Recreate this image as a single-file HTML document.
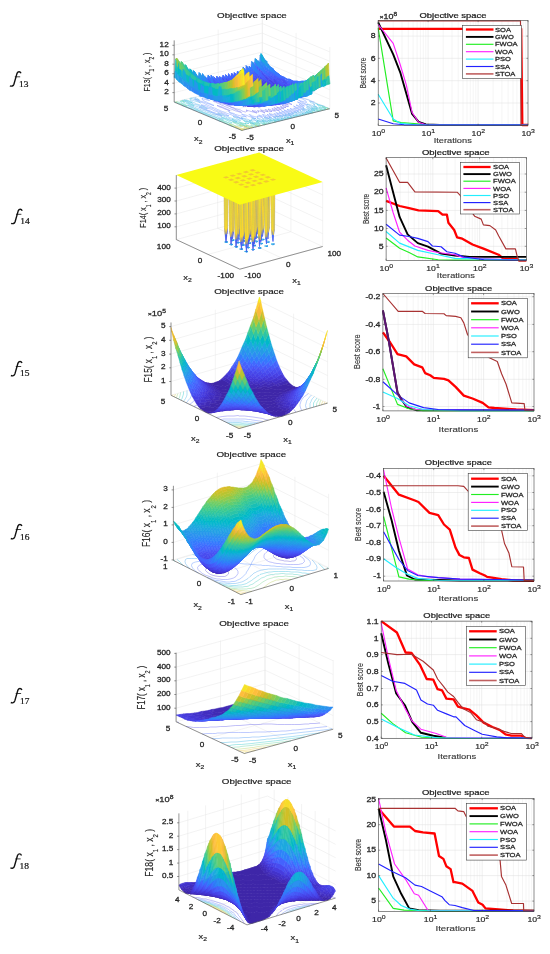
<!DOCTYPE html>
<html><head><meta charset="utf-8"><style>
html,body{margin:0;padding:0;background:#fff;width:550px;height:954px;overflow:hidden}
svg{display:block;filter:blur(0.3px)}
text{font-family:"Liberation Sans",sans-serif}
.serif{font-family:"Liberation Serif",serif}
.p0{fill:#3e26a8;stroke:#3e26a8}.p1{fill:#402ab4;stroke:#402ab4}.p2{fill:#422ec0;stroke:#422ec0}.p3{fill:#4332cb;stroke:#4332cb}.p4{fill:#4537d5;stroke:#4537d5}.p5{fill:#463cde;stroke:#463cde}.p6{fill:#4741e5;stroke:#4741e5}.p7{fill:#4747eb;stroke:#4747eb}.p8{fill:#484df0;stroke:#484df0}.p9{fill:#4852f4;stroke:#4852f4}.p10{fill:#4758f8;stroke:#4758f8}.p11{fill:#465efb;stroke:#465efb}.p12{fill:#4563fd;stroke:#4563fd}.p13{fill:#4269fe;stroke:#4269fe}.p14{fill:#3e70ff;stroke:#3e70ff}.p15{fill:#3876fe;stroke:#3876fe}.p16{fill:#327cfc;stroke:#327cfc}.p17{fill:#2f81fa;stroke:#2f81fa}.p18{fill:#2e87f8;stroke:#2e87f8}.p19{fill:#2d8cf3;stroke:#2d8cf3}.p20{fill:#2b91ef;stroke:#2b91ef}.p21{fill:#2797eb;stroke:#2797eb}.p22{fill:#259be7;stroke:#259be7}.p23{fill:#23a0e5;stroke:#23a0e5}.p24{fill:#20a5e3;stroke:#20a5e3}.p25{fill:#1ca9df;stroke:#1ca9df}.p26{fill:#18addb;stroke:#18addb}.p27{fill:#12b1d6;stroke:#12b1d6}.p28{fill:#08b5d0;stroke:#08b5d0}.p29{fill:#01b8ca;stroke:#01b8ca}.p30{fill:#02bac3;stroke:#02bac3}.p31{fill:#0bbdbd;stroke:#0bbdbd}.p32{fill:#19bfb6;stroke:#19bfb6}.p33{fill:#24c1ae;stroke:#24c1ae}.p34{fill:#2cc4a7;stroke:#2cc4a7}.p35{fill:#31c69f;stroke:#31c69f}.p36{fill:#37c897;stroke:#37c897}.p37{fill:#3fca8e;stroke:#3fca8e}.p38{fill:#4acb84;stroke:#4acb84}.p39{fill:#57cc7a;stroke:#57cc7a}.p40{fill:#64cd6f;stroke:#64cd6f}.p41{fill:#72cd64;stroke:#72cd64}.p42{fill:#81cc59;stroke:#81cc59}.p43{fill:#8fcb4e;stroke:#8fcb4e}.p44{fill:#9dc943;stroke:#9dc943}.p45{fill:#abc739;stroke:#abc739}.p46{fill:#b9c431;stroke:#b9c431}.p47{fill:#c5c22a;stroke:#c5c22a}.p48{fill:#d1bf27;stroke:#d1bf27}.p49{fill:#dcbd29;stroke:#dcbd29}.p50{fill:#e6bb2d;stroke:#e6bb2d}.p51{fill:#f0ba36;stroke:#f0ba36}.p52{fill:#f8ba3d;stroke:#f8ba3d}.p53{fill:#febe3c;stroke:#febe3c}.p54{fill:#fec338;stroke:#fec338}.p55{fill:#fec934;stroke:#fec934}.p56{fill:#fccf30;stroke:#fccf30}.p57{fill:#fad62d;stroke:#fad62d}.p58{fill:#f7dc2a;stroke:#f7dc2a}.p59{fill:#f5e327;stroke:#f5e327}.p60{fill:#f5e924;stroke:#f5e924}.p61{fill:#f6ef20;stroke:#f6ef20}.p62{fill:#f7f51b;stroke:#f7f51b}.p63{fill:#f9fb15;stroke:#f9fb15}
</style></head><body>
<svg width="550" height="954" viewBox="0 0 550 954">
<rect width="550" height="954" fill="#fff"/>
<g transform="translate(0 0)" fill="none" stroke="#111">
<path d="M21 73.3C20.2 71.3 18 71.1 17 73.4L13.9 84.2C13.3 86.1 11.6 86.6 9.9 85.8" stroke-width="1.4"/>
<path d="M14.8 76.8H20.2" stroke-width="0.8"/></g>
<text transform="translate(19 86.5) scale(1.1 1)" font-size="8.6" fill="#111" stroke="#111" stroke-width="0.2" class="serif" font-family="Liberation Serif">13</text>
<g transform="translate(1.2 137.5)" fill="none" stroke="#111">
<path d="M21 73.3C20.2 71.3 18 71.1 17 73.4L13.9 84.2C13.3 86.1 11.6 86.6 9.9 85.8" stroke-width="1.4"/>
<path d="M14.8 76.8H20.2" stroke-width="0.8"/></g>
<text transform="translate(20.2 224.3) scale(1.1 1)" font-size="8.6" fill="#111" stroke="#111" stroke-width="0.2" class="serif" font-family="Liberation Serif">14</text>
<g transform="translate(1 289.7)" fill="none" stroke="#111">
<path d="M21 73.3C20.2 71.3 18 71.1 17 73.4L13.9 84.2C13.3 86.1 11.6 86.6 9.9 85.8" stroke-width="1.4"/>
<path d="M14.8 76.8H20.2" stroke-width="0.8"/></g>
<text transform="translate(20 376) scale(1.1 1)" font-size="8.6" fill="#111" stroke="#111" stroke-width="0.2" class="serif" font-family="Liberation Serif">15</text>
<g transform="translate(0.9 452.7)" fill="none" stroke="#111">
<path d="M21 73.3C20.2 71.3 18 71.1 17 73.4L13.9 84.2C13.3 86.1 11.6 86.6 9.9 85.8" stroke-width="1.4"/>
<path d="M14.8 76.8H20.2" stroke-width="0.8"/></g>
<text transform="translate(19.9 539.5) scale(1.1 1)" font-size="8.6" fill="#111" stroke="#111" stroke-width="0.2" class="serif" font-family="Liberation Serif">16</text>
<g transform="translate(0.9 616.7)" fill="none" stroke="#111">
<path d="M21 73.3C20.2 71.3 18 71.1 17 73.4L13.9 84.2C13.3 86.1 11.6 86.6 9.9 85.8" stroke-width="1.4"/>
<path d="M14.8 76.8H20.2" stroke-width="0.8"/></g>
<text transform="translate(19.9 703.6) scale(1.1 1)" font-size="8.6" fill="#111" stroke="#111" stroke-width="0.2" class="serif" font-family="Liberation Serif">17</text>
<g transform="translate(0.5 782.1)" fill="none" stroke="#111">
<path d="M21 73.3C20.2 71.3 18 71.1 17 73.4L13.9 84.2C13.3 86.1 11.6 86.6 9.9 85.8" stroke-width="1.4"/>
<path d="M14.8 76.8H20.2" stroke-width="0.8"/></g>
<text transform="translate(19.5 869.3) scale(1.1 1)" font-size="8.6" fill="#111" stroke="#111" stroke-width="0.2" class="serif" font-family="Liberation Serif">18</text>
<g id="p13"><path d="M174.2 102.1L174.2 40.4" stroke="#e6e6e6" stroke-width="0.5" fill="none"/>
<path d="M218.2 91.3L218.2 29.6" stroke="#e6e6e6" stroke-width="0.5" fill="none"/>
<path d="M262.3 80.4L262.3 18.7" stroke="#e6e6e6" stroke-width="0.5" fill="none"/>
<path d="M174.2 92.6L262.3 71" stroke="#e6e6e6" stroke-width="0.5" fill="none"/>
<path d="M174.2 83.2L262.3 61.5" stroke="#e6e6e6" stroke-width="0.5" fill="none"/>
<path d="M174.2 73.7L262.3 52" stroke="#e6e6e6" stroke-width="0.5" fill="none"/>
<path d="M174.2 64.2L262.3 42.6" stroke="#e6e6e6" stroke-width="0.5" fill="none"/>
<path d="M174.2 54.8L262.3 33.1" stroke="#e6e6e6" stroke-width="0.5" fill="none"/>
<path d="M174.2 45.3L262.3 23.6" stroke="#e6e6e6" stroke-width="0.5" fill="none"/>
<path d="M329.8 108.7L329.8 47" stroke="#e6e6e6" stroke-width="0.5" fill="none"/>
<path d="M296.1 94.6L296.1 32.9" stroke="#e6e6e6" stroke-width="0.5" fill="none"/>
<path d="M262.3 80.4L262.3 18.7" stroke="#e6e6e6" stroke-width="0.5" fill="none"/>
<path d="M329.8 99.2L262.3 71" stroke="#e6e6e6" stroke-width="0.5" fill="none"/>
<path d="M329.8 89.8L262.3 61.5" stroke="#e6e6e6" stroke-width="0.5" fill="none"/>
<path d="M329.8 80.3L262.3 52" stroke="#e6e6e6" stroke-width="0.5" fill="none"/>
<path d="M329.8 70.8L262.3 42.6" stroke="#e6e6e6" stroke-width="0.5" fill="none"/>
<path d="M329.8 61.3L262.3 33.1" stroke="#e6e6e6" stroke-width="0.5" fill="none"/>
<path d="M329.8 51.9L262.3 23.6" stroke="#e6e6e6" stroke-width="0.5" fill="none"/>
<path d="M241.8 130.4L174.2 102.1" stroke="#e6e6e6" stroke-width="0.5" fill="none"/>
<path d="M285.8 119.5L218.2 91.3" stroke="#e6e6e6" stroke-width="0.5" fill="none"/>
<path d="M329.8 108.7L262.3 80.4" stroke="#e6e6e6" stroke-width="0.5" fill="none"/>
<path d="M241.8 130.4L329.8 108.7" stroke="#e6e6e6" stroke-width="0.5" fill="none"/>
<path d="M208 116.2L296.1 94.6" stroke="#e6e6e6" stroke-width="0.5" fill="none"/>
<path d="M174.2 102.1L262.3 80.4" stroke="#e6e6e6" stroke-width="0.5" fill="none"/>
<g transform="scale(.5)" fill="none" stroke-width="0.9" stroke-opacity="1.0"><path stroke="#7575f0" d="M559 222l-4-1-4-1-4-2-3-1 2 3 3 1 2 1-3 0-4-1-4-2-4-1 3 3 3 1 2 1-3 0-4-1-3-2-4-1 3 3 3 1-3 0-4-1-4-1-4-1 3 2 3 2 3 2-4-2-4-1-3-1-4-1 3 3-3 0-4-2-3 0-4-1 3 2 3 1 4 2-4-1-4-1-4-1-3-1-4-1-3-1 3 2-4 2-4-1-3-1-3-2-4-1-3-1-4-1-3-2-3 0-5-2 3 1 3 2 3 1 3 2 4 2 2 1 3 1 3 2-4-1-3-1-4-1-3-1-4-2-3-1-3-1-4-2-3-1-3-1-3-2-3-1-4-2-2-1-3-1-3-2-4-1 4 0 4 1 4 2 3 1 4 1 4 1 3 2 3 1 3 0-4-1-3-2-3-1-3-2-3-1-3-2-4-2 3-2 3 1 3 1-2-3-3-1-4-2-4-2 4 0 4 2 4 1 4 1-3-2-3-2-3-1 5 0 4 1-3-2-2-1-3-2 4 1 4 1 4 2-2-3-3-1-3-2 4 1 4 1 4 1-2-2-3-2-3-2 4 1 3 2 4 1 4 1-4-2-2-2-4-2 3 1 4 1 4 1 5 1-4-2-3-2-3-1 3 0 4 1 4 2 4 1-3-2-2-2-3-1-3-2 4 1 3 1 3 1 4 2-2-3-3-2 3 1 4 1 4 1 3 1-3-2-3-2 3 0 4 1 4 2 4 1-3-2-2-2-3-2 3 1 4 1 3 1 4 1-3-2 4 0 3 1 3 1 4 1-3-2-3-1-3-2 3 0 4 1 4 2 3 1 4 1 3 0-3-1 4-2 4 1 3 1 4 1 3 1 4 2 3 1 3 1 4 1 4 2-2-2-3-1-4-2-3-1-3-2-3-1-3-2-3-1 4 0 3 1 4 2 3 1 4 1 3 2 4 1 3 1 3 2 4 1 2 1 4 2 3 1 3 2 3 1 3 2 3 1-4-1-4-1-4-1-3-1-4-2-4-1-3-1-3-2-3 0 4 2 4 2 2 1 3 2 4 1 3 1 3 2-2 3-4-1-3-1 3 2 3 2 3 2 4 2-4-1-3-1-5-1-3-1 2 2 3 1 3 2-4-1-4-1 2 3 3 1 3 1-5 0-4-2-4-1 2 2 3 2 3 1-4 0-4-1-3-2 1 3 3 1 3 2-4-1-3-1-4-1-4-1 4 2 3 2 3 2-3-1-4-1-4-1-4-2 3 3 4 2 2 1 2 1M460 222l-3-1-4-2-3-1-3-1-3-2-4-1-3-1-3-2 3 0 3 2 4 1 3 1 3 2 3 1 3 1 4 2 0 1M584 192l-4-2-3 0-3-2-3-1-4-1-3-2-3-1-3-2 4 1 3 1 3 2 4 1 3 1 3 2 3 1 3 1 0 1"/><path stroke="#6e93ff" d="M629 204l-4-1-4-1-3-2-4-1-3-1-4-1-4-2-3-1-4-1-2-1-4-1 3 2 3 1 3 2 3 1 3 1 3 2 4 2 1 3-4-1-3-1-4-1-5-2 3 3 3 1 3 1 3 2 3 1 3 2-3 0-4-2-3-1-4-1-3-1-3-1 3 2 3 1 2 2 3 1 3 2-3-1-4-1-4-1 4 3 3 1 3 2-4-1-4-1-4-2-4-1 3 2 3 2 3 1 3 2 3 1 2 2-4-1-3-2-4-1-3-1-4-1-4-2 3 2 3 2 3 1 3 2 3 1-3 0-4-2-4-1-4-1 2 2 3 2 3 1 3 1-3 0-4-1-4-2-3-1-4-1 3 2 3 2 3 1 2 1 3 2-3-1-4-1-3-1-4-2-3-1-3 0 3 2 3 1 3 1 2 2 3 1-3 0-4-2-3-1-4-1-3-1-3-1 3 2 3 1 3 2 3 1 3 2 2 1-3-1-4-1-4-2-3-1-4-1-4-1 3 2 3 1 3 2 3 1 3 2 3 1-4-1-4-1-3-2-4-1-4-1-4-1 3 2 3 1 3 2 3 1 3 2-3-1-4-1-3-2-4-1-4-1-3-1 2 2 3 1 3 2 3 1 3 2-3-1-4-1-3-2-4-1-4-1 2 2 3 2 3 1 3 1-3 0-4-1-3-2-4-1-4-1-3-1 3 2 2 1 3 2 3 1 3 2-3-1-4-1-3-2-4-1-4-1 3 2 2 2 4 2-3-1-4-1-3-2-4-1-4-1 3 2 2 2 3 1 3 2 3 1-4-1-3-1-4-2-4-1-3-1-4-1 2 2 3 1 3 2-4-1-4-1-3-1 2 3-3-1-4-1-4-1-3-2-4-1 2 2 3 2 3 1 3 2 3 1-4 0-3-2-3-1-4-1-4-2-3-1-4-1-4-1 3 2 4 2 3 2-3-1-4 0-4-1-4-1-3-1-4-1-3-2-4-1-3-1-4-2 3 3 3 1 3 1 3 2 3 1 3 2 3 1 2 2 4 1 2 1-3-1-4-1-3-1-4-2-3-1-4-1-3-2-4-1-3-1-3-1-4-2-3-1-3-1-4-2-3-1-3-2-3-1-4-1-3-2-3-1-3-1-3-2-3-1-3-2-3-1-3-1-3-2-3-1-3-2-3-1 4 1 3 1 4 2 4 1 3 1 3 1 4 2 4 1 3 1 3 1 4 1-3-1-3-2-3-1-3-1-3-2-3-1-3-2-2-1-1-4 3 2 4 1 3 1 5 1-3-2-3-1-3-2-3-1-3-2-3-1-1-1M402 191l4 1 3 2 4 1 3 1 3 1-2-2-3-2-3-1-3-2-1 0M408 190l4 1 4 1-2-2-2-1M414 188l3 1 4 2 3 0-3-2-3-1-1-1M421 186l3 2 4 1-3-2-2-1M427 185l3 1-1-2M432 184l4 1-2-2M439 182l3 1-2-1M445 180l3 1-2-1M451 179l3 1-2-1M457 178l0-1M462 176l1 0M468 175l2-1M474 173l4 1-2-1M480 172l4 1-3-2M485 171l3 1 3 1-2-3-1 0M491 169l3 1 4 2 3 1-2-2-3-2-2-1M496 168l4 1 4 1-3-3-1 0M501 167l4 1 3 1 4 1 4 2 3 1-2-2-3-2-3-1-3-2-2-1M508 165l3 1 4 2 3 1 4 1 3 1 4 2 4 1-3-2-3-2-4-2 3 0 4 1 4 0 4 2 4 1 3 1 3 1 4 2 4 1 3 1-3-2-3-1-3-2-3-1-3-2-3-1-2-2-3-1-3-1-3-2-2 0M458 232l-4-1-4-1-3-1-3-2-4-1-3-1-3-2-4-1-3-1-3-2-3-1-4-1-3-2-3-1-3-1-3-2-3-1 3 0 4 1 4 1 3 2 3 1 4 1 3 1 3 2 3 1 4 2 3 1 3 1 3 2 3 1 3 1 3 2 3 1 1 1M444 232l-3-1-3-1-4-1-3-1-3-2-4-1-3-1-3-2-3-1-3-1-4-2-3-1-3-2-4-1 3 0 4 1 3 2 3 1 4 2 3 1 3 1 4 2 3 1 3 1 3 2 3 1 3 1 4 2"/><path stroke="#5cb4ed" d="M554 243l-4-1-3-1-4-1-4-2-3-1-4-1-4-1 4 2 2 1 3 2 3 1 3 1-3 0-4-1-4-2-3-1-4-1 3 2 2 2 3 1 3 1-4-1-3-1-4-1-4-2-3-1-4-1 3 2 3 2 3 1 3 2 3 1-4-1-4-1-3-1-4-1-3-2-4-1-4-1 3 2 3 1 2 2 3 1 3 2-3-1-4-2-4-1-4-1 2 2-4 0-3-2-4-1-3-1-4-1-4-1 4 2 2 1 3 1 3 2 3 1 3 2 3 1 3 2 3 1-4-1-3-2-3-1-4-1-4-1-3-2-4-1-3-1-3-2-4-1-4-1-4-1 3 1 2 2 3 1 3 2 4 2-4-1-3 0-3-1-3-1-3-1-3-1-4-1-3-2-4-1-3-1-3-2-4-1-3-1-3-1 2 2 4 1 2 1 4 2 3 1 2 2 3 1 4 1 3 2 3 1 3 2 3 1 3 1-4 0-3-1-4-2-3-1-3-1-4-2-3-1-4-1-3-2-4-1-3-1-3-2-4-1-3-1-3-2-3-1-4-1-3-2-3-1-3-1-4-2-3-1-3-2-3-1-3-1-3-2-3-1-3-1-3-2-3-1-3-2-4-1-3-1 0-1M559 242l-3-1-3-2-4-1-4-1-3-1-4-2 3 3 3 1 3 1 2 2 3 1 2 1M565 241l-3-2-4-1-3-1-4-1-4-2 3 3 3 1 2 1 3 2 2 1M571 239l-4-1-3-1-4-2-3-1-3-1-3 0 3 1 2 2 3 1 3 1 3 2 1 0M577 238l-4-1-3-2-4-1-3-1-4-2 2 3 3 1 3 2 3 1 2 1M583 236l-4-1-4-1-3-1-4-2-3-1 2 2 3 2 3 1 3 1 2 1M588 235l-3-1-4-2-3-1-4-1-4-1 3 2 3 1 3 2 3 1 2 1M594 233l-3-1-4-1-3-1-4-2-4-1 3 2 3 2 3 1 3 2 2 1M600 232l-3-1-4-2-3-1-3-1-4-1 3 2 3 2 3 1 3 2 1 0M606 231l-3-2-4-1-3-1-4-2-4-1 3 2 3 2 3 1 3 2 2 1M612 229l-3-1-4-1-4-2-3-1-4-1 3 2 3 1 3 2 3 1 2 1M618 228l-3-2-4-1-4-1-3-1-4-2 2 3 3 1 3 1 3 2 2 1M624 226l-3-1-4-1-4-2-3-1-4-1-3-1 2 2 3 1 3 2 3 1 3 1 2 1M651 214l-3-2-4-1-4-1-3-1-4-2-3-1-4-1-3-2-4-1 2 3 3 1 3 1 3 2-3 0 3 3 2 1 3 2-3-2-4-1-3-1-3-1-4-1-4-1 3 2 3 1 3 2 3 1 3 2 3 1 3 1-4 0-3-1-4-2-3-1-4-1-4-1 3 2 3 1 3 2 3 1 3 2 2 1-3-1-4-2-3-1-4-1-3-1 3 2 3 2 3 1 3 2-3 0-3-2-4-1-4-1-3-1-3-1 2 1 3 2 3 1 3 2 3 1 3 2 3 1M442 243l1 1M364 211l3 1 3 1 4 2 3 1 4 1 3 1 3 2 4 1 3 1 3 2 4 1 3 1 3 2 3 1 4 2 3 1 3 1 3 2 3 1 3 1 3 2 3 1 3 2 3 1M362 210l1 0M367 200l3 1 4 1 3 2 3 1 4 1 3 2 4 1 3 1 4 1 3 2 4 1 3 1 4 2 3 0-3-1-3-2-3-1-3-1-3-2-3-1-4-1-3-2-3-1-3-2-2-1-2-3 4 1 2 1 4 1 3 1 4 1 4 2-3-2-3-2-3-1-3-2-3-1-3-2-1 0M385 195l4 1 3 2 4 1 3 1-3-2-3-2-3-1-1-1M397 192l4 2-2-2M503 166l1 0M509 165l4 1-2-2M519 162l4 1 3 2 4 1 4 1-3-2-3-1-3-2-2-1M447 240l-4-2-4-1-3-1-4-1-3-2-3-1-4-1-3-2-3-1-3-1-4-2-3-1-3-2-3-1-4-1-3-2-3-1-3-1-3-2-3-1-3-2-3-1 4 0 3 2 4 1 3 1 4 2 3 1 3 1 4 2 3 1 3 1 3 2 4 1 3 1 3 2 3 1 3 1 4 2 3 1 3 2 3 1 3 1 3 3"/><path stroke="#40cad7" d="M518 252l-3-1-4-1-3-2-4-1-3-1-4-2-3-1-4-1-3-1 2 2 3 1 3 2 3 1-4 0-4-1 2 2-3-1-4-1-3-1-4-2-3-1-4-1-3-1-4-2 3 2 3 2 3 1 3 2 3 1 3 1 3 2 3 1 3 2 3 1-3 0-4-2-3-1-3-1-4-2-3-1-4-1-3-2-3-1-3-1-4-1-3-1-4-2-3-1-4-1 3 2 3 1 3 2 3 1 3 2 3 1 3 2-5 0-3-1-4-2-3-1-4-1-3-2-3-1-4-1-3-2-3-1-4-1-3-2-3-1-3-1-4-2-3-1-3-1-3-2-4-1-3-2-3-1-3-1-3-2-4-1-3-1-3-2-3-1-3-2-3-1-3-1-3-2-2-2 4 0 3 2 4 1 3 1 4 1 3 2 4 1 3 1-3-2-3-1-3-2-3-1-3-1-2-2-4-1-3-2M530 249l-4-1-3-1-4-1-4-2-3 0 3 1 3 2 2 1-3 0-4-2-3-1-4-1-3-2-5-1 4 2 2 2 3 1 3 2 3 1 3 2 3 1M535 248l-3-1-4-2-3-1-4-1-4-1-3-1 3 1 3 2 3 1 3 2 3 1 2 1M541 247l-3-2-4-1-3-1-4-2-3-1 2 2 4 2 3 1 3 2 2 0M547 245l-4-1-3-1-4-2 3 3 2 1 2 1M552 244l-3-2-4-1-3-1-3-1 3 2 2 1 3 2 2 1M558 242l-3-1-4-1-4-1 4 2 3 1 2 1M564 241l-3-1-3-1-4-1 4 2 3 1 1 1M570 239l-4-1-4-1 3 2 2 1M576 238l-4-1-3-2 2 3 2 1M581 237l-3-2-4-1 3 2 2 1M587 235l-3-1-4-1 3 2 2 1M593 234l-3-2-4-1 3 2 2 1M599 232l-4-1-4-1 3 1 3 2M605 231l-3-1-3-1 3 2 1 0M611 229l-3-1-4-1 3 2 2 1M617 228l-4-1-3-2 2 3 2 1M623 226l-4-1-3-1-4-1 3 2 3 1 2 1M629 225l-3-1-3-1-4-1-3-2 2 2 3 1 3 2 2 1M635 223l-4-1-3-1-3-1-3-1 3 2 3 1 3 2 1 0M641 222l-4-1-3-2-4-1-3-1-4-1 2 1 3 2 3 1 3 2 3 1M648 220l-4-1-3-1-3-1-3-1-4-2-4-1 3 2 3 2 3 1 3 2 3 1 1 0M659 218l-3-2-4-1-3-1-4-2-3-1-4-1-4-1-2-2 2 2 3 2 3 1 3 2 3 1 3 1 3 2-3-1-4-1-4-1-4-1 3 2 3 1 3 2 3 1M349 204l4 1 3 2 4 1 3 1 3 2 4 1 3 1 4 2 3 1 3 1 4 2 3 1 3 1 4 1 3 2 3 1 4 2 3 1 3 1 3 2 3 1 3 1 3 2 4 1 3 2 3 1 3 1 3 2 3 1 3 2 3 1 3 1 3 2 3 1 3 2 3 1 2 1M368 199l3 2 4 1 4 1 3 2 3 1-3-2-3-2-3-1-3-1-2-1M379 197l4 0-2-1"/><path stroke="#69d6b1" d="M500 257l-3-2-4-1-3-1-3-2-4-1-3-1-4-2-3-1-4-1-4-1 3 2 3 1 3 2 3 1 3 2 3 1-3-1-3 0-4 0-4-1-3-2-4-1-3-1-4-2-3-1-4-1-3-2-3-1-4-1 4 2 3 2 3 1 3 2 3 1 3 2 3 1 3 1 4 2 3 1 3 2 3 1 3 1 3 2 2 1M507 255l-3-1-4-2-3-1-4-1-3-2-4-1-4-1-3-1 3 2 3 1 3 2 3 1 3 1 3 2 3 1 2 1M512 254l-4-1-4-2-3-1 2 2 3 2 2 1M517 252l-3-1-4-1-3-1-4-2-3-1 2 2 3 2 3 1 3 1 2 1M524 251l-4-1-3-2-4-1-4-1 2 1 3 2 3 1 3 2M529 250l-4-2 2 2M534 248l-3-1-4-1 3 2 2 1M540 247l-3-2 1 2M546 245l-1 1M551 244l-3-1 3 1M622 227l-1 0M628 225l-4-1 3 1M640 222l-4-1-3-1 3 2 2 1M646 221l-3-2-4-1 3 2 2 1M652 219l-4-1 2 2M658 218l-3-2-4-1-3-1-4-1 3 2 3 1 3 2 2 1M350 204l4 1 3 1 4 2 3 1 3 1 3 1 4 1-3-1-3-2-3-1-3-1-3-2-3-1-2-1M361 201l4 1 4 2-4-2-2-1"/><path stroke="#b6d672" d="M494 258l-4-1-3-1 3 3-5-2-3-1-3-1-3-1-4-1-3-2-3-1-4-1-3-2 2 3 3 1 3 2 3 1 3 1 4 2 3 1 3 2 2 0M500 257l-4-2-3-1-3-1-3-1-4-1-4-1 4 2 3 1 2 2 3 1 3 1 1 1M506 255l-3-1-4-1-4-2-3-1 3 2 3 2 3 1 2 1M517 253l-4-2-3-1 2 2 2 1M522 251l-3-1 2 1M657 218l-3-1 2 1M351 204l3 0-1-1"/><path stroke="#f3cb68" d="M489 259l-4-1-3-1-4-1-3-2-5-1 3 2 3 1 3 2 3 1 3 1M499 257l-4-1-3-2-4-1 3 2 3 1 3 2M505 255l-3-1 2 2"/><path stroke="#f9e55f" d="M488 260l-3-2-4 0 4 2 1 0"/></g>
<g transform="scale(.5)" stroke-width="1.0"><path class="p4" d="M517 174l2-4-3-3-2 4zM514 171l2-4-4-2-1 4zM500 172l1-3-3-3-2 4zM511 169l1-4-3-3-1 5zM491 173l1-6-3-4-1 6z"/><path class="p5" d="M544 170l1-1-3-2-1 1zM528 170l1-1 2 0-4-4-1 1-2 1zM519 170l1-4-3-4-1 5zM509 171l1-4-3-2-2 4zM504 169l1 0 2-4-4-3-1 5-1 0zM495 169l1 1 2-4-3-4-2 5-1-2zM508 167l1-5-3-4-2 5zM482 170l1-6-3-4-1 7zM486 170l2-1 1-6-3-4-2 7-1 1zM477 169l2-2-4-2-1 2zM468 169l2-4-3-3-2 4z"/><path class="p6" d="M560 168l2-4-3-2-2 4zM545 169l2-5-3-3-2 6zM535 168l2-4-4-2-1 5zM541 168l1-1 2-6-4-2-1 7-1 1zM526 169l2 1-4-3-1 0zM531 169l1-2 1-5-3-2-1 4-2 1zM538 167l1-1 1-7-3-3-1 7-2 1zM523 167l1 0 2-1 1-1 2-1-4-3-1 1-1 0-2 2-1 0zM534 164l2-1-4-3-1 1zM513 169l1 2-3-2-1-3zM516 167l1-5-3-3-2 6zM501 169l1-2 2 2-3-2-2-3-1 2zM510 166l1 3-3-2-2-3zM512 165l2-6-4-3-1 6zM501 167l1 0 1-5-3-4-1 6-2-1zM493 167l2-5-4-4-1 6zM504 163l2-5-3-3-2 6zM473 168l1-6-3-4-1 7zM479 167l1-7-3-3-2 8zM483 167l1-1 2-7-4-3-1 8-1 1zM490 164l1-6-3-3-1 7zM474 167l1-2-3-4-1 3zM480 165l1-1 1-8-3-5-1 10-2 0zM459 168l2-6-3-5-2 7zM465 166l2-4-4-5-1 5z"/><path class="p7" d="M556 166l1 0 2-4-4-3-1 4-1 0zM520 166l2-1-4-4-1 1zM529 164l1-4-3-3-2 4zM536 163l1-7-3-3-2 7zM510 167l1-2 2 4-3-3-2-3-1 2zM520 164l1 0 2-2-4-2-1 2-1 0zM531 161l1-1 2-7-3-3-2 8-1 1zM507 165l1-2-3-4-2 3zM517 162l1 0 1-2-3-4-1 3-2 1zM528 159l1-1-3-2-1 1zM492 167l2-2 1 4-3-4-2-4-1 2zM498 166l1-2 2 3-4-4-1-3-1 2zM506 164l2 3-4-4-1-3zM509 162l1-6-3-5-1 7zM492 165l1 2-3-3-1-2zM497 163l2 1 1-6-3-4-1 7-2-1zM489 162l1 2-3-2-2-2zM496 161l1-7-3-3-2 8zM501 161l2-6-4-3-1 7zM470 165l1-7-3-4-1 8zM475 165l2-8-3-5-2 9zM487 162l1-7-3-4-2 7zM498 159l1-7-3-4-1 7zM471 164l1-3-3-4-1 3zM476 161l2 0 1-10-3-5-1 11-2 0zM451 165l1-8-2-2-2 9zM456 164l2-7-3-1-1 7zM462 162l1-5-2-1-1 5z"/><path class="p8" d="M547 164l1-6-3-2-1 5zM553 163l1 0 1-4-3-2-1 4-2 0zM537 164l1-2-3-2-2 2zM539 164l2 4-3-1-2-5zM549 161l2 0 1-4-3-1-2 3-1 0zM533 162l2-2-4-3-1 3zM536 162l2 5-4-3-1-5zM546 159l1 0 2-3-3-3-2 2-1 1zM522 165l1 2-3-3-2-3zM517 162l1-1-3-2-1 0zM523 162l1 0 1-1 2-4-3-2-2 4-1 0-2 1zM508 163l2 3-4-2-1-5zM519 160l2-1 1 0 2-4-4-3-1 5-1-1-2 0zM529 158l2-8-4-3-1 9zM503 162l2-3-3-4-2 3zM513 160l2-1 1-3-3-4-2 3-1 1zM525 157l1-1 1-9-3-5-1 10-2 1zM483 164l2 1 1 5-3-3-2-6-1-1zM489 163l1-2-3-4-1 2zM495 162l1-2-3-5-2 3zM503 160l1 3-3-2-1-5zM476 164l1 5-3-2-1-6zM494 160l2 1-4-2-1-2zM464 166l2-6-4-5-1 7zM467 164l1 5-3-3-1-7zM485 160l2 2-4-4-1-2zM492 159l2-8-4-4-1 9zM467 162l1-8-3-6-2 9zM472 161l2-9-4-5-1 10zM483 158l2-7-3-5-2 9zM495 155l1-7-3-4-2 8zM468 160l1-3-2-2-2 4z"/><path class="p9" d="M571 162l1 2-3 0-2-3zM562 164l1-7-3-2-1 7zM567 161l2 3-3-2-2-3zM554 163l2 3-3-3-2-3zM559 162l1-7-3-2-2 6zM555 159l2-6-4-2-1 6zM538 162l1 2-3-2-1-2zM544 161l1-5-3-2-2 5zM535 160l1 2-3-3-2-2zM540 159l2-5-3-3-2 5zM530 160l1-3-3-4-1 4zM533 159l1 5-3-3-1-5zM543 156l1-1 2-2-4-3-1 2-1 0zM518 161l2 3-3-2-2-3zM514 159l1 0 2 3-4-2-1-4-2 0zM505 159l1 5-3-4-1-5zM516 156l2 0 1 1 1-5-3-3-1 4-2-1-1 0zM490 161l2 4-3-3-2-5zM496 160l1 3-3-3-1-5zM500 158l2-3-4-4-1 3zM506 158l1-7-3-4-1 8zM510 156l1-1 2-3-3-4-2 4-1 2zM521 153l2-1 1-10-3-3-1 10-2 1zM474 162l2 2-3-3-2-3zM481 161l2 6-3-2-2-8zM491 158l2-3-4-3-1 3zM500 156l1 5-3-2-1-6zM473 161l1 6-3-3-2-8zM491 157l1 2-3-3-1-3zM458 162l1 6-3-4-1-6zM461 162l1-7-3-5-1 7zM482 156l1 2-3-3-1-3zM489 156l1-9-3-5-1 10zM469 157l1-10-2-2-1 10zM473 157l2 0 1-11-2-2-2 11-1 1zM480 155l2-9-3-2-1 9zM491 152l2-8-2-2-2 9z"/><path class="p10" d="M552 161l1-1-3-3-2 1zM564 159l2 3-4-3-1-3zM551 160l2 3-4-2-1-3zM561 156l1 3-3-1-1-4zM548 158l1 3-3-2-1-2zM552 157l1-6-3-2-1 7zM545 157l1 2-3-3-2-2zM549 156l1-7-3-2-1 6zM537 156l2-5-4-4-1 6zM541 154l2 2-3-4-2-1zM527 157l1-4-3-3-1 5zM530 156l1 5-3-2-2-6zM524 155l1-5-3-3-2 5zM510 156l2 0 1 4-3-4-1-4-2-1zM516 153l1-4-3-4-2 6zM480 160l1 1-3-4-1 0zM486 159l1-2 2 5-4-2-1-6-2 2zM493 155l1 5-3-3-2-5zM503 155l1-8-3-4-2 9zM507 154l1-2 2-4-4-4-1 6-1 2zM512 151l2-6-3-2-2 5zM518 150l2-1 1-10-3-4-2 12-1 1zM478 157l2 8-4-4-1-8zM488 155l1-3-3-5-1 4zM497 153l1 6-3-4-2-6zM499 152l2-9-3-4-2 9zM504 152l1-2-3-4-2 2zM515 148l1-1-3-3-1 1zM455 162l2-6-4-5-1 6zM464 159l1 7-3-4-2-7zM488 153l1 3-3-4-2-3zM449 161l2 4-3-1-1-5zM463 157l2-9-2-2-2 10zM479 152l1 3-2-2-1-2zM486 152l1-10-2-1-1 10z"/><path class="p11" d="M553 160l1 3-3-3-1-3zM548 158l2-1 1 3-3-2-2-3-1 1zM545 156l1-1 2 3-3-1-2-3-1 0zM558 154l1 4-3-2-2-4zM554 152l2 4-3-2-2-5zM531 157l2 2-3-3-2-3zM546 153l1-6-3-3-2 6zM534 153l1-6-3-3-1 6zM538 151l2 1 1 0 1-2-3-3-1 2-2 1-1 0zM526 153l2 6-3-2-2-7zM536 150l2-1 1-2-3-2-2 1-1 1zM520 152l2-5-3-4-2 6zM502 155l1 5-3-4-2-5zM509 152l1 4-3-2-2-5zM513 152l1 0 2 1-4-2-1-3-1 0zM497 154l1-3-3-4-1 4zM466 160l1 4-3-5-2-4zM471 158l2 3-4-5-1-2zM477 157l1 0-3-4-1-1zM482 156l2-2 1 6-3-4-1-7-2 2zM494 151l1-4-3-5-2 5zM505 150l1-6-3-5-1 7zM509 148l2-5-4-4-1 6zM516 147l2-12-4-4-1 13zM469 156l2 8-3-4-2-9zM493 149l2 6-4-3-1-7zM500 148l2-2-3-4-2 3zM512 145l1-1-3-4-2 1zM455 158l1 6-2-1-1-7zM458 157l1-7-2-3-2 9zM484 149l2 3-2-1-2-3z"/><path class="p12" d="M563 157l2-4-4-2-1 4zM560 155l1-4-3-3-1 5zM542 154l1 0 2 3-4-3-1-3-1 0zM540 151l1 3-3-3-1-3zM551 149l2 5-4-3-1-5zM528 153l2 3-4-3-1-3zM542 150l2-6-3-2-2 5zM525 150l1 3-3-3-1-3zM531 150l1-6-3-3-2 6zM535 150l1 0-3-3-1 0zM539 147l2-5-4-2-1 5zM523 150l2 7-4-4-1-8zM532 147l1 0 1-1 2-1-3-4-2 0-1 2-2 1zM507 151l2 1-4-3-1-2zM517 149l2-6-4-4-1 6zM498 151l2 5-3-3-2-6zM505 149l2 5-3-2-2-6zM510 148l1 0 1 3-3-3-1-3-2-1zM489 152l2 5-3-4-2-6zM457 156l1 6-3-4-2-7zM462 155l2 4-4-4-1-5zM468 154l1 2-3-5-1-3zM474 152l1 1 1 8-3-4-1-9-2-1zM479 151l2-2-4-5-1 2zM485 151l1-4-3-5-1 4zM496 148l2-9-4-6-1 11zM502 146l1-7-3-5-1 8zM506 145l1-6-3-4-1 6zM513 144l1-13-3-5-1 14zM452 157l1-6-2-2-1 6zM460 155l2 7-2-1-2-8zM497 145l2-3-3-2-1 3z"/><path class="p13" d="M569 156l2 6-4-1-1-6zM566 155l1 6-3-2-1-6zM563 153l1 6-3-3-1-6zM557 153l1-5-3-2-2 5zM553 151l2-5-3-2-2 5zM550 149l2-5-4-3-1 6zM539 151l1 0-3-3-2-1zM537 148l1 3-3-1-2-4zM548 146l1 5-3-2-1-5zM545 144l1 5-3-2-2-6zM522 147l1 3-3-5-1-2zM527 147l2-6-3-5-2 6zM536 145l1-5-3-3-1 4zM520 145l1 8-3-3-1-8zM528 144l2-1 1-2-3-4-1 2-2 2zM504 147l1 2-3-3-1-3zM514 145l1-6-3-4-1 8zM495 147l2 6-4-4-1-7zM502 146l2 6-4-4-1-7zM506 144l2 1 1 3-3-3-1-4-2-2zM481 149l1 7-3-4-2-8zM486 147l2 6-4-4-1-7zM490 147l2-5-3-5-2 5zM466 151l2 9-3-1-1-10zM490 145l1 7-2-1-1-8zM493 144l1-11-2-2-1 11zM503 141l1-6-2-1-1 6zM508 141l2-1 1-14-2-2-1 15-2 0z"/><path class="p14" d="M565 153l1 2-3-2-2-2zM561 151l2 2-3-3-2-2zM560 150l1 6-3-2-2-6zM556 148l2 6-4-2-1-7zM547 147l1-6-3-3-1 6zM535 147l2 1-4-2-1-2zM544 144l1-6-3-3-1 7zM533 146l2 4-3-3-2-4zM530 143l2 4-4-3-1-4zM541 141l2 6-3-4-2-6zM524 142l2-6-4-3-1 6zM531 141l2 0 1-4-3-3-2 4-1-1zM525 141l2-2-4-3-1 3zM511 143l1-8-3-5-2 9zM522 139l1-3-3-5-1 5zM505 141l1 4-3-4-2-5zM448 153l1 8-2-2-1-9zM453 151l2 7-2-2-2-7zM459 150l1 5-2-2-1-6zM465 148l1 3-2-2-1-3zM470 147l2 1 1 9-2-1-1-10-2-1zM476 146l1-2-2-2-1 2zM482 146l1-4-2-2-2 4zM499 142l1-8-2-2-2 8z"/><path class="p15" d="M558 148l2 2-4-2-1-2zM555 146l1 2-3-3-1-1zM553 145l1 7-3-3-1-7zM532 144l1 2-3-3-1-2zM541 142l1-7-3-3-2 8zM537 140l2-8-4-4-1 9zM519 143l1 2-3-3-2-3zM527 140l1 4-3-3-1-4zM538 137l2 6-4-2-1-7zM517 142l1 8-3-2-2-10zM527 139l1-2 1 1 2-4-3-2-2 3-1-1-2 2zM501 143l1 3-3-5-1-2zM492 142l1 7-3-4-1-8zM499 141l1 7-3-3-1-8zM503 139l2 2-4-5-1-2zM507 139l2-9-3-5-2 10zM519 136l1-5-3-4-2 5zM477 144l2 8-2-1-2-9zM483 142l1 7-2-1-1-8zM487 142l2-5-3-3-1 7z"/><path class="p16" d="M552 144l1 1-3-3-2-1zM548 141l2 1 1 7-3-3-1-8-2 0zM529 141l1 2-3-3-1-4zM534 137l1-9-3-3-1 9zM515 139l2 3-4-4-1-3zM521 139l1-6-3-4-1 6zM524 137l1 4-3-2-2-5zM535 134l1 7-3-2-1-8zM513 138l2 10-3-3-2-11zM523 136l2-2-4-5-1 2zM526 135l2-3-4-4-1 4zM498 139l1 2-3-4-2-4zM496 137l1 8-2-2-1-8zM501 136l2 5-2-1-2-6zM504 135l2-10-3-2-1 11z"/><path class="p17" d="M547 138l1 8-3-2-2-9zM526 136l1 4-3-3-2-4zM531 134l1-9-3-3-1 10zM512 135l1 3-3-4-1-4zM518 135l1-6-3-5-2 7zM520 134l2 5-3-3-2-5zM525 134l1 1-3-3-2-3zM528 132l1-10-3-4-2 10zM532 131l1 8-3-4-1-8zM510 134l2 11-4-4-1-12zM520 131l1-2-3-5-1 3zM523 132l1-4-3-3-1 2zM489 137l1 8-2-2-2-9zM500 134l1 2-2-2-1-2zM515 132l2-5-2-2-2 6z"/><path class="p18" d="M545 138l2 0-4-3-1 0zM542 135l1 0 2 9-4-3-1-9-1 0zM514 131l2-7-3-5-2 7zM517 131l2 5-4-4-1-5zM521 129l2 3-3-5-2-3zM524 128l2-10-4-5-1 12zM529 127l1 8-3-3-2-9zM494 133l2 4-2-2-2-4zM520 127l1-2-2-1-2 2z"/><path class="p19" d="M539 132l1 0 1 9-3-4-1-9-2 0zM522 133l2 4-4-3-1-5zM509 130l1 4-3-5-1-4zM507 129l1 12-2-2-1-12zM514 127l1 5-2-1-1-6zM517 127l1-3-2-3-1 4zM521 125l1-12-2-2-1 13z"/><path class="p20" d="M535 128l2 0 1 9-3-3-1-11-2 2zM519 129l1 5-3-3-1-7zM511 126l2-7-3-2-1 7zM518 124l2 3-3-1-1-5zM525 123l2 9-2-1-2-10z"/><path class="p21" d="M532 125l2-2-4-3-1 2zM516 124l1 7-3-4-1-8zM506 125l1 4-2-2-2-4z"/><path class="p22" d="M534 123l1 11-3-3-2-11zM529 122l1-2-3-5-1 3z"/><path class="p23" d="M530 120l2 11-3-4-2-12zM513 119l1 8-2-2-2-8z"/><path class="p24" d="M526 118l1-3-3-5-2 3z"/><path class="p25" d="M527 115l2 12-4-4-1-13zM522 113l2-3-2-3-2 4z"/><path class="p27" d="M524 110l1 13-2-2-1-14z"/><path class="p1" d="M519 186l2-1 1 0-3-3-2 0-1 1zM509 187l1-1 2-2-4-2-1 2-1 1zM500 187l1-1-3-2-1 1zM506 185l1-1-3-1-2 0zM491 187l1-1 2-2-3-4-2 3-1 1zM497 185l1-1-3-3-2 1z"/><path class="p2" d="M535 184l2 1 1-2-3-1-1 2-2-1zM527 186l1-2 1-2-3-2-1 2-2 2zM532 183l2 1 1-2-3-2-2 2-1-1zM518 186l1 0-3-3-2 0zM522 185l1-1 2-2-3-2-2 1-1 1zM529 181l1 1 2-2-3-3-2 2-1 0zM512 184l1-1-3-3-2 2zM514 183l2 0 1-1 2 0 1-1-3-2-2 0-1 1-1 1-2 0zM501 186l2-2 1 0 2 1-4-2-1-1-1 0-2 2zM507 184l1-2-3-2-1 3zM513 181l1-1-3-2-2 2zM494 184l1 0 2 1-4-3-1-1-1-1zM498 184l2-2-4-4-1 3zM502 183l2 0 1-3-3-3-2 3-1 0zM509 180l2-2-3-3-2 2zM482 186l2-2 1-2-3-4-2 3-1 2zM488 184l1-1 2-3-4-3-1 3-1 2zM493 182l2-1 1-3-3-3-1 3-2 2zM499 180l1 0 2-3-3-4-2 4-1 1zM479 183l1-2-3-2-1 2zM485 182l1-2-3-2-2 2zM476 181l1-2-3-3-2 3z"/><path class="p3" d="M553 183l2-4-4-2-1 4zM549 182l1-1 1-4-3-2-1 4-2 1zM538 183l2-3-4-1-1 3zM545 180l2-1-4-1-1 1zM529 182l2 0 1 1-3-2-1-1-2 0zM535 182l1-3-3-2-1 3zM542 179l1-1-3-2-1 1zM525 182l1-2 2 0 1 1-3-2-2-2-1 1-1 2zM532 180l1-3-3-3-1 3zM513 183l1 0-3-2-1-1zM520 181l2-1 1-2-3-3-2 3-1 1zM526 179l1 0 2-2-4-2-1 3-2-2zM508 182l2-2 1 1 2 0-4-1-1-1-1-1-2 2zM514 180l1-1 2 0 1-1 2-3-4-1-1 2-1 2-2-1-1 1zM524 178l1-3-3-2-1 3zM500 182l1 0 1 1-3-3-1-2-2 0zM505 180l2-2 1 1 1 1-3-3-1 0-2-2-1 2zM511 178l1-1 2 1 1-2 1-2-3-4-1 4-2 1-1-1-1 1zM521 176l1-3-3-3-2 4zM485 182l1 1 2 1-3-2-2-3-1-1zM491 180l1 1 1 1-3-2-1-3-2 0zM506 177l2-2-4-3-1 2zM478 182l1 1-3-2-2-2zM480 181l2-3-3-3-2 4zM486 180l1-3-3-3-1 4zM490 180l2-2 1-3-3-3-2 4-1 2zM496 178l1-1 2-4-4-3-1 5-1 1zM470 183l1-4-3-3-1 4zM481 180l2-2-4-3-1 3zM487 178l1-2-3-2-1 1zM493 176l1-1 1-5-3-3-1 6-2 0zM461 181l2-4-4-5-1 6zM467 180l1-4-3-4-1 5zM472 179l2-3-3-4-2 4zM478 178l1-3-3-4-1 3zM484 175l1-1-3-4-2 2z"/><path class="p4" d="M564 180l1-1-3-1-2 1zM560 179l2-1 1-4-3-2-2 4-1 1zM547 181l2 1-4-2-1-1zM557 177l1-1-3-2-1 1zM540 180l1-2-3-1-2 2zM544 179l1 1-3-1-1-1zM547 179l1-4-3-1-2 4zM536 179l2-2-3-2-2 2zM541 178l1 1-3-2-2-1zM543 178l2-4-3-2-2 4zM551 174l1-1-3-1-2 1zM533 177l2-2-4-3-1 2zM537 176l2 1 1-1 2-4-4-2-1 3-1 1-2 0zM523 178l1-1 2 2-4-3-1-1-1 0zM529 177l1-3-3-3-2 4zM536 174l1-1-3-3-2 1zM522 176l2 2-3-2-2-1zM525 175l2-4-4-2-1 4zM519 175l2 1-4-2-1-2zM522 173l1-4-3-3-1 4zM496 178l2 0 1 2-3-2-2-3-1 0zM502 177l1-2-3-4-1 2zM505 177l1 0-3-3-2 0zM508 175l1-1 1 1 2-1 1-4-3-3-1 4-2 1-1-2-2 2zM475 182l1-2-3-3-2 2zM483 179l2 3-4-2-1-3zM489 177l1 3-3-2-1-3zM501 174l2 0 1-2-3-3-1 3-2 0zM469 181l1 2-3-3-2-2zM471 179l2-2-3-4-2 3zM474 179l2 2-4-2-1-3zM477 179l2-4-4-3-1 4zM480 177l1 3-3-2-1-4zM483 178l1-4-3-3-2 4zM488 176l2-4-3-3-2 5zM460 180l1 1-3-3-1-2zM465 178l2 2-3-3-2-2zM479 175l2-4-3-5-2 5zM485 174l2-5-4-5-1 6zM489 173l2 0-3-4-2 1zM464 177l1-5-3-3-2 5zM469 176l2-4-4-3-1 4zM475 174l1-3-3-3-1 3z"/><path class="p5" d="M565 179l1-5-3 0-1 4zM555 179l1-4-3-2-2 4zM559 177l1 2-3-2-1-2zM544 180l2 0 1 1-3-2-1-1-2 0zM551 177l2-4-3-2-2 4zM558 176l2-4-3-2-2 4zM541 178l2 0 1 1-3-1-2-1-1 0zM554 175l1-1 2-4-4-1-1 4-1 1zM538 177l1 0 2 1-4-2-1-1-1 0zM545 174l1-4-3-1-1 3zM552 173l1-4-3-2-1 5zM535 175l1 0 1 1-3-2-1-2-2 0zM547 173l2-1 1-5-3-3-2 5-1 1zM530 174l1-2-3-2-1 1zM533 172l1 2 2 0-4-3-1 1-1-1zM537 173l1-3-3-2-1 2zM520 175l1 0 1 1-3-1-1-2-2 1zM531 172l1-1 2-1 1-2-3-1-1 2-2 0-1 1zM516 174l2-1 1 2-3-3-1-3-2 1zM503 175l2 2-4-3-1-3zM516 172l1 2-3-3-1-2zM476 180l2 2-4-3-1-2zM482 178l1 1-3-2-1-2zM487 177l2 0-3-2-2-1zM493 175l1 0 2 3-3-2-2-4-1 0zM499 173l1-2-3-2-2 1zM504 172l2-2-4-3-1 2zM507 172l2-1-4-2-1 0zM466 180l1-2 2 3-4-3-1-3-1 2zM473 177l1 2-3-3-1-3zM479 175l1 2-3-3-2-2zM484 174l2 1 1 3-3-3-2-3-1-1zM491 172l2 4-4-3-1-4zM498 172l2 0-4-2-1-1zM468 176l2-3-4-4-1 3zM471 176l1 3-3-3-1-3zM474 176l1-4-3-5-1 5zM477 174l1 4-3-4-2-4zM451 178l1 0 2-6-4-4-1 7-1 0zM457 176l1 2 1-6-3-3-1 6-2-2zM462 175l2 2-4-3-1-2zM476 171l2-5-4-4-1 6zM480 172l2-2-3-3-2 2zM455 175l1-6-3-3-2 7zM460 174l2-5-4-3-1 6zM466 173l1-4-3-3-1 5zM472 171l1-3-3-3-2 4zM457 172l1-6-3-4-1 7zM463 171l1-5-3-4-2 6z"/><path class="p6" d="M580 177l1-5-3-2-1 5zM577 175l1-5-3-1-2 5zM562 177l2 3-4-1-1-2zM572 174l1 0 2-5-3 0-2 5-1-1zM569 173l1 1 2-5-4-2-1 5-2-1zM556 175l1 2-3-2-2-2zM565 171l2 1 1-5-3-2-1 5-2-1zM548 175l2-4-4-1-1 4zM552 173l2 2-3-1-2-2zM564 170l1-5-3-1-2 4zM549 172l2 2-4-1-1-3zM542 172l1-3-3-3-2 4zM546 170l1 3-3-3-1-3zM531 172l2 0-3-1-2-1zM538 170l2-4-3-2-2 4zM527 171l1-1 2 1 1 1-3-2-2-1-1-1-2 1zM523 169l2-1-3-3-2 1zM513 170l2-1 1 3-3-3-2-4-1 2zM500 171l1 3-3-2-1-3zM506 170l1 2-3-3-2-2zM490 172l1 0-3-3-1 0zM495 170l2-1 1 3-3-3-1-4-2 2zM457 177l1-1-3-5-1 1zM463 177l1-2 1 3-3-3-1-5-2 2zM470 173l1 3-3-3-2-4zM475 172l2 2-4-4-1-3zM481 171l1 1 2 3-4-3-1-4-1-2zM488 169l1 4-3-3-1-5zM465 172l1-3-3-4-1 4zM468 173l1 3-3-3-1-4zM471 172l1-5-3-4-2 6zM473 170l2 4-3-3-2-4zM442 176l1-2-3-3-1 3zM448 175l1 0 1-7-3-3-1 8-2 0zM453 173l2 2-4-2-1-2zM459 172l1 2-3-2-1-3zM444 173l2 0 1-8-3-4-1 8-2 1zM451 173l2-7-3-5-2 8zM454 169l1-7-3-5-1 8z"/><path class="p7" d="M578 176l2 1-3-2-2 0zM575 175l2 0-4-1-1 0zM566 174l2-5-4-1-1 6zM556 175l1 0 2 2-3-2-2-2-1 0zM563 174l1-6-3-2-1 6zM553 173l1 0 2 2-4-2-1-3-1 1zM560 172l1-6-3-2-1 6zM550 171l1-1-3-1-2 1zM557 170l1-6-3-1-2 6zM562 169l2 1-4-2-1 0zM546 170l2-1 1 3-3-2-2-3-1 2zM553 169l2-6-3-2-2 6zM559 168l1 0-3-2-1 0zM543 169l1-2-3-3-1 2zM550 167l2-6-4-3-1 6zM543 167l1 3-3-2-2-4zM525 168l1 1-3-2-1-2zM458 176l2 4-3-4-2-5zM487 169l1 0-3-4-2-1zM459 172l2-2-3-4-2 3zM479 168l1 4-3-3-1-5zM443 174l2-7-3-3-2 7zM465 169l1 4-3-2-2-5zM467 169l2-6-3-3-2 6zM439 174l1-3-3-3-1 2zM450 171l1 2-3-4-1-2zM456 169l1 3-3-3-2-4zM441 170l2-1 1-8-3-5-2 10-1 0zM448 169l2-8-4-5-1 10z"/><path class="p8" d="M575 169l1-7-3 0-1 7zM567 169l2 4-4-2-1-4zM572 169l1-7-3-2-2 7zM568 167l2-7-4-2-1 7zM551 170l1 3-3-1-1-3zM544 167l2 3-3-3-2-3zM540 166l1-2-3-2-1 2zM449 173l2 5-3-3-2-6zM454 172l1-1 2 5-4-3-1-6-2 1zM461 170l1 5-3-3-1-6zM466 169l2 4-3-4-2-4zM472 167l1 3-3-3-1-4zM478 166l1 2-3-4-2-2zM456 169l2-3-4-3-1 3zM462 169l1-4-3-4-2 5zM470 167l2 4-4-2-1-5zM433 173l2-2-4-4-1 3zM440 171l2-7-4-5-1 9zM458 166l2-5-3-5-2 6zM461 166l2 5-4-3-1-6zM424 173l2-7-4-4-1 7zM436 170l1-2-3-5-2 3zM447 167l1 2-3-3-1-3zM452 165l2 4-3-4-2-4zM445 166l1-10-2-2-1 10z"/><path class="p9" d="M581 172l2-7-4-2-1 7zM587 169l1 3-3-2-1-3zM574 171l1 4-3-1-1-4zM578 170l1-7-3-1-1 7zM584 167l1 3-3-1-2-2zM568 169l1-2-3 0-2 1zM571 170l1 4-3-1-2-4zM580 167l2 2-3-1-2-2zM564 168l2-1-3-2-2 1zM577 166l2 2-4-2-1-2zM561 166l2-1-4-2-1 1zM564 167l1 4-3-2-1-4zM574 164l1 2-3-2-1-2zM561 165l1 4-3-1-1-4zM565 165l1-7-3-1-1 7zM558 164l1 4-3-2-2-3zM541 164l2 3-4-3-1-2zM448 171l1 2-3-4-1-2zM441 171l1 5-3-2-2-7zM450 168l2-1-3-3-2 1zM458 166l1 6-3-3-2-6zM463 165l2 4-4-3-1-5zM469 163l1 4-3-3-1-4zM435 171l1-6-3-5-2 7zM453 166l1-3-3-5-1 3zM430 170l1-3-3-4-1 3zM437 168l1-9-3-5-1 9zM421 169l1-7-2-2-1 8zM432 166l2-3-2-1-2 3zM438 166l1 0 2-10-2-3-2 11-1 0zM444 163l1 3-2-2-2-2z"/><path class="p10" d="M590 170l2 3-4-1-1-3zM571 170l1-2 2 3-3-1-2-3-1 2zM569 167l2 3-4-1-1-2zM566 167l1 2-3-2-1-2zM563 165l1 2-3-2-2-2zM558 164l1-1 2 2-3-1-2-2-1 1zM555 163l1-1 2 2-4-1-1-3-1 1zM439 169l2 2-4-4-1-2zM445 167l1 2 2 6-4-2-1-8-1-1zM452 167l1 6-3-2-1-7zM437 167l2 7-3-4-2-7zM447 165l2-1-4-5-1 2zM431 167l2-7-4-5-1 8zM427 166l1-3-2-1-2 3zM434 163l1-9-2-2-1 10z"/><path class="p11" d="M432 167l1 6-3-3-2-8zM442 164l1 1 1 8-3-3-1-9-2-2zM449 164l1 7-3-4-2-8zM454 163l2 6-4-4-1-7zM460 161l1 5-3-4-1-6zM426 166l1-8-3-5-2 9zM450 161l1-3-3-5-2 3zM428 163l1-8-2-2-1 9z"/><path class="p12" d="M583 165l1-4-3-2-2 4zM579 163l2-4-3-1-2 4zM576 162l2-4-4 0-1 4zM579 161l1 6-3-1-1-6zM573 162l1-4-3-2-1 4zM576 160l1 6-3-2-1-6zM570 160l1-4-3-2-2 4zM573 158l1 6-3-2-2-6zM566 158l2-4-3-1-2 4zM436 165l1 2-3-4-1-3zM423 166l1 7-3-4-1-7zM434 163l2 7-4-4-1-8zM440 161l1 9-3-4-1-10zM444 161l1-2 2 8-3-4-2-9-1 2zM451 158l1 7-3-4-1-8zM415 165l2-9-2-2-2 10z"/><path class="p13" d="M589 164l1 6-3-1-2-6zM585 163l2 6-3-2-2-5zM582 162l2 5-4 0-1-6zM574 158l2 2-3-2-2-2zM430 163l2 4-4-5-1-4zM428 162l2 8-3-4-2-8zM433 160l1 3-3-5-2-3zM438 159l2 2-3-5-2-2zM420 162l1 7-2-1-2-8zM422 162l2-9-2-3-2 10zM446 156l2-3-2-3-2 4z"/><path class="p14" d="M587 162l2 2-4-1-1-2zM584 161l1 2-3-1-1-3zM581 159l1 3-3-1-1-3zM578 158l1 3-3-1-2-2zM571 156l2 2-4-2-1-2zM568 154l1 2-3-1-1-2zM414 162l1 3-2-1-1-3zM431 158l1 8-2-1-1-9zM437 156l1 10-2-2-2-10zM441 156l1-2 2 9-3-1-1-10-1 1z"/><path class="p15" d="M427 158l1 4-3-4-1-5zM425 158l2 8-3-1-1-9zM429 155l2 3-2-2-2-3zM435 154l2 2-3-2-1-2z"/><path class="p16" d="M421 157l2 9-3-4-2-10zM417 156l1-4-2-2-1 4z"/><path class="p17" d="M424 153l1 5-2-2-1-6z"/><path class="p18" d="M418 152l2 10-3-2-1-10z"/><path class="p0" d="M526 195l2-1 1-1-3-2-1 1-2 1zM518 195l1-1 1 0 2 0 1-1 2-1-4-2-1 1-1 1-2 0-1 0-2 1zM509 195l1-1 2 0 1 0 1-1-3-1-1 1-2 0-1 0-2 1zM500 195l1 0 2 0 1-1 1 0 2-1 1 0 2 0-4-2-1 0-1 0-2 1-1 1-2 0-1 0-1 1zM510 193l1-1 1-1-3-2-1 1-2 1zM515 191l2-1 1-1-3-2-2 2-1 0zM492 194l2 0 1 0 2 0 1-1 1 0 2 0 1-1-3-3-1 1-2 0-1 0-2 1-1 1-1 0-2-1zM502 192l2-1-4-3-1 1zM506 191l2-1-3-3-2 1z"/><path class="p1" d="M535 193l2 0 1 0 2-2-4 0-1 1-2 0-1 0zM529 193l2-1 1 0 1 0 2 0 1-1 2-2-4-2-1 2-1 1-2 0-1 0-2 0-1 1zM543 188l2-1-3-2-2 1zM525 192l1-1 1-1 2 0 1 0 2 0 1-1-3-2-2 1-1 0-1 0-2 0-1 1-2 1zM514 193l2-1 1 0 2 0 1-1 1-1 2-1-3-1-2 1-1 1-2 1-1 0-2 0-1 1zM527 188l1 0 2-1-3-1-2 1-1 0zM512 191l2 0 1 0-3-2-1 0-2 0zM518 189l2-1 1-1-3-1-2 0-1 1zM522 187l2 0 1 0 2-1-4-2-1 1-1 0-2 1zM504 191l1 0 1 0-3-3-1 0-2 0zM508 190l1-1 2 0 1 0 1 0 2-2 1-1-3-3-1 1-2 2-1 1-2-1-1 0-1 1zM483 192l2 1 1 0 2-1 1-1 2 1 1 0 1-1-3-2-1 1-2-1-1 0-2 1-1 1-1 0-2-1zM493 191l2-1 1 0 2 0 1-1 1-1 2 0 1 0-3-1-1-1-2 0-1 1-2 1-1 0-2-1-1 2zM503 188l2-1 1-1-3-2-2 2-1 1zM477 192l2-1-3-2-2 2zM482 191l1 0 1-1-3-2-1 2-2-1zM487 189l2 1 1-1 1-2-3-2-1 2-2 2-1-1zM494 188l2-1 1-1-3-2-2 2-1 1zM474 191l2-2-4-3-1 2zM478 189l2 1 1-2-3-3-1 2-2-1zM485 189l2-2-3-3-2 2z"/><path class="p2" d="M553 192l1-2-3-2-1 2zM548 190l2 0 1-2-3-1-1 2-2 0zM540 191l1-2 1-1-3-1-1 2-2 2zM545 189l2 0 1-2 1-2-3-1-1 3-2 1-1 0zM538 189l1-2-3-2-2 2zM541 187l1 1 1 0-3-2-1 0-2-1zM545 187l1-3-3-2-1 3zM533 189l1-2 2-2-3-2-2 2-1 2zM539 186l1 0 2-1 1-3-3-2-2 3-1 2-2-1zM523 189l1-1 2 0 1 0-3-1-2 0-1 0-1 1zM530 187l1-2-3-1-1 2zM521 187l1 0-3-1-1 0zM516 186l2 0-4-3-1 0zM506 186l1 0 2 1-3-2-2-1-1 0zM475 191l1 1 1 0-3-1-1-1-2-1zM479 191l1-1 2 1-4-2-1-1-1 1zM484 190l2-1 1 0-3-1-1-1-2 1zM491 187l2 1 1 0-3-1-1-1-2-1zM497 186l2 0 1 1-3-2-2-1-1 0zM467 192l2 0 1-3-3-3-2 3-1 0zM473 190l1 1-3-3-2-1zM476 189l1-1 1 1-3-3-1-1-2 1zM481 188l2-1 1 1 1 1-3-3-1-1-2-2-1 2zM487 187l1-2 2 1 1 1-3-3-2-1-1-1-1 2zM464 189l1 0 2-3-4-4-1 4-1 0zM469 187l2 1 1-2-3-4-1 3-2-1zM475 186l2 1 1-2-3-3-2 2-1-1zM481 185l1 1-3-3-1-1zM473 184l2-2-4-3-1 4z"/><path class="p3" d="M554 190l2-3-3-2-2 3zM562 187l1-1-3-2-2 2zM544 190l2-1 1 0 1 1-3-1-1-1-2 0-1 1zM551 188l2-3-4 0-1 2zM558 186l2-2-4-1-1 2zM542 188l2 0 1 1-3-1-1-1-2 0zM555 185l1-2 2-3-3-1-2 4-1 1zM539 187l2 0-4-2-1 0zM546 184l2-2-4-2-1 2zM550 183l2 1 1-1-3-2-1 1-2-1zM536 185l1 0 2 1-4-2-1-1-1 0zM531 185l2-2 1 0 1 1-3-1-1-1-2 0-1 2zM466 190l1 2-3-3-2-3zM470 189l1 0 2 1-4-3-1-2-1 1zM458 189l2-1-4-3-1 1zM472 186l2-1 1 1-3-3-2-2-1 1zM478 185l1-2 2 2-3-3-2-2-1 2zM461 186l1 0 1-4-3-2-1 4-2 0zM466 184l2 1 1-3-3-2-2 3-1-1zM472 183l1 1-3-1-1-2zM457 184l2 0 1-4-3-3-1 5-2 0zM464 183l2-3-3-3-2 4z"/><path class="p4" d="M563 187l2 1 1-2 2-3-4-1-1 4-1 1-2-1zM556 187l1-2-3-2-1 2zM560 186l2 1-4-1-1-1zM563 186l1-4-3-2-1 4zM570 182l1 0-3-2-1 1zM553 185l1-2-3-1-2 3zM557 185l1 1-3-1-1-1zM560 184l1-4-3 0-2 3zM549 185l2-3-3 0-2 2zM554 184l1 1-3-1-2-1zM548 182l1-1 1 2-3-2-1-1-2 0zM543 182l1-2-3-2-1 2zM457 188l1 1-3-3-1-2zM460 188l1-3-3-3-2 3zM462 186l2 3-3-3-2-3zM467 186l1-1 1 2-3-3-1-2-2 0zM455 186l1-1 2-3-3-3-2 4-1 1zM469 182l1-1-3-3-1 2zM440 186l2-3-3-3-2 4zM452 184l1-1-3-3-2 2zM463 182l1 1-3-2-1-1zM454 182l2 0 1-5-3-5-2 6-1 0z"/><path class="p5" d="M576 184l2-1-3 0-2 0zM562 186l1 1-3-1-1-1zM573 183l2 0 1-6-3 0-2 5-1 0zM557 185l2 0 1 1-3-1-2-2-1 0zM564 182l2-3-3-2-2 3zM571 182l2-5-3-2-2 5zM554 183l1 0 2 2-3-1-2-2-1 0zM567 181l1-1 2-5-4-1-1 5-1 1zM551 182l1 0 2 2-4-1-1-2-1 1zM558 180l1-4-3-1-1 4zM461 185l1 1-3-3-1-1zM449 186l2-1 1-2-3-2-1 2-2 1zM454 184l1 2-3-2-2-2zM459 183l2 3-4-2-1-4zM463 182l2 0 1 2-3-2-1-3-2 1zM470 181l2 2-3-2-2-3zM446 184l2-1 1-2-3-4-2 4-1 1zM453 183l2-4-4-3-1 4zM460 180l2-1-4-3-1 1zM437 184l2-4-4-4-1 5zM448 182l2-2 1-4-3-5-1 6-2 2z"/><path class="p6" d="M580 184l1 0 2-6-4-1-1 6-2 1zM571 183l1-3-3-1-1 4zM578 183l1-6-3 0-1 6zM568 183l1-4-3 0-2 3zM572 181l1 2-3-1-1-2zM569 180l1 2-3-1-2-3zM561 180l2-3-4-1-1 4zM565 178l2 3-3-1-2-3zM452 183l2 1-4-2-1-1zM458 182l1 1-3-3-1-1zM439 183l1 3-3-2-1-4zM442 183l1-4-3-4-1 5zM449 181l1 1 2 2-4-2-1-3-1-2zM455 179l1 1 1 4-3-2-1-5-2-1zM462 179l1 3-3-2-2-4zM443 182l1-1 2-4-4-4-1 4-1 1zM434 181l1-5-3-3-1 5zM445 179l2-2-4-3-1 2z"/><path class="p7" d="M575 180l1 4-3-1-1-2zM569 179l1-1-3-1-1 2zM576 177l1-5-3-1-1 6zM582 177l1 0 2-4-4-1-1 5-2-1zM566 179l1-2 2 3-4-2-1-2-1 1zM573 177l1-6-3-1-1 5zM563 177l1-1-3-1-2 1zM570 175l1-5-3-1-2 5zM559 176l2-1 1 2-3 0-2-2-1 0zM448 182l1 4-3-2-1-4zM445 180l1 4-3-2-2-5zM436 180l1 4-3-3-1-5zM439 180l1-5-3-4-2 5zM446 177l1 2 1 3-3-3-1-5-2-1zM451 176l2 1 1 5-3-4-2-5-1-2zM440 178l1-1 1-4-3-4-1 5-2 1zM447 177l1-6-3-4-2 7zM431 178l1-5-3-3-2 6zM436 175l2-1-3-3-2 2zM427 176l2-6-3-4-2 7z"/><path class="p8" d="M591 178l2 0 1-3-3-1-1 3-2 0zM588 177l2 0 1-3-3-1-2 4-1 0zM572 180l2-2-4 0-1 1zM579 177l2-5-4 0-1 5zM585 177l1 0 2-4-3 0-2 4-1 0zM570 178l2 3-3-1-2-3zM564 176l1 2-3-1-1-2zM443 179l2 1-4-3-1-2zM430 180l2 0 1-4-3-5-2 6-1-1zM441 177l2 5-3-4-2-5zM435 176l2-5-3-5-2 7zM444 174l1 5-3-3-1-5zM438 174l1-5-3-4-1 6z"/><path class="p9" d="M583 178l1-6-3 0-2 5zM574 178l1 2-3 1-2-3zM588 173l1-7-3 0-1 7zM580 174l2 3-4-1-1-3zM585 173l1-7-3-1-2 7zM577 173l1 3-3-1-1-4zM440 175l1 2-3-4-1-2zM427 176l1 1 2-6-3-3-2 6-1-1zM433 176l1 5-3-3-2-5zM438 173l2 5-4-3-1-6zM442 173l2 1-3-3-2-2zM432 173l2-7-4-3-1 7z"/><path class="p10" d="M590 176l1 2-3-1-1-2zM594 175l2-7-4-1-1 7zM587 175l1 2-3 0-1-3zM591 174l1-7-3-1-1 7zM584 174l1 3-3 0-2-3zM593 170l2 3-3 0-2-3zM577 172l2-1-3-1-2 1zM574 171l2-1 1 3-3-2-2-3-1 2zM433 176l1-2 2 6-3-4-2-6-1 1zM423 176l1-2-3-3-2 3zM412 176l2 0 1-9-3-4-1 11-2 0zM419 174l2-3-3-3-2 3zM424 173l1 1 2-6-4-3-1 7-2-2zM429 173l2 5-4-2-1-6zM411 174l1-11-3-4-2 11zM422 172l1-7-3-4-1 7zM426 170l1 6-3-3-1-7zM429 170l1-7-3-5-1 8z"/><path class="p11" d="M597 174l2-6-3 0-2 7zM600 171l1 4-3-1-1-4zM584 172l1 0 2 3-3-1-2-3-1 1zM597 170l1 4-3-1-2-3zM581 172l1-1 2 3-4 0-1-3-2 1zM579 171l1 3-3-1-1-3zM424 174l2-1 1 3-3-3-2-4-1 2zM430 171l1-1-3-4-1 2zM437 171l1 2-3-4-1-3zM435 169l1 6-3-2-1-6zM409 174l2 0-4-4-1 0zM416 171l2-3-4-5-1 5zM420 170l2 2-3-4-2-1zM407 170l2-11-3-5-2 12zM419 168l1-7-3-5-2 9z"/><path class="p12" d="M603 171l2 4-4 0-1-4zM589 173l1 3-3-1-2-3zM586 166l1-4-3-1-1 4zM421 172l2 4-4-2-1-5zM431 170l2 6-4-3-1-7zM421 171l1-2 2 4-4-3-1-4-1 2zM427 168l1-2-3-4-2 3zM434 166l1 3-3-2-2-4zM406 170l1 0-3-4-1 0zM413 168l1-5-3-5-1 6zM417 167l2 1-4-3-1-3z"/><path class="p13" d="M606 171l2 4-3 0-2-4zM596 168l1-5-3-1-2 5zM592 167l2-5-3 0-2 4zM589 166l2-4-4 0-1 4zM418 169l1 5-3-3-1-4zM428 166l1 7-3-3-1-8zM418 168l1-2 1 4-3-3-1-6-2 2zM423 165l2-3-4-5-1 4zM403 166l1 0 2-12-3-2-1 13-1 0zM410 164l1-6-2-2-1 7z"/><path class="p14" d="M599 168l1-5-3 0-1 5zM595 164l2 6-4 0-1-7zM592 163l1 7-3 0-1-6zM404 168l1-5-3-4-2 6zM415 167l1 4-3-3-1-5zM414 163l2-2-3-5-2 2z"/><path class="p15" d="M598 164l2 7-3-1-2-6zM594 162l1 2-3-1-1-1zM591 162l1 1-3 1-2-2zM415 167l2-4-4-4-1 4zM425 162l1 8-3-4-2-9zM400 165l2-6-4-4-1 6zM412 163l1 5-3-4-2-5zM416 161l1 6-3-5-1-6zM420 161l1-4-3-5-1 4z"/><path class="p16" d="M600 163l2 1 1 7-3 0-2-7-1-1zM597 163l1 1-3 0-1-2zM417 163l1 6-3-2-2-8zM412 163l1-4-3-4-1 4zM408 159l2 5-2-1-2-5zM411 158l2-2-3-3-1 3z"/><path class="p17" d="M605 163l1 8-3 0-1-7zM405 163l1-6-3-5-1 7zM408 162l1 12-3-4-1-12zM413 159l2 8-3-4-2-8zM396 163l1-4-3-5-1 4zM399 161l1 4-3-4-1-5zM409 159l1-4-3-5-1 4zM397 161l1-6-2-1-1 6zM413 156l1 6-2-1-2-8z"/><path class="p18" d="M397 159l2 2-3-5-2-2zM402 159l1-7-3-5-2 8zM405 158l1 12-3-4-2-13zM393 158l1-4-2-2-1 5z"/><path class="p19" d="M410 155l2 8-4-4-1-9zM391 157l2 1-2-1-2-2zM396 156l1 5-2-1-2-6zM398 155l2-8-2-2-2 9zM406 154l1-4-2-3-2 5z"/><path class="p20" d="M406 157l2 5-3-4-2-6zM387 157l2-14-3-2-1 14zM394 154l2 2-3-2-1-2zM401 153l2 13-2-1-2-14z"/><path class="p21" d="M403 152l2 6-4-5-1-6zM407 150l1 9-2-1-1-11z"/><path class="p23" d="M400 147l1 6-2-2-1-6z"/><path class="p25" d="M390 145l1 12-2-2-1-11z"/><path class="p27" d="M389 143l1 2-2-1-2-3z"/><path class="p0" d="M531 200l1-1-3-1-2 0zM535 199l1 0 2-2-4-1-1 1-1 0zM522 200l1 0 1-1 2 0 1-1-3-1-1 1-2 1-1 0-2 1zM513 201l1 0 2-1 1 0 1 0 2-1 1 0 2-1-4-1-1 1-1 1-2 0-1 0-2 1-1 0-1 0zM523 198l1-1 1 0 2 0 1-1 2 0 1-1-3-1-2 1-1 1-1 0-2 0-1 1-2 0zM504 202l1-1 2 0 1 0 2-1 1 0 1 0 2-1-3-2-2 1-1 0-2 0-1 1-2 0-1 0-1 1zM514 199l1 0 2 0 1-1 1-1 2 0 1-1 2 0-4-2-1 0-1 1-2 0-1 1-2 0-1 1-1 0zM524 196l1 0 1-1-3-2-1 1-2 0zM496 201l2-1 1 0 2 0 1-1 1 0 2 0 1-1-3-1-1 0-2 0-1 0-2 1-1 0-1 0-2 1zM506 198l2 0 1 0 2-1 1 0 1-1 2 0 1-1-3-1-1 0-2 0-1 1-2 0-1 1-2 0-1 1zM516 195l2 0-4-2-1 1zM490 199l2 0 1 0 2-1 1 0 1 0 2-1 1 0-3-1-1 0-2 1-1 0-2 0-1 0-1 1-2 0zM500 197l2 0 1 0 1-1 2 0 1-1 2 0-4-1-1 0-1 1-2 0-1 0-2 1-1 0zM480 199l1 0 2-1-3-2-2 2-1 0zM486 198l1 0 2 0 1-1 1 0 2 0 1 0 2-1-4-2-1 1-1 1-2 0-1-1-2 1-1 0-2 0zM496 196l1 0 1 0 2-1-3-1-2 0-1 0-2 0zM484 196l1 0-3-3-1 1zM488 196l2 0 1-1 1-1-3-3-1 1-2 1-1 0z"/><path class="p1" d="M539 200l2-2 1-1-3-1-1 1-2 2zM545 197l1-1 2 0-3-1-2 0-1 0zM532 199l1 0 2 0-3-2-2 0-1 1zM538 197l1-1 1-1-3-1-1 0-2 2zM542 195l1 0 2 0 1-1-3-2-2 1-1 1-1 0zM527 198l2 0 1-1 2 0 1 0 1-1 2-2-3 0-2 1-1 1-2 0-1 1-2 0-1 0zM540 194l1-1 2-1-3-1-2 2-1 0zM531 195l2-1 1-1 1 0-3-1-1 0-2 1-1 1zM488 199l1 0 1 0-3-1-1 0-2 0zM479 199l1 0-3-1-2-1zM483 198l1 0 2 0-4-2-1 0-1 0zM470 198l1-1 2 0-4-3-1 1-1 0zM475 197l2 1 1 0 2-2 1 0 1 0 2 0-3-2-2 0-1-1-2 0-1 2-1 0-2-1zM485 196l2-1 1 1-3-3-2-1-1 1zM474 195l1 0 1-2-3-2-1 2-2 0zM479 194l2 0 1-1 1-1-3-2-1 1-2 1-1 0zM472 193l1-2-3-2-1 3z"/><path class="p2" d="M548 197l2-1 1-1 2 0-4 0-1 1-2 0-1 1zM542 197l2-1 1 1-3-2-2 0-1 1zM548 196l1-1 2-2-4-1-1 2-1 1zM555 192l1 1 2-2-4-1-1 2-1-1zM540 195l2 0-3-1-2 0zM546 194l1-2 2-2-3-1-2 1-1 2zM552 191l1 1-3-2-2 0zM536 194l1 0 2 0 1 0-3-1-2 0-1 0-1 1zM543 192l1-2-3-1-1 2zM473 197l1-1 1 1-3-3-1-1-2 1zM465 195l2 0 1 0 1-1 2-1-3-2-2 1-1 1-2 0-1 0zM472 194l2 1-4-2-1-1zM476 193l2 0 1 1-3-2-1-1-2 0zM465 193l1-1-3-1-2 1zM470 193l2 0-3-1-2 0zM473 191l2 0-4-2-1 0zM461 192l2-1-3-3-2 1z"/><path class="p3" d="M566 195l1-3-3-1-1 3zM557 194l2-2-4-1-1 2zM563 194l1-3-3 0-1 2zM553 195l1-2 1-2-3 0-1 2-2 2zM558 192l2 1 1-2-3 0-2 2-1-1zM551 193l1-2 2 0 1 1-3-1-2-1-1 0-2 2zM558 191l1-4-3 0-2 3zM549 190l1 0 2 1-4-1-1-1-1 0zM462 194l2 1 1 0-3-2-2 0-1-1zM471 193l1 1-3-2-1-1zM453 195l2-2-3-2-2 3zM459 192l1 1 2 0 1 0 2 0-4-1-1-1-1-1-2 1-1 0zM466 192l2-1 1 1 1 1-3-1-1-2-2-1-1 2zM450 194l2-3-4-3-1 3zM456 191l1 0 2-1 1 1 1 1-3-3-1-1-2-1-1 2-1-1zM463 191l1-2 2 1-4-4-1-1-1 3z"/><path class="p4" d="M567 192l2-4-3-1-2 4zM561 193l2 1-3-1-2-1zM564 191l2-4-4 0-1 4zM555 191l2 0 1 1-3 0-1-1-2 0zM561 191l1-4-3 0-1 4zM568 187l1-1-3 0-1 2zM559 187l2-1-4-1-1 2zM461 193l1 1-3-2-1-1zM452 193l1 2-3-1-1-3zM455 193l1-2-3-3-1 3zM449 191l1 3-3-3-1-3zM452 191l1-3-3-3-2 3zM447 191l1-3-3-3-1 3zM453 188l1 1 1-2 2 1-3-4-2-1-1 2-2 1zM444 188l1-3-3-2-2 3z"/><path class="p5" d="M573 189l2-1 1 0-3-1-2 1-1 0zM559 192l1-1 1 2-3-1-1-1-2 0zM570 188l1 0 2-1 1-3-3-1-2 3-1 1-1 0zM562 187l2-2-3 1-2 1zM565 186l2 1 1 0-3 1-2-1-1-1zM569 186l2-3-3 0-2 3zM561 186l1 0-3-1-2 0zM456 191l2 0 1 1-3-1-2-2-1-1zM443 191l2-2-4-2-1 1zM453 188l1 1 2 2-3-3-2-2-1-1zM446 188l1 3-3-3-2-3zM448 188l2-3-3-4-2 4z"/><path class="p6" d="M575 188l1 1 2-1 1-1 2-1-4-1-1 3-1 0-2 1-1-1zM586 186l2-1-4 0-1 1zM569 188l1-1-3-1-1 1zM572 188l1 1-3-1-2-1zM576 188l1-3 2-4-3-1-2 4-1 3zM583 186l1-1 2-7-3 0-2 6-1 0zM566 187l1-1 1 1 2 1-3-1-2-1-1-1-2 2zM574 184l2-4-4 0-1 3zM564 185l1 1-3 0-1 0zM445 189l1-2-3-3-2 3zM447 188l2 3-3-3-2-4zM437 188l1 0 2 0 1-1 2-3-4-3-1 3-1 1-2-1-1 0zM450 185l1 1 2 2-4-2-1-4-1-1zM442 185l2 3-4-2-1-3zM445 185l2-4-4-2-1 4z"/><path class="p7" d="M593 186l1-1-3 0-2 0zM589 185l2 0 1-8-3 1-1 7-2 1zM581 186l1-5-3 0-2 4zM588 185l1-7-3 0-2 7zM570 187l2 1-4-1-1-1zM446 187l1 1-3-4-1 0zM436 187l1 1-3-4-2 0zM444 184l2 4-4-3-1-4zM425 187l2 0 1-6-3-3-1 7-2 0zM437 185l1-1 1-3-3-3-1 4-2 1zM447 181l1 1-3-2-2-1zM424 185l1-7-3-3-2 7zM433 183l2-1 1-4-3-2-1 4-2 0z"/><path class="p8" d="M594 185l2-8-4 0-1 8zM584 185l1-4-3 0-1 5zM579 181l1-2-3-1-1 2zM582 181l1 5-3-2-2-3zM576 180l1-2-3 0-2 2zM578 181l2 3-4 0-1-4zM443 184l1 0-3-3-2 0zM432 184l2 0 1 0 2 1-4-2-1-2-1 1-2 0zM441 181l1 4-3-2-1-5zM422 185l2 0-4-3-1 0zM429 182l2 0 1-1 1 2-3-3-1-2-2 1-1 1zM419 182l1 0 2-7-4-5-1 9-1 0z"/><path class="p9" d="M582 181l1-3-3 1-1 2zM585 181l1 5-3 0-1-5zM595 178l1-1 1-3-3 1-1 3-2 0zM580 179l2 2-4 0-1-3zM586 178l1-5-3-1-1 6zM577 178l1 3-3-1-1-2zM434 183l2 4-4-3-1-4zM439 181l2 0-3-3-2 0zM436 178l2 0 1 5-3-3-2-6-1 2zM426 180l1-1 2-1 1 2-3-4-1-3-2 1-1 2zM416 179l1 0 1-9-3-3-1 9-2 0z"/><path class="p10" d="M585 181l2-4-4 1-1 3zM588 180l1 5-3 1-1-5zM589 178l1-6-3 1-1 5zM593 176l2 2-4 0-1-2zM428 181l2-4-4-2-1 3zM431 180l1 4-3-2-1-4zM428 178l1 4-3-2-1-4z"/><path class="p11" d="M601 177l2-1 1-1-3-1-2 2-1 1zM592 177l2-6-4 1-1 6zM597 176l1 1 1-1 2-2-4 0-1 3-1 1-2-2zM583 178l2 3-3 0-2-2zM425 178l1-3-3-4-1 4zM425 176l1 4-3-4-2-4z"/><path class="p12" d="M603 177l1 0 2-1 1-1-3 0-1 1-2 1-1 0zM596 177l1-6-3 0-2 6zM600 177l1 0-3 0-1-1zM604 175l1-6-3-1-1 6zM587 177l1 3-3 1-2-3zM601 174l1-6-3 0-2 6zM592 173l1 3-3 0-1-3zM587 173l2 0-4-1-1 0zM430 177l1 3-3-2-2-3zM417 179l1-5-3-2-2 4zM421 177l1 8-3-3-2-8zM426 175l2 3-3-2-2-5zM410 176l2 1 1-1 2-4-4-4-1 5-1 0-2-1zM422 175l1-4-3-4-2 3z"/><path class="p13" d="M607 175l2-5-4-1-1 6zM610 171l1 5-3-1-2-4zM595 172l2 4-4 0-1-3zM590 172l2 1-3 0-2 0zM409 176l1 0-3-4-1 0zM417 174l2 8-3-3-2-10zM423 171l2 5-4-4-1-5zM409 173l1 0 1-5-3-3-1 5-2-1zM418 170l2-3-3-4-2 4zM396 175l1-7-3-3-2 8zM392 173l2-8-4-4-1 9z"/><path class="p14" d="M609 174l1 0 2-5-3 1-2 5-1 1zM602 173l1 4-3 0-2-4zM613 171l1 6-3-1-1-5zM598 173l2 4-3-1-2-4zM594 171l1 1-3 1-2-1zM602 168l2-6-4 1-1 5zM418 174l1-2-3-3-1 3zM415 172l1-3-3-5-2 4zM406 172l1 0 2 1-4-4-1-1-1 1zM414 169l2 10-4-3-1-10zM407 170l1-5-3-2-1 5zM389 170l1-9-3-4-1 9z"/><path class="p15" d="M616 170l2 6-4 1-1-6zM609 170l1-8-3 0-2 7zM597 171l1 2-3-1-1-1zM605 169l2-7-3 0-2 6zM419 172l2 5-4-3-1-5zM408 172l1 4-3-4-2-4zM400 171l2-10-4-4-1 11zM411 168l2-4-3-4-2 5zM420 167l1 5-3-3-1-6zM403 169l1-1 1 1 2 1-3-2-2-2-1-2-2 2zM386 166l1-9-2-2-1 10z"/><path class="p16" d="M619 169l2 7-3 0-2-6zM612 169l1-8-3 1-1 8zM416 169l1 5-3-5-1-5zM404 168l2 4-3-3-2-3zM397 168l1-11-3-4-1 12zM408 165l2-5-4-3-1 6zM411 166l1 10-3-2-1-12zM399 166l2-2-4-5-1 4zM402 166l2 2-4-3-1-4z"/><path class="p17" d="M413 164l1 5-3-3-1-6zM394 167l2 8-4-2-1-9zM401 166l2 3-4-3-1-2zM394 165l1-12-3-5-2 13zM398 164l1 2-3-3-1-3zM401 164l1 2-3-5-2-2z"/><path class="p18" d="M607 162l1 1 2 8-4 0-1-8-1-1zM604 162l1 1-3 1-2-1zM391 164l1 9-3-3-1-10zM390 161l2-13-3-5-2 14zM395 160l1 3-3-5-2-1z"/><path class="p19" d="M610 162l1 0 2 9-3 0-2-8-1-1zM410 160l1 6-3-4-2-5zM388 160l1 10-3-4-2-10z"/><path class="p20" d="M613 161l2-1 1 10-3 1-2-9-1 0zM402 161l1 0 1 7-3-2-1-9-2 0zM384 161l1 1 2-4-4-4-1 4-1-2z"/><path class="p21" d="M400 157l1 9-3-2-2-10zM382 161l2 0-3-5-2 1zM382 158l1-4-3-3-1 3zM367 159l2 0 1-18-2-2-1 19-2-1zM384 156l2 10-2-1-2-11z"/><path class="p22" d="M618 159l1 10-3 1-1-10zM398 157l2 0-4-3-1-1zM387 158l1-9-3-4-2 9zM396 154l2 10-3-4-2-10zM379 157l2-1 1 2-3-4-2-3-1 1z"/><path class="p23" d="M395 153l1 1-3-4-1-2zM378 155l1 2-3-5-2-1zM383 154l2-9-3-5-2 11zM379 154l1-3-2-2-1 3z"/><path class="p24" d="M393 154l1 13-3-3-2-14zM393 150l2 10-4-3-1-12zM376 152l1-1 2 3-2-2-2-3-1 1zM380 151l2-11-3-2-1 11z"/><path class="p25" d="M391 152l2 2-4-4-1-1zM389 150l2 14-3-4-2-14zM392 148l1 2-3-5-1-2zM374 151l2 1-2-2-2 0z"/><path class="p26" d="M388 149l1 1-3-4-1-1z"/><path class="p27" d="M385 145l1 1 2 14-4-4-1-16-1 0z"/><path class="p28" d="M374 146l1-10-3-5-2 10z"/><path class="p29" d="M376 144l2 11-4-4-1-11zM382 140l1 0 1 16-2-2-1-16-2 0z"/><path class="p30" d="M370 141l2-10-2-2-2 10zM373 140l1 11-2-1-1-11z"/><path class="p32" d="M366 139l1 20-2-2-1-21z"/><path class="p33" d="M375 136l1 8-3-4-1-9z"/><path class="p35" d="M372 131l1 9-2-1-1-10z"/><path class="p0" d="M520 205l1 0 2-1 1 0 1 0 2 0 1-1 2-1-4-1-1 1-2 1-1 0-1 0-2 1-1 0-2 0zM532 202l2-1-3-1-2 1zM511 206l1-1 2 0 1-1 1 0 2 0 1 0 2-1-4-2-1 1-1 0-2 1-1 0-2 0-1 1-1 0zM521 203l1 0 1 0 2-1 1-1 2 0 1 0 2-1-4-2-1 1-2 0-1 1-1 0-2 1-1 0-2 0zM503 205l2-1 1 0 2 0 1 0 1-1 2 0 1 0-3-1-1 0-2 0-1 1-2 0-1 0-1 1-2 0zM513 203l2-1 1 0 1-1 2 0 1 0 2-1-4 0-1 0-1 0-2 1-1 0-2 1-1 0zM494 205l2-1 1 0 2 0 1 0 2 0 1-1 1 0-3-1-1 1-2 0-1 0-2 0-1 0-1 1-2 0zM504 203l2 0 1-1 2 0 1 0 1 0 2-1-3-1-2 1-1 0-2 0-1 1-2 0-1 0zM488 204l2 0 1 0 2 0 1-1 1 0 2 0 1 0-3-2-1 0-2 0-1 0-2 1-1 0-1 0-2 0zM498 203l2 0 1-1 1 0 2 0-3-2-2 0-1 0-2 1-1 0zM487 202l1 0 1 0 2-1 1 0 2 0 1 0 1 0-3-2-1 0-2 0-1 0-1 0-2 1-1 0-2 0z"/><path class="p1" d="M539 203l1-1-3-1-1 1zM545 201l1-1-3 0-2 0zM529 203l1 1 1-1 2-1 1 0 2 0 1-1 1-1-3 0-1 1-2 1-1 0-1 0-2 1-1 1-2 0zM541 200l2 0 1-2-3 0-2 2-1 0zM530 202l1 0 1 0-3-1-1 0-2 0zM534 201l1-1 2 0 1 0 1 0-3-1-1 0-2 0-1 0-1 1zM502 205l1 0-3-1-1 0zM486 203l1 0 1 1-3-2-1-1-2 0zM478 203l2 0 1-1 1-1 2 0 1 1 2 0-4-2-1 0-1-1-2 0-1 1-2 1-1 0zM475 201l1 0 2-1-4-1-1 1-1 0zM482 200l1 0 2 0 1 0 2-1-4-1-1 0-2 1-1 0-1 0zM472 200l1 0 1-1 2-1-3-1-2 0-1 1-2 0zM477 198l2 1-4-2-1-1z"/><path class="p2" d="M548 202l1 0 2-3-4-1-1 2-1 1zM555 199l1-2-3-1-1 2zM537 202l2 1-3-1-2 0zM540 202l2-2 1 0 2 1-4-1-1-1-2 1-1 1zM546 200l1-2-3 0-1 2zM552 198l1-2-3 0-2 1zM538 200l2-1 1 1-3 0-1 0-2 0zM544 198l1-2-3 1-1 1zM547 196l1 1-3 0-1-1zM477 203l1 0-3-2-2 0zM468 201l1-2-3-1-1 2zM473 201l2 0-3-1-2 0zM478 200l1-1 2 0 1 1-3-1-2-1-1 0-2 1zM463 201l2-1 1-2-3-2-2 2-1 1zM469 198l1 2 2 0-4-2-1 0-1-1zM476 198l1 0-3-2-1 1zM460 199l1-1 2-2-3-3-2 2-1 2zM467 198l1 0 2 0-3-3-2 0-1 0z"/><path class="p3" d="M558 199l1-2-3 0-1 2zM546 201l2 1-3-1-2-1zM551 199l1-2 1 1 2 1-3-1-2-1-1 0-2 1zM556 197l2-1 1 1 1-2 2-2-3-1-2 2-1 1-2 1-1 0zM547 198l2-1 1 0 2 1-4-1-1-1-2 0-1 2zM553 196l1 0 2-1 1-1-3-1-1 2-2 0-1 1zM545 196l2 0-3 0-2 1zM469 199l2 0 1 0 1 2-3-1-1-2-2 0-1 0zM462 200l1 1-3-2-1-1zM466 198l1 0 2 0-3-1-2-1-1 0zM459 198l1 1-3-2-2-2zM463 196l1 0 2 1 1 1-3-3-2-1-1-1-1 0zM457 197l1-2 2-2-4-2-1 2-2 2z"/><path class="p4" d="M576 196l1-4-3 0-1 3zM573 195l1-3-3 0-2 3zM557 198l1 1-3 0-2-1zM559 197l2-1 1 0 2 0 1-4-3 1-2 2-1 2-1-1-2 1zM569 195l2-3-4 0-1 3zM565 194l1 1-3-1-2-1zM460 197l2 3-3-2-2-3zM450 198l1 0 2-1 1-2-3-2-1 1-2 1-1 0zM457 195l2 3-4-3-1-3zM448 195l2-1-4-2-1 1zM455 195l2 2-4-2-1-2zM460 193l1 0-3-2-2 0z"/><path class="p5" d="M566 196l1-1 1-3-3 0-1 4-2 0zM555 197l2 1-4 0-1-1zM568 193l1 2-3 0-1-1zM571 192l1-5-3 1-2 4zM562 193l1-2 2 3-4-1-1-2-1 1zM459 196l1 1-3-2-1-1zM454 195l2-1 1 1-3-3-2-1-1 2zM447 195l1 0-3-2-1 0zM450 194l1-1 1-2-3-2-1 2-2 1zM454 192l1 3-3-2-1-3zM444 193l1 0 1-1 2-1-3-2-2 2-1 0-2 0zM442 191l1 0-3-3-2 0z"/><path class="p6" d="M574 193l2 3-3-1-2-2zM577 192l2-6-4 0-1 6zM564 195l2 1-4 0-1 0zM571 193l2 2-4 0-1-2zM574 192l1-6-3 1-1 5zM565 192l1-1 2 2-3 1-2-3-1 2zM445 193l2 2-3-2-2-2zM452 191l2 1-3-2-2-1zM435 194l2 0 1-5-3-2-2 5-1 0zM442 191l2 2-4-2-1-2zM448 191l1-2 2 1 1 3-3-2-2-3-1-1-1 2zM432 192l1 0 2-5-4-3-1 6-1-1zM439 189l1 2 2 0-4-3-1 0-1-1zM430 190l1-6-3-3-1 6z"/><path class="p7" d="M581 189l2 0 1-2-3 0-1 1-2 0zM568 192l2-2 1 3-3 0-2-2-1 1zM578 188l2 0 1-1-3 1-2 1-1-1zM572 187l2-1-4 1-1 1zM441 192l2-3-4-3-1 3zM429 189l1 1-3-3-2 0z"/><path class="p8" d="M585 190l1-1 1-3-3 1-1 2-2 0zM596 187l1-1 2-9-3 0-2 8-1 1zM573 190l1 3-3 0-1-3zM584 187l2 0 1-1 1-4-3-1-1 4-2 1-1 1zM575 186l2 0-3 0-2 1zM581 187l1-1 2-1-3 1-2 1-1 1zM574 186l1 2-3 0-2-1zM444 190l1 3-3-2-1-3zM438 189l1-3-3-2-1 3zM441 188l1 3-3-2-1-3zM423 189l2 0 1-3-3-3-1 3-2 0zM435 187l1-3-3-3-2 3zM438 186l1 3-3-2-2-4z"/><path class="p9" d="M599 186l2-1 1-10-3 2-2 9-1 1zM587 186l2 0 1 1 2-5-4 0-1 4-1 1-2 0zM579 186l1 0 1 3-3-1-1-2-2 0zM577 186l1 2-3 0-1-2zM443 189l1 1-3-2-2-2zM434 188l1 6-3-2-2-6zM439 186l2 2-3-2-2-2zM430 186l2 6-3-3-2-6zM436 184l2 2-4-3-1-2zM420 186l2 0 1-3-3-2-2 1-1 0zM431 184l2-3-3-4-2 4z"/><path class="p10" d="M602 186l2-1 1-11-3 1-1 10-2 1zM594 186l1-5-3 1-2 5zM582 186l1 0 2 4-4-1-1-3-1 0zM588 182l2-5-3 0-2 4zM426 186l2-4-4-3-1 4zM423 183l1-4-3-3-1 5zM427 183l2 6-4-2-1-7zM408 185l2-5-3-2-2 6zM405 184l2-6-4-3-1 6z"/><path class="p11" d="M607 185l1-12-3 1-1 11zM591 184l1 1 2 1-4 1-1-1-2 0zM592 182l1-5-3 0-2 5zM591 180l2 6-4-1-1-5zM432 184l2 4-4-2-1-4zM419 184l1 2-3-4-1-1zM433 181l1 2-3-3-1-3zM417 182l1 0 2-1 1-5-3-2-1 5-2 1-1 0zM424 180l1 7-3-2-1-8zM414 180l1 0 2-1-4-3-1 1-2-1zM402 181l1-6-3-4-1 7z"/><path class="p12" d="M595 181l1-6-3 2-1 5zM595 180l1 7-3-1-2-6zM590 177l1 3-3 0-1-3zM428 182l1 0 1 4-3-3-1-5-2 1zM424 179l2-1-3-3-2 1zM416 181l1 1-3-2-2-1zM412 179l2 1-4-4-1 0zM399 178l1-7-3-3-1 7z"/><path class="p13" d="M598 181l2-7-4 1-1 6zM598 178l1 8-3 1-1-7zM606 176l2-1 1-1-3 2-2 1-1 0zM593 177l2 3-4 0-1-3zM599 177l1-6-3 0-1 6zM426 178l1 5-3-3-1-5zM407 179l1 6-3-1-1-7zM410 180l1-8-3-3-1 9zM421 176l2-1-4-3-1 2zM407 178l1-9-3-4-2 10z"/><path class="p14" d="M613 177l1-3-3 0-2 2zM609 176l2-2-3 1-2 1zM602 175l1-6-3 2-1 6zM417 179l2 5-3-3-2-5zM414 176l2 5-4-2-1-5zM423 175l1 5-3-3-2-5zM404 177l1 7-3-3-1-7zM403 175l2-10-3-4-2 10z"/><path class="p15" d="M616 176l1-4-3 2-1 3zM601 177l1 9-3 0-1-8zM611 174l1-2 2 1 1-4-3 0-2 5-1 0-1 1zM596 175l2 3-3 2-2-3zM605 172l1 4-3 1-1-4zM397 176l1-2-3-3-1 2zM411 174l1 5-3-3-1-4zM401 174l1 7-3-3-2-7z"/><path class="p16" d="M614 174l2-2-4 0-1 2zM617 173l1-3-3-1-1 4zM600 174l1 3-3 1-2-3zM605 174l2-6-4 1-1 6zM608 172l1 4-3 0-1-4zM600 171l2 2-4 0-1-2zM415 175l1-1 1 5-3-3-1-6-2 2zM398 174l2-6-4-2-1 5zM394 173l1-2-3-3-2 0zM397 171l2 7-3-3-2-8z"/><path class="p17" d="M617 172l2-2-3 2-2 2zM620 172l2-3-4 1-1 3zM608 173l2-6-3 1-2 6zM611 172l2 5-4-1-1-4zM616 172l1 1-3 0-2-1zM618 170l2-10-3 0-2 9zM623 169l1 8-3-1-2-7zM615 169l2-9-4 1-1 8zM603 169l2 3-3 1-2-2zM411 172l2-2-4-2-1 1zM392 172l2 1-4-5-1 0zM395 171l1-5-3-4-1 6zM382 172l1-14-3-4-1 15z"/><path class="p18" d="M619 170l1 2-3 1-1-1zM622 169l1-11-3 2-2 10zM626 168l1 8-3 1-1-8zM413 170l1 6-3-2-2-6zM408 169l1-1 2 6-3-2-2-7-1 0zM380 171l2 1-3-3-2-1zM389 168l1 0 2 0 1-6-3-2-2 4-1 0-1 0zM379 169l1-15-3-4-2 16z"/><path class="p19" d="M625 168l1-12-3 2-1 11zM607 168l1 4-3 0-2-3zM406 169l1 10-3-2-2-11zM400 168l1-5-3-3-2 6zM405 165l1 0 2 7-4-4-1-7-1 0zM377 168l2 1-4-3-1 0zM387 164l1 0 2-4-3-2-2 4-1-1zM374 166l1 0 2-16-3-4-2 17-1 0z"/><path class="p20" d="M629 166l1 9-3 1-1-8zM610 167l1 5-3 0-1-4zM402 166l2 11-3-3-2-11zM391 166l1 6-3-4-2-5zM396 166l2-6-3-4-2 6zM386 164l1 0-3-3-2 0zM371 163l1 0 2-17-4-5-1 18-2 0z"/><path class="p21" d="M617 160l1-1-3 1-2 1zM399 163l2 11-4-3-1-13zM387 163l2 5-3-4-2-4zM393 162l2-6-4-4-1 8zM390 160l1-8-3-3-1 9z"/><path class="p22" d="M620 160l1-2-3 1-1 1zM401 163l1 3-3-3-1-3zM384 160l2 4-4-3-1-3zM381 158l1 3-3-4-1-2z"/><path class="p23" d="M621 158l2 11-4 0-1-10zM398 160l1 3-3-5-1-2zM396 158l1 13-3-4-1-13z"/><path class="p24" d="M623 158l1-2-3 2-1 2zM383 158l2-10-4-4-1 10zM395 156l1 2-3-4-2-2zM354 160l1-13-3-5-1 14z"/><path class="p25" d="M626 156l2-3-4 3-1 2zM624 156l2 12-3 1-2-11zM389 157l2 9-4-3-1-10zM351 156l1-14-2-1-2 14z"/><path class="p26" d="M386 153l1 10-3-3-1-10zM380 154l1-10-3-3-1 9zM365 155l2 0 1-5-3-3-1 4-2 0z"/><path class="p27" d="M628 153l1 13-3 2-2-12zM372 153l1-11-3-2-2 10zM383 150l1 10-3-2-1-10zM377 150l1-9-3-5-1 10zM362 151l2 0 1-4-3-4-2 3-1-1z"/><path class="p28" d="M376 151l1 17-3-2-1-18zM364 152l1 3-3-4-1-3zM368 150l2-10-4-4-1 11zM380 148l1 10-3-3-2-11z"/><path class="p29" d="M385 148l1 5-3-3-2-6zM373 148l1 18-3-3-2-19zM361 148l1 3-3-6-1-1zM365 147l1-11-3-4-1 11zM359 145l1 1 2-3-2-1-2 2-1-1z"/><path class="p30" d="M355 147l2-21-4-6-1 22zM369 144l2 19-4-4-1-20zM358 144l1 1-2-2-2-1zM362 143l1-11-2-1-1 11z"/><path class="p31" d="M381 144l2 6-3-2-2-7z"/><path class="p32" d="M378 141l2 7-4-4-1-8zM352 142l1-22-2-2-1 23z"/><path class="p33" d="M373 142l1-3-3-4-1 5zM370 140l1-5-3-4-2 5z"/><path class="p34" d="M374 139l2 12-3-3-2-13zM363 140l1 12-3-4-2-11zM366 136l2-5-3-6-2 7z"/><path class="p35" d="M371 135l2 13-4-4-1-13zM359 137l2 11-3-4-2-11z"/><path class="p36" d="M356 133l2 11-3-2-1-10zM363 132l2-7-3-2-1 8z"/><path class="p37" d="M368 131l1 13-3-5-1-14z"/><path class="p39" d="M365 125l1 14-2-3-2-13z"/><path class="p41" d="M357 126l1-3-3-5-2 2z"/><path class="p42" d="M358 123l1 14-3-4-1-15z"/><path class="p43" d="M353 120l2-2-2-2-2 2z"/><path class="p44" d="M355 118l1 15-2-1-1-16z"/><path class="p0" d="M510 207l1 0-3-1-1 0zM514 206l1 0 2 0 1-1 2 0-4-1-1 0-1 1-2 0-1 1zM500 208l1-1 1 0-3-2-1 1-2 0zM505 206l2 0 1 0 1 0 2 0-3-2-2 0-1 0-2 1-1 0zM493 205l1 0-3-1-1 0z"/><path class="p1" d="M531 208l1-2-3-1-1 1zM536 206l2-1 1-2-3-1-1 2-2 1zM542 204l2-1-4-1-1 1zM521 207l1 0 1-1-3 0-1 1-2-1zM526 206l2 0 1-1 1-1-3-1-1 1-2 1-1 0zM533 205l2-1 1-2-3 0-2 1-1 1zM512 207l1 0 1-1 2 0 1 0 2 1 1-1 2-1-4 0-1 1-2 0-1 0-1 0-2 1-1 0-2 0zM522 205l1 0 1 0 2-1 1-1 2 0-4 1-1 0-1 0-2 1-1 0-2 0zM501 208l2 1 1-1 2-1 1 0 1 0 2 0-3-1-2 0-1 0-2 1-1 0-1 1-2-1zM511 207l2-1 1 0-3 0-2 0-1 0zM492 208l2-1 1 0-3-2-1 0-2 1zM497 206l1 1 2 1-4-2-1-1-2 0zM502 207l2-1 1 0-3-1-1 0-2 0zM488 207l1-1 2-1-4 0-1 1-1 0zM495 205l1 1 2 0 1-1 2 0 1 0-3-1-2 0-1 0-2 1-1 0-1 0zM485 206l1 0 1-1 2-1 1 0 2 1 1 0-3-1-2 0-1-1-1 0-2 1-1 1-2 0zM473 206l1-1-3-2-1 1zM480 204l1 1 2 0 1-1 2-1-4-2-1 1-1 1-2 0-1 0z"/><path class="p2" d="M535 206l2-2-3 0-2 2zM540 206l1-1 2-3-4 1-1 2-2 1zM545 204l2-1 1-3-3 1-1 2-2 1zM551 202l1 0 2-4-3 1-2 3-1 0zM527 207l1-1 1 1 2 1-3-2-2 0-1-1-2 1zM532 206l2-2 1 1 1 1-3-1-1-1-2 0-1 1zM539 203l2 0 1 1-3-1-2-1-1 0zM544 203l1-2-3-1-2 2zM518 207l1-1 2 1-4-1-1 0-2 0zM523 206l2-1 1 1-3-1-1 0-2 1zM530 204l2 0 1 1-3-1-1-1-2 0zM536 202l1 0-3 0-1 0zM509 207l1-1 2 1-4 0-1 0-1 0zM495 207l2-1-4-1-1 0zM486 206l2 1-3-1-2-1zM491 205l1 0 1 0 2 0-3 0-2-1-1 0-2 1zM475 206l1 0 2 0 1-2-3-1-2 2-1 1-2-1zM482 204l1 1 2 1-4-1-1-1-1-1zM471 205l2 1-3-2-2-1zM474 205l2-2 1 0-3-2-2 0-1 2zM479 203l1 1-3-1-2-2zM468 203l2 1 1-1 1-2-3-2-1 2-2 1-1-1zM475 201l2 2-4-2-1-2zM466 202l2-1-3-1-2 1z"/><path class="p3" d="M557 203l2-1 1-4-3-1-1 4-2 1zM544 204l2-3-3 1-2 3zM549 204l1-1 1-4-3 1-1 3-2 1zM554 202l2-1 1-4-3 1-2 4-1 0zM537 204l1 1 2 1-4 0-1-1-1-1zM543 202l1 0 1 2-3 0-1-1-2 0zM545 201l1 0-3-1-1 0zM484 204l1 1 1 1-3-1-1-1-2-1zM479 204l1-1 2 1-3-1-2 0-1 0zM466 204l1-2-3-2-1 2zM470 203l1 2-3-2-1-2zM477 203l2 0-4-2-1 0zM460 203l1 1 2-2-4-2-1 2-1-1zM472 201l2 0 1 0-3-2-1 0-2 0zM458 202l1-2-3-1-1 1zM465 201l1 1-3-1-1-1zM455 200l1-1-3-2-2 1z"/><path class="p4" d="M562 203l2-6-4 1-1 4zM553 203l2-4-4 0-1 4zM565 200l1-4-3 0-2 3zM547 202l2 2-4 0-1-2zM560 198l1 1 2-3-4 1-1 2-1-1zM548 200l2 0 1 2-3 0-2-1-1 0zM554 198l1-1-3 0-1 2zM467 202l2-1 1 2-3-2-2-2-1 1zM463 202l1-2-3-2-2 2zM467 201l1 2-3-2-1-2zM457 201l1 1-3-2-2 0zM459 200l2-2-3-1-2 2zM464 199l1 2-3-1-2-3zM446 200l2-3-4-2-1 3zM453 200l2 0-4-2-1 0zM456 199l2-2-4-2-1 2z"/><path class="p5" d="M566 199l2 1 1-4-3 0-1 4-2-1zM579 197l1-5-3 0-1 4zM556 199l1 4-3-1-1-3zM563 199l2 1-4-1-1-1zM569 197l1-1 2-4-4 0-1 3-1 1zM546 201l1 1-3 0-1 0zM551 199l2 0 1 3-3 0-1-2-2 0zM557 197l1-1-3 1-1 1zM563 196l1-1-3 1-2 1zM458 200l2 3-3-2-2-3zM464 200l1-1 2 2-3-2-2-2-1 1zM448 201l2 0 1-3-3-1-2 3-1 0zM461 198l1-1 2 2-4-2-1-1-1 1zM445 200l1 0-3-2-1 0zM452 197l1 3-3-2-1-3zM458 197l1-1-3-2-2 1zM442 198l1 0 1-3-3-3-1 4-2 0zM440 196l1-4-3-3-1 5z"/><path class="p6" d="M571 199l1-5-3 2-1 4zM582 196l2-5-4 1-1 5zM572 197l1 0 2-5-3 0-2 4-1 1zM555 199l1 0-3 0-2 0zM560 198l2-2 1 3-3-1-2-2-1 1zM566 196l1-1 2 2-3-1-2-1-1 1zM558 196l2 2-3 0-2-1zM451 198l1-3-3-1-1 3zM455 198l2 3-4-1-1-3zM448 197l1-3-3-2-2 3zM444 195l2-3-3-3-2 3zM449 195l1 3-3-3-2-2zM438 196l2 0-3-2-2 0z"/><path class="p7" d="M589 197l1-7-3 0-1 6zM580 196l1-7-3 1-1 6zM586 196l1-6-3 1-2 5zM575 196l2 0 1-6-3 2-2 5-1 0zM564 197l1-2 1 4-3 0-1-3-2 2zM569 196l2-2 1 3-3 0-2-2-1 1zM578 193l1 4-3-1-2-3zM580 192l2-6-3 0-2 6zM572 192l1-2-3 0-2 2zM457 197l1 3-3-2-1-3zM454 195l1 3-3-1-2-3zM443 196l2 4-3-2-2-4zM449 194l1 0 2 3-3-2-2-3-1 0zM433 197l2-1 1-4-3-3-2 4-1 1zM440 194l2 4-4-2-1-5zM447 192l2 3-4-2-1-3z"/><path class="p8" d="M572 194l2-2-3 2-2 2zM581 192l1 4-3 1-1-4zM575 192l1-3-3 1-1 2zM452 195l2 0-4-1-1 0zM446 192l1 0-3-2-1-1zM430 194l1-1 2-4-4-2-1 4-1 0zM437 191l1 5-3-2-1-6zM427 191l1 0 1-4-3-1-1 3-2 0z"/><path class="p9" d="M584 192l2 4-4 0-1-4zM574 192l1 4-3 1-1-3zM578 190l1-3-3 2-1 3zM584 191l1-7-3 2-2 6zM588 189l1-1 2-4-4 2-1 3-1 1zM576 189l2 4-4 0-1-3zM439 194l2-4-4-2-1 4zM432 193l1 4-3-3-2-4zM436 192l1-4-3-2-1 3zM421 194l2-4-3-2-2 4zM428 190l2 4-3-3-2-3zM418 192l2-4-4-2-1 5zM415 191l1-5-3-3-1 5zM412 188l1-5-3-3-2 5z"/><path class="p10" d="M590 190l2-9-4 1-1 8zM594 190l2-2-3 0-2 1zM606 186l1-1-3 0-2 1zM587 190l1-8-3 2-1 7zM591 189l2-1 1-5-3 1-2 4-1 1zM597 186l1-5-3 0-1 5zM441 190l1 1 1 5-3-2-1-5-2-1zM439 189l1 5-3-3-1-5zM423 190l1-7-3-2-1 7zM433 189l1-3-3-2-2 3zM425 188l2 3-4-2-1-2zM429 187l2-3-3-2-2 4zM422 187l1 2-3-3-1-2z"/><path class="p11" d="M598 189l1-2-3 1-2 2zM609 185l1-1-3 1-1 1zM596 188l1-6-3 1-1 5zM600 186l1-5-3 0-1 5zM581 189l2-3-4 1-1 3zM579 187l2 5-3 1-2-4zM587 185l1 4-3 1-2-4zM437 188l2 1-3-3-2 0zM434 186l2 0 1 5-3-3-2-4-1 0zM417 187l1 5-3-1-1-5zM420 188l1-7-3-2-2 7zM431 184l1 0-3-2-1 0zM416 186l2-7-3-4-2 8z"/><path class="p12" d="M599 187l1-7-3 2-1 6zM603 186l2-6-4 1-1 5zM610 184l2-13-4 2-1 12zM583 186l1 6-3 0-2-5zM590 184l1 5-3 0-1-4zM594 183l1 1 2 2-3 0-2-1-1-1zM585 184l2 1-4 1-1 0zM430 187l2 6-4-3-1-6zM407 186l1-4-3-3-2 4zM414 186l1 5-3-3-2-5zM410 183l2 5-4-3-1-6zM413 183l2-8-4-3-1 8z"/><path class="p13" d="M607 185l1-6-3 1-2 6zM612 184l2-1 1-14-3 2-2 13-1 1zM593 184l1 6-3-1-1-5zM597 182l2 1 1 3-3 0-2-2-1-1zM588 182l2 2-3 1-2-1zM427 184l1 6-3-2-1-5zM424 183l1 5-3-1-1-6zM405 184l2 2-4-3-1-2zM421 181l1 6-3-3-2-5zM403 183l2-4-4-3-1 3z"/><path class="p14" d="M615 184l2-1 1-15-3 1-1 14-2 1zM602 182l1 4-3 0-1-3zM601 181l2-8-3 1-2 7zM424 183l2-2-4-3-1 3zM421 181l1-3-3-1-1 2zM408 182l1-7-3-2-1 6zM402 181l1 2-3-4-1-1z"/><path class="p15" d="M600 180l2 2-3 1-2-1zM605 180l1-9-3 2-2 8zM592 181l1 3-3 0-2-2zM426 181l1 3-3-1-2-5zM422 178l2 5-3-2-2-4zM418 179l1-2-3-3-1 1zM405 179l1-6-3-3-2 6zM392 179l1-11-3-3-2 13zM400 179l1-3-3-2-1 2z"/><path class="p16" d="M605 180l2 5-4 1-1-4zM608 179l1-10-3 2-1 9zM604 176l2 10-4 0-1-9zM415 178l2 9-3-1-2-10zM419 177l2 4-4-2-1-5zM390 179l2 0-4-1-1-1zM399 178l1 1-3-3-2-1zM401 176l2-6-3-2-2 6zM387 177l1 1 2-13-4-3-1 13-1 0zM395 175l2 1-3-3-2-1zM385 175l1-13-3-4-1 14z"/><path class="p17" d="M622 175l2-6-3 1-2 5zM619 175l2-5-4 2-1 4zM608 174l1 11-3 1-2-10zM603 173l1 3-3 1-1-3zM412 176l2 10-4-3-1-10zM384 175l1 0-3-3-2-1z"/><path class="p18" d="M626 175l1-8-3 2-2 6zM623 171l2-3-3 1-2 3zM612 171l1-6-3 2-2 6zM615 171l1 5-3 1-2-5zM413 177l1-4-3-2-2 4zM409 175l2-4-4-3-1 5zM406 173l1-5-3-3-1 5zM409 173l1 10-3-4-1-10z"/><path class="p19" d="M627 170l1-2-3 0-2 3zM611 172l1 12-3 1-1-11zM618 170l1 5-3 1-1-5zM621 170l1-3-3 3-2 2zM606 171l2 3-4 2-1-3zM414 173l1 5-3-2-1-5zM411 171l1 5-3-3-2-5zM400 173l2 8-3-3-2-7zM397 171l2 7-4-3-1-6zM403 170l1-5-3-2-1 5z"/><path class="p20" d="M630 169l1-1-3 0-1 2zM621 170l1 5-3 0-1-5zM624 169l1-4-3 2-1 3zM628 168l2-13-4 1-1 12zM615 169l1-6-3 2-1 6zM622 167l1 4-3 1-1-2zM396 171l2-9-4-3-1 9zM407 168l2 5-3-4-2-4zM378 171l2-2-3-3-2 1zM394 169l1 6-3-3-1-6z"/><path class="p21" d="M624 169l2 6-4 0-1-5zM631 168l2-14-3 1-2 13zM614 171l1 13-3 0-1-12zM632 165l2 10-4 0-1-9zM609 169l2 3-3 2-2-3zM613 165l2 6-4 1-1-5zM393 168l1-9-3-3-1 9zM404 165l2 4-4-3-1-3zM380 169l1-8-3-2-1 7zM375 167l2-1-4-4-1 1z"/><path class="p22" d="M633 167l2 0 1-15-3 2-2 14-1 1zM627 167l2-4-4 2-1 4zM636 164l1 11-3 0-2-10zM618 168l2-7-4 2-1 6zM625 165l2 5-4 1-1-4zM390 165l1-9-3-3-2 9zM377 166l1-7-3-4-2 7zM364 168l1-11-3-3-2 11zM360 165l2-11-4-3-1 12z"/><path class="p23" d="M616 163l2 7-3 1-2-6zM399 164l1 9-3-2-1-10zM389 165l1 14-3-2-1-14zM386 162l2-9-3-5-2 10zM372 163l1-1 2-7-3-2-2 5-1 1zM357 163l1-12-3-4-1 13z"/><path class="p24" d="M639 162l1 12-3 1-1-11zM629 163l1 6-3 1-2-5zM396 161l1 10-3-2-1-10zM386 163l1 14-3-2-2-15z"/><path class="p25" d="M620 161l1 9-3 0-2-7zM398 162l1 2-3-3-2-2zM381 161l2-10-4-2-1 10zM393 159l1 10-3-3-2-9zM374 161l1 6-3-4-1-5zM382 160l2 15-4-4-1-16zM369 159l1-1 2-5-4-3-1 5-2 0z"/><path class="p26" d="M642 160l1 13-3 1-1-12zM632 160l1 7-3 2-1-6zM394 159l2 2-3-2-2-3zM378 159l1-10-3-4-1 10zM371 158l1 5-3-4-2-5zM379 155l1 16-3-3-1-17z"/><path class="p27" d="M623 159l1 10-3 1-1-9zM630 155l1-4-3 2-2 3zM391 156l2 3-4-2-1-4zM365 157l1-19-3-4-1 20zM375 155l1-10-3-3-1 11zM367 154l2 5-4-4-1-3z"/><path class="p28" d="M633 154l1-5-3 2-1 4zM631 151l1 14-3 1-1-13zM388 153l1 4-3-4-1-5zM362 154l1-20-3-4-2 21z"/><path class="p29" d="M358 151l2-21-3-4-2 21z"/><path class="p30" d="M636 152l1-6-3 3-1 5zM634 149l2 15-4 1-1-14zM387 153l2 12-3-2-2-13zM383 151l1-1 2 13-4-3-1-13-2 2z"/><path class="p31" d="M379 149l2-2 1 13-3-5-1-12-2 2z"/><path class="p32" d="M372 148l2 13-3-3-2-13zM376 145l2-2-4-4-1 3z"/><path class="p33" d="M637 146l2 16-3 2-2-15zM369 145l2 13-4-4-1-12zM378 143l1 12-3-4-2-12z"/><path class="p34" d="M366 142l1 12-3-2-1-12z"/><path class="p35" d="M641 143l1 17-3 2-2-16zM370 143l1-5-3-4-2 4z"/><path class="p37" d="M366 138l2-4-3-4-2 4z"/><path class="p38" d="M371 138l1 10-3-3-1-11zM363 134l2-4-4-3-1 3z"/><path class="p39" d="M368 134l1 11-3-3-1-12zM360 130l1-3-3-4-1 3z"/><path class="p40" d="M365 130l1 12-3-2-2-13z"/><path class="p41" d="M361 127l2 13-4-3-1-14z"/><path class="p1" d="M520 210l1-2-3-1-2 1zM524 208l1 1 2-2-4-1-1 1-1 0zM511 209l1-2-3 0-2 1zM516 208l2-1-4-1-1 1zM506 209l1-1 2-1-3 0-2 1-1 1zM496 209l1-1 2 0-4-1-1 0-2 1zM491 208l1 0-3-2-1 1z"/><path class="p2" d="M541 209l1-3-3-1-2 3zM532 209l1-3-3 1-2 2zM537 208l2-3-4 1-1 2zM543 206l1-2-3 1-1 1zM517 210l2-2-4 0-1 3zM521 209l2 1 1-3-3 1-1 2-2-1zM527 208l1 1 2-2-3 0-2 2-1-1zM533 206l1 2 1-2-3 0-1 2-2-1zM513 211l1 0 1-3-3-1-1 2-2 0zM518 209l2 1-4-2-1 0zM521 208l1-1 2 1-3-1-2-1-1 1zM504 209l1-1-3 0-2 0zM509 209l2 0-4-1-1 1zM512 207l2 0 1 1 1 0-3-1-1 0-2-1-1 1zM498 208l1 0 1 0 2 0 1-1-3 0-1 1-2 0-1 1-2 0zM505 207l1 2-3 0-2-1zM486 210l1-1 2-2-4-1-1 2-1 1zM493 209l1 0 2 0-4-1-1 0-1 0zM499 208l1-1 1 1-3-1-1-1-2 1zM483 209l1-1 1-2-3-1-1 1-2 1zM488 207l2 1 1 0-3-1-2-1-1-1zM479 207l2-1 1-1-3-1-1 2-2 0z"/><path class="p3" d="M544 209l1-3-3 0-1 3zM549 207l2-2-3 0-2 2zM555 205l1-2-3 0-1 2zM535 210l1-4-3 0-1 3zM546 207l2-2-4-1-1 2zM552 205l1-2-3 0-1 1zM525 209l1 1 1-3-3 0-1 3-2-1zM530 208l2 1-4 0-1-1zM536 206l1 2-3 0-1-2zM539 205l1-2-3 1-2 2zM524 207l2-1 1 2-3 0-2-1-1 1zM530 207l1-2 2 1-4 1-1-1-1 1zM508 210l2-2 1 1 2 2-4-2-1-1-2-1-1 1zM515 208l2 0 1 1-3-1-1-1-2 0zM499 209l2 0 1 0 2 0-4-1-1 0-1 0-2 1zM505 208l1-1 2 1 1 1-3 0-1-2-2 0-1 1zM491 209l1-2-3 0-2 2zM495 208l1 1 2-1-4 1-1 0-1-1zM503 207l2 0-4 1-1-1zM484 209l2 1-3-1-2-1zM489 207l1 0 2 1 1 1-3-1-2-1-1-1-2 0zM474 209l2-2-4-2-1 2zM481 208l2 1-4-2-1-1zM485 206l2 0 1 1-3-2-1-1-2 1zM471 207l1-2-3 0-1 1zM478 206l1 1-3-1-1 0zM482 205l2-1-4-1-1 1zM466 206l2 0 1-1-3-1-2 2-1-1zM463 205l1 1 2-2-3-2-2 2-1-1z"/><path class="p4" d="M553 207l1-3-3 1-2 2zM551 205l1-5-3 1-1 4zM556 203l2-5-3 1-2 4zM561 203l1 0-3-1-2 1zM534 208l1 2-3-1-2-1zM536 206l2-2-3 0-2 2zM539 206l2 3-4-1-1-2zM542 206l1-4-3 1-1 2zM545 204l1 3-3-1-1-2zM548 205l1-4-3 0-2 3zM527 207l2-2-3 1-2 1zM533 206l2-2-4 1-1 2zM542 204l1 2-3 0-2-1zM519 208l1-1 1 2-3 0-1-1-2 0zM492 207l1-1 2 2-3 0-2-1-1 0zM483 206l1 3-3-1-1-3zM473 208l1 1-3-2-1-1zM476 207l1-2-3-2-2 2zM480 205l1 3-3-2-1-2zM470 206l1 1-3-1-2 0zM472 205l2-2-3-1-2 3zM477 204l1 2-3 0-2-3zM459 206l2-4-4 0-1 3zM469 205l2-3-4 0-1 2zM473 203l2 3-4-1-1-2zM455 205l1 0 1-3-3-2-1 3-2 0zM453 203l1-3-3-2-1 3z"/><path class="p5" d="M562 204l1-2-3 1-2 2zM554 204l2-5-4 1-1 5zM558 205l2-2 1-6-3 1-2 5-1 2zM564 202l1 0 2-7-3 2-2 6-1 0zM542 206l2 3-3 0-2-3zM545 206l2-4-4 0-1 4zM548 204l1 3-3 0-1-3zM538 204l1 2-3 0-1-2zM543 202l2 2-3 0-2-1zM549 201l1 1 2 3-3-1-2-2-1-1zM529 205l1 3-3 0-1-2zM535 204l1 2-3 0-2-1zM540 203l2 1-4 1-1-1zM482 205l1 1-3-1-2-1zM477 205l1-1 2 1-3-1-2-2-1 1zM474 203l1-1 2 2-4-1-1-1-1 0zM458 205l1 1-3-1-1 0zM465 202l1 4-3-1-1-3zM471 202l1 0 1 1-3 0-1-2-2 1zM457 202l2-3-3-2-2 3zM462 202l1 3-3-2-2-3zM451 203l2 0-3-2-2 0z"/><path class="p6" d="M570 203l2-1 1-8-3 0-1 8-2 0zM563 202l1-7-3 2-1 6zM567 202l2 0 1-8-3 1-2 7-1 0zM574 199l2-6-4 1-1 5zM551 203l2 4-4 0-1-3zM547 202l1 2-3 0-2-2zM552 200l2 2 1 3-3 0-2-3-1-1zM559 199l2 4-4 0-1-4zM464 203l1-3-3 0-1 2zM468 203l2 3-4 0-1-4zM461 202l1-2-3-1-2 3zM446 204l2-1 1-5-3-2-2 5-1 1zM443 202l1-1 2-5-4-2-1 5-1 1zM454 200l2-3-4-2-1 3zM440 200l1-1-3-1-2 1zM436 199l2-1-3-2-2 1z"/><path class="p7" d="M577 200l2-7-3 0-2 6zM573 198l1 1-3 0-1-1zM557 200l1 5-3 0-1-3zM570 198l1 1-3 1-2-1zM558 198l1 1-3 0-1 0zM467 200l1 3-3-1-2-2zM456 202l2 3-3 0-2-4zM462 200l1 0 2 2-3 0-2-3-1 0zM453 201l2 4-4-2-1-4zM459 199l1 0 2 3-4-2-1-3-1 0zM450 199l1 4-3-2-1-4zM456 197l1 0-3-2-2 0zM441 199l1-5-3 0-1 4zM447 197l1 4-3-1-2-4zM438 198l1-4-3-2-1 4z"/><path class="p8" d="M581 199l1-8-3 2-2 7zM592 196l1-7-3 1-1 7zM576 198l1 2-3-1-1-1zM583 197l2-8-4 0-1 7zM560 199l2 5-4 1-1-5zM578 195l2 1-3 0-2 0zM556 199l1 1-3 2-2-2zM561 197l2 0 1 5-3 1-2-4-1-1zM567 195l1-1-3 1-1 2zM465 200l2 0-4 0-1 0zM449 198l1-3-3-2-1 3zM441 198l2 4-3-2-2-4zM431 199l2-3-4-1-1 3zM428 198l1-3-3-2-1 4zM425 197l1-4-3-3-2 4z"/><path class="p9" d="M595 195l2-8-4 2-1 7zM579 197l2 2-4 1-1-2zM586 196l2-8-3 1-2 8zM582 195l1 2-3-1-2-1zM566 196l1 6-3 0-1-5zM576 193l1-2-3 1-2 2zM568 194l2 4-4 1-1-4zM455 197l1 5-3-1-1-5zM452 196l1 5-3-2-1-5zM446 196l1-3-3-2-2 3zM449 194l1 5-3-2-2-5zM433 196l1-7-3-1-2 7zM438 196l2 4-4-1-1-4zM442 194l2-3-3-1-2 4zM429 195l2-7-3-2-2 7zM435 195l1 4-3-2-1-4z"/><path class="p10" d="M599 195l1-9-3 1-2 8zM590 195l1-9-3 2-2 8zM585 194l1 2-3 1-1-2zM569 195l1 8-3-1-1-6zM579 193l1-3-3 1-1 2zM587 191l2 6-3-1-2-4zM564 195l2 1-3 1-2 0zM570 194l1-2 2 6-3 0-2-4-1 1zM577 191l1 4-3 1-1-4zM450 195l2 1-3-2-2-1zM447 193l2 1-4-2-1-1zM430 195l1 4-3-1-1-4zM444 191l1 1 2 5-4-1-1-5-1-1zM419 196l2-6-3-1-2 5zM427 194l1 4-3-1-2-5zM416 194l2-5-4-3-1 5zM423 192l2 5-4-3-1-5zM426 193l2-7-4-3-1 7z"/><path class="p11" d="M588 193l2 2-4 1-1-2zM591 190l1 6-3 1-2-6zM573 194l2-2 1 6-3 0-2-6-1 2zM585 189l1-4-3 1-2 3zM413 191l1-5-3-2-1 4zM420 189l1 5-3-2-1-5z"/><path class="p12" d="M601 188l1-3-3 2-1 2zM582 191l2-3-4 2-1 3zM593 189l2-10-3 2-2 9zM580 190l2 5-4 0-1-4zM437 192l2-4-4-2-1 3zM440 191l1 7-3-2-1-6zM437 190l1 6-3-1-1-6zM434 189l1 6-3-2-2-6zM415 191l1 3-3-3-1-3zM410 188l1-4-3-2-1 4z"/><path class="p13" d="M604 188l2-4-4 1-1 3zM594 188l1 7-3 1-1-6zM597 187l1-10-3 2-2 10zM578 190l1 7-3 1-1-6zM584 188l1 6-3 1-2-5zM588 188l1-5-3 2-1 4zM586 185l1 6-3 1-1-6zM434 189l1-3-3-1-1 3zM421 190l1-7-3-2-1 8zM431 188l1-3-3-2-1 3zM418 189l1-8-3-3-2 8zM428 186l1-3-3-2-2 2zM412 188l1 3-3-3-2-2zM408 186l2 2-3-2-2-2z"/><path class="p14" d="M607 188l2-4-3 0-2 4zM619 184l1-1-3 0-2 1zM597 188l2 7-4 0-1-7zM600 186l1-11-3 2-1 10zM610 185l1-7-3 1-1 6zM602 185l2-8-4 3-1 7zM439 188l1 3-3-1-2-4zM435 186l2 4-3-1-2-4zM432 185l2 4-4-2-1-4zM429 183l1 4-3-3-1-3zM403 188l2 0 1-9-3-3-2 11-1-1zM414 186l2-8-3-1-2 7zM400 186l1 1 2-11-4-2-1 11-1 0zM411 184l2-7-4-2-1 7zM397 185l1 0 1-11-3-3-1 11-2 0z"/><path class="p15" d="M613 184l1-6-3 0-1 7zM620 183l1-17-3 2-1 15zM606 184l1-8-3 1-2 8zM587 185l1 8-3 1-1-6zM591 186l1-6-3 3-1 5zM589 183l2 7-4 1-1-6zM596 182l2 7-4 1-1-6zM428 187l2 8-3-1-2-8zM425 186l2 8-4-2-1-9zM422 183l1 9-3-3-1-9zM393 182l2 0 1-11-3-3-1 11-2 0z"/><path class="p16" d="M616 183l2-7-4 2-1 6zM622 182l1-1 2-18-4 3-1 17-1 1zM609 184l1-10-3 2-1 8zM599 180l2 8-3 1-2-7zM595 179l1 3-3 2-1-3zM419 180l1 9-3-2-2-9z"/><path class="p17" d="M625 181l2-1-4 1-1 1zM608 178l2 7-3 0-2-5zM611 178l2-11-4 2-1 10zM592 180l2 8-3 2-2-7zM604 177l1 3-3 2-2-2zM422 183l2-3-4-2-1 3zM413 182l2 9-3-3-2-9zM419 181l1-3-3-3-1 3zM416 178l1-3-3-2-1 4zM388 181l2-3-4-3-1 2z"/><path class="p18" d="M627 180l1-20-3 3-2 18zM614 178l2-13-3 2-2 11zM603 179l1 9-3 0-2-8zM598 177l1 3-3 2-1-3zM424 180l1 6-3-3-2-5zM420 178l2 5-3-3-2-5zM406 179l1-9-3-2-1 8zM410 179l2 9-4-2-1-8zM407 178l1 8-3-2-1-8zM390 178l1-10-3-2-2 9zM404 176l1 8-3-3-2-8zM385 177l1-2-3-3-1 2z"/><path class="p19" d="M630 179l1-21-3 2-1 20zM606 178l1 10-3 0-1-9zM612 177l1 7-3 1-2-7zM596 178l1 10-3 0-2-8zM607 176l1 2-3 2-1-3zM417 175l2 5-4-2-1-5zM403 176l1-8-3-3-2 9zM399 174l2-9-3-3-2 9zM376 178l2-9-3-3-2 9zM386 175l2-9-3-3-2 9z"/><path class="p20" d="M618 176l1-14-3 3-2 13zM629 173l1-8-3 2-1 8zM601 175l2 4-4 1-1-3zM373 175l2-9-4-2-1 9zM382 174l1-2 2-9-4-2-1 8-2 2zM370 173l1-9-3-3-1 10z"/><path class="p21" d="M621 175l1-16-3 3-1 14zM632 172l2-10-4 3-1 8zM615 174l1 9-3 1-1-7zM610 174l2 3-4 1-1-2zM398 174l2 12-3-1-2-13zM395 172l2 13-4-3-1-13zM367 171l1-10-3-4-1 11z"/><path class="p22" d="M635 172l2-12-3 2-2 10zM605 173l1 5-3 1-2-4zM617 169l2 15-4 0-1-13zM412 173l1 9-3-3-1-8zM409 171l1 8-3-1-1-9zM387 172l1 9-3-4-1-8zM392 169l1 13-3-3-1-14z"/><path class="p23" d="M639 171l1-13-3 2-2 12zM613 171l2 3-3 3-2-3zM628 167l1 6-3 2-2-6zM621 166l2-7-3 2-2 7zM613 167l1 4-3 1-2-3zM407 170l2 1-3-2-2-1zM394 170l2-9-4-2-1 9zM404 168l2 1 1 9-3-2-2-9-1-2zM391 168l1-9-3-3-1 10zM402 167l2 9-4-3-1-9zM384 169l1 8-3-3-2-8z"/><path class="p24" d="M641 165l1-17-3 1-1 17zM631 166l1 6-3 1-1-6zM636 166l2 0 1-17-3 3-1 15-2 0zM620 166l2 16-3 2-2-15zM630 165l2-5-3 3-2 4zM616 165l1 4-3 2-1-4zM401 165l1 2-3-3-1-2zM378 169l1-16-3-4-1 17zM388 166l1-10-3-3-1 10zM380 166l2 8-4-3-1-7zM377 164l1 7-3-4-1-6z"/><path class="p25" d="M634 165l1 7-3 0-1-6zM640 165l1 0-3 1-2 0zM625 163l1-7-3 3-2 7zM375 166l1-17-3-3-2 18zM385 163l1-10-3-2-2 10zM371 164l2-18-3-3-2 18z"/><path class="p26" d="M644 164l2-19-4 3-1 17zM634 162l1-5-3 3-2 5zM368 161l2-18-4-5-1 19z"/><path class="p27" d="M648 163l1-21-3 3-2 19zM643 163l1 1-3 1-1 0zM645 159l2 14-4 0-1-13zM624 163l1 18-3 1-2-16zM619 162l1 4-3 3-1-4zM397 162l1 12-3-2-1-12zM394 160l1 12-3-3-1-12z"/><path class="p28" d="M637 160l1-5-3 2-1 5zM628 160l1-7-3 3-1 7zM635 157l1 9-3 1-1-7zM396 161l1 1-3-2-2-1zM392 159l2 1-3-3-2-1zM391 157l1 12-3-4-2-12z"/><path class="p29" d="M649 157l1 15-3 1-2-14zM631 158l2-7-4 2-1 7zM622 159l2 4-4 3-1-4zM626 156l2 11-4 2-1-10zM389 156l2 1-4-4-1 0z"/><path class="p30" d="M640 158l1-7-3 4-1 5zM638 155l2 10-4 1-1-9zM385 158l2 14-3-3-2-14zM382 155l2 14-4-3-1-14zM386 153l1 0-3-3-1 1z"/><path class="p31" d="M652 154l1 16-3 2-1-15zM629 153l2 13-3 1-2-11zM379 152l1 14-3-2-1-14zM376 150l1 14-3-3-2-13z"/><path class="p32" d="M639 149l2-6-4 3-1 6zM379 153l2-7-4-3-1 6z"/><path class="p33" d="M641 151l2 12-3 2-2-10zM633 151l1 14-3 1-2-13zM642 148l2-7-3 2-2 6zM376 149l1-6-3-3-1 6z"/><path class="p34" d="M373 146l1-6-3-2-1 5z"/><path class="p35" d="M646 145l1-8-3 4-2 7zM381 146l1 9-3-3-2-9z"/><path class="p36" d="M377 143l2 9-3-2-2-10z"/><path class="p37" d="M644 141l1 18-3 1-1-17zM374 140l2 10-4-2-1-10z"/><path class="p38" d="M649 142l1-9-3 4-1 8z"/><path class="p39" d="M647 137l2 20-4 2-1-18z"/><path class="p42" d="M650 133l2 21-3 3-2-20z"/><path class="p2" d="M516 211l1-1-3 1-1 0zM507 211l1-1-3-2-1 1z"/><path class="p3" d="M533 211l1-5-3 1-2 3zM538 210l2-4-4 0-1 4zM522 211l2 0 1-4-3 0-2 3-1 0zM529 210l2-3-4 0-1 3zM519 210l1 0 2-3-3 1-2 2-1 1zM510 211l2-2-4 1-1 1zM496 213l1-3-3-1-2 2zM501 210l2 0 1-1 1 1 2 1-3-2-2 0-1 0-2 0-1 0zM492 211l2-2-3 0-2 1zM498 209l1 0-3 0-1-1zM489 210l2-1-4 0-1 1z"/><path class="p4" d="M541 210l2-5-3 1-2 4zM547 208l1-4-3 2-1 3zM525 212l2-1 1-5-3 1-1 4-2 0zM531 210l2 1-4-1-1-1zM537 208l1 2-3 0-1-2zM517 211l1-1-3-1-2 1zM528 209l1 1-3 0-1-1zM513 210l2-1 1-3-3 1-1 2-2 2zM499 213l1-3-3 0-1 3zM504 210l2 0 1-1 2 0 1 2-3 0-2-1-1-1-1 1-2 0zM512 209l1-2-3 1-2 2zM514 208l2 3-3 0-2-2zM494 210l2 3-4-2-1-2zM497 210l1-3-3 0-1 2zM491 209l1 2-3-1-1-1zM494 209l1-2-3 0-1 2zM481 209l1-1-3 0-2 1zM488 209l1 1-3 0-2-1zM476 209l1 0 2-1 1-2-3-1-1 2-2 2-1-1zM466 208l1-3-3-2-2 3z"/><path class="p5" d="M554 209l1-5-3 0-2 4zM559 207l2-4-4 0-1 4zM545 210l1-6-3 1-2 5zM550 208l2-4-4 0-1 4zM556 207l1-4-3 1-1 3zM534 209l2 1 1-5-3 1-1 5-2-1zM540 207l1 3-3 0-1-2zM540 206l1-3-3 1-2 2zM518 210l1-4-3 0-1 3zM525 207l1-1-3 0-1 1zM531 207l1-2 2 3-4 0-1-3-2 2zM508 210l1 0 2-2-4 1-1 1-2 0zM512 209l1 1-3 1-1-2zM518 207l1 3-3 1-2-3zM522 207l1-1 2 3-4 0-1-2-1 1zM497 210l2 3-3 0-2-3zM500 210l2-3-4 0-1 3zM513 207l1 1-3 1-1-1zM489 210l1-2-3-1-2 2zM498 207l2 1 1 2-3-1-1-2-2 0zM482 209l2 0 1 0 2-2-4-1-1 2-1 1-2-1zM495 207l2 0 1 2-3-1-2-2-1 1zM472 209l2-4-4 0-1 4zM479 208l2 1-4 0-1 0zM482 208l1-2 2-1-3 0-2 1-1 2zM486 206l2 3-4 0-1-3zM468 209l1 0 1-4-3 0-1 3-2 0zM480 206l2-1-4-1-1 1zM464 208l2 0-4-2-1 0zM471 205l2 3-3-2-2-3zM461 206l1 0 2-3-3-1-2 4-1-1z"/><path class="p6" d="M562 207l2-5-3 1-2 4zM565 205l1-3-3 0-1 2zM543 207l2 3-4 0-1-3zM557 203l2-6-3 2-2 5zM543 205l1-4-3 2-1 3zM546 205l1 3-3 1-2-3zM548 204l2-4-3 2-2 4zM528 206l2-1-4 1-1 1zM534 206l1-1 2 3-3 0-2-3-1 2zM541 203l1 3-3 0-1-2zM514 208l1 1 2 2-4-1-1-1-1-1zM519 206l2 1 1 4-3-1-1-3-2-1zM526 206l2 3-3 0-2-3zM511 208l1 1-3 0-2 0zM516 206l2 1-4 1-1-1zM502 207l1 0 1 3-3 0-1-2-2-1zM490 208l1-2-3-1-1 2zM493 207l1 3-3-1-1-3zM481 207l1 2-3-1-1-2zM487 207l1-2 2 1 1 3-3 0-2-3-1-1-2 1zM471 209l1 0-3 0-1 0zM478 206l1 2-3 1-1-3zM485 205l1 1-3 0-1-1zM470 205l2-3-3 0-2 3zM475 206l1 3-3-1-2-3zM456 207l1-1-3-2-1 2zM467 205l2-3-4-2-1 3zM453 206l1-2-3 0-2 1zM449 205l2-1 1-5-3-1-1 5-2 1z"/><path class="p7" d="M568 204l1-2-3 0-1 3zM574 202l1-1 2-9-4 2-1 8-2 1zM561 203l1-7-3 1-2 6zM566 202l2-7-4 0-1 7zM549 204l1 4-3 0-1-3zM552 204l1-5-3 1-2 4zM537 205l2-2-4 2-1 1zM523 206l1 1 1 5-3-1-1-4-2-1zM530 205l1 5-3-1-2-3zM505 206l1 1 2 3-4 0-1-3-1 0zM491 206l2 1-3-1-2-1zM474 205l1-3-3 0-2 3zM466 205l2 4-4-1-1-4zM473 203l2 3-4-1-1-3zM457 206l2-4-4-2-1 4zM463 204l1 4-3-2-1-4zM469 202l1 0 1 3-3-2-1-3-2 0zM454 204l1-4-3-1-1 5zM460 202l1 4-3-1-2-3zM438 203l1-3-3-2-2 3z"/><path class="p8" d="M571 203l2-3-4 2-1 2zM564 202l1-8-3 2-1 7zM569 202l2-9-3 2-2 7zM549 204l2-5-4 1-1 4zM552 204l2 5-4-1-1-4zM555 204l1-6-3 1-1 5zM558 202l1 5-3 0-1-5zM540 204l2-3-3 2-2 2zM546 204l1-4-3 1-1 4zM555 202l1 5-3 0-2-4zM532 205l1-1 1 5-3 1-1-5-2 1zM539 203l1 4-3 1-2-3zM544 201l2 4-4 1-1-3zM550 200l1 3-3 1-1-2zM480 204l1 3-3-1-2-3zM476 203l2 3-3 0-2-3zM472 202l1 1-3-1-1 0zM444 205l2-4-4 0-1 3zM441 204l1-3-3-1-1 3zM448 201l1 4-3-1-1-4zM445 200l1 4-3-2-2-4zM434 201l2-3-3-2-2 3z"/><path class="p9" d="M580 200l2 0-4 0-1 1zM573 200l1-10-3 3-2 9zM577 201l1-1 2-10-3 2-2 9-1 1zM584 198l1-9-3 2-1 8zM558 202l2-6-4 2-1 6zM563 199l2 6-3-1-2-5zM542 201l1 6-3 0-1-4zM547 200l2 4-3 1-2-4zM553 199l2 3-4 1-1-3zM559 197l1 2-3 1-1-1zM475 202l1 1-3 0-1-1zM462 203l1-4-3-1-1 4zM454 203l2 4-3-1-2-5zM459 202l1-4-3-1-2 3zM446 201l1-6-3-1-2 7zM451 201l2 5-4-1-1-4zM455 200l2-3-3-1-2 3zM442 201l2-7-4 0-1 6zM452 199l2-3-4-1-1 3zM439 200l1-6-3-2-1 6zM436 198l1-6-3-3-1 7z"/><path class="p10" d="M585 200l1-14-3 2-1 12zM576 200l1-11-3 1-1 10zM582 200l1-12-3 2-2 10zM587 198l2-10-4 1-1 9zM567 201l1-9-3 2-1 8zM583 196l1 2-3 1-2-2zM561 200l1 7-3 0-1-5zM465 200l1 5-3-1-2-5zM460 198l1 1 2 5-3-2-2-4-1-1zM457 197l1 1 2 4-4 0-1-5-1-1zM440 200l1 4-3-1-2-4zM454 196l1 1-3-1-2-1zM429 201l2-6-4-2-1 6zM436 199l2 4-4-2-1-4zM426 199l1-6-3-2-1 6zM433 197l1 4-3-2-1-4zM423 197l1-6-3-1-2 6z"/><path class="p11" d="M590 198l2-12-3 2-2 10zM596 195l2-11-4 1-1 10zM602 195l1-10-3 1-1 9zM586 195l1 3-3 0-1-2zM593 195l1-10-3 1-1 9zM567 197l1 7-3 1-2-6zM551 199l1 5-3 0-2-4zM556 198l2 4-3 0-2-3zM562 196l1 3-3 0-1-2zM568 195l1 0-3 1-2-1zM463 199l2 1-4-1-1-1zM428 198l1 3-3-2-1-3zM425 196l1 3-3-2-2-3z"/><path class="p12" d="M594 196l1-12-3 2-2 12zM605 194l1-11-3 2-1 10zM589 195l1 3-3 0-1-3zM591 192l2 3-3 0-2-2zM560 196l1 4-3 2-2-4zM565 194l2 3-4 2-1-3zM571 193l1 1 2 8-4 1-1-8-1 0zM577 192l1-2-3 2-2 2zM453 197l1 6-3-2-1-6zM450 195l1 6-3 0-1-7zM444 194l1-3-3-1-2 4zM447 194l1 7-3-1-2-7zM431 195l1-8-3-2-2 8zM440 194l2-4-3-2-2 4zM443 193l2 7-4-2-1-7zM421 194l2 3-4-1-1-3zM418 193l1 3-3-2-1-3z"/><path class="p13" d="M608 193l2-12-4 2-1 11zM599 194l2-13-3 3-2 11zM570 195l1 8-3 1-1-7zM447 195l1-3-3-1-1 3zM442 190l1 3-3-2-1-3zM418 196l1-9-3-2-2 9zM427 193l2-8-3-1-2 7zM413 193l1 1 2-9-4-1-1 9-1-1zM424 191l2-7-4-1-1 7zM410 192l1 1 1-9-3-2-1 9-2 0zM406 191l2 0 1-9-3-3-1 9-2 0z"/><path class="p14" d="M611 193l2-13-3 1-2 12zM603 193l1-14-3 2-2 13zM595 191l1 4-3 0-2-3zM568 192l2 3-3 2-2-3zM574 190l2 1 1 10-3 1-2-8-1-1zM580 190l1-3-3 3-1 2zM585 189l2-4-3 3-2 3zM448 192l2 3-3-1-2-3zM438 191l2 9-4-1-1-8zM445 191l2 3-4-1-1-3zM435 191l1 8-3-2-1-8zM432 189l1 8-3-2-2-8z"/><path class="p15" d="M598 189l1 5-3 1-1-4zM611 187l1-5-3 2-2 4zM600 187l2 8-3 0-2-7zM579 190l1 10-3 1-1-10zM589 188l1-4-3 1-2 4zM581 187l2 9-4 1-1-7zM401 190l2-3-4-1-1 2z"/><path class="p16" d="M614 186l1-6-3 2-1 5zM592 186l1-4-3 2-1 4zM603 185l2-12-4 2-1 11zM577 189l2 1-3 1-2-1zM583 188l1-2-3 1-1 3zM594 185l2-7-4 2-1 6zM435 188l2-2-4-1-1 2zM426 188l2 10-3-2-2-10zM432 187l1-2-3-2-1 2zM429 185l1-2-3-2-1 3zM398 188l1-2-3-3-1 2z"/><path class="p17" d="M617 185l2-6-4 1-1 6zM620 182l1-7-3 1-2 7zM604 184l1 10-3 1-2-8zM606 183l2-13-3 3-2 12zM612 182l1-11-3 3-1 10zM586 186l2-2-4 2-1 2zM598 184l1-8-3 2-2 7zM584 186l2 9-3 1-2-9zM590 184l1 8-3 1-1-8zM437 186l1 5-3 0-2-6zM433 185l2 6-3-2-2-6zM419 187l1-9-3-2-1 9zM423 186l2 10-4-2-1-9zM430 183l2 6-4-2-1-6zM416 185l1-9-3-1-2 9zM420 185l1 9-3-1-1-9zM426 184l1-3-3-1-2 3zM403 187l1-11-3-2-2 12zM412 184l2-9-3-2-2 9zM417 184l1 9-3-2-2-9zM399 186l2-12-4-2-1 11zM395 185l1-2-3-3-2 3zM391 183l2-3-3-2-2 3z"/><path class="p18" d="M620 184l2-7-3 2-2 6zM623 182l1-8-3 1-1 7zM628 180l2-1-3 1-2 1zM588 184l1 11-3 0-2-9zM427 181l1 6-3-1-1-6zM409 182l2-9-4-3-1 9zM386 184l2-8-4-2-1 8zM396 183l1-11-3-2-1 10zM393 180l1-10-3-2-1 10z"/><path class="p19" d="M607 182l1 11-3 1-1-10zM610 181l1-14-3 3-2 13zM615 180l2-12-4 3-1 11zM595 184l2-6-4 4-1 4zM601 181l1-8-3 3-1 8zM593 182l2 9-4 1-1-8zM411 183l2 10-3-1-2-11zM408 181l2 11-4-1-1-12zM405 179l1 12-3-3-1-12zM383 182l1-8-3-2-1 9zM380 181l1-9-3-3-2 9z"/><path class="p20" d="M626 180l1-8-3 2-1 8zM632 179l1-1 1-23-3 3-1 21-2 1zM610 181l1 12-3 0-1-11zM619 179l1-14-3 3-2 12zM402 176l1 12-3-2-2-12z"/><path class="p21" d="M629 178l2-8-4 2-1 8zM613 180l1-16-3 3-1 14zM604 179l1-9-3 3-1 8zM597 178l1 11-3 2-2-9zM609 175l2 12-4 1-1-10zM599 176l1 11-3 1-1-10zM420 178l2 0 1 8-3-1-1-9-2 0zM415 175l2 9-4-2-1-9zM397 178l1 10-3-3-2-9z"/><path class="p22" d="M635 177l1-1 2-24-4 3-1 23-1 1zM622 177l1-15-3 3-1 14zM624 174l2-17-4 2-1 16zM417 176l2 0 1 9-3-1-2-9-1 0zM404 176l1-9-3-2-1 9zM414 175l1 0-3-2-1 0zM411 173l1 0-3-2-2-1zM388 176l1-16-3-2-2 16zM393 176l2 9-4-2-1-9zM390 174l1 9-3-2-1-9z"/><path class="p23" d="M638 175l2 0 1-26-3 3-2 24-1 1zM612 173l2 13-3 1-2-12zM618 172l2 10-4 1-1-9zM602 173l2 11-4 3-1-11zM401 174l1-9-3-2-2 9zM397 172l2-9-3-2-2 9zM384 174l2-16-3-2-2 16zM381 172l2-16-4-3-1 16z"/><path class="p24" d="M627 172l2-18-3 3-2 17zM616 172l1 13-3 1-2-13zM608 170l1 5-3 3-1-5z"/><path class="p25" d="M642 169l1-15-3 4-1 13zM621 170l2 12-3 0-2-10zM605 170l2 12-3 2-2-11zM617 168l1 4-3 2-2-3zM410 171l1 12-3-2-1-12zM407 169l1 12-3-2-1-12z"/><path class="p26" d="M645 168l2-17-4 3-1 15zM631 170l1-20-3 4-2 18zM619 169l1 15-3 1-1-13zM611 167l1 6-3 2-1-5zM404 167l1 12-3-3-2-12z"/><path class="p27" d="M648 167l2-18-3 2-2 17zM625 167l1 13-3 2-2-12zM637 164l2 7-4 1-1-7zM620 165l1 5-3 2-1-4zM409 168l1 3-3-2-2-2zM405 167l2 2-3-2-2-2zM402 165l2 2-4-3-1-1zM400 164l2 12-4-2-1-12z"/><path class="p28" d="M651 162l1-22-3 2-1 21zM614 164l2 8-4 1-1-6zM627 161l1 19-3 1-1-18zM399 163l1 1-3-2-1-1z"/><path class="p29" d="M628 164l1 14-3 2-1-13zM641 161l1 8-3 2-2-7zM646 160l2 3-4 1-1-1zM392 164l2-8-4-3-1 7zM395 163l2 15-4-2-1-15zM392 161l1 15-3-2-1-15z"/><path class="p30" d="M654 161l1-24-3 3-1 22zM644 160l1 8-3 1-1-8zM649 158l2 4-3 1-2-3zM623 162l2 5-4 3-1-5zM389 160l1-7-3-2-1 7zM389 159l1 15-3-2-2-14z"/><path class="p31" d="M630 158l2 21-4 1-1-19zM626 157l1 4-3 2-2-4zM386 158l1-7-3-2-1 7zM383 156l1-7-3-3-2 7z"/><path class="p32" d="M647 158l1 9-3 1-1-8zM653 157l1 4-3 1-2-4zM643 154l2-7-4 4-1 7zM634 155l2-7-3 3-2 7z"/><path class="p33" d="M655 152l1 17-3 1-1-16zM633 155l2 22-3 2-2-21zM629 154l1 4-3 3-1-4zM394 156l1 7-3-2-2-8z"/><path class="p34" d="M647 151l1-7-3 3-2 7zM638 152l1-8-3 4-2 7zM390 153l2 8-3-2-2-8zM387 151l2 8-4-1-1-9zM384 149l1 9-3-3-1-9z"/><path class="p35" d="M658 150l2 18-4 1-1-17zM637 152l1 23-3 2-2-22zM636 148l1 16-3 1-1-14z"/><path class="p36" d="M650 149l1-8-3 3-1 7zM641 149l1-8-3 3-1 8zM632 150l1 5-3 3-1-4zM645 147l1 13-3 3-2-12z"/><path class="p38" d="M648 144l1 14-3 2-1-13zM639 144l2 17-4 3-1-16z"/><path class="p40" d="M651 141l2 16-4 1-1-14zM642 141l2 19-3 1-2-17zM652 140l2-10-4 3-1 9z"/><path class="p42" d="M655 137l2-11-3 4-2 10z"/><path class="p43" d="M646 137l1 21-3 2-2-19z"/><path class="p45" d="M654 130l1 22-3 2-2-21z"/><path class="p47" d="M657 126l1 24-3 2-1-22z"/><path class="p4" d="M505 213l2-3-3 0-2 3zM502 213l2-3-4 0-1 3z"/><path class="p5" d="M548 210l1-6-3 0-1 6zM539 210l1-6-3 1-1 5zM529 211l1 0 2-6-4 1-1 5-2 1zM509 214l1-4-3 0-2 3zM520 212l1-2 2-4-4 0-1 4-1 1zM511 211l1-1 2-2-3 0-2 2-1 0zM487 210l2 0-4-1-1 0z"/><path class="p6" d="M551 210l2-8-4 2-1 6zM557 209l1-7-3 2-1 5zM535 211l2 0 1-8-3 1-2 6-1 1zM542 211l2-7-4 0-1 6zM526 211l2-2-3 0-2 2zM532 211l1-1 2-6-3 1-2 6-1 0zM538 208l1 2-3 0-2-1zM512 213l1-4-3 1-1 4zM523 211l2-2-4 1-1 2zM514 211l2-1 1-3-3 1-2 2-1 1zM504 210l1 3-3 0-1-3zM507 210l1-4-3 0-1 4zM501 210l1 3-3 0-2-3zM504 210l1-4-3 1-2 3zM482 211l1-5-3 0-1 5zM489 209l1 0 2 1 1-2 2-2-4 0-1 2-1 2-2 0-1 0zM477 211l2 0 1-5-3 0-2 4-1 0zM484 208l2 2 1 0-3-1-2 0-1-2zM474 210l1 0 2-4-3-1-2 4-1 0z"/><path class="p7" d="M554 209l2-9-3 2-2 8zM560 208l1-7-3 1-1 7zM566 206l1-5-3 1-2 5zM538 210l2 0 1-9-3 2-1 8-2 0zM546 210l1-8-3 2-2 7zM530 212l1-3-3 0-2 2zM541 209l1 2-3-1-1-2zM546 207l2 3-3 0-2-3zM521 211l1-2-3 0-2 2zM528 209l1-6-3 1-1 5zM517 211l2-2 1-4-3 2-1 3-2 1zM525 209l1-5-3 2-2 4zM507 210l2 4-4-1-1-3zM510 210l1-5-3 1-1 4zM517 207l1 1 2 4-3-1-2-2-1-1zM498 210l2-1 1-3-3-1-2 3-1 1zM510 207l1 4-3-1-2-3zM484 211l1 0 2-6-4 1-1 5-1 0zM495 209l1-1 2-3-3 1-2 2-1 2zM481 211l1 0-3 0-2 0zM488 208l1 1-3 1-2-2zM496 206l1 4-3 0-1-3zM459 208l2-1 1-4-3-1-2 4-1 1z"/><path class="p8" d="M558 209l1-10-3 1-2 9zM563 208l2-8-4 1-1 7zM569 206l1-6-3 1-1 5zM549 209l1-9-3 2-1 8zM544 208l2 2-4 1-1-2zM550 206l1 4-3 0-2-3zM531 209l1-7-3 1-1 6zM522 209l2-5-4 1-1 4zM513 209l2-6-4 2-1 5zM522 207l1 4-3 1-2-4zM527 205l2 6-4 1-1-5zM502 210l1 0 1-5-3 1-1 3-2 1zM513 207l1 4-3 0-1-4zM494 209l1 0 2-1 1 2-3-1-1-1-2 1-1-1zM508 206l2 1-4 0-1-1zM491 208l1 1 2-1 1 1-3 1-2-1-1 0-1-1zM499 205l2 5-4 0-1-4zM495 206l1 0-3 1-2-1zM469 208l1 0 2-3-4-1-1 3-1 1zM480 206l2-3-4 0-1 3zM483 205l1 3-3-1-1-3zM466 208l1-1 1-3-3-1-1 4-2 0zM477 206l1-3-3-1-1 3zM462 207l2 0 1-4-3 0-1 4-2 1zM469 204l2 5-3 0-2-4zM451 207l1-3-3-1-2 3zM447 206l2-3-3-2-2 4z"/><path class="p9" d="M567 208l1-9-3 1-2 8zM572 206l2-7-4 1-1 6zM575 203l1-3-3 0-2 3zM547 207l2 2-3 1-2-2zM555 203l2 6-3 0-2-5zM544 204l1-3-3 0-2 3zM525 206l1 5-3 0-1-4zM535 204l1-2-3 2-1 1zM510 209l2 4-3 1-2-4zM516 206l1 5-3 0-1-4zM520 205l2 2-4 1-1-1zM526 204l1 1-3 2-1-1zM511 205l2 2-3 0-2-1zM501 206l2-1 1 5-3 0-2-5-1 0zM498 205l1 0-3 1-1 0zM483 206l2-3-3 0-2 3zM486 205l2 3-4 0-1-3zM476 205l1 6-3-1-1-5zM482 203l1 2-3-1-2-1zM457 209l2-5-4 0-1 4zM473 205l1 5-3-1-2-5zM478 203l2 1-4-1-1-1zM454 208l1-4-3 0-1 3zM461 204l1 3-3 1-1-4zM458 204l1 4-3-1-2-4zM449 203l1-7-3-1-1 6z"/><path class="p10" d="M575 204l2-7-3 2-2 7zM578 203l1-4-3 1-1 3zM583 200l2 0-3 0-2 0zM553 204l1 5-3 1-1-4zM553 202l1-5-3 2-2 5zM528 205l2 7-4-1-1-5zM538 203l1-1-3 0-1 2zM524 204l1 2-3 1-2-2zM529 203l2 1 1 7-3 0-2-6-1-1zM536 202l2 6-4 1-1-5zM504 205l2-1 1 6-3 0-1-5-2 1zM493 205l1 4-3-1-2-3zM487 205l1-3-3 1-2 3zM489 205l2 3-3 0-2-3zM475 205l1-4-3 0-1 4zM479 205l2 6-4 0-1-6zM467 206l2 2-3 0-2-3zM472 205l1-4-3-1-2 4zM464 205l2 3-4-1-1-3zM468 204l2-4-3-1-2 4zM455 204l2-7-4 0-1 7zM465 203l2-4-4 0-1 4zM442 205l2-6-4-1-1 6zM449 203l2 4-4-1-1-4zM452 204l1-7-3-1-1 7zM439 204l1-6-3-1-1 5zM446 202l1 4-3-1-1-4zM436 202l1-5-3-1-2 6zM443 201l1 4-3-1-1-4zM432 202l2-6-3-1-2 6z"/><path class="p11" d="M581 202l1-4-3 1-1 4zM579 199l2-12-4 2-1 11zM556 204l2 5-4 0-1-5zM570 200l2-10-4 2-1 9zM559 201l1 7-3 1-2-6zM561 201l2-8-3 3-2 6zM547 202l1-3-3 2-1 3zM532 202l2 1 1 8-3 0-1-7-2-1zM539 202l2 7-3-1-2-6zM545 201l1 6-3 0-1-6zM519 205l2 6-4 0-1-5zM515 203l1 3-3 1-2-2zM485 203l1 2-3 0-1-2zM459 204l1-7-3 0-2 7zM470 200l1 0 2 5-4-1-1-4-1-1zM452 203l2 5-3-1-2-4zM467 199l1 1 1 4-3 1-1-5-2-1zM431 199l1 3-3-1-1-3z"/><path class="p12" d="M584 201l2-5-4 2-1 4zM587 198l1 0 1-15-3 3-1 14-2 0zM574 199l1-11-3 2-2 10zM562 201l1 7-3 0-1-7zM565 200l1-9-3 2-2 8zM556 200l1-6-3 3-1 5zM564 198l2 8-4 1-1-7zM537 202l1 8-3 1-1-8zM541 201l2-1 1 8-3 1-2-7-1 1zM548 199l2 7-4 1-1-6zM554 197l1 6-3 1-1-5zM527 203l1 2-3 1-1-2zM518 202l1 3-3 1-1-3zM488 202l1 3-3 0-1-2zM476 201l2-1-4 1-1 0zM473 201l1 0 2 4-3 0-2-5-1 0zM441 202l1 3-3-1-1-3zM456 198l2 6-4-1-1-6zM438 201l1 3-3-2-2-2zM434 200l2 2-4 0-1-3zM421 198l1-9-3-2-1 9z"/><path class="p13" d="M590 197l1 0 2-16-4 2-1 15-1 0zM597 195l1-14-3 3-1 12zM582 198l2-14-3 3-2 12zM565 200l2 8-4 0-1-7zM568 199l1-10-3 2-1 9zM559 199l1-6-3 1-1 6zM568 197l1 9-3 0-2-8zM550 200l2-4-4 3-1 3zM536 200l1 2-3 1-2-1zM478 200l1 5-3 0-2-4zM466 200l1 6-3-1-1-6zM463 199l1 6-3-1-1-6zM460 198l1 6-3 0-2-6zM444 199l1-7-3-1-2 7zM453 197l2-3-3-1-2 3zM430 201l2-9-3-2-2 9zM440 198l2-7-3-2-2 8zM450 196l2-3-4-1-1 3zM426 199l1 0 2-9-4 0-1 8-1 0zM437 197l2-8-4-1-1 8zM423 198l1 0 1-8-3-1-1 9-2-1zM434 196l1-8-3-1-1 8zM419 197l2 1-3-2-2-1zM416 195l2 1-4-2-1-1z"/><path class="p14" d="M593 197l2-1 1-17-3 2-2 16-1 0zM600 195l2-16-4 2-1 14zM586 196l1-15-3 3-2 14zM577 197l1-12-3 3-1 11zM592 193l2 3-4 2-1-3zM562 198l2-7-4 2-1 6zM571 196l1 10-3 0-1-9zM553 199l2-5-3 2-2 4zM573 194l2 9-4 0-1-8zM545 199l1-2 1 10-3 1-1-8-2 1zM552 196l1 8-3 2-2-7zM557 194l2 7-4 2-1-6zM563 193l1 5-3 2-1-4zM460 197l1-2-3-1-1 3zM457 197l1-3-3 0-2 3zM455 194l1 4-3-1-1-4zM452 193l1 4-3-2-2-3z"/><path class="p15" d="M615 192l1-14-3 2-2 13zM589 195l1-16-3 2-1 15zM606 193l1-16-3 2-1 14zM580 196l1-14-3 3-1 12zM596 192l1 3-3 1-2-3zM571 197l2-11-4 3-1 10zM576 192l2 11-3 0-2-9zM461 195l2 4-3-1-2-4zM458 194l2 4-4 0-1-4zM448 194l1 9-3-1-1-8zM445 194l1 8-3-1-2-9zM441 192l2 9-3-1-2-9zM414 196l2-3-4 0-1 2zM411 195l1-2-3-2-1 2zM408 193l1-2-3-2-2 2zM404 191l2-2-3-2-2 3z"/><path class="p16" d="M598 195l1-19-3 3-1 17zM603 194l2-17-3 2-2 16zM609 191l1-16-3 2-1 16zM574 193l1 11-3 2-1-10zM555 194l1 10-3 0-1-8zM560 193l2 8-3 0-2-7zM566 191l2 6-4 1-1-5zM572 190l1 4-3 1-2-3zM451 194l1 9-3 0-1-9zM416 193l1-12-3 0-2 12zM412 193l2-12-4-2-1 12zM409 191l1-12-3-2-1 12z"/><path class="p17" d="M607 192l1-19-3 4-2 17zM618 190l1-15-3 3-1 14zM599 191l1 4-3 0-1-3zM601 188l2 5-4 1-1-5zM582 188l1 12-3 0-1-10zM448 192l2-3-4 0-1 3zM439 193l2 9-3-1-2-9zM445 192l1-3-3-1-1 3zM432 192l1-9-3-2-1 9zM436 192l2 9-4-1-1-10zM442 191l1-3-3-1-1 2zM429 190l1-9-3 0-2 9zM433 190l1 10-3-1-1-10zM439 189l1-2-3-1-2 2zM425 190l2-9-3-1-2 9zM430 189l1 10-3-1-2-10zM422 189l2-9-4-2-1 9zM406 189l1-12-3-1-1 11z"/><path class="p18" d="M621 189l2-16-4 2-1 15zM612 190l2-18-4 3-1 16zM602 189l1 5-3 1-1-4zM604 187l2 6-3 0-2-5zM580 189l1 13-3 1-2-11zM564 191l1 9-3 1-2-8zM569 189l2 7-3 1-2-6zM575 188l1 4-3 2-1-4zM581 187l1 1-3 2-2-1zM446 189l2 5-3 0-2-6zM443 188l2 6-4-2-1-5zM440 187l1 5-3-1-1-5zM418 187l1 10-3-2-1-10zM399 191l2-7-4-2-1 7zM396 189l1-7-3-1-1 7zM393 188l1-7-3-2-2 7zM389 186l2-7-3-3-2 8z"/><path class="p19" d="M624 188l2-17-3 2-2 16zM616 189l1-20-3 3-2 18zM585 185l2 13-4 2-1-12zM589 183l2-2-3 3-2 2zM450 189l1 5-3 0-2-5zM424 188l2 11-3-1-2-11zM421 187l2 11-4-1-1-10zM415 185l1 10-3-2-2-10z"/><path class="p20" d="M624 182l1-7-3 2-2 7zM608 185l1 6-3 2-2-6zM583 187l1 14-3 1-1-13zM598 181l2-6-3 3-2 6zM573 186l1 7-3 3-2-7zM578 185l2 4-4 3-1-4zM584 184l1 1-3 3-1-1zM409 185l2 10-3-2-2-10z"/><path class="p21" d="M627 182l1-9-3 2-1 7zM589 183l1 14-3 1-2-13zM593 181l1-3-3 3-2 2zM591 181l1 12-3 2-1-11zM435 183l1 9-3-2-2-9zM427 181l1 0 2 8-4-1-1-8-1 0zM424 180l1 0 1 8-3-2-1-8-2 0zM401 184l1-15-3-2-2 15zM406 183l2 10-4-2-1-10zM397 182l2-15-3-1-2 15zM403 181l1 10-3-1-1-10zM394 181l2-15-4-2-1 15zM400 180l1 10-3-2-1-10zM391 179l1-15-3-4-1 16z"/><path class="p22" d="M630 181l1-10-3 2-1 9zM611 182l1 8-3 1-1-6zM613 179l2 13-4 1-1-12zM616 178l2-17-4 3-1 16zM602 179l1-6-3 2-2 6zM607 177l2-9-4 2-1 9zM581 182l2 5-3 2-2-4zM587 181l2 2-4 2-1-1zM433 183l2 0-4-2-1 0zM430 181l1 0 2 9-3-1-2-8-1 0zM417 181l1-8-3-1-1 9zM414 181l1-9-3-2-2 9zM410 179l2-9-3-2-2 9z"/><path class="p23" d="M614 180l2 9-4 1-1-8zM632 177l2-8-3 1-2 8zM592 181l1 16-3 0-1-14zM596 179l1-3-3 2-1 3zM594 178l2 14-4 1-1-12zM600 175l1 13-3 1-1-11zM407 177l2-9-4-1-1 9z"/><path class="p24" d="M636 177l1-10-3 2-2 8zM641 174l2 0 1-28-3 3-1 26-2 0zM617 176l1 14-3 2-2-13zM625 175l1-17-3 4-1 15zM605 177l1-7-3 3-1 6zM610 175l2-11-3 4-2 9zM590 179l2 2-3 2-2-2z"/><path class="p25" d="M619 175l2-18-3 4-2 17zM599 176l2-4-4 4-1 3zM597 176l2 15-3 1-2-14zM603 173l1 14-3 1-1-13zM423 176l1 12-3-1-1-12zM420 175l1 12-3 0-1-12zM417 175l1 12-3-2-2-12zM413 173l2 12-4-2-1-12z"/><path class="p26" d="M620 174l1 15-3 1-1-14zM623 173l1-20-3 4-2 18zM628 173l2-19-4 4-1 17zM415 172l2 3-4-2-1-3z"/><path class="p27" d="M631 171l2-20-3 3-2 19zM634 169l1-22-3 3-1 20zM608 173l2-7-4 4-1 7zM614 172l1-12-3 4-2 11zM601 172l1 17-3 2-2-15zM609 168l1 13-3 1-2-12zM422 173l1 3-3-1-2-2zM418 173l2 2-3 0-2-3zM412 170l1 3-3-2-1-3z"/><path class="p28" d="M623 172l1 16-3 1-1-15zM626 171l1-21-3 3-1 20zM637 167l2-23-4 3-1 22zM606 170l2 15-4 2-1-14zM405 171l2-8-4-2-1 8zM408 170l1 15-3-2-1-15z"/><path class="p29" d="M617 169l1-12-3 3-1 12zM622 166l2 16-4 2-1-15zM402 169l1-8-3-2-1 8zM405 168l1 15-3-2-1-15zM399 167l1-8-3-1-1 8zM402 166l1 15-3-1-2-15zM396 166l1-8-3-2-2 8zM398 165l2 15-3-2-2-15z"/><path class="p30" d="M612 164l1 15-3 2-1-13z"/><path class="p31" d="M625 164l2 18-3 0-2-16zM631 161l1 16-3 1-1-14zM610 166l1 16-3 3-2-15zM618 161l1 8-3 3-2-8z"/><path class="p32" d="M626 158l2 6-3 3-2-5zM407 163l1 7-3-2-2-7zM403 161l2 7-3-2-2-7z"/><path class="p33" d="M629 161l1 20-3 1-2-18zM634 158l2 19-4 0-1-16zM615 160l2 16-4 3-1-15zM400 159l2 7-4-1-1-7zM397 158l1 7-3-2-1-7z"/><path class="p34" d="M621 157l1 9-3 3-1-8z"/><path class="p35" d="M618 157l2 17-3 2-2-16zM630 154l1 7-3 3-2-6z"/><path class="p36" d="M624 153l1 11-3 2-1-9z"/><path class="p37" d="M633 151l1 7-3 3-1-7z"/><path class="p38" d="M640 149l1 25-3 1-1-23zM635 147l2 5-4 3-1-5z"/><path class="p39" d="M627 150l2 11-4 3-1-11zM644 146l2-9-4 4-1 8z"/><path class="p41" d="M639 144l1 5-3 3-2-5z"/><path class="p7" d="M518 214l2-6-4 0-1 5zM515 213l1-5-3 1-1 4zM488 212l2-7-3 0-2 6z"/><path class="p8" d="M522 213l1-6-3 1-2 6zM533 211l1-3-3 1-1 3zM524 211l1-2-3 0-1 2zM490 212l2 0 1-7-3 0-2 7-1 0zM487 212l1 0-3-1-1 0z"/><path class="p9" d="M561 208l1-10-3 1-1 10zM546 209l2-11-3 1-2 10zM552 209l1-10-3 1-1 9zM525 212l1-7-3 2-1 6zM536 210l1-3-3 1-1 3zM542 209l1 0 2-10-4 2-1 9-2 0zM527 211l2-3-4 1-1 2zM534 208l2-8-4 2-1 7zM525 209l2-6-3 1-2 5zM516 208l2-6-3 1-2 6zM494 211l1 0 1-8-3 2-1 7-2 0zM505 209l1 0 2-5-4 1-1 5-1 0zM497 210l2-2 1 0 2 2-4 0-1-2-2 1-1 0zM464 210l1-5-3 0-2 5zM472 208l1-1 2-2-3 0-2 3-1 0zM460 210l2-5-3-1-2 5z"/><path class="p10" d="M564 207l2-12-4 3-1 10zM570 206l1-9-3 2-1 9zM548 209l2-1 1-12-3 2-2 11-1 0zM555 209l2-12-4 2-1 10zM528 213l1-9-3 1-1 7zM539 210l2-3-4 0-1 3zM545 209l1 0-3 0-1 0zM551 206l1 3-3 0-2-2zM530 210l2-4-3 2-2 3zM537 207l2-9-3 2-2 8zM529 208l1-7-3 2-2 6zM501 212l2-11-3 1-2 9zM513 210l1-7-3 0-2 6zM517 208l1 6-3-1-1-5zM520 208l1-7-3 1-2 6zM497 211l1 0 2-9-4 1-1 8-1 0zM504 209l1-3-3 1-1 2zM508 208l1 1 2-6-3 1-2 5-1 0zM514 208l1 5-3 0-2-4zM501 209l1-2-3 1-2 2zM470 211l2-6-4 0-1 5zM467 210l1-5-3 0-1 5z"/><path class="p11" d="M573 205l1-10-3 2-1 9zM558 207l2-13-3 3-2 12zM537 210l1-5-3 1-1 4zM543 210l1-4-3 1-2 3zM554 206l1 3-3 0-1-3zM534 210l1-4-3 0-2 4zM541 207l1-11-3 2-2 9zM532 206l1-7-3 2-1 7zM516 209l1-7-3 1-1 7zM523 207l1-8-3 2-1 7zM507 209l1-4-3 1-1 3zM511 208l2 2-4-1-1-1zM523 204l1 7-3 0-2-6zM502 207l1-1 2 3-3 1-2-2-1 0zM508 204l1-2-3 2-2 1zM496 206l1 4-3-1-1-4zM479 207l1 0 1-1-3-1-1 2-2 0zM490 205l1-3-3 0-1 3zM475 207l2 0 1-2 2-4-4 0-1 4-2 2-1 1zM482 204l2 7-3 0-2-6zM471 206l1 2-3 0-2-2zM462 205l1-7-3-1-1 7zM456 204l1 5-3-1-2-5zM445 204l2-5-3 0-2 6z"/><path class="p12" d="M571 206l1-14-3 1-2 13zM576 205l2-12-4 2-1 10zM582 203l1-8-3 1-1 7zM562 206l1-14-3 2-2 13zM567 206l2-13-3 2-2 12zM579 203l1-7-3 1-2 7zM546 208l1-4-3 2-1 4zM551 207l2 0 1-14-3 3-1 12-2 1zM544 206l1-12-3 2-1 11zM559 203l2 5-3 1-2-5zM535 206l1-9-3 2-1 7zM519 208l2-8-4 2-1 7zM510 209l2-5-4 1-1 4zM515 207l1 2-3 1-2-2zM520 207l2 6-4 1-1-6zM531 204l2 7-3 1-2-7zM505 206l2-2 1 4-3 1-2-3-1 1zM511 203l1-2-3 1-1 2zM499 205l2 4-4 1-1-4zM509 202l1 7-3 1-1-6zM482 206l1 1 2-1 1-4-3 0-2 4-1 1-1 0zM493 205l1-4-3 1-1 3zM477 206l2 1-4 0-1-2zM481 206l2-4-3-1-2 4zM486 204l1 8-3-1-2-7zM491 202l2 3-4 0-1-3zM474 205l1 2-3 1-1-2zM462 204l2 6-4 0-1-5zM465 205l1-8-3 1-1 7zM452 205l1-4-3-1-1 5zM459 205l1 5-3-1-1-5zM449 205l1-5-3-1-2 5z"/><path class="p13" d="M579 204l2-13-3 2-2 12zM565 206l1-16-3 2-1 14zM588 200l1-5-3 1-2 5zM555 206l1 0 2-16-4 3-1 14-2 0zM557 204l1 3-3 2-1-3zM523 205l2 7-3 1-2-6zM526 205l2-9-4 3-1 8zM526 203l1 8-3 0-1-7zM530 201l1 3-3 1-1-2zM508 205l2-1 1 4-3 0-1-4-2 2zM514 203l1-3-3 1-1 2zM521 201l2 3-4 1-1-3zM502 204l2 5-3 0-2-4zM512 201l2 7-4 1-1-7zM486 205l2 1 1-5-3 1-1 4-2 1zM496 203l2-4-4 2-1 4zM480 206l2 0-3 1-2-1zM489 204l1 8-3 0-1-8zM494 201l2 5-3-1-2-3zM472 205l1-9-3 0-2 9zM465 204l2 6-3 0-2-6zM468 205l2-9-4 1-1 8zM480 201l1-2-3 1-2 1zM455 204l2-3-4 0-1 4zM451 203l1 2-3 0-2-3zM447 202l2 3-4-1-1-2zM444 202l1 2-3 1-1-3zM432 201l2 1 1-9-3-1-2 9-1-1zM429 200l1 1-3-2-1 0z"/><path class="p14" d="M574 205l1-16-3 3-1 14zM585 202l2-9-4 2-1 8zM591 199l1-5-3 1-1 5zM560 202l2 4-4 1-1-3zM547 204l2-13-4 3-1 12zM563 201l1 6-3 1-2-5zM538 205l2-10-4 2-1 9zM529 204l2-10-3 2-2 9zM535 202l1 8-3 1-2-7zM540 199l2 10-4 1-1-8zM512 204l1-2-3 2-2 1zM506 205l1 4-3 0-2-5zM484 205l1-1 1 1-3 2-1-1-2 0zM492 202l2 9-4 1-1-8zM475 205l1-10-3 1-1 9zM486 202l1-3-3 0-1 3zM469 204l1 7-3-1-2-6zM483 202l1-3-3 0-1 2zM473 200l1 5-3 1-2-6zM481 199l1 5-3 1-1-5zM454 203l1 1-3 1-1-2zM469 200l2 6-4 0-1-6zM442 204l1 0 2-11-3 0-2 10-1-1zM453 201l2-7-4-1-1 7zM439 202l1 1 2-10-4-1-1 10-1 0zM450 200l1-7-3-1-1 7zM436 202l1 0 1-10-3 1-1 9-2-1zM447 199l1-7-3 0-1 7z"/><path class="p15" d="M583 202l1-14-3 3-2 13zM588 200l2-10-3 3-2 9zM564 202l1 4-3 0-2-4zM566 199l1 7-3 1-1-6zM568 197l2 9-3 2-2-8zM557 197l1-5-3 2-2 5zM538 200l1 10-3 0-1-8zM548 198l1-2-3 1-1 2zM529 201l1 9-3 1-1-8zM533 199l2 3-4 2-1-3zM539 198l1 1-3 3-1-2zM513 202l2 5-4 1-1-4zM517 202l2-4-4 2-1 3zM524 199l2 4-3 1-2-3zM515 200l2 8-3 0-2-7zM500 202l1-4-3 1-2 4zM489 201l2-4-4 2-1 3zM498 199l1 6-3 1-2-5zM479 202l1 4-3 0-1-5zM476 201l1 5-3-1-1-5zM484 199l2 5-4 0-1-5zM458 204l2-3-3 0-2 3zM457 201l1-7-3 0-2 7zM463 198l2-2-4-1-1 2zM421 198l1-2-3-2-2 3zM417 197l2-3-3-1-2 3z"/><path class="p16" d="M592 199l1-10-3 1-2 10zM594 197l1-6-3 3-1 5zM596 195l2 0-3 1-2 1zM569 198l2 8-4 0-1-7zM583 195l2-15-4 2-1 14zM566 195l1-8-3 4-2 7zM541 199l2 11-4 0-1-10zM532 200l2 10-4 0-1-9zM544 198l1 11-3 0-2-10zM549 196l2 10-4 1-1-10zM521 200l1-4-3 2-2 4zM519 198l1 9-3 1-2-8zM503 201l1-4-3 1-1 4zM493 201l1-5-3 1-2 4zM495 201l2 10-3 0-2-9zM501 198l1 6-3 1-1-6zM487 199l2 5-3 0-2-5zM457 202l1 2-3 0-1-1zM460 201l1-7-3 0-1 7zM466 197l2-2 1 5-3 0-1-4-2 2zM465 196l1 4-3-1-2-4zM454 194l2 10-4-1-1-9zM424 199l1-3-3 0-1 2z"/><path class="p17" d="M597 196l2-6-4 1-1 6zM600 193l1 0-3 2-2 0zM592 194l2-18-4 3-1 16zM572 195l1 10-3 1-2-9zM574 195l2-12-3 3-2 11zM536 199l1 11-3 0-2-10zM547 196l1 13-3 0-1-11zM551 196l1-2-3 2-1 2zM536 197l2 3-3 2-2-3zM542 196l2 2-4 1-1-1zM528 196l1 5-3 2-2-4zM504 197l2 8-4-1-1-6zM491 197l1 5-3 2-2-5zM470 196l1-1-3 0-2 2zM458 195l1 10-3-1-2-10zM430 199l2-2-3-1-2 3zM427 199l2-3-4 0-1 3zM425 196l2-11-4-1-1 12zM422 196l1-12-3-2-1 12zM419 194l1-12-3-1-1 12zM402 193l2-7-3-2-2 7z"/><path class="p18" d="M601 193l1-21-3 4-1 19zM572 196l2 9-3 1-2-8zM587 193l1-17-3 4-2 15zM575 194l1 11-3 0-1-10zM578 193l1-13-3 3-2 12zM569 193l1-9-3 3-1 8zM577 191l2 12-4 1-1-11zM560 194l1-5-3 3-1 5zM545 194l2 2-3 2-2-2zM552 194l2 12-3 0-2-10zM558 192l1 11-3 1-1-10zM522 196l1 9-3 2-1-9zM473 196l1-1 2 6-3-1-2-5-1 1zM471 195l2 5-4 0-1-5zM458 194l1-4-3 0-1 4zM461 194l1 10-3 1-1-10zM449 195l2 8-4-1-1-8zM455 194l1-4-3 0-2 3zM432 197l1-11-3-1-1 11zM446 194l1 8-3 0-1-9zM451 193l2-3-3-1-2 3zM429 196l1-11-3 0-2 11zM438 192l2-9-3 1-2 9zM443 193l1 9-3 0-2-9zM415 197l2-7-3-1-2 7zM435 193l2-9-4-1-1 9zM412 196l2-7-4-2-1 7zM409 194l1-7-3-1-1 7zM406 193l1-7-3 0-2 7z"/><path class="p19" d="M600 195l2-6-3 1-2 6zM603 192l1 0 2-23-4 3-1 21-1 0zM610 191l1-20-3 2-1 19zM595 191l2-19-3 4-2 18zM544 196l2 12-3 2-2-11zM550 193l1 14-3 2-1-13zM554 193l2-2-4 3-1 2zM540 195l1 4-3 1-2-3zM531 194l1 6-3 1-1-5zM494 196l1 5-3 1-1-5zM476 195l2 0 1 7-3-1-2-6-1 1zM461 194l2-5-4 1-1 4zM464 193l1 11-3 0-1-10zM452 195l2 8-3 0-2-8zM445 193l1-9-3 0-1 9zM456 190l2 5-4-1-1-4zM442 193l1-9-3-1-2 9zM453 190l1 4-3 0-1-5zM431 190l1 11-3-1-1-10zM428 190l1 10-3-1-2-11z"/><path class="p20" d="M606 191l2-1 1-24-3 3-2 23-1 0zM613 190l2-22-4 3-1 20zM619 188l1-21-3 2-1 20zM599 190l1-22-3 4-2 19zM590 190l1-18-3 4-1 17zM605 187l2 5-4 2-1-5zM578 192l1 12-3 1-1-11zM581 191l1-14-3 3-1 13zM572 192l1-10-3 2-1 9zM580 190l2 13-3 0-2-12zM563 192l2-6-4 3-1 5zM556 191l1 13-3 2-2-12zM561 189l2 12-4 2-1-11zM567 187l1 10-3 3-1-9zM467 193l2 11-4 0-1-11zM448 193l2-9-4 0-1 9zM459 190l2 4-3 1-2-5zM434 190l2 12-4-1-1-11z"/><path class="p21" d="M609 185l1 6-3 1-2-5zM575 189l2-11-4 4-1 10zM584 187l1 15-3 1-2-13zM566 190l2-6-3 2-2 6zM586 185l2 15-4 1-1-14zM553 191l2 15-4 1-1-14zM558 190l1-2-3 3-2 2zM549 191l1 2-3 3-2-2zM463 189l1 4-3 1-2-4zM441 191l1 13-3-2-2-12zM437 190l2 12-3 0-2-12zM417 190l1-16-3 0-1 15zM422 189l2 10-3-1-2-10zM414 189l1-15-3-2-2 15zM419 188l2 10-4-1-1-10zM410 187l2-15-3 0-2 14zM416 187l1 10-3-1-1-10zM407 186l2-14-4-1-1 15zM413 186l1 10-3-1-2-10zM404 186l1-15-3-2-1 15z"/><path class="p22" d="M602 189l1-24-3 3-1 22zM593 189l1-20-3 3-1 18zM581 189l2 13-4 2-1-12zM584 188l2-15-4 4-1 14zM559 188l1 14-3 2-1-13zM565 186l1 13-3 2-2-12zM466 190l1 3-3 0-1-4zM426 189l1 10-3 0-2-10zM441 184l2 9-4 0-1-9zM437 184l1 0 1 9-3-1-1-9-2 0zM423 184l2-9-3-2-2 9z"/><path class="p23" d="M612 184l1 6-3 1-1-6zM589 182l2 17-3 1-2-15zM570 184l2 11-4 2-1-10zM576 183l1 8-3 2-1-7zM451 186l1 9-3 0-1-9zM448 186l1 9-3-1-2-9zM433 186l2-9-4-1-1 9zM443 184l1 1 2 9-3-1-2-9-1-1zM430 185l1-9-3 0-1 9zM440 183l1 1-3 0-1 0zM427 185l1-9-3-1-2 9zM420 182l2-9-4 0-1 8z"/><path class="p24" d="M587 184l1 16-3 2-1-15zM562 186l2 16-4 0-1-14zM568 184l1 14-3 1-1-13zM573 182l2 12-3 1-2-11zM579 180l1 10-3 1-1-8zM585 180l1 5-3 2-2-5zM446 184l2 2-4-1-1-1z"/><path class="p25" d="M617 179l2 9-3 1-2-9zM595 178l1 17-3 2-1-16zM450 184l1 2-3 0-2-2zM426 178l2 12-4-2-1-12z"/><path class="p26" d="M590 182l2 17-4 1-1-16zM593 179l1 18-3 2-2-17zM594 176l1 2-3 3-2-2zM430 178l1 12-3 0-2-12z"/><path class="p27" d="M571 180l1 16-3 2-1-14zM577 178l1 14-3 2-2-12zM582 177l2 10-4 3-1-10zM588 176l1 6-3 3-1-5zM439 179l2 12-4-1-1-12zM436 178l1 12-3 0-1-12zM433 178l1 12-3 0-1-12zM428 176l2 2-4 0-1-3zM425 175l1 3-3-2-1-3z"/><path class="p28" d="M596 176l1 20-3 1-1-18zM598 174l2 19-4 2-1-17zM602 172l2-4-3 4-2 4zM435 177l1 1-3 0-2-2zM431 176l2 2-3 0-2-2z"/><path class="p29" d="M611 171l2-9-3 4-2 7zM597 172l1 2-3 4-1-2zM424 174l2 15-4 0-1-15zM418 174l2-7-4-1-1 8zM421 174l1 15-3-1-1-15zM415 174l1-8-3-1-1 7zM418 173l1 15-3-1-1-16zM412 172l1-7-3-1-1 8zM415 171l1 16-3-1-2-15zM409 172l1-8-3-1-2 8zM411 171l2 15-4-1-1-15z"/><path class="p30" d="M599 174l1 21-3 1-1-20zM601 171l2 21-3 1-2-19zM606 169l1-4-3 3-2 4zM580 174l1 15-3 3-1-14zM586 173l1 11-3 3-2-10zM591 172l2 7-4 3-1-6zM604 168l1 19-3 2-1-17z"/><path class="p31" d="M615 168l1-9-3 3-2 9zM620 167l2-14-4 4-1 12zM600 168l1 3-3 3-1-2z"/><path class="p32" d="M605 168l1 23-3 1-2-21zM589 169l1 13-3 2-1-11zM594 169l2 7-3 3-2-7zM607 165l2 20-4 2-1-19zM410 164l1 7-3-1-1-7z"/><path class="p33" d="M609 166l1-4-3 3-1 4zM613 162l1 18-3 2-1-16zM420 167l1 7-3-1-2-7zM416 166l2 7-3-2-2-6zM413 165l2 6-4 0-1-7z"/><path class="p34" d="M598 165l1 9-3 2-2-7zM603 165l2 3-4 3-1-3zM423 167l1 7-3 0-1-7z"/><path class="p35" d="M610 162l2 22-3 1-2-20zM616 159l1 20-3 1-1-18z"/><path class="p38" d="M622 153l1 19-3 2-2-17z"/><path class="p11" d="M531 212l2-9-4 1-1 9zM505 211l1-12-3 2-2 11zM500 211l1 1-3-1-1 0zM473 211l2-6-3 0-2 6z"/><path class="p12" d="M535 211l1-10-3 2-2 9zM503 211l2 0-4 1-1-1zM477 211l1-7-3 1-2 6z"/><path class="p13" d="M538 210l1-11-3 2-1 10zM549 207l1-4-3 1-1 4zM540 208l2-5-4 2-1 5zM522 208l2-9-3 1-2 8zM506 210l2 0 1-13-3 2-1 12-2 0zM514 208l1-6-3 2-2 5zM483 211l1-8-3 0-1 8zM480 211l1-8-3 1-1 7z"/><path class="p14" d="M568 205l2-18-4 3-1 16zM541 210l1-12-3 1-1 11zM552 207l2-5-4 1-1 4zM558 205l1 0 2-17-3 2-2 16-1 0zM543 207l2-6-3 2-2 5zM514 209l2-15-3 2-2 14zM526 208l1-11-3 2-2 9zM510 209l1 1 2-14-4 1-1 13-2 0zM517 208l1-8-3 2-1 6zM527 204l1 9-3-1-2-7zM518 206l1 2-3 1-1-2zM486 211l2-9-4 1-1 8zM494 206l2-5-3 0-2 4zM491 205l2-4-4 0-1 5z"/><path class="p15" d="M577 203l2-17-4 3-1 16zM544 209l2-13-4 2-1 12zM547 207l1-7-3 1-2 6zM550 203l2-15-3 3-2 13zM529 207l1-12-3 2-1 11zM542 203l1-11-3 3-2 10zM513 209l1 0-3 1-1-1zM520 207l1-8-3 1-1 8zM533 203l1-11-3 2-2 10zM521 205l1 3-3 0-1-2zM490 210l1-10-3 2-2 9zM498 205l1-5-3 1-2 5zM509 204l1 5-3 0-1-4zM487 204l1-1 2 1 1 1-3 1-2-1-1-1-1 1zM478 204l1-11-3 2-1 10zM472 204l1 7-3 0-1-7zM462 203l1-2-3 0-2 3zM450 204l1-12-3 1-1 11zM445 204l2 0 1-11-3 0-2 11-1 0z"/><path class="p16" d="M580 202l2-18-3 2-2 17zM586 201l1-15-3 2-1 14zM571 203l2-19-3 3-2 18zM550 206l1-7-3 1-1 7zM556 206l1-6-3 2-2 5zM561 204l2 0 1-19-3 3-2 17-1 0zM532 206l2-13-4 2-1 12zM516 207l2 1 1-17-3 3-2 15-1 0zM523 206l2-10-4 3-1 8zM524 205l2 3-4 0-1-3zM530 203l1 9-3 1-1-9zM493 210l1-11-3 1-1 10zM512 202l2 6-4 1-1-5zM515 202l1-3-3 3-1 2zM490 204l2-2-4 1-1 1zM493 204l1 2-3-1-1-1zM481 203l2-11-4 1-1 11zM475 203l2 8-4 0-1-7zM482 201l2 4-4 1-1-4zM456 205l2-13-3 0-2 13zM465 203l1-2-3 0-1 2zM452 204l1 1 2-13-4 0-1 12-1-1zM460 202l2 1-4 1-1-2zM463 201l1-6-3-1-1 7zM449 203l1 1-3 0-2 0z"/><path class="p17" d="M589 201l2-17-4 2-1 15zM575 202l1-21-3 3-2 19zM548 207l1-14-3 3-2 13zM559 204l1-6-3 2-1 6zM566 202l1-21-3 4-1 19zM567 200l1 5-3 1-1-4zM535 206l2-15-3 2-2 13zM554 202l1-16-3 2-2 15zM521 206l1-18-3 3-1 17zM527 205l1-11-3 2-2 10zM545 201l1-12-3 3-1 11zM527 202l2 5-3 1-2-3zM533 201l2 10-4 1-1-9zM536 201l1-12-3 3-1 11zM504 204l1-6-3 1-1 5zM515 202l2 6-3 0-2-6zM518 200l2-3-4 2-1 3zM501 204l1-5-3 1-1 5zM516 199l2 7-3 1-2-5zM493 203l2-3-3 2-2 2zM496 202l2 3-4 1-1-2zM506 199l1-4-3 2-1 4zM484 203l2-12-3 1-2 11zM489 202l1 2-3 0-2-3zM492 202l1 2-3 0-2-1zM496 201l1-6-3 1-1 5zM499 200l1 11-3 0-2-10zM478 202l2 9-3 0-2-8zM485 201l2 3-3 1-2-4zM460 204l1-14-3 2-2 13zM455 204l1 1-3 0-1-1zM463 202l2 1-3 0-2-1zM466 201l2-5-4-1-1 6zM434 200l1-3-3 0-2 2z"/><path class="p18" d="M584 201l1-20-3 3-2 18zM595 199l1-12-3 2-1 10zM553 204l2-8-4 3-1 7zM564 202l2 0-3 2-2 0zM539 204l1-15-3 2-2 15zM557 200l1-17-3 3-1 16zM530 205l1-13-3 2-1 11zM548 200l1-14-3 3-1 12zM519 206l2 0-3 2-2-1zM507 204l2-6-4 0-1 6zM519 201l1 6-3 1-2-6zM524 199l1-5-3 2-1 4zM497 202l1-5-3 3-2 3zM488 202l1-13-3 2-2 12zM492 201l1 2-3 1-1-2zM495 200l1 2-3 2-1-2zM499 200l1-7-3 2-1 6zM502 199l1 12-3 0-1-11zM482 202l1 9-3 0-2-9zM463 204l1-15-3 1-1 14zM458 204l2 0-4 1-1-1zM467 200l1 1 2-1 1-5-3 1-2 5-1 2-2-1zM437 199l1-2-3 0-1 3zM435 197l1-10-3-1-1 11zM419 197l1-7-3 0-2 7z"/><path class="p19" d="M578 201l1-23-3 3-1 21zM556 203l2-9-3 2-2 8zM562 203l1-6-3 1-1 6zM568 201l1-1 1-22-3 3-1 21-2 0zM570 198l1 5-3 2-1-5zM531 201l1 5-3 1-2-5zM536 199l2 11-3 1-2-10zM539 199l2-13-4 3-1 12zM539 196l1 12-3 2-1-11zM521 199l2-4-3 2-2 3zM527 197l1-5-3 2-1 5zM500 201l1-5-3 1-1 5zM520 197l1 8-3 1-2-7zM495 200l2 2-4 1-1-2zM499 200l2 4-3 1-2-3zM502 199l2-9-4 3-1 7zM509 197l2-4-4 2-1 4zM485 201l1 10-3 0-1-9zM507 195l2 9-3 1-2-8zM466 204l2-16-4 1-1 15zM462 204l1 0-3 0-2 0zM471 200l2 0 1-5-3 0-1 5-2 1zM464 195l2-5-3-1-2 5zM456 195l1 7-3 1-2-8zM428 200l2-9-3 0-2 9zM438 197l2-10-4 0-1 10zM425 200l2-9-4-1-1 8zM422 198l1-8-3 0-1 7z"/><path class="p20" d="M565 202l2-7-4 2-1 6zM571 199l1 0 2-24-4 3-1 22-1 1zM573 196l2 6-4 1-1-5zM560 198l2-19-4 4-1 17zM576 194l1 9-3 2-2-9zM551 199l2-16-4 3-1 14zM534 200l1 6-3 0-1-5zM542 198l2-14-3 2-2 13zM548 194l1 13-3 1-2-12zM511 203l1-7-3 2-2 6zM522 200l1 6-3 1-1-6zM503 201l2-7-4 2-1 5zM498 200l2 1-3 1-2-2zM503 199l1 5-3 0-2-4zM505 198l2-9-3 1-2 9zM525 194l2 10-4 1-1-9zM491 200l1-14-3 3-1 13zM498 197l1 3-3 2-1-2zM505 196l1 14-3 1-1-12zM475 199l1 1 1-5-3 0-1 5-2 0zM497 195l2 5-4 1-1-5zM470 199l1 1-3 1-1-1zM479 193l2 0 1 8-3 1-1-7-2 0zM462 196l1 6-3 0-1-6zM468 196l1-6-3 0-2 5zM435 201l1-10-3-1-1 10zM443 198l2-2-3 0-2 2zM459 196l1 6-3 0-1-7zM432 200l1-10-3 1-2 9zM440 198l2-2 1-9-3 0-2 10-1 2z"/><path class="p21" d="M563 197l2-21-3 3-2 19zM540 198l1 12-3 0-2-11zM525 198l2 7-4 1-1-6zM542 194l1 13-3 1-1-12zM525 196l1-4-3 3-2 4zM530 195l2-7-4 4-1 5zM543 192l1 4-3 3-1-4zM502 200l1 1-3 0-2-1zM509 198l1-11-3 2-2 9zM523 195l1 10-3 0-1-8zM534 192l2 7-4 1-1-6zM494 199l2-14-4 1-1 14zM513 196l1-5-3 2-2 4zM488 199l2 11-4 1-1-10zM511 193l1 9-3 2-2-9zM479 199l2-4-4 0-1 5zM500 193l2 6-3 1-2-5zM473 199l2 0-4 1-1-1zM474 195l2-8-4 1-1 7zM484 193l1 8-3 0-1-8zM465 196l2 4-4 2-1-6zM471 195l1-7-3 2-1 6zM447 197l1-1-3 0-2 2zM471 192l1 12-3 0-2-11zM445 196l1-8-3-1-1 9zM451 192l2-9-3 1-2 9z"/><path class="p22" d="M577 195l1 6-3 1-2-6zM579 192l1 10-3 1-1-9zM555 196l1-17-3 4-2 16zM537 198l2 6-4 2-1-6zM543 196l1 13-3 1-1-12zM546 196l1-16-3 4-2 14zM528 198l2 7-3 0-2-7zM545 193l2 14-4 0-1-13zM551 192l1 15-3 0-1-13zM506 197l1 7-3 0-1-5zM516 194l1-4-3 1-1 5zM528 192l2 11-3 1-2-10zM501 196l2 3-4 1-1-3zM508 195l2 14-4 1-1-14zM476 197l2 0 1 2-3 1-1-1-2 0zM472 196l1 3-3 0-1-3zM477 195l2-8-3 0-2 8zM487 192l2 10-4-1-1-8zM469 196l1 3-3 1-2-4zM483 192l1 1-3 0-2 0zM448 196l1-7-3-1-1 8zM455 192l1-9-3 0-2 9zM444 191l1 13-3 0-1-13zM432 191l2 9-4-1-1-9zM429 190l1 9-3 0-1-10zM420 190l1-16-3 0-1 16z"/><path class="p23" d="M567 195l1-23-3 4-2 21zM582 190l2 11-4 1-1-10zM596 187l2-22-4 4-1 20zM558 194l1-19-3 4-1 17zM570 187l1-7-3 4-2 6zM557 189l1 16-3 1-2-15zM561 188l1-2-3 2-1 2zM528 194l1-5-3 3-1 4zM534 193l1-8-3 3-2 7zM546 189l2 5-4 2-1-4zM552 188l1 3-3 2-1-2zM512 196l1-12-3 3-1 11zM526 192l1 10-3 3-1-10zM537 189l2 7-3 3-2-7zM512 193l1 16-3 0-2-14zM514 191l1 11-3 0-1-9zM504 190l1 6-3 3-2-6zM475 195l1 2-3 2-1-3zM481 195l1-9-3 1-2 8zM486 191l1 1-3 1-1-1zM450 196l1-1 2-7-4 1-1 7-1 1zM474 191l1 12-3 1-1-12zM458 192l1-10-3 1-1 9zM469 190l2 2-4 1-1-3zM447 190l2 13-4 1-1-13zM435 191l2 8-3 1-2-9zM427 191l1-16-3-1-2 16zM436 187l2-9-3-1-2 9zM423 190l2-16-4 0-1 16z"/><path class="p24" d="M585 187l1 14-3 1-2-13zM587 186l2-17-3 4-2 15zM549 193l1-17-3 4-1 16zM579 186l1-12-3 4-2 11zM548 190l2 16-3 1-2-14zM554 189l2 17-4 1-1-15zM537 191l1-8-3 2-1 8zM519 191l1-5-3 4-1 4zM532 188l1 13-3 2-2-11zM505 194l1 3-3 2-2-3zM517 190l2 11-4 1-1-11zM484 194l1-10-3 2-1 9zM491 191l1 10-3 1-2-10zM477 189l1 13-3 1-1-12zM461 190l2-9-4 1-1 10zM472 188l2 3-3 1-2-2zM442 191l1 7-3 0-1-8zM450 190l2 14-3-1-2-13zM439 190l1 8-3 1-2-8zM454 186l2 9-4 0-1-9zM430 191l1-17-3 1-1 16zM440 187l1-9-3 0-2 9z"/><path class="p25" d="M588 185l1 16-3 0-1-14zM591 184l1-18-3 3-2 17zM546 193l2 14-4 2-1-13zM560 186l1 18-3 1-1-16zM564 185l1-3-3 4-1 2zM531 192l2-5-4 2-1 5zM549 186l2 6-3 2-2-5zM555 186l2 3-4 2-1-3zM529 189l2 12-4 1-1-10zM541 186l1 8-3 2-2-7zM515 190l1 17-3 2-1-16zM507 189l1 6-3 1-1-6zM494 189l1 11-3 1-1-10zM489 189l2 2-4 1-1-1zM480 188l2 14-4 0-1-13zM476 187l1 2-3 2-2-3zM445 191l2 6-4 1-1-7zM454 189l1 15-3 0-2-14zM461 187l1 9-3 0-2-10zM436 191l2-18-4 0-1 17zM446 188l2-10-4 0-1 9zM457 186l2 10-3-1-2-9zM433 190l1-17-3 1-1 17zM443 187l1-9-3 0-1 9z"/><path class="p26" d="M582 184l1-13-3 3-1 12zM573 184l1-8-3 4-1 7zM540 189l1-9-3 3-1 8zM565 182l2 18-3 2-2-16zM535 185l1 14-3 2-1-13zM479 187l1 1-3 1-1-2zM464 189l2-10-3 2-2 9zM457 188l1 16-3 0-1-15zM464 186l1 10-3 0-1-9zM449 189l2-10-3-1-2 10zM453 183l1 3-3 0-1-2z"/><path class="p27" d="M552 187l1 17-3 2-2-16zM557 186l2 18-3 2-2-17zM558 183l2 3-3 3-2-3zM533 187l1 13-3 1-2-12zM544 184l1 9-3 1-1-8zM522 188l2-4-4 2-1 5zM520 186l2 14-3 1-2-11zM510 187l2 6-4 2-1-6zM497 188l1 12-3 0-1-11zM492 186l2 3-3 2-2-2zM482 186l2 0 1 15-3 1-2-14-1-1zM468 188l1-9-3 0-2 10zM467 185l2 11-4 0-1-10zM453 188l1-10-3 1-2 10zM456 183l1 3-3 0-1-3z"/><path class="p28" d="M585 181l1-14-3 4-1 13zM593 179l2 20-3 0-2-17zM576 181l2-8-4 3-1 8zM563 182l1 20-3 2-1-18zM567 181l2-3-4 4-1 3zM553 183l1 6-3 3-2-6zM538 183l2 15-4 1-1-14zM496 185l1 3-3 1-2-3zM470 186l2 10-3 0-2-11zM460 187l2 17-4 0-1-16zM459 182l2 5-4-1-1-3zM442 178l2 13-3 0-2-12zM438 178l1 1-3-1-1-1z"/><path class="p29" d="M555 185l1 18-3 1-1-17zM561 183l1 20-3 1-2-18zM569 178l1 20-3 2-2-18zM524 184l1 14-3 2-2-14zM513 184l2 6-3 3-2-6zM485 184l2 0 1 15-3 2-1-15-2 0zM463 181l1 5-3 1-2-5zM441 178l1 0-3 1-1-1z"/><path class="p30" d="M579 178l2-8-3 3-2 8zM566 179l2 22-4 1-1-20zM570 178l2-3-3 3-2 3zM562 179l1 3-3 4-2-3zM574 176l2 18-4 2-1-16zM547 180l1 10-3 3-1-9zM448 178l1-1 1 13-3 0-1-13-2 1zM444 178l2-1 1 13-3 1-2-13-1 0zM434 177l1 14-3 0-1-14zM431 177l1 14-3-1-1-15zM428 175l1 15-3-1-2-15zM421 174l2-7-3 0-2 7z"/><path class="p31" d="M564 180l1 22-3 1-1-20zM572 175l1 21-3 2-1-20zM556 179l1 7-3 3-1-6zM541 180l2 16-3 2-2-15zM466 179l1 6-3 1-1-5zM451 179l1-2 2 12-4 1-1-13-1 1zM441 178l1 13-3-1-2-13zM437 177l2 13-4 1-1-14zM428 175l1-7-3-1-1 7zM425 174l1-7-3 0-2 7z"/><path class="p32" d="M574 175l1-3-3 3-2 3zM565 176l1 3-3 3-1-3zM578 173l1 19-3 2-2-18zM583 171l2 16-4 2-1-15zM469 179l1 7-3-1-1-6zM454 178l1-3-3 2-1 2zM444 178l1 13-3 0-1-13zM431 174l2-6-4 0-1 7z"/><path class="p33" d="M569 176l2 23-3 2-2-22zM559 175l2 8-4 3-1-7zM550 176l2 11-4 3-1-10zM455 175l2 13-3 1-2-12zM434 173l2-6-3 1-2 6z"/><path class="p34" d="M575 172l2 23-4 1-1-21zM581 170l1 20-3 2-1-19zM459 174l1 13-3 1-2-13zM438 173l1-5-3-1-2 6zM429 168l2 9-3-2-2-8zM426 167l2 8-4-1-1-7z"/><path class="p35" d="M568 172l1 4-3 3-1-3zM586 167l2 18-3 2-2-16zM592 166l1 13-3 3-1-13zM441 173l1-6-3 1-1 5zM433 168l1 9-3 0-2-9z"/><path class="p36" d="M436 167l1 10-3 0-1-9z"/><path class="p37" d="M439 168l2 10-4-1-1-10z"/><path class="p38" d="M442 167l2 11-3 0-2-10z"/><path class="p17" d="M496 210l1-12-3 1-1 11z"/><path class="p18" d="M551 206l1-15-3 2-1 14zM524 206l2-20-4 2-1 18zM499 208l2-12-4 2-1 12z"/><path class="p19" d="M554 206l1-17-3 2-1 15zM523 206l1 0-3 0-2 0zM503 207l1-13-3 2-2 12zM465 204l1 0-3 0-1 0z"/><path class="p20" d="M560 203l1-10-3 1-2 9zM542 203l1-18-3 4-1 15zM526 204l1 0 2-21-3 3-2 20-1 0zM533 203l1-14-3 3-1 13zM506 207l1-14-3 1-1 13zM468 203l1 1 2-17-3 1-2 16-1 0z"/><path class="p21" d="M545 202l2-19-4 2-1 18zM536 201l2-15-4 3-1 14zM509 206l1-15-3 2-1 14zM514 201l1-7-3 2-1 7zM471 202l2 0 1-18-3 3-2 17-1-1zM438 201l2-10-4 0-1 10z"/><path class="p22" d="M548 201l2-20-3 2-2 19zM529 202l2 0 1-22-3 3-2 21-1 0zM517 201l1-7-3 0-1 7zM505 199l1 0 2-8-3 3-2 7-1-1zM497 198l2-15-3 2-2 14zM474 202l2 0 1-19-3 1-1 18-2 0zM491 199l2 11-3 0-2-11zM445 200l1-11-3 1-2 10zM441 200l2-10-3 1-2 10z"/><path class="p23" d="M532 201l2 0 1-24-3 3-1 22-2 0zM539 200l2-17-3 3-2 15zM512 204l2-16-4 3-1 15zM520 200l2-8-4 2-1 7zM478 201l1 1 2-21-4 2-1 19-2 0zM495 198l1 12-3 0-2-11zM483 197l1-3-3 1-2 4zM448 201l1-12-3 0-1 11z"/><path class="p24" d="M536 200l1 0 1-26-3 3-1 24-2 0zM543 199l1-19-3 3-2 17zM516 204l1-18-3 2-2 16zM540 195l2 8-3 1-2-6zM532 196l1 7-3 2-2-7zM511 197l2-1-3 1-2 1zM508 198l2-1 1-9-3 3-2 8-1 0zM515 194l2-13-4 3-1 12zM482 200l2-22-3 3-2 21zM501 196l1-17-3 4-2 15zM509 194l2 9-4 1-1-7zM486 197l1-3-3 0-1 3zM480 195l1-1 2 3-4 2-1-2-2 0zM451 200l2-12-4 1-1 12z"/><path class="p25" d="M519 203l1-19-3 2-1 18zM561 193l1-21-3 3-1 19zM524 198l1-8-3 2-2 8zM513 196l1-11-3 3-1 9zM518 194l2-15-3 2-2 13zM481 200l1 0-3 2-1-1zM498 195l1 13-3 2-1-12zM489 196l1-2 2-13-3 2-2 11-1 3zM482 194l1 0 1-1-3 1-1 1-2-1zM487 194l2-11-4 1-1 10zM454 200l2-14-3 2-2 12zM478 194l2 1-4 2-1-2zM453 194l1 0 2-6-3 0-2 7-1 1z"/><path class="p26" d="M527 197l1-9-3 2-1 8zM544 194l1 8-3 1-2-8zM549 191l2 15-3 1-2-14zM552 191l2-18-4 3-1 17zM535 194l1 7-3 2-1-7zM515 196l1-2-3 2-2 1zM484 199l2 0 1-24-3 3-2 22-1 0zM504 194l1-18-3 3-1 17zM512 192l2 9-3 2-2-9zM492 194l2-1-4 1-1 2zM508 191l1 3-3 3-1-3zM461 199l1-15-3 1-1 15zM485 194l1-2-3 2-1 0zM458 200l1-15-3 1-2 14zM484 193l2 4-3 0-2-3zM456 193l2 0 1-5-3 0-2 6-1 0zM448 190l2 6-3 1-2-6zM440 191l1-18-3 0-2 18z"/><path class="p27" d="M530 196l1-9-3 1-1 9zM547 192l1 9-3 1-1-8zM538 192l1 8-3 1-1-7zM518 194l1-3-3 3-1 2zM516 194l1-12-3 3-1 11zM522 192l1-16-3 3-2 15zM534 189l2-6-3 4-2 5zM487 198l2 1 1-26-3 2-1 24-2 0zM507 193l2-19-4 2-1 18zM501 193l2 14-4 1-1-13zM494 193l1-14-3 2-2 13zM486 192l2-1-4 2-1 1zM460 191l1 1 1-4-3 0-1 5-2 0zM452 190l1 4-3 2-2-6zM456 188l1-11-3 1-1 10zM443 190l1-19-3 2-1 18z"/><path class="p28" d="M541 191l2 8-4 1-1-8zM553 189l1 17-3 0-2-15zM555 189l2-20-3 4-2 18zM521 194l2-4-4 1-1 3zM491 197l1 0 2-27-4 3-1 26-2-1zM504 192l2 15-3 0-2-14zM516 190l1 11-3 0-2-9zM526 186l1-5-3 3-2 4zM496 192l1 0 1-15-3 2-1 14-2 1zM511 188l1 4-3 2-1-3zM518 187l1 19-3 1-1-17zM464 198l1-16-3 2-1 15zM488 193l1-3-3 2-1 2zM488 191l1 5-3 1-2-4zM500 187l2 13-4 0-1-12zM471 187l1-10-3 2-1 9zM455 190l1 3-3 1-1-4zM459 188l2-10-4-1-1 11zM446 189l1-20-3 2-1 19z"/><path class="p29" d="M519 191l2-13-4 4-1 12zM525 190l1-18-3 4-1 16zM538 186l1-7-3 4-2 6zM543 185l2-10-4 5-1 9zM510 191l2-21-3 4-2 19zM499 191l1 0 2-16-4 2-1 15-1 0zM521 185l2 21-4 0-1-19zM467 197l2-17-4 2-1 16zM491 192l2-5-4 3-1 3zM489 190l2-3-3 4-2 1zM463 189l1 0 2-2-4 1-1 4-1-1zM458 189l2 2-4 2-1-3zM462 188l2-11-3 1-2 10zM474 185l1 10-3 1-2-10zM449 189l2-21-4 1-1 20zM463 186l2 18-3 0-2-17z"/><path class="p30" d="M524 193l2-5-3 2-2 4zM523 190l1-16-3 4-2 13zM528 188l2-20-4 4-1 18zM494 195l1 0 2-28-3 3-2 27-1 0zM503 190l2-17-3 2-2 16zM508 190l1 16-3 1-2-15zM519 187l1 13-3 1-1-11zM536 183l1 15-3 2-1-13zM471 197l1-18-3 1-2 17zM495 191l1-6-3 2-2 5zM514 185l2 5-4 2-1-4zM491 187l1 7-3 2-1-5zM504 184l1 15-3 1-2-13zM499 183l1 4-3 1-1-3zM467 188l2-1-3 0-2 2zM489 183l1-1-3 2-2 0zM461 187l2 2-3 2-2-2zM466 187l1-12-3 2-2 11zM474 184l1-10-3 3-1 10zM477 183l1 11-3 1-1-10zM453 188l1-22-3 2-2 21zM467 184l1 19-3 1-2-18z"/><path class="p31" d="M558 182l2 21-4 0-1-18zM499 194l1-30-3 3-2 28zM541 183l1-7-3 3-1 7zM547 183l1-11-3 3-2 10zM514 188l1-22-3 4-2 21zM474 196l1-20-3 3-1 18zM498 190l1-7-3 2-1 6zM502 189l1 1-3 1-1 0zM529 183l1-5-3 3-1 5zM527 181l1 17-3 0-1-14zM493 187l1-3-3 3-2 3zM517 181l1 6-3 3-2-6zM465 187l1 0 1 1-3 1-1 0-2-2zM469 187l1-12-3 0-1 12zM480 183l2 11-4 0-1-11zM490 182l1 17-3 0-1-15z"/><path class="p32" d="M502 193l1-32-3 3-1 30zM526 188l1-17-3 3-1 16zM531 187l2-22-3 3-2 20zM497 193l2 1-4 1-1 0zM507 188l1-18-3 3-2 17zM511 187l1 17-3 2-1-16zM522 184l2 14-4 2-1-13zM539 179l1 16-3 3-1-15zM525 182l1 22-3 2-2-21zM494 184l2 8-4 2-1-7zM507 182l1 16-3 1-1-15zM471 187l1-1 2-12-4 1-1 12-2 1zM483 182l2 12-3 0-2-11zM492 181l1-1 2 18-4 1-1-17-1 1zM477 183l2-10-4 1-1 10zM456 186l1-22-3 2-1 22zM470 182l1 20-3 1-1-19z"/><path class="p33" d="M500 192l2 1-3 1-2-1zM544 180l2-7-4 3-1 7zM550 181l1-13-3 4-1 11zM510 187l1-20-3 3-1 18zM517 186l1-23-3 3-1 22zM477 194l1-21-3 3-1 20zM501 188l1-9-3 4-1 7zM505 187l2 1-4 2-1-1zM532 180l1-6-3 4-1 5zM517 182l2 5-3 3-2-5zM530 178l2 18-4 2-1-17zM496 185l1-3-3 2-1 3zM510 180l1 17-3 1-1-16zM520 179l1 6-3 2-1-6zM475 185l2-12-3 1-2 12zM502 179l2 5-4 3-1-4zM468 186l1-1 2 2-4 1-1-1-1 0zM481 181l1-10-3 2-2 10zM459 185l1-23-3 2-1 22zM472 177l2 8-4 1-1-7zM461 178l1-5-3 1-2 3zM457 177l2-3-4 1-1 3zM447 177l1 13-3 1-1-13z"/><path class="p34" d="M513 187l2-22-4 2-1 20zM480 193l2-22-4 2-1 21zM504 187l2-11-4 3-1 9zM514 185l2 19-4 0-1-17zM525 181l2 16-3 1-2-14zM528 179l1 23-3 2-1-22zM545 175l1 18-3 3-2-16zM497 182l2 9-3 1-2-8zM479 184l1-13-3 2-2 12zM471 184l2-2-4 3-1 1zM474 184l1 1-3 1-1 1zM487 181l1 12-3 1-2-12zM495 179l1-2-3 3-1 1zM462 184l2-24-4 2-1 23zM473 181l1 21-3 0-1-20zM464 177l1-6-3 2-1 5zM453 178l2 12-3 0-2-13zM450 177l2 13-4 0-1-13z"/><path class="p35" d="M484 193l1-24-3 2-2 22zM507 186l2-12-3 2-2 11zM520 184l2-25-4 4-1 23zM562 172l2 8-3 3-2-8zM508 185l2 2-3 1-2-1zM535 177l2-6-4 3-1 6zM542 176l2 18-4 1-1-16zM554 173l1 12-3 2-2-11zM499 183l2-4-4 3-1 3zM513 178l2 18-4 1-1-17zM523 176l2 6-4 3-1-6zM482 184l1-13-3 0-1 13zM490 179l1 13-3 1-1-12zM505 176l2 6-3 2-2-5zM473 182l1 2-3 3-2-2zM496 177l2 18-3 3-2-18zM476 179l2 22-4 1-1-21zM475 174l2 9-3 2-2-8zM457 177l1 12-3 1-2-12zM462 173l1 13-3 1-1-13z"/><path class="p36" d="M512 183l1 4-3 0-2-2zM517 183l2 20-3 1-2-19zM529 179l1 17-3 1-2-16zM531 176l1 25-3 1-1-23zM548 172l1 19-3 2-1-18zM521 178l1 6-3 3-2-5zM533 174l2 20-3 2-2-18zM493 179l2 12-4 1-1-13zM474 182l2-3-3 3-2 2zM477 181l2 3-4 1-1-1zM498 177l2-3-4 3-1 2zM465 182l2-25-3 3-2 24zM484 178l1-10-3 3-1 10zM460 176l1 11-3 2-1-12zM467 175l1-6-3 2-1 6z"/><path class="p37" d="M546 173l1 19-3 2-2-18zM502 179l2-4-3 4-2 4zM485 182l1-13-3 2-1 13zM501 179l1 10-3 2-2-9zM478 181l1-4-3 2-2 3zM480 180l2 4-3 0-2-3zM502 175l1-4-3 3-2 3zM509 174l1 6-3 2-2-6zM476 179l1 2-3 3-1-2zM500 174l1 19-3 2-2-18zM480 176l1 24-3 1-2-22zM463 176l2 11-4 0-1-11zM470 175l2-8-4 2-1 6zM479 173l1 10-3 0-2-9zM465 171l2 13-4 2-1-13zM444 171l2-5-4 1-1 6z"/><path class="p38" d="M538 174l2-6-3 3-2 6zM557 169l1 13-3 3-1-12zM524 174l1 7-3 3-1-6zM537 171l1 21-3 2-2-20zM488 180l2-13-4 2-1 13zM517 175l1 19-3 2-2-18zM526 172l2 7-3 3-2-6zM496 177l2 13-3 1-2-12zM469 180l1-26-3 3-2 25zM487 175l1-10-3 3-1 10zM466 176l2 10-3 1-2-11zM474 174l1-9-3 2-2 8zM447 169l2-4-3 1-2 5z"/><path class="p39" d="M534 173l2 27-4 1-1-25zM551 168l2 21-4 2-1-19zM506 176l1-5-3 4-2 4zM504 175l1 12-3 2-1-10zM481 179l1-6-3 4-1 4zM505 173l1-5-3 3-1 4zM512 170l1 8-3 2-1-6zM472 179l1-28-3 3-1 26zM479 177l1 3-3 1-1-2zM490 173l2-10-4 2-1 10zM503 171l1 21-3 1-1-19zM483 173l1 26-3 1-1-24zM470 175l1 9-3 2-2-10zM477 173l1-11-3 3-1 9zM482 171l1 11-3 1-1-10zM468 169l2 13-3 2-2-13zM451 168l1-3-3 0-2 4zM446 166l1 11-3 1-2-11z"/><path class="p40" d="M527 171l2 8-4 2-1-7zM492 179l1-14-3 2-2 13zM520 172l1 22-3 0-1-19zM530 168l1 8-3 3-2-7zM500 175l1 13-3 2-2-13zM484 177l1 5-3 2-2-4zM473 174l1 8-3 2-1-9zM449 165l1 12-3 0-1-11z"/><path class="p41" d="M495 178l1-14-3 1-1 14zM509 174l1-6-3 3-1 5zM540 168l1 23-3 1-1-21zM503 173l1 14-3 1-1-13zM484 177l2-8-4 4-1 6zM508 170l1-7-3 5-1 5zM475 176l2-28-4 3-1 28zM476 174l2 7-4 1-1-8zM486 171l1 27-3 1-1-26zM480 171l1-12-3 3-1 11zM485 168l2 13-4 1-1-11zM472 167l1 14-3 1-2-13zM454 166l1-2-3 1-1 3zM452 165l1 13-3-1-1-12z"/><path class="p42" d="M523 170l1 23-3 1-1-22zM487 175l2-9-3 3-2 8zM507 171l1 14-3 2-1-12zM487 173l1 7-3 2-1-5zM515 166l2 9-4 3-1-8zM479 173l2 6-3 2-2-7zM482 173l2 4-4 3-1-3zM494 170l1-11-3 4-2 10zM506 168l2 22-4 2-1-21zM483 171l2-14-4 2-1 12zM475 165l1 14-3 2-1-14zM455 164l2 13-4 1-1-13z"/><path class="p43" d="M506 172l1 14-3 1-1-14zM533 165l1 8-3 3-1-8zM511 167l2-7-4 3-1 7zM478 173l2-30-3 5-2 28zM486 169l2-15-3 3-2 14zM489 168l2 29-4 1-1-27zM488 165l2 14-3 2-2-13zM457 164l2-2-4 2-1 2z"/><path class="p44" d="M491 173l1-11-3 4-2 9zM510 168l2 15-4 2-1-14zM490 171l2 8-4 1-1-7zM483 171l1 6-3 2-2-6zM497 167l1-12-3 4-1 11zM509 163l2 24-3 3-2-22zM459 162l1 14-3 1-2-13z"/><path class="p45" d="M515 165l1-8-3 3-2 7zM482 171l1-31-3 3-2 30zM486 170l1 5-3 2-1-6zM518 163l2 9-3 3-2-9zM486 169l1 4-3 4-2-4zM490 167l1-17-3 4-2 15zM492 163l1 16-3 0-2-14zM478 162l2 14-4 3-1-14zM460 162l2-1 1 15-3 0-1-14-2 2z"/><path class="p46" d="M489 169l2 4-4 2-1-5zM493 168l2 10-3 1-2-8zM493 164l1 31-3 2-2-29z"/><path class="p47" d="M485 169l1-32-3 3-1 31zM522 159l1 11-3 2-2-9zM489 166l1 5-3 2-1-4zM493 165l1-18-3 3-1 17zM500 164l1-12-3 3-1 12zM513 160l1 25-3 2-2-24zM495 159l1 18-3 2-1-16zM481 159l2 14-3 3-2-14zM464 160l1-1 1 17-3 0-1-15-2 1z"/><path class="p48" d="M496 164l2-20-4 3-1 18zM496 161l1 32-3 2-1-31z"/><path class="p49" d="M492 162l1 6-3 3-1-5zM503 161l2-12-4 3-1 12zM516 157l1 26-3 2-1-25zM485 157l1 14-3 2-2-14zM467 157l1 0 2 18-4 1-1-17-1 1z"/><path class="p50" d="M498 155l2 20-4 2-1-18z"/><path class="p51" d="M499 158l1 34-3 1-1-32zM488 154l1 14-3 3-1-14zM470 154l2 1 1 19-3 1-2-18-1 0z"/><path class="p52" d="M501 152l2 21-3 2-2-20zM475 153l1 21-3 0-1-19z"/><path class="p53" d="M473 151l2 2-3 2-2-1z"/><path class="p54" d="M491 150l2 14-4 4-1-14zM478 151l1 22-3 1-1-21z"/><path class="p55" d="M505 149l1 23-3 1-2-21z"/><path class="p56" d="M494 147l2 14-3 3-2-14zM481 147l2 24-4 2-1-22zM477 148l1 3-3 2-2-2z"/><path class="p58" d="M498 144l1 14-3 3-2-14zM485 145l1 25-3 1-2-24z"/><path class="p59" d="M480 143l1 4-3 4-1-3z"/><path class="p60" d="M488 143l1 26-3 1-1-25z"/><path class="p61" d="M483 140l2 5-4 2-1-4z"/><path class="p63" d="M486 137l2 6-3 2-2-5z"/></g>
<path d="M241.8 130.4L329.8 108.7" stroke="#4d4d4d" stroke-width="0.6" fill="none"/>
<path d="M241.8 130.4L174.2 102.1" stroke="#4d4d4d" stroke-width="0.6" fill="none"/>
<path d="M174.2 102.1L174.2 40.4" stroke="#4d4d4d" stroke-width="0.6" fill="none"/>
<text transform="translate(246.6 139.5) scale(1.3 1)" font-size="6.3" text-anchor="start" fill="#262626" stroke="#262626" stroke-width="0.25">-5</text>
<text transform="translate(236 139.3) scale(1.3 1)" font-size="6.3" text-anchor="end" fill="#262626" stroke="#262626" stroke-width="0.25">-5</text>
<text transform="translate(290.6 128.6) scale(1.3 1)" font-size="6.3" text-anchor="start" fill="#262626" stroke="#262626" stroke-width="0.25">0</text>
<text transform="translate(202.2 125.1) scale(1.3 1)" font-size="6.3" text-anchor="end" fill="#262626" stroke="#262626" stroke-width="0.25">0</text>
<text transform="translate(334.6 117.8) scale(1.3 1)" font-size="6.3" text-anchor="start" fill="#262626" stroke="#262626" stroke-width="0.25">5</text>
<text transform="translate(168.4 111) scale(1.3 1)" font-size="6.3" text-anchor="end" fill="#262626" stroke="#262626" stroke-width="0.25">5</text>
<text transform="translate(168.7 94) scale(1.3 1)" font-size="6.3" text-anchor="end" fill="#262626" stroke="#262626" stroke-width="0.25">2</text>
<path d="M174.2 92.6L172.4 92.6" stroke="#4d4d4d" stroke-width="0.6" fill="none"/>
<text transform="translate(168.7 84.6) scale(1.3 1)" font-size="6.3" text-anchor="end" fill="#262626" stroke="#262626" stroke-width="0.25">4</text>
<path d="M174.2 83.2L172.4 83.2" stroke="#4d4d4d" stroke-width="0.6" fill="none"/>
<text transform="translate(168.7 75.1) scale(1.3 1)" font-size="6.3" text-anchor="end" fill="#262626" stroke="#262626" stroke-width="0.25">6</text>
<path d="M174.2 73.7L172.4 73.7" stroke="#4d4d4d" stroke-width="0.6" fill="none"/>
<text transform="translate(168.7 65.6) scale(1.3 1)" font-size="6.3" text-anchor="end" fill="#262626" stroke="#262626" stroke-width="0.25">8</text>
<path d="M174.2 64.2L172.4 64.2" stroke="#4d4d4d" stroke-width="0.6" fill="none"/>
<text transform="translate(168.7 56.2) scale(1.3 1)" font-size="6.3" text-anchor="end" fill="#262626" stroke="#262626" stroke-width="0.25">10</text>
<path d="M174.2 54.8L172.4 54.8" stroke="#4d4d4d" stroke-width="0.6" fill="none"/>
<text transform="translate(168.7 46.7) scale(1.3 1)" font-size="6.3" text-anchor="end" fill="#262626" stroke="#262626" stroke-width="0.25">12</text>
<path d="M174.2 45.3L172.4 45.3" stroke="#4d4d4d" stroke-width="0.6" fill="none"/>
<text transform="translate(285.9 142.6) scale(1.3 1)" font-size="7.2" text-anchor="start" fill="#262626" stroke="#262626" stroke-width="0.18">x<tspan font-size="5.2" dy="2.4">1</tspan></text>
<text transform="translate(194 141.2) scale(1.3 1)" font-size="7.2" text-anchor="start" fill="#262626" stroke="#262626" stroke-width="0.18">x<tspan font-size="5.2" dy="2.4">2</tspan></text>
<text transform="translate(251.9 17.5) scale(1.29 1)" font-size="7.6" text-anchor="middle" fill="#1a1a1a" stroke="#1a1a1a" stroke-width="0.18">Objective space</text>
<text transform="translate(149.8 72) rotate(-90) scale(1 1.3)" font-size="7" text-anchor="middle" fill="#262626" stroke="#262626" stroke-width="0.12">F13( x<tspan font-size="4.9" dy="3.5">1</tspan><tspan dy="-3.5"> , x</tspan><tspan font-size="4.9" dy="3.5">2</tspan><tspan dy="-3.5"> )</tspan></text></g>
<g><path d="M393.2 20.5V125.3M402 20.5V125.3M408.3 20.5V125.3M413.1 20.5V125.3M417.1 20.5V125.3M420.4 20.5V125.3M423.3 20.5V125.3M425.8 20.5V125.3M443.2 20.5V125.3M452 20.5V125.3M458.2 20.5V125.3M463 20.5V125.3M467 20.5V125.3M470.3 20.5V125.3M473.2 20.5V125.3M475.8 20.5V125.3M493.1 20.5V125.3M501.9 20.5V125.3M508.1 20.5V125.3M513 20.5V125.3M516.9 20.5V125.3M520.3 20.5V125.3M523.2 20.5V125.3M525.7 20.5V125.3" stroke="#ebebeb" stroke-width="0.5" fill="none"/>
<path d="M428.1 20.5V125.3M478.1 20.5V125.3M378.2 103H528M378.2 80.7H528M378.2 58.3H528M378.2 36.1H528" stroke="#dedede" stroke-width="0.5" fill="none"/>
<g fill="none" stroke-linejoin="round" stroke-linecap="butt">
<path d="M378.2 28.8 521.2 28.8 522.3 125 528 125" stroke="#ff0000" stroke-width="2.3"/>
<path d="M378.2 22.3 393.2 54.3 400.5 73.2 406.3 93.5 412.1 113.9 418.6 121.9 425.9 124.4 440 125 528 125" stroke="#000000" stroke-width="1.9"/>
<path d="M378.2 28.1 393.2 120.9 401.2 122.6 417.2 123.8 425.9 124.8 528 125" stroke="#22ee22" stroke-width="1.15"/>
<path d="M378.2 24.5 393.2 43.4 399.7 63 406.3 84.8 412.1 112.5 418.6 122.3 426 124.8 528 125" stroke="#ff22ff" stroke-width="1.15"/>
<path d="M378.2 94.3 393.2 119 400.5 123.4 418 125 528 125" stroke="#22eeff" stroke-width="1.15"/>
<path d="M378.2 119 393.2 123.8 404.1 124.8 528 125" stroke="#2222ff" stroke-width="1.15"/>
<path d="M378.2 20.9 520.5 20.9 521 125.3 528 125.3" stroke="#a83232" stroke-width="1.15"/>
</g>
<rect x="378.2" y="20.5" width="149.8" height="104.8" fill="none" stroke="#404040" stroke-width="0.6"/>
<path d="M378.2 125.3V123.7M378.2 20.5V22.1M428.1 125.3V123.7M428.1 20.5V22.1M478.1 125.3V123.7M478.1 20.5V22.1M528 125.3V123.7M528 20.5V22.1M378.2 103H379.8M528 103H526.4M378.2 80.7H379.8M528 80.7H526.4M378.2 58.3H379.8M528 58.3H526.4M378.2 36.1H379.8M528 36.1H526.4" stroke="#404040" stroke-width="0.5" fill="none"/>
<text transform="translate(375.7 105.2) scale(1.28 1)" font-size="6.8" text-anchor="end" fill="#262626" stroke="#262626" stroke-width="0.25">2</text>
<text transform="translate(375.7 82.9) scale(1.28 1)" font-size="6.8" text-anchor="end" fill="#262626" stroke="#262626" stroke-width="0.25">4</text>
<text transform="translate(375.7 60.5) scale(1.28 1)" font-size="6.8" text-anchor="end" fill="#262626" stroke="#262626" stroke-width="0.25">6</text>
<text transform="translate(375.7 38.3) scale(1.28 1)" font-size="6.8" text-anchor="end" fill="#262626" stroke="#262626" stroke-width="0.25">8</text>
<text transform="translate(378.4 136.2) scale(1.28 1)" font-size="6.8" text-anchor="middle" fill="#262626" stroke="#262626" stroke-width="0.15">10<tspan font-size="5.4" dy="-3">0</tspan></text>
<text transform="translate(428.3 136.2) scale(1.28 1)" font-size="6.8" text-anchor="middle" fill="#262626" stroke="#262626" stroke-width="0.15">10<tspan font-size="5.4" dy="-3">1</tspan></text>
<text transform="translate(478.3 136.2) scale(1.28 1)" font-size="6.8" text-anchor="middle" fill="#262626" stroke="#262626" stroke-width="0.15">10<tspan font-size="5.4" dy="-3">2</tspan></text>
<text transform="translate(528.2 136.2) scale(1.28 1)" font-size="6.8" text-anchor="middle" fill="#262626" stroke="#262626" stroke-width="0.15">10<tspan font-size="5.4" dy="-3">3</tspan></text>
<text transform="translate(452.7 143.3) scale(1.429 1)" font-size="6.5" text-anchor="middle" fill="#383838" stroke="#383838" stroke-width="0.12">Iterations</text>
<text transform="translate(365.8 73) rotate(-90) scale(1 1.3)" font-size="6.5" text-anchor="middle" fill="#383838" stroke="#383838" stroke-width="0.12">Best score</text>
<text transform="translate(453 18.2) scale(1.431 1)" font-size="6.6" text-anchor="middle" fill="#1a1a1a" stroke="#1a1a1a" stroke-width="0.2">Objective space</text>
<text transform="translate(379.5 18.5) scale(1.28 1)" font-size="7.0" text-anchor="start" fill="#262626" stroke="#262626" stroke-width="0.25"><tspan font-size="5.5">&#215;</tspan>10<tspan font-size="5.2" dy="-3">8</tspan></text>
<rect x="462.6" y="25.5" width="59" height="52.8" fill="#fff" stroke="#404040" stroke-width="0.6"/>
<path d="M465.9 29.5H493.5" stroke="#ff0000" stroke-width="2.3"/>
<text transform="translate(495 31.6) scale(1.28 1)" font-size="5.9" text-anchor="start" fill="#262626" stroke="#262626" stroke-width="0.25">SOA</text>
<path d="M465.9 36.9H493.5" stroke="#000000" stroke-width="1.9"/>
<text transform="translate(495 39) scale(1.28 1)" font-size="5.9" text-anchor="start" fill="#262626" stroke="#262626" stroke-width="0.25">GWO</text>
<path d="M465.9 44.3H493.5" stroke="#22ee22" stroke-width="1.15"/>
<text transform="translate(495 46.4) scale(1.28 1)" font-size="5.9" text-anchor="start" fill="#262626" stroke="#262626" stroke-width="0.25">FWOA</text>
<path d="M465.9 51.7H493.5" stroke="#ff22ff" stroke-width="1.15"/>
<text transform="translate(495 53.8) scale(1.28 1)" font-size="5.9" text-anchor="start" fill="#262626" stroke="#262626" stroke-width="0.25">WOA</text>
<path d="M465.9 59.1H493.5" stroke="#22eeff" stroke-width="1.15"/>
<text transform="translate(495 61.2) scale(1.28 1)" font-size="5.9" text-anchor="start" fill="#262626" stroke="#262626" stroke-width="0.25">PSO</text>
<path d="M465.9 66.5H493.5" stroke="#2222ff" stroke-width="1.15"/>
<text transform="translate(495 68.6) scale(1.28 1)" font-size="5.9" text-anchor="start" fill="#262626" stroke="#262626" stroke-width="0.25">SSA</text>
<path d="M465.9 73.9H493.5" stroke="#c06060" stroke-width="1.6"/>
<text transform="translate(495 76) scale(1.28 1)" font-size="5.9" text-anchor="start" fill="#262626" stroke="#262626" stroke-width="0.25">STOA</text></g>
<g id="p14"><path d="M176.3 239.6L176.3 175.1" stroke="#e6e6e6" stroke-width="0.5" fill="none"/>
<path d="M217.7 228.3L217.7 163.8" stroke="#e6e6e6" stroke-width="0.5" fill="none"/>
<path d="M259.1 217L259.1 152.5" stroke="#e6e6e6" stroke-width="0.5" fill="none"/>
<path d="M176.3 226.8L259.1 204.2" stroke="#e6e6e6" stroke-width="0.5" fill="none"/>
<path d="M176.3 213.9L259.1 191.2" stroke="#e6e6e6" stroke-width="0.5" fill="none"/>
<path d="M176.3 201L259.1 178.3" stroke="#e6e6e6" stroke-width="0.5" fill="none"/>
<path d="M176.3 188.1L259.1 165.4" stroke="#e6e6e6" stroke-width="0.5" fill="none"/>
<path d="M322.7 246.5L322.7 182" stroke="#e6e6e6" stroke-width="0.5" fill="none"/>
<path d="M290.9 231.7L290.9 167.2" stroke="#e6e6e6" stroke-width="0.5" fill="none"/>
<path d="M259.1 217L259.1 152.5" stroke="#e6e6e6" stroke-width="0.5" fill="none"/>
<path d="M322.7 233.7L259.1 204.2" stroke="#e6e6e6" stroke-width="0.5" fill="none"/>
<path d="M322.7 220.8L259.1 191.2" stroke="#e6e6e6" stroke-width="0.5" fill="none"/>
<path d="M322.7 207.9L259.1 178.3" stroke="#e6e6e6" stroke-width="0.5" fill="none"/>
<path d="M322.7 194.9L259.1 165.4" stroke="#e6e6e6" stroke-width="0.5" fill="none"/>
<path d="M239.8 269.2L176.3 239.6" stroke="#e6e6e6" stroke-width="0.5" fill="none"/>
<path d="M281.2 257.8L217.7 228.3" stroke="#e6e6e6" stroke-width="0.5" fill="none"/>
<path d="M322.7 246.5L259.1 217" stroke="#e6e6e6" stroke-width="0.5" fill="none"/>
<path d="M239.8 269.2L322.7 246.5" stroke="#e6e6e6" stroke-width="0.5" fill="none"/>
<path d="M208.1 254.4L290.9 231.7" stroke="#e6e6e6" stroke-width="0.5" fill="none"/>
<path d="M176.3 239.6L259.1 217" stroke="#e6e6e6" stroke-width="0.5" fill="none"/>
<g transform="scale(.5)" fill="none" stroke-width="1.4" stroke-opacity="1.0"><path stroke="#484df0" d="M494 503l-3 0 3-1 0 1M507 500l-3 0 3-1 0 1M521 496l-4 0 4-1 0 1M484 499l-3 0 3-1 0 1M497 495l-3 0 3-1 0 1M510 491l-3 0 4-1-1 1M474 494l-3 0 3-1 0 1M487 490l-3 0 3-1 0 1M500 487l-3 0 4-1-1 1M464 489l-3 0 3-1 0 1M477 486l-3-1 3 0 0 1M490 482l-3 0 3-1 0 1M453 485l-3-1 4-1-1 2M467 481l-3 0 3-1 0 1"/><path stroke="#3876fe" d="M492 504l4-1-4 1M506 500l3-1-3 1M519 497l3-1-3 1M532 493l4-1-4 1M545 489l4-1-4 1M482 499l4-1-4 1M496 496l3-1-3 1M509 492l3-1-3 1M522 488l3-1-3 1M535 485l4-1-4 1M472 494l3 0-3 0M485 491l4-1-4 1M499 487l3-1-3 1M512 484l3-1-3 1M525 480l3-1-3 1M462 490l3-1-3 1M475 486l4-1-4 1M488 482l4 0-4 0M502 479l3-1-3 1M515 475l3-1-3 1M452 485l3-1-3 1M465 481l3-1-3 1M478 478l4-1-4 1M492 474l3-1-3 1M505 470l3 0-3 0"/><path stroke="#1ca9df" d="M493 504l-4-1 4-1 3 1-3 1M506 500l-3-1 3-1 3 1-3 1M519 497l-3-1 3-2 4 2-4 1M532 493l-3-1 4-1 3 1-4 1M546 490l-4-2 4-1 3 1-3 2M483 499l-4-1 4-1 3 1-3 1M496 496l-4-2 4-1 3 2-3 1M509 492l-3-1 3-1 3 1-3 1M522 488l-3-1 3-1 4 1-4 1M536 485l-4-1 4-2 3 2-3 1M472 495l-3-2 3-1 4 1-4 2M486 491l-4-1 4-1 3 1-3 1M499 487l-3-1 3-1 3 1-3 1M512 484l-3-2 3-1 4 2-4 1M525 480l-3-1 4-1 3 1-4 1M462 490l-3-1 3-2 4 2-4 1M476 486l-4-1 4-1 3 1-3 1M489 483l-4-2 4-1 3 1-3 2M502 479l-3-1 3-1 3 1-3 1M515 475l-3-1 3-1 4 1-4 1M452 485l-3-1 3-1 4 1-4 1M465 482l-3-2 3-1 4 1-4 2M479 478l-4-1 4-2 3 2-3 1M492 474l-3-1 3-1 3 1-3 1M505 471l-3-2 3-1 3 1-3 2"/></g>
<g transform="scale(.5)" stroke-width="0.4"><path class="p2" d="M505 464l2-14-1-12-2 12z"/><path class="p9" d="M506 451l2-11-1 10-2 14zM503 451l2 13-1-14-2-11zM507 450l1-97-1 0-1 85zM504 450l2-12-2-85-1 0z"/><path class="p14" d="M505 440l1 11-1 13-2-13zM508 440l2-86-2-1-1 97zM502 439l2 11-1-97-2 0zM506 438l1-85-1-7-2 7z"/><path class="p57" d="M506 356l2 0 1-1 2-7-1 6-2 86-2 11-1-11zM503 356l2 84-2 11-1-96zM510 354l1-13-1-1-2 13zM502 355l1 96-1-12-1-84zM508 353l2-13-1 0-2 13zM501 355l1 84-1-86-2-5zM507 353l2-13-1-1-2 7zM501 353l2 0 1 0 2-7-1-7-2 1-2 0-1 0z"/><path class="p60" d="M511 348l2-6-2-1-1 13zM493 349l1-6-1-1-2 1zM499 348l2 5-1-13-2 1zM506 346l2-7-2-1-1 1z"/><path class="p63" d="M516 343l2-1-1-1-2 1zM514 342l1 0 2-1-1 0-2 1-2 1zM511 343l1 0 2-1 2-1-2-1-1 2-2 6-2 7zM513 342l1-2-1-1-2 2zM511 341l2-2-1 0-2 1zM500 343l2 12-1 0-2-12zM510 340l2-1-2-1-1 2zM497 342l2 1 2 12-2-7-1-6-2 0zM509 340l1-2-1 0-1 1zM494 343l2-1 2 0 1 6-1-7-2 0-1 0-2 1zM508 339l1-1-1-1-2 1zM490 343l1 0 2-1 2-1 1 0 2 0 2-1 1 0-1-2-2 1-1 0-2 1-2 0-1 1-2 0-2 0zM501 340l2 0 2-1 1-1 2-1-1-1-2 1-2 0-1 1-2 0z"/><path class="p2" d="M492 468l2-14-2-11-1 11z"/><path class="p9" d="M494 454l1-97-1-1-2 87zM491 454l1-11-1-87-2 1z"/><path class="p14" d="M516 443l1-86-1-7-2 7zM495 444l1-86-1-1-1 97zM489 444l2 10-2-97-1 0zM492 443l2-87-1-7-2 7z"/><path class="p57" d="M519 358l1-13-1 0-2 12zM517 357l2-12-1-1-2 6zM513 358l1-1 2-7-1-6-2 0-2 1zM496 358l2-13-1-1-2 13zM495 357l2-13-1 0-2 12zM494 356l2-12-2-1-1 6zM488 357l1 0 2-1 2-7-2-6-1 0-2 1-2 0z"/><path class="p60" d="M516 350l2-6-2-1-1 1zM504 350l2 6-1 84-2-84zM486 351l2 6-2-13-1 0z"/><path class="p63" d="M520 345l2-1-1-1-2 2zM519 345l2-2-2-1-1 2zM518 344l1-2-1 0-2 1zM508 346l2-1 1 0 2-1 2 0 1-1-1-1-1 0-2 1-2 0-1 1-2 0zM505 345l2-1 2 0 1-1 2 0 2-1-2 1-1 0-2 1-2 0-1 0-2 0zM502 345l2-1 2 0 1 0 2 0 2-1-2 12-1 1-2 0-2-6-1-6-2 0zM499 345l2-1 2 0 1 6-1 6-2-12-1-1-2 2zM498 345l2-2 1 1 2 12-1-1-2-12-2 0-1 1zM497 344l1-1 2 0-1 0-2-1-1 2zM496 344l1-2-1 0-2 1zM484 346l2 5-1-7-2 0zM481 344l2 0 2 0 1 0 2 0 2-1-2-2-1 1-2 0-2 1-1 0-2 1z"/><path class="p2" d="M515 468l2-13-1-12-2 11z"/><path class="p9" d="M517 456l1-12-1 11-2 13zM514 456l1 12-1-14-2-10zM517 455l2-97-2-1-1 86zM514 454l2-11-2-86-1 1zM493 455l2-11-1 10-2 14zM490 455l2 13-1-14-2-10z"/><path class="p14" d="M518 444l2-85-1-1-2 97zM512 444l2 10-1-96-2 0zM491 445l2 10-1 13-2-13z"/><path class="p57" d="M519 360l2-7-1 6-2 85zM520 359l2-13-2-1-1 13zM511 359l1 85-1-86-2-6zM511 358l2 0-2-13-1 0zM493 360l1-1 2 0 2-7-2 6-1 86-2 11-2-10zM490 359l1 86-1 10-1-96zM489 359l1 96-1-11-2-86zM487 358l2 86-1-87-2-6z"/><path class="p60" d="M521 353l2-7-1 0-2 13zM509 352l2 6-1-13-2 1zM498 352l1-7-1 0-2 13zM479 353l2-7-1-1-2 1z"/><path class="p63" d="M522 347l2-1 2-1-2 0-1 1-2 7zM523 346l1-1-1-1-1 2zM522 346l1-2-1 0-2 1zM509 347l2 12-2-7-1-5zM506 346l2 1 1 5-1-6-1 0-2 0zM503 346l2 0 2 0 1 0-1-2-2 1-1 0-2 1zM499 346l1 0 2 0 2-1 1 0-1-1-2 1-1 0-2 1-2 1zM496 347l1 0 2-1 2-1 1 0-1-1-2 1-1 7-2 7-2 0zM488 347l2 12-1 0-2-12zM485 346l2 1 2 12-2-1-1-12-2 0zM482 347l2-1 2 0 1 12-1-7-2-5-1-1-2 1zM481 346l2-1 1 1-1-2-2 0-1 1zM475 347l1 0 2-1 2-1 1-1-1 0-1 0-2 1-2 0-1 1z"/><path class="p8" d="M480 459l2-98-1-1-2 87zM477 459l2-12-1-87-2 1z"/><path class="p14" d="M515 445l2 11-2 12-1-12zM479 447l2-87-2-7-1 7z"/><path class="p57" d="M516 361l2-1 1 0-1 84-1 12-2-11zM513 360l2 85-1 11-2-96zM512 360l2 96-2-12-1-85zM504 361l2-13-2 0-1 6zM501 361l2-7-1-7-2 1zM483 361l2-13-1 0-2 13zM482 361l2-13-2-1-1 13zM481 360l1-13-1-1-2 7zM474 361l2 0 2-1 1-7-1-7-2 1-1 0-2 1z"/><path class="p60" d="M515 355l1 6-1 84-2-85zM503 354l1-6-1-2-1 1zM491 354l2 6-2 85-1-86zM473 355l1 6-1-13-2 0z"/><path class="p63" d="M528 349l2-2-2 0-1 0zM525 349l2-2 1 0-1-1-2 1-1 0zM522 348l2-1 1 0 2-1-1-1-2 1-2 1-1 1zM517 349l2-1 2 0 1-1-1 6-2 7-1 0-2 1zM512 349l1 11-1 0-2-12zM507 349l2-2 1 1 2 12-1-1-2-12-2 0-1 1zM506 348l1-1 2 0-1 0-2-1-2 2zM504 348l2-2-1 0-2 0zM498 348l2 0 2-1 1-1-1 0-2 0-1 0-2 1zM494 348l1-1 2 0 2-1-2 1-1 0-2 1-2 0zM491 348l1 0 2 0 2-1-2 12-1 1-2-6-2-6zM488 348l1 0 2 6-1 5-2-12-1 0zM485 348l2-1 1 0-1 0-2-1-1 2zM484 348l1-2-1 0-2 1zM470 348l1 0 2 0 2-1-1-1-2 0-2 0-1 1z"/><path class="p1" d="M479 473l1-14-1-12-2 12z"/><path class="p8" d="M480 460l2-12-2 11-1 14zM477 460l2 13-2-14-1-11z"/><path class="p9" d="M504 459l1-97-1-1-2 87zM501 459l1-11-1-87-2 1z"/><path class="p14" d="M499 449l2 10-2-97-1 0zM502 448l2-87-1-7-2 7zM482 448l1-87-1 0-2 98zM476 448l1 11-1-98-2 0z"/><path class="p57" d="M527 362l2-13-1 0-2 6zM523 363l2-1 1-7-1-6-2 0-1 1zM507 362l1-13-1 0-2 13zM505 362l2-13-1-1-2 13zM498 362l1 0 2-1-1-13-2 0-1 1zM483 362l1-7-1 6-1 87zM475 363l2 97-1-12-2-86zM474 362l2 86-2-87-1-6z"/><path class="p60" d="M526 355l2-6-1-2-2 2zM496 356l2 6-1-13-2 0zM484 355l2-6-1-1-2 13z"/><path class="p63" d="M530 350l2-2-1 0-2 1zM529 349l2-1-1-1-2 2zM520 350l2 0 1-1 2 0-1-2-2 1-2 0-1 0zM517 349l2-1 1 0 2 0-1 0-2 0-2 1-1 0zM514 349l2 0 1 0-1 12-1-6-2-6zM510 350l1-1 2 0 2 6-2 5-1-11-2-1-2 1zM508 349l2-1 2 1-2-1-1-1-2 2zM493 349l2 0 2 0 1-1-1-1-2 0-1 1-2 0zM489 349l1 0 2-1 2 0-2 0-1 0-2 0-2 1zM486 350l1-1 2-1 2 0-2 0-1 0-2 1-2 6zM486 349l2-1-1-1-2 1zM472 350l2 12-1-7-2-6zM469 349l2 0 2 6-2-7-1 0-2 0zM465 350l2-1 1-1 2 0-1-1-2 0-2 1-1 0z"/><path class="p2" d="M502 473l2-14-2-11-1 11z"/><path class="p9" d="M527 460l2-97-2-1-1 86zM524 459l2-11-1-86-2 1zM503 460l2-11-1 10-2 14zM500 460l2 13-1-14-2-10z"/><path class="p14" d="M523 449l1 10-1-96-2 0zM526 448l1-86-1-7-1 7zM502 450l1 10-1 13-2-13zM505 449l2-87-2 0-1 97zM478 449l2 11-1 13-2-13z"/><path class="p57" d="M530 363l2-13-2 0-1 13zM529 363l1-13-1-1-2 13zM521 363l2 0-1-13-2 0zM506 363l2-6-1 5-2 87zM499 364l1 96-1-11-2-86zM497 363l2 86-1-87-2-6zM480 363l1 0 2-1-1 86-2 12-2-11zM477 363l1 86-1 11-2-97zM467 364l2-13-1-1-2 7zM464 364l2-7-1-7-2 0z"/><path class="p60" d="M520 357l1 6-1-13-2 0zM508 357l2-7-2-1-1 13zM478 357l2 6-2 86-1-86zM466 357l2-7-1-1-2 1z"/><path class="p63" d="M533 351l2-2-2 0-1 1zM532 350l1-1-1-1-2 2zM517 350l1 0 2 0-1-2-2 1-2 0zM512 350l2 0 1-1 2 0-1 0-2 0-2 0-1 1zM509 351l2-1 1-1 2 0-1 0-2 0-1 1-2 7zM496 351l1 12-1-7-1-6zM491 351l2-1 2 0 1 6-1-7-2 0-1 0-2 1zM488 351l2-1 2-1 1 0-1-1-2 1-1 0-2 1zM485 350l2 0 2-1-2 0-1 1-2 0zM482 351l2-1 2 0-2 5-1 7-2 1zM475 351l2 12-2 0-1-13zM472 350l2 0 1 13-1-1-2-12-1-1zM469 351l2-2 1 1-1-1-2 0-1 1zM468 350l1-1-1-1-1 1zM462 351l1-1 2 0-1-2-2 1-2 0z"/><path class="p2" d="M525 473l2-13-1-12-2 11z"/><path class="p8" d="M467 463l2-99-2 0-1 88zM464 463l2-11-2-88-1 0z"/><path class="p9" d="M527 461l1-12-1 11-2 13zM524 460l1 13-1-14-1-10z"/><path class="p13" d="M466 452l1-88-1-7-2 7z"/><path class="p14" d="M528 449l2-86-1 0-2 97z"/><path class="p57" d="M530 364l1-6-1 5-2 86zM522 365l2 95-1-11-2-85zM521 364l2 85-2-86-1-6zM503 364l2 0 1-1-1 86-2 11-1-10zM500 364l2 86-2 10-1-96zM488 365l2-7-2-7-1 1zM469 364l1-13-1 0-2 13zM461 364l2 0 1 0-1-14-1 1-2 0z"/><path class="p60" d="M531 358l2-7-1-1-2 13zM501 358l2 6-1 86-2-86zM490 358l1-7-1-1-2 1z"/><path class="p63" d="M536 351l1 0-1-1-2 1zM533 352l1-1 2-1-1-1-2 2-2 7zM519 352l2 12-1-7-2-6zM516 351l2 0 2 6-2-7-1 0-2 0zM512 352l1-1 2-1 2 0-2-1-1 1-2 0-2 1zM509 351l1 0 2-1-1 0-2 1-1 1zM506 352l2 0 1-1-1 6-2 6-1 1zM498 352l2 12-1 0-2-12zM495 351l2 1 2 12-2-1-1-12-2 0zM492 352l2-1 2 0-1-1-2 0-2 1zM485 352l2 0 1-1-1-1-2 0-1 1zM482 351l2 0 1-1-1 0-2 1-1 0zM477 352l2 0 2-1 1 0-1 12-1 0-2-6-2-5zM475 351l1 1 2 5-1 6-2-12-2 0zM472 352l1-1 2 0-1-1-2 0-2 1zM470 351l2-1-1-1-2 2zM457 352l1 0 2-1 2 0-2-2-1 1-2 0-2 1z"/><path class="p1" d="M465 478l2-15-1-11-2 11z"/><path class="p8" d="M488 464l1-12-1-87-2 0zM464 464l1 14-1-15-2-11z"/><path class="p13" d="M468 453l2-88-1-1-2 99zM462 452l2 11-1-99-2 0z"/><path class="p14" d="M525 450l2 11-2 12-1-13zM489 452l2-87-1-7-2 7z"/><path class="p57" d="M526 365l2 0 2-1-2 85-1 12-2-11zM523 365l2 85-1 10-2-95zM511 366l2-7-1-7-2 1zM492 366l2-14-2 0-1 13zM491 365l1-13-1-1-1 7zM485 366l1-1 2 0-1-13-2 0-2 1zM470 365l2-13-2-1-1 13zM461 365l1 87-1-88-1-6z"/><path class="p60" d="M513 359l2-7-2-1-1 1zM471 359l2-7-1 0-2 13zM460 358l1 6-1-13-2 1z"/><path class="p63" d="M537 352l1-1-1 0-1 0zM532 352l2 0 2-1-2 0-1 1-2 1zM529 353l2 0 2-1-2 6-1 6-2 1zM522 353l1 12-1 0-2-12zM519 352l1 1 2 12-1-1-2-12-1 0zM516 353l2-1 1 0-1-1-2 0-1 1zM515 352l1-1-1-1-2 1zM508 353l2 0 2-1-2-1-1 0-2 1zM505 352l2 0 2-1-1 1-2 0-2 0zM503 353l1-1 2 0-1 12-2 0-2-6zM498 352l2 1 1 5-1 6-2-12-1 0zM495 353l2-1 1 0-1 0-2-1-1 1zM494 352l1-1-1 0-2 1zM482 353l1 0 2-1-1-1-2 0-2 0zM477 352l2 0 1-1 2 0-1 0-2 1-2 0-1 0zM474 353l2-1 1 0-1 0-1-1-2 1zM473 352l2-1-2 0-1 1zM458 353l2 5-2-6-1 0zM453 353l2-1 2 0-2-1-1 0-2 0z"/><path class="p1" d="M489 478l1-14-1-12-1 12z"/><path class="p8" d="M490 464l2-98-1-1-2 87zM467 464l1-11-1 10-2 15z"/><path class="p13" d="M465 454l2 10-2 14-1-14z"/><path class="p14" d="M513 453l1-87-1-7-2 7zM492 453l1-87-1 0-2 98zM486 453l2 11-2-99-1 1z"/><path class="p57" d="M516 367l1-13-1-1-2 13zM514 366l2-13-1-1-2 7zM508 367l2-1 1 0-1-13-2 0-1 1zM493 366l2-13-1-1-2 14zM484 367l2 86-1-87-2-6zM468 367l2-1 1-7-1 6-2 88-1 11zM463 367l2 87-1 10-2-98zM462 366l2 98-2-12-1-87z"/><path class="p60" d="M536 360l2-7-1-1-2 1zM525 359l1 6-1 85-2-85zM495 360l1-6-1-1-2 13zM483 360l2 6-2-13-1 0z"/><path class="p63" d="M539 354l2-2-1 0-2 1zM538 353l2-1-2-1-1 1zM533 354l2-1 2-1-1-1-2 1-2 0zM529 353l2 0 1-1-1 1-2 0-1 1zM526 354l2 0 1-1-1 12-2 0-1-6zM523 354l2 5-2 6-1-12zM518 354l2-1 2 0-2 0-1-1-2 2zM517 354l2-2-1 0-2 1zM505 354l2 0 1-1-1-1-2 0-1 1zM502 353l2 0 1-1-1 0-1 1-2 0zM499 353l2 0 2 0-2 5-1-5-2-1zM496 354l2-2-1 0-2 1zM481 354l2 6-1-7-2 0zM478 353l2 0 2 0-2-2-1 1-2 0zM474 353l1 0 2-1-1 0-2 1-2 1zM471 354l1 0 2-1-1-1-2 7-1 7zM460 354l2 12-1-1-2-11zM457 353l2 1 2 11-1-7-2-5-2-1zM455 354l1-2 2 1-1-1-2 0-2 1zM450 354l2 0 1-1-1-2-2 1-1 0z"/><path class="p2" d="M512 478l2-14-1-11-2 11z"/><path class="p8" d="M514 464l2-97-2-1-1 87zM511 464l2-11-2-87-1 0zM490 465l2-12-2 11-1 14zM487 465l2 13-1-14-2-11z"/><path class="p14" d="M536 453l2-86-2-7-1 7zM515 454l2-87-1 0-2 97zM509 453l2 11-1-98-2 1zM488 454l2 11-1 13-2-13z"/><path class="p57" d="M538 367l1-13-1-1-2 7zM533 367l2 0 1-7-1-7-2 1-1 0zM517 367l1-13-1 0-1 13zM491 368l2-1 2-7-2 6-1 87-2 12zM485 367l2 98-1-12-2-86zM466 367l2 0-1 97-2-10zM454 367l2-13-1 0-2 6zM451 367l2-7-1-6-2 0z"/><path class="p60" d="M506 361l2 6-1-13-2 0zM465 361l1 6-1 87-2-87zM453 360l2-6-2-1-1 1z"/><path class="p63" d="M541 355l1-2-1-1-2 2zM530 355l2-1 1 0-1-2-1 1-2 0zM526 354l1 0 2-1-1 1-2 0-2 0zM523 354l1 0 2 0-1 5-2-5-2-1zM520 355l1-2 2 1-1-1-2 0-2 1zM502 354l1 0 2 0-1-1-2 0-2 0zM499 354l1-1 2 0-1 0-2 0-1 1zM496 355l2-1 1-1-1-1-2 2-1 6zM481 354l2 1 1 12-1-7-2-6-1 0zM478 355l2-1 1 0-1-1-2 0-1 1zM475 355l2-1 1-1-1-1-2 1-1 0zM470 354l2 0 2-1-2 1-1 0-2 1zM468 355l1 0 2-1-1 12-2 1-2 0zM462 355l1 12-1-1-2-12zM457 355l2-1 1 0-1 0-2-1-1 1zM456 354l1-1-1-1-1 2zM447 355l1 0 2-1-1-2-2 1-2 0z"/><path class="p7" d="M454 468l1-100-1-1-1 89zM451 468l2-12-2-89-1 1z"/><path class="p8" d="M513 465l2-11-1 10-2 14zM511 465l1 13-1-14-2-11z"/><path class="p9" d="M537 464l2-96-1-1-2 86zM534 464l2-11-1-86-2 0z"/><path class="p13" d="M453 456l1-89-1-7-2 7z"/><path class="p14" d="M533 454l1 10-1-97-2 1z"/><path class="p57" d="M540 368l2-13-1 0-2 13zM539 368l2-13-2-1-1 13zM531 368l2-1-1-13-2 1zM516 368l2-7-1 6-2 87zM509 368l2 97-2-12-1-85zM508 368l1 85-1-86-2-6zM490 368l1 0-1 97-2-11zM487 368l1 86-1 11-2-98zM475 368l1-7-1-6-2 0zM455 368l2-13-1-1-2 13zM448 368l2 0 1-1-1-13-2 1-1 0z"/><path class="p60" d="M530 362l1 6-1-13-2 0zM518 361l2-6-2-1-1 13zM476 361l2-6-1-1-2 1z"/><path class="p63" d="M543 356l2-2-1 0-2 1zM542 355l2-1-2-1-1 2zM527 355l1 0 2 0-1-2-2 1-1 0zM524 355l2-1-2 0-1 0zM519 356l2-1 2-1-2-1-1 2-2 6zM506 356l2 12-2-7-1-6zM503 355l2 0 1 6-1-7-2 0-1 0zM498 356l2-1 2-1-2-1-1 1-2 0zM496 355l1-1 2 0-1 0-2 1-2 0zM493 356l1-1 2 0-1 5-2 7-2 1zM485 356l2 12-2-1-1-12zM482 355l2 0 1 12-1 0-1-12-2-1zM479 356l2-2-1 0-2 1zM472 356l1-1 2 0-1-2-2 1-2 0zM469 355l1-1-1 1-1 0zM464 355l2 0 2 0-2 12-1-6-2-6zM461 355l2 0 2 6-2 6-1-12-2-1zM458 356l2-2 2 1-2-1-1 0-2 1zM445 355l2 0-2-2-1 1z"/><path class="p0" d="M452 483l2-15-1-12-2 12z"/><path class="p2" d="M536 478l1-14-1-11-2 11z"/><path class="p9" d="M537 465l2-11-2 10-1 14zM534 465l2 13-2-14-1-10z"/><path class="p13" d="M476 456l2-88-2-7-1 7zM455 457l2-89-2 0-1 100zM449 457l2 11-1-100-2 0z"/><path class="p14" d="M539 454l1-86-1 0-2 96zM512 455l1 10-1 13-1-13z"/><path class="p57" d="M531 369l2 85-2-86-1-6zM513 369l2 0 1-1-1 86-2 11-1-10zM510 369l2 86-1 10-2-97zM479 369l2-13-2 0-1 12zM478 368l1-12-1-1-2 6zM473 369l2-1-2-13-1 1zM457 368l1-12-1-1-2 13zM448 369l1 88-1-89-2-6z"/><path class="p60" d="M541 362l2-6-1-1-2 13zM500 363l1-7-1-1-2 1zM488 362l2 6-2 86-1-86zM458 363l2-7-2 0-1 12zM446 362l2 6-1-13-2 0z"/><path class="p63" d="M544 356l2-1-1-1-2 2zM526 356l2 0 2 6-2-7-1 0-2 0zM524 356l1-1 2 0-1-1-2 1-2 0zM521 355l1 0 2 0-1-1-2 1-2 1zM516 357l2-1 1 0-1 5-2 7-1 1zM507 356l2 12-1 0-2-12zM503 357l1-2 2 1-1-1-2 0-2 1zM501 356l2-1-1-1-2 1zM497 356l1 0-1-2-1 1zM492 356l2-1 2 0-2 0-1 1-2 0zM489 356l2 0 2 0-2 12-1 0-2-6zM486 356l2 6-1 6-2-12zM482 357l1-2 2 1-1-1-2 0-1 1zM481 356l1-1-1-1-2 2zM468 357l2-1 2 0-2-2-1 1-2 0zM465 356l2-1 2 0-1 0-2 0-2 0zM463 355l1 0-1 0-2 0zM460 356l1-1-1-1-2 2zM445 356l1 6-1-7-2 0zM442 355l1 0 2 0-1-1-2 0-2 0z"/><path class="p1" d="M476 483l1-15-1-12-2 12z"/><path class="p7" d="M453 469l2-12-1 11-2 15zM450 469l2 14-1-15-2-11z"/><path class="p8" d="M477 468l2-99-1-1-2 88zM474 468l2-12-1-88-2 1z"/><path class="p13" d="M473 457l1 11-1-99-2 0zM452 458l1 11-1 14-2-14z"/><path class="p14" d="M535 455l2 10-1 13-2-13z"/><path class="p57" d="M538 370l2-1 1-7-1 6-1 86-2 11zM532 370l2 95-1-11-2-85zM501 369l2-12-2-1-1 7zM496 370l2-1 2-6-2-7-1 0-2 1zM480 370l2-13-1-1-2 13zM471 369l2 0-1-13-2 0zM456 370l2-7-1 5-2 89zM449 370l1 99-1-12-1-88z"/><path class="p60" d="M511 363l2 6-1 86-2-86zM470 363l1 6-1-13-2 1z"/><path class="p63" d="M544 357l2-1 1-1-1 0-2 1-1 1zM541 357l2 0 1-1-1 0-2 6-1 7zM531 357l1 13-1-1-2-12zM528 356l1 1 2 12-1-7-2-6-2 0zM525 357l1-1-1-1-1 1zM520 357l2 0 2-1-2-1-1 0-2 1zM517 356l2 0 2-1-2 1-1 0-2 1zM514 357l2 0-1 12-2 0zM510 357l1 6-1 6-1-12zM507 356l2 1 1 12-1-1-2-12-1 0zM504 357l2-1 1 0-1 0-2-1-1 2zM493 357l2 0 2-1-1-1-2 0-2 1zM491 356l1 0-1 0-2 0zM486 357l2-1 1 0-1 6-2-6-1 0zM483 357l2-1 1 0-1 0-2-1-1 2zM465 357l2-1 1 1-1-2-2 1-1 0zM462 356l2 0 1 0-1-1-1 0-2 1zM459 357l2-1 2-1-2 0-1 1-2 7zM446 357l2 12-2-7-1-6zM443 356l2 0-2-1-1 0z"/><path class="p8" d="M501 469l1-99-1-1-2 88zM498 469l1-12-1-88-2 1zM477 469l1-11-1 10-1 15zM474 469l2 14-2-15-1-11z"/><path class="p13" d="M499 457l2-88-1-6-2 6zM478 458l2-88-1-1-2 99z"/><path class="p57" d="M537 370l1 0-1 95-2-10zM534 370l1 85-1 10-2-95zM524 371l2-13-1-1-2 7zM521 370l2-6-1-7-2 0zM504 371l1-13-1-1-2 13zM502 370l2-13-1 0-2 12zM495 370l1 0-1-13-2 0zM480 371l1-7-1 6-2 88zM471 370l2 87-2-88-1-6zM453 370l2 0 1 0-1 87-2 12-1-11zM450 370l2 88-2 11-1-99z"/><path class="p60" d="M535 364l2 6-2 85-1-85zM523 364l2-7-1-1-2 1zM481 364l2-7-1 0-2 13z"/><path class="p63" d="M548 358l2-1-1-1-2 1zM545 358l2-1 2-1-2-1-1 1-2 1zM542 357l2 0-1 0-2 0zM538 358l1 0 2-1-1 12-2 1-1 0zM532 358l2 12-2 0-1-13zM529 357l2 0-2 0-1-1zM526 358l2-2-2 0-1 1zM519 358l1-1-1-1-2 0zM514 357l2 0 1-1-1 1-2 0-1 1zM511 357l2 1 1-1-1 12-2-6-1-6zM508 357l2 0-1 0-2-1zM505 358l2-2-1 0-2 1zM490 358l2 0 1-1-1-1-1 0-2 1zM487 357l2 0 2-1-2 0-1 0-2 1zM484 357l2 0-1-1-2 1zM469 358l2 12-1-7-2-5zM466 357l2 1 2 5-2-6-1-1-2 1zM463 357l2 0-1-1-2 0zM459 357l2 0 1-1-1 0-2 1-1 1zM456 358l2 0 1-1-1 6-2 7-1 0zM446 357l1 1 2 12-1-1-2-12-2-1zM444 356l2 1-1-1-2 0z"/><path class="p1" d="M499 483l2-14-2-12-1 12z"/><path class="p8" d="M521 469l2-12-2-87-1 1zM497 470l2 13-1-14-2-11z"/><path class="p13" d="M502 458l2-87-2-1-1 99zM496 458l2 11-2-99-1 0zM475 459l2 10-1 14-2-14z"/><path class="p14" d="M523 457l1-86-1-7-2 6z"/><path class="p57" d="M526 371l1-13-1 0-2 13zM518 371l2 0 1-1-1-13-1 1-2 0zM494 371l2 87-1-88-2-6zM478 371l2 0-2 87-1 11zM473 371l2 88-1 10-2-98zM472 371l2 98-1-12-2-87z"/><path class="p60" d="M547 365l1-7-1-1-2 1zM505 365l1-7-1 0-1 13zM493 364l2 6-2-13-1 1zM463 365l2-7-2-1-1 1zM451 364l2 6-1 88-2-88z"/><path class="p63" d="M549 359l2-2-1 0-2 1zM542 359l2 0 1-1-1-1-2 0-1 0zM539 358l2-1 1 0-1 0-2 1-1 0zM536 359l2-1-1 12-2-6zM532 358l1 1 2 5-1 6-2-12-2 0zM529 359l1-1 2 0-1-1-2 0-2 1zM527 358l2-1-1-1-2 2zM515 359l2-1 2 0-2-2-1 1-2 0zM512 358l2-1-1 1-2-1zM508 358l1 0 2-1-1 0-2 0-2 1zM506 358l2-1-1-1-2 2zM491 359l2 5-1-6-2 0zM487 358l2 0 1 0-1-1-2 0-1 1zM484 358l2 0 1-1-1 0-2 0-1 1zM481 359l2-1 1-1-1 0-2 7-1 7zM471 359l1 12-1-1-2-12zM468 358l1 0-1 0-2-1zM465 358l1-1-1 0-2 0zM460 359l2-1 1-1-1-1-1 1-2 0zM457 358l2-1-1 1-2 0zM453 359l1 0 2-1-1 12-2 0-2-6zM450 359l1 5-1 6-2-12zM447 358l1 0 2 12-1 0-2-12-1-1z"/><path class="p1" d="M522 483l2-14-1-12-2 12z"/><path class="p8" d="M524 469l2-98-2 0-1 86zM500 470l2-12-1 11-2 14z"/><path class="p13" d="M499 459l1 11-1 13-2-13z"/><path class="p14" d="M546 458l2-86-1-7-2 7zM525 459l2-87-1-1-2 98zM519 458l2 11-1-98-2 0z"/><path class="p57" d="M549 372l2-13-2 0-1 13zM548 372l1-13-1-1-1 7zM543 372l2 0 2-7-2-7-1 1-2 0zM527 372l2-13-2-1-1 13zM501 372l2 0 2-7-1 6-2 87-2 12zM496 372l1 98-1-12-2-87zM476 372l2-1-1 98-2-10zM464 372l2-13-1-1-2 7zM461 372l2-7-1-7-2 1z"/><path class="p60" d="M517 365l1 6-1-13-2 1zM475 366l1 6-1 87-2-88z"/><path class="p63" d="M551 359l1-1-1-1-2 2zM540 359l2 0-1-2-2 1zM536 359l1-1 2 0-1 0-2 1-2 0zM533 359l1 0 2 0-1 5-2-5-1-1zM530 359l2-1-2 0-1 1zM515 360l2 5-2-6-1 0zM512 359l2 0 1 0-1-2-2 1-1 0zM509 359l2-1 1 0-1-1-2 1-1 0zM506 359l2-1-2 0-1 7zM491 359l2 0 1 12-1-7-2-5-1-1zM488 360l2-2 1 1-1-1-1 0-2 0zM485 359l2-1-1 0-2 0zM481 359l1-1 2 0-1 0-2 1-2 0zM478 360l1-1 2 0-1 12-2 0-2 1zM470 359l2 0 1 12-1 0-1-12-2-1zM467 360l2-2 2 1-2-1-1 0-2 1zM466 359l2-1-2-1-1 1zM457 360l1-1 2 0-1-2-2 1-1 0zM454 359l2-1 1 0-1 0-2 1-1 0zM451 359l2 0-2 5-1-5zM448 358l2 1-2-1-1 0z"/><path class="p7" d="M464 473l2-100-2-1-1 89zM461 473l2-12-2-89-1 1z"/><path class="p8" d="M524 470l1-11-1 10-2 14zM521 470l1 13-1-14-2-11z"/><path class="p9" d="M547 469l2-97-1 0-2 86zM545 469l1-11-1-86-2 0z"/><path class="p13" d="M463 461l1-89-1-7-2 7z"/><path class="p14" d="M543 459l2 10-2-97-1 0z"/><path class="p57" d="M550 373l2-13-1-1-2 13zM542 372l1 0-1-13-2 0zM527 373l1-7-1 6-2 87zM519 373l2 97-2-12-1-86zM518 372l1 86-1-87-1-6zM500 373l1-1-1 98-1-11zM497 372l2 87-2 11-1-98zM485 373l1-7-1-7-1 1zM466 373l1-13-1-1-2 13zM458 373l2 0 1-1-1-13-2 0-1 1z"/><path class="p60" d="M540 367l2 5-2-13-1 1zM528 366l2-7-1 0-2 13zM486 366l2-6-1-2-2 1z"/><path class="p63" d="M553 360l2-1-1-1-2 2zM552 360l2-2-2 0-1 1zM537 360l2 0 1-1-1-1-2 0-1 1zM534 359l2 0-2 0-1 0zM529 360l2-1 2 0-1-1-2 1-2 7zM516 360l2 12-1-7-2-5zM513 359l2 1-1-1-2 0zM509 361l1-1 2-1-1-1-2 1-2 0zM506 360l1-1 2 0-1-1-2 1-2 1zM503 360l1 0 2-1-1 6-2 7-2 0zM495 361l2 11-1 0-2-12zM492 359l2 1 2 12-2-1-1-12-2 0zM489 360l2-1-1-1-2 2zM482 360l2 0 1-1-1-1-2 0-1 1zM479 359l2 0-2 0-1 1zM474 360l2 0 2 0-2 12-1-6-2-6zM471 360l2 0 2 6-2 5-1-12-2 0zM469 360l1-1-1-1-2 2zM455 360l2 0-1-2-2 1zM451 359l1 0 2 0-1 0-2 0-2 0zM449 359l2 0-1 0-2-1z"/><path class="p0" d="M462 488l2-15-1-12-2 12z"/><path class="p2" d="M546 483l1-14-1-11-1 11z"/><path class="p9" d="M547 470l2-11-2 10-1 14zM544 470l2 13-1-14-2-10z"/><path class="p13" d="M486 461l2-88-2-7-1 7zM465 462l2-89-1 0-2 100zM459 462l2 11-1-100-2 0z"/><path class="p14" d="M549 459l1-86-1-1-2 97zM522 459l2 11-2 13-1-13z"/><path class="p57" d="M541 373l2 86-1-87-2-5zM523 374l2-1 2 0-2 86-1 11-2-11zM520 374l2 85-1 11-2-97zM489 374l2-13-2-1-1 13zM488 373l1-13-1 0-2 6zM483 374l2-1-1-13-2 0zM467 373l2-13-2 0-1 13zM458 374l1 88-1-89-2-6z"/><path class="p60" d="M552 367l1-7-1 0-2 13zM510 367l2-6-2-1-1 1zM498 367l2 6-1 86-2-87zM468 367l2-6-1-1-2 13zM456 367l2 6-1-13-2 0z"/><path class="p63" d="M555 360l1-1-1 0-2 1zM537 360l1 1 2 6-1-7-2 0-2 0zM534 361l1-1 2 0-1-1-2 0-2 1zM531 360l1 0 2-1-1 0-2 0-2 1zM526 361l2 0 1-1-1 6-1 7-2 0zM517 361l2 12-1-1-2-12zM513 361l1-1 2 0-1 0-2-1-1 2zM512 361l1-2-1 0-2 1zM507 361l2 0-2-2-1 1zM502 360l2 0 2 0-2 0-1 0-2 1zM499 361l2 0 2-1-2 12-1 1-2-6zM497 361l1 6-1 5-2-11zM492 361l2-1 1 1-1-1-2-1-1 2zM491 361l1-2-1 0-2 1zM479 361l1 0 2-1-1-1-2 0-2 1zM476 360l1 0 2-1-1 1-2 0-2 0zM473 360l1 0-1 0-2 0zM470 361l1-1-1-1-1 1zM455 361l1 6-1-7-1 0zM452 360l2 0 1 0-1-1-2 0-1 0z"/><path class="p0" d="M486 488l1-15-1-12-2 12z"/><path class="p7" d="M487 473l2-99-1-1-2 88zM484 473l2-12-1-88-2 1zM464 474l1-12-1 11-2 15zM461 474l1 14-1-15-2-11z"/><path class="p13" d="M483 462l1 11-1-99-1 0zM462 463l2 11-2 14-1-14z"/><path class="p14" d="M545 460l2 10-1 13-2-13z"/><path class="p57" d="M548 375l2-1 2-7-2 6-1 86-2 11zM542 374l2 96-1-11-2-86zM511 374l2-13-1 0-2 6zM507 375l1-1 2-7-1-6-2 0-2 1zM490 374l2-13-1 0-2 13zM482 374l1 0-1-14-2 1zM466 374l2-7-1 6-2 89zM459 375l2 99-2-12-1-88z"/><path class="p60" d="M522 368l1 6-1 85-2-85zM480 368l2 6-2-13-1 0z"/><path class="p63" d="M554 361l2 0 1-1-1-1-1 1-2 1zM551 362l2-1 2-1-2 0-1 7-2 7zM541 362l1 12-1-1-1-11zM538 361l2 1 1 11-1-6-2-6-1-1zM535 362l2-2-2 0-1 1zM530 362l2 0 2-1-2-1-1 0-2 1zM527 361l2 0 2-1-2 0-1 1-2 0zM525 362l1-1-1 12-2 1zM520 362l2 6-2 6-1-12zM517 361l2 1 1 12-1-1-2-12-1 0zM514 362l2-1 1 0-1-1-2 0-1 1zM504 362l1 0 2-1-1-1-2 0-2 0zM501 361l1-1-1 1-2 0zM496 361l2 0 1 0-1 6-1-6-2 0zM493 362l2-1 2 0-2 0-1-1-2 1zM475 361l2 0 2 0-2-1-1 0-2 1zM472 361l2 0 2-1-2 0-1 0-2 1zM469 362l2-1 2-1-2 0-1 1-2 6zM456 362l2 12-2-7-1-6zM453 361l2 0-1-1-2 0z"/><path class="p7" d="M487 474l2-11-2 10-1 15zM484 474l2 14-2-15-1-11z"/><path class="p8" d="M511 474l1-99-1-1-1 88zM508 473l2-11-2-88-1 1z"/><path class="p13" d="M510 462l1-88-1-7-2 7zM489 463l1-89-1 0-2 99z"/><path class="p57" d="M547 375l1 0-1 95-2-10zM544 375l1 85-1 10-2-96zM535 375l1-13-1 0-2 6zM532 375l1-7-1-6-2 0zM514 375l1-12-1-1-2 13zM512 375l2-13-1-1-2 13zM505 375l2 0-2-13-1 0zM490 375l2-6-2 5-1 89zM481 375l2 87-1-88-2-6zM463 375l2 0 1-1-1 88-1 12-2-11zM460 375l2 88-1 11-2-99z"/><path class="p60" d="M545 369l2 6-2 85-1-85zM533 368l2-6-1-1-2 1zM503 369l2 6-1-13-2 0zM492 369l1-7-1-1-2 13z"/><path class="p63" d="M553 361l1 0-1 0-2 1zM548 363l2-1 1 0-1 12-2 1-1 0zM542 363l2 12-2-1-1-12zM538 363l1-1 2 0-1 0-2-1-2 1zM536 362l2-1-1-1-2 2zM529 363l1-1-1-1-2 0zM524 362l2 0 1-1-1 0-1 1-2 0zM521 362l2 0 2 0-2 12-1-6-2-6zM518 362l2 0-1 0-2-1zM515 363l2-2-1 0-2 1zM500 362l2 0 2 0-2-2-1 1-2 0zM497 362l2-1 2 0-2 0-1 0-2 0zM494 362l2-1-1 0-2 1zM479 363l2 12-1-7-2-6zM477 362l1 0 2 6-1-7-2 0-2 0zM474 362l1-1-1 0-2 0zM469 362l2 0 1-1-1 0-2 1-1 0zM466 363l2-1 1 0-1 5-2 7-1 1zM459 363l1 12-1 0-2-13zM456 362l1 0 2 13-1-1-2-12-2-1zM454 361l2 1-1-1-2 0z"/><path class="p1" d="M509 488l2-14-1-12-2 11z"/><path class="p8" d="M531 474l2-12-1-87-2 1zM510 475l2-12-1 11-2 14zM507 475l2 13-1-15-2-10z"/><path class="p13" d="M512 463l2-88-2 0-1 99zM506 463l2 10-1-98-2 0zM485 463l2 11-1 14-2-14z"/><path class="p14" d="M533 462l2-87-2-7-1 7z"/><path class="p57" d="M536 376l2-13-2-1-1 13zM528 376l2 0 2-1-2-13-1 1-2 0zM505 376l1 87-1-88-2-6zM487 376l1 0 2-1-1 88-2 11-2-11zM484 376l1 87-1 11-2-98zM482 376l2 98-1-12-2-87z"/><path class="p60" d="M515 370l2-7-2 0-1 12zM473 370l2-7-1-1-2 1zM462 369l1 6-1 88-2-88z"/><path class="p63" d="M549 362l2 0 2-1-2 1-1 0-2 1zM545 363l1 0 2 0-1 12-2-6-2-6zM542 363l1 0 2 6-1 6-2-12-2-1zM539 364l1-2 2 1-1-1-2 0-1 1zM525 363l2 0 2 0-2-2-1 1-2 0zM521 363l1-1 2 0-1 0-2 0-1 0zM518 363l2-1 1 0-1 0-2 0-1 1zM517 363l1-1-1-1-2 2zM500 363l2 0 1 6-1-7-2 0-1 0zM497 363l2-1 1 0-1-1-2 1-1 0zM494 363l2-1 1 0-1-1-2 1-1 1zM491 364l2-1 1-1-1 0-1 7-2 6zM481 364l1 12-1-1-2-12zM476 364l2-2 1 1-1-1-1 0-2 1zM475 363l2-1-2-1-1 1zM470 364l2-1 2-1-2-1-1 1-2 0zM466 363l1 0 2-1-1 0-2 1-2 0zM463 364l1-1 2 0-1 12-2 0-1-6zM460 363l2 6-2 6-1-12zM457 362l2 1-2-1-1 0z"/><path class="p1" d="M533 488l1-14-1-12-2 12z"/><path class="p8" d="M534 474l2-98-1-1-2 87z"/><path class="p13" d="M509 464l1 11-1 13-2-13zM473 466l1-89-1-7-1 7z"/><path class="p14" d="M535 463l2-87-1 0-2 98zM530 463l1 11-1-98-2 0z"/><path class="p57" d="M537 376l2-12-1-1-2 13zM528 377l2 86-2-87-1-6zM512 377l1-1 2-6-1 5-2 88-2 12zM507 377l2 87-2 11-1-98zM506 377l1 98-1-12-1-87zM474 377l2-13-1-1-2 7zM470 377l2 0 1-7-1-7-2 1-1 0z"/><path class="p60" d="M538 371l2-7-1 0-2 12zM527 370l1 6-1-13-2 0zM497 371l1-7-1-1-2 1zM485 370l2 6-2 87-1-87z"/><path class="p63" d="M546 363l2 0 1-1-1 1-2 0-1 0zM541 364l2-1 2 0-2 0-1 0-2 1zM540 364l2-1-2-1-1 2zM525 364l2 6-2-7-1 0zM522 364l2-1 1 0-1-1-2 0-1 1zM518 364l1-1 2 0-1-1-2 1-2 1zM515 365l1-1 2-1-1 0-2 7-2 6zM504 365l2 12-1-1-2-12zM501 364l2 0 2 12-2-7-1-6-2 0zM498 364l2-1-1-1-2 1zM494 365l1-1 2-1-1-1-2 1-2 0zM491 364l1-1 2 0-1 0-2 1-1 0zM488 364l2 0 1 0-1 11-2 1-1 0zM483 365l2 5-1 6-2-12zM480 364l2 0 2 12-2 0-1-12-2-1zM477 364l2-1 2 1-2-1-1-1-2 2zM467 364l2 0 1 0-1-2-2 1-1 0zM462 364l2-1 2 0-2 0-1 1-2 0zM459 363l2 1 2 0-1 5-2-6-2 0zM458 363l2 0-1 0-2-1z"/><path class="p0" d="M472 493l2-15-1-12-2 12z"/><path class="p7" d="M474 478l2-100-2-1-1 89zM471 478l2-12-1-89-2 0z"/><path class="p8" d="M534 475l1-12-1 11-1 14zM531 475l2 13-2-14-1-11z"/><path class="p13" d="M470 467l1 11-1-101-2 1z"/><path class="p14" d="M532 464l2 11-1 13-2-13z"/><path class="p57" d="M535 378l2 0 1-7-1 5-2 87-1 12zM529 378l2 97-1-12-2-86zM510 377l2 0-2 98-1-11zM498 378l2-13-2-1-1 7zM493 378l2 0 2-7-2-7-1 1-2 0zM477 378l2-13-2-1-1 14zM476 378l1-14-1 0-2 13zM468 378l2-1-1-13-2 0z"/><path class="p60" d="M508 371l2 6-1 87-2-87zM467 372l1 6-1-14-2 1z"/><path class="p63" d="M543 364l1 0 2-1-1 0-2 0-2 1zM538 366l2-1 1-1-1 0-2 7-1 7zM528 366l1 12-1-1-2-12zM525 365l1 0 2 12-1-7-2-6-2 0zM522 365l1-1 2 0-1-1-2 1-2 0zM517 366l2-1 1-1 2 0-1-1-2 0-1 1-2 0zM514 365l2-1 2 0-2 0-1 1-2 0zM511 366l2-1 2 0-2 11-1 1-2 0zM504 365l1 0 2 12-1 0-2-12-2-1zM501 366l1-2 2 1-1-1-2 0-1 1zM500 365l1-1-1-1-2 1zM490 366l2-1 2 0-2-2-1 1-2 0zM487 365l2-1 2 0-1 0-2 0-2 1zM483 365l2 0 1 0 2-1-1 12-2-6-2-5-1-1zM480 366l2-2 1 1-1-1-2 0-1 1zM479 365l1-1-1-1-2 1zM464 365l1 0 2-1-1-1-2 0-2 1zM461 364l1 0-1 0-2-1z"/><path class="p7" d="M498 478l1-99-1-1-2 88zM495 478l1-12-1-88-2 0zM474 479l1-12-1 11-2 15zM471 479l1 14-1-15-1-11z"/><path class="p13" d="M493 467l2 11-2-100-1 1zM496 466l2-88-1-7-2 7zM472 468l2 11-2 14-1-14zM475 467l2-89-1 0-2 100z"/><path class="p57" d="M533 378l2 0-1 97-2-11zM530 378l2 86-1 11-2-97zM521 379l2-13-1-1-2 7zM517 379l1 0 2-7-1-7-2 1-2 0zM500 379l2-13-1 0-2 13zM499 379l2-13-1-1-2 13zM492 379l1-1-1-13-2 1zM477 379l1-7-1 6-2 89zM469 379l2 100-1-12-2-88zM468 379l2 88-2-89-1-6z"/><path class="p60" d="M532 372l1 6-1 86-2-86zM520 372l2-7-2-1-1 1zM490 373l2 6-2-13-1 0zM478 372l2-6-1-1-2 13z"/><path class="p63" d="M538 366l1-1 2 0 2-1-2 0-1 1-2 1-2 0zM535 367l1-1 2 0-1 12-2 0-2 0zM527 366l2 0 1 12-1 0-1-12-2-1zM524 367l2-2 2 1-2-1-1 0-2 1zM523 366l2-1-2-1-1 1zM514 367l1-1 2 0-1-2-2 1-1 0zM511 366l2-1 1 0-1 0-2 1-1 0zM508 366l2 0 1 0-1 11-2-6-1-5zM503 367l2-2 2 1 1 5-1 6-2-12-1 0-2 1zM502 366l2-1-2-1-1 2zM487 366l2 0 1 0-1-2-2 1-1 0zM483 366l1-1 2 0 1 0-1 0-1 0-2 0-2 1zM480 367l1-1 2-1-1-1-2 2-2 6zM466 367l2 12-1-7-2-6zM463 365l2 1 2 6-2-7-1 0-2 0zM462 365l2 0-2-1-1 0z"/><path class="p0" d="M496 493l2-15-2-12-1 12z"/><path class="p7" d="M497 479l2-12-1 11-2 15zM494 479l2 14-1-15-2-11z"/><path class="p8" d="M521 479l2-99-2-1-1 88zM518 478l2-11-2-88-1 0z"/><path class="p13" d="M516 468l2 10-1-99-2 1zM520 467l1-88-1-7-2 7zM495 468l2 11-1 14-2-14zM499 467l1-88-1 0-1 99z"/><path class="p57" d="M524 380l2-13-2 0-1 13zM523 380l1-13-1-1-2 13zM515 380l2-1-2-13-1 1zM500 380l2-7-2 6-1 88zM493 380l1 99-1-12-2-87zM491 380l2 87-1-88-2-6zM473 380l2 0 2-1-2 88-1 12-2-11zM470 380l2 88-1 11-2-100z"/><path class="p60" d="M513 374l2 6-1-13-2 0zM502 373l1-6-1-1-2 13zM472 374l1 6-1 88-2-88z"/><path class="p63" d="M534 366l2 0 2 0-2 0-1 1-2 0zM530 367l1 0 2 0 2 0-2 11-1-6-2-5-2-1zM527 368l1-2 2 1 2 5-2 6-1-12-2 0-1 1zM526 367l1-1-1-1-2 2zM511 367l1 0 2 0-1-2-2 1-2 0zM506 367l2 0 1-1 2 0-1 0-2 0-2 0-1 1zM503 368l2-1 1-1 2 0-1 0-2-1-2 2-1 6zM490 368l1 12-1-7-2-6zM485 368l2-1 1 0 2 6-1-7-2 0-2 0-1 1zM482 368l2-1 1-1 2 0-1-1-2 0-1 1-2 0zM479 367l2-1 2 0-2 0-1 1-2 0zM476 368l2-1 2 0-2 5-1 7-2 1zM469 368l1 12-1-1-2-12zM466 366l1 1 2 12-1 0-2-12-1-1zM465 366l1 1-1-1-2-1z"/><path class="p1" d="M519 493l2-14-1-12-2 11z"/><path class="p8" d="M521 480l1-12-1 11-2 14zM518 479l1 14-1-15-2-10z"/><path class="p13" d="M519 469l2 11-2 13-1-14zM522 468l2-88-1 0-2 99z"/><path class="p57" d="M522 382l1-1 2-7-1 6-2 88-1 12zM516 382l2 97-2-11-1-87zM515 381l1 87-1-88-2-6zM497 381l1 0 2-1-1 87-2 12-2-11zM494 381l1 87-1 11-1-99zM485 382l1-13-1-1-2 7zM482 381l1-6-1-7-2 0z"/><path class="p60" d="M525 374l2-6-1-1-2 13zM495 375l2 6-2 87-1-87zM483 375l2-7-1-1-2 1z"/><path class="p63" d="M529 368l2-1 2 0 1-1-1 1-2 0-1 0-2 1zM526 369l2-1 2-1-2-1-1 2-2 6zM511 368l2 1 2 12-2-7-1-6-2 0zM508 369l2-1 2 0 1 6-1-7-1 0-2 0-2 1zM506 369l1-1 2-1 2 0-2-1-1 1-2 0-2 0zM503 368l1-1 2 0-1 0-2 1-2 0zM498 369l2 0 1-1 2 0-1 5-2 7-2 1-1 0zM492 369l2 12-1-1-2-12zM488 369l1-1 2 0 2 12-2 0-1-12-2-1-2 2zM486 369l2-2 2 1-2-1-1 0-2 1zM477 369l2 0 1-1 2 0-1-2-2 1-1 0-2 1zM474 368l2 0 2-1 1 0-1 0-2 1-1 0-2 0zM471 368l2 0 2 0 1 0-1 12-2 0-1-6-2-6zM468 368l2 0 2 6-2 6-1-12-2-1zM467 367l2 1-2-1-1-1z"/><path class="p0" d="M483 498l1-15-1-12-2 12z"/><path class="p7" d="M484 483l2-101-1 0-2 89zM481 483l2-12-1-90-2 1z"/><path class="p13" d="M506 471l2-88-1-7-2 6zM486 472l1-89-1-1-2 101zM480 472l1 11-1-101-2 0zM483 471l2-89-2-7-1 6z"/><path class="p57" d="M520 382l2 0-1 98-2-11zM517 382l2 87-1 10-2-97zM508 383l2-13-2-1-1 7zM503 383l2-1 2-6-1-7-2 0-2 1zM487 383l2-13-1-1-2 13zM486 382l2-13-2 0-1 13zM478 382l2 0 2-1-2-13-1 1-2 0z"/><path class="p60" d="M519 376l1 6-1 87-2-87zM507 376l1-7-1-1-1 1zM477 376l1 6-1-13-2 1z"/><path class="p63" d="M524 369l2 0 2-1 1 0-1 0-2 1-1 0-2 1zM520 371l1-1 2 0 2-1 1 0-1 5-2 7-1 1-2 0-1-6zM517 370l2 6-2 6-1-12zM514 369l2 1 1 12-1 0-2-13-1 0zM511 370l2-1 1 0 2 13-1-1-2-12-2-1-1 2zM510 370l1-2-1 0-2 1zM501 370l1 0 2-1 2 0-2-2-1 1-2 0-2 1zM496 370l2-1 1 0 2-1 2 0-2 0-1 1-2 0-2 1-1-1zM493 370l2-1 1 1 2-1-1 12-2-6-2-6-1 0zM490 370l2-1 1 0 2 6-1 6-2-12-1-1-2 2zM489 370l2-2 1 1-1-1-2 0-1 1zM472 369l2 0 1 1 2-1-1-1-2 0-1 1-2 0zM471 369l2 0 1-1-1 0-2 0-1 0zM470 368l1 0-1 0-2 0z"/><path class="p0" d="M506 498l2-15-2-12-1 12z"/><path class="p7" d="M507 484l2-12-1 11-2 15zM504 484l2 14-1-15-2-11zM508 483l1-100-1 0-2 88zM505 483l1-12-1-89-2 1zM484 484l2-12-2 11-1 15zM481 484l2 14-2-15-1-11z"/><path class="p13" d="M509 472l2-88-2-1-1 100zM503 472l2 11-2-100-1 0zM482 473l2 11-1 14-2-14z"/><path class="p57" d="M510 385l2-7-1 6-2 88zM511 384l1-13-1-1-2 13zM509 383l2-13-1 0-2 13zM501 384l2 88-1-89-2-6zM502 383l1 0-1-13-1 0zM484 385l1-1 2 0 1-7-1 6-1 89-2 12-2-11zM481 384l1 89-1 11-2-100zM479 384l2 100-1-12-2-89zM478 383l2 89-2-90-1-6z"/><path class="p60" d="M512 378l2-7-2 0-1 13zM500 377l2 6-1-13-2 1zM488 377l2-7-1 0-2 13z"/><path class="p63" d="M518 371l1 0 2-1 2 0 1-1-1 1-2 0-1 1-2-1-2 1zM515 371l1 0 2-1 2 1-1 5-2-6-2 0-1 1zM514 371l1-1 2 0-1 0-2-1-2 2zM512 371l2-2-1 0-2 1zM497 371l2 1 1 5-1-6-2 0-1 0zM494 372l2-1 1 0 2 0 2-1-2-1-1 0-2 1-2 0-1 1zM491 371l2 0 1-1 2 0-1-1-2 1-2 0-1 1zM486 372l2 0 2-1 1-1 2 0-1-1-2 1-2 7-1 7-2 0zM476 371l2 1 1 12-1-1-2-12-1 0zM475 371l1 0 2 12-1-7-2-5-2-1zM473 370l2 1 2 5-2-6-1-1-2 0z"/><path class="p13" d="M506 473l1 11-1 14-2-14zM493 476l2-90-1-7-2 7z"/><path class="p57" d="M507 386l2-1 1 0-1 87-2 12-1-11zM504 386l2 87-2 11-1-99zM496 387l2-13-2-1-1 13zM503 385l1 99-1-12-2-88zM495 386l1-13-1 0-1 6zM489 387l1 0 2-1 2-7-2-6-1 0-2 1-2 0z"/><path class="p60" d="M505 380l2 6-1 87-2-87zM494 379l1-6-1-1-2 1zM482 379l2 6-2 88-1-89z"/><path class="p63" d="M509 373l2 0 2-1 1 0 2-1 2 0-2 0-1 0-2 1-1 1-2 0-2 1zM507 374l1 0 2-1 2 0 1-1 2-1-1 0-2 7-2 7-1 0-2 1-2-6zM504 374l1 6-1 6-2-12zM499 375l2-2 1 1 2 12-1-1-2-12-2 0-1 1zM498 374l1-1 2 0 2 12-2-1-1-12-2 0-2 1zM496 373l2-1 2 0 1 12-1-7-1-5-2-1-2 2zM495 373l2-2-1 0-2 1zM486 374l1 0 2 0 2-1 1 0 2-1-1-1-2 0-2 1-1 0-2 0-2 1zM483 373l1 0 2-1 2 0 1 0 2-1-1 0-2 1-2 0-1 1-2 0-2 0zM480 373l1 0 2 0 2 0 1-1-1 12-1 1-2-6-2-6-1-1zM479 372l1 1 2 6-1 5-2-12-2 0zM477 372l2 0 2 12-2 0-1-12-2-1z"/><path class="p0" d="M493 503l1-15-1-12-1 12z"/><path class="p7" d="M494 489l2-12-2 11-1 15zM491 489l2 14-1-15-2-12zM494 488l2-101-1-1-2 90zM492 488l1-12-1-90-2 1z"/><path class="p13" d="M492 478l2 11-1 14-2-14zM496 477l1-90-1 0-2 101zM490 476l2 12-2-101-1 0z"/><path class="p57" d="M494 389l1 0 2-1 2-6-2 5-1 90-2 12-2-11zM491 389l1 89-1 11-2-100zM497 387l2-12-1-1-2 13zM489 389l2 100-1-13-2-88zM488 388l2 88-1-89-2-6z"/><path class="p60" d="M492 383l2 6-2 89-1-89zM499 382l1-7-1 0-2 12zM487 381l2 6-2-13-1 0z"/><path class="p63" d="M491 378l2 0 2-1 1 0 2-1 2 0 1 0 2-1-1 0-2 1-2 1-1 0-2 0-2 1-1 0-2 0zM503 375l1 0 2-1 2 0 1-1-1 1-1 0-2 0-2 0-1 1zM490 378l2 0 1 0 2-1 2 0 1 0 2-1 2-1-2 0-1 7-2 6-2 1-1 0-2-6-2-5-1-1zM502 375l1-1 2 0 2 0-2 6-1-6-2 0-2 1zM489 377l1 1 2 5-1 6-2-12-2-1zM500 375l2-1 2 0-2 0-1-1-2 2zM487 376l2 1 2 12-2 0-1-12-2-1zM486 376l2 1 1 12-1-1-1-12-2-1zM485 375l2 1 1 12-1-7-2-6-1 0zM484 375l1 0 2 6-1-7-2 0-2 0zM482 374l2 0 2 0-2-1-1 0-2 1zM481 374l2-1-2 0-1 0z"/></g><path fill="#f9fb15" d="M239.8 204.7L322.7 182L259.1 152.5L176.3 175.1Z"/><path fill="#efb83a" fill-opacity=".75" d="M246 188.1L249.7 187.1L246.8 185.7L243.1 186.8ZM240.9 185.7L244.6 184.7L241.7 183.4L238 184.4ZM235.8 183.4L239.5 182.3L236.7 181L232.9 182ZM230.7 181L234.4 180L231.6 178.6L227.9 179.7ZM225.6 178.6L229.4 177.6L226.5 176.3L222.8 177.3ZM252.6 186.3L256.3 185.3L253.5 183.9L249.7 184.9ZM247.5 183.9L251.2 182.9L248.4 181.6L244.6 182.6ZM242.4 181.6L246.1 180.5L243.3 179.2L239.6 180.2ZM237.3 179.2L241.1 178.2L238.2 176.8L234.5 177.9ZM232.3 176.8L236 175.8L233.1 174.5L229.4 175.5ZM259.2 184.5L262.9 183.4L260.1 182.1L256.4 183.1ZM254.1 182.1L257.9 181.1L255 179.8L251.3 180.8ZM249 179.7L252.8 178.7L249.9 177.4L246.2 178.4ZM244 177.4L247.7 176.4L244.8 175L241.1 176ZM238.9 175L242.6 174L239.7 172.7L236 173.7ZM265.8 182.7L269.6 181.6L266.7 180.3L263 181.3ZM260.8 180.3L264.5 179.3L261.6 177.9L257.9 179ZM255.7 177.9L259.4 176.9L256.5 175.6L252.8 176.6ZM250.6 175.6L254.3 174.5L251.5 173.2L247.7 174.2ZM245.5 173.2L249.2 172.2L246.4 170.8L242.6 171.9ZM272.5 180.8L276.2 179.8L273.3 178.5L269.6 179.5ZM267.4 178.5L271.1 177.5L268.2 176.1L264.5 177.1ZM262.3 176.1L266 175.1L263.2 173.8L259.4 174.8ZM257.2 173.7L260.9 172.7L258.1 171.4L254.4 172.4ZM252.1 171.4L255.9 170.4L253 169L249.3 170.1Z"/>
<path d="M239.8 269.2L322.7 246.5" stroke="#4d4d4d" stroke-width="0.6" fill="none"/>
<path d="M239.8 269.2L176.3 239.6" stroke="#4d4d4d" stroke-width="0.6" fill="none"/>
<path d="M176.3 239.6L176.3 175.1" stroke="#4d4d4d" stroke-width="0.6" fill="none"/>
<text transform="translate(244.6 278.3) scale(1.3 1)" font-size="6.3" text-anchor="start" fill="#262626" stroke="#262626" stroke-width="0.25">-100</text>
<text transform="translate(234 278.1) scale(1.3 1)" font-size="6.3" text-anchor="end" fill="#262626" stroke="#262626" stroke-width="0.25">-100</text>
<text transform="translate(286 266.9) scale(1.3 1)" font-size="6.3" text-anchor="start" fill="#262626" stroke="#262626" stroke-width="0.25">0</text>
<text transform="translate(202.3 263.3) scale(1.3 1)" font-size="6.3" text-anchor="end" fill="#262626" stroke="#262626" stroke-width="0.25">0</text>
<text transform="translate(327.5 255.6) scale(1.3 1)" font-size="6.3" text-anchor="start" fill="#262626" stroke="#262626" stroke-width="0.25">100</text>
<text transform="translate(170.5 248.5) scale(1.3 1)" font-size="6.3" text-anchor="end" fill="#262626" stroke="#262626" stroke-width="0.25">100</text>
<text transform="translate(170.8 228.2) scale(1.3 1)" font-size="6.3" text-anchor="end" fill="#262626" stroke="#262626" stroke-width="0.25">100</text>
<path d="M176.3 226.8L174.5 226.8" stroke="#4d4d4d" stroke-width="0.6" fill="none"/>
<text transform="translate(170.8 215.3) scale(1.3 1)" font-size="6.3" text-anchor="end" fill="#262626" stroke="#262626" stroke-width="0.25">200</text>
<path d="M176.3 213.9L174.5 213.9" stroke="#4d4d4d" stroke-width="0.6" fill="none"/>
<text transform="translate(170.8 202.4) scale(1.3 1)" font-size="6.3" text-anchor="end" fill="#262626" stroke="#262626" stroke-width="0.25">300</text>
<path d="M176.3 201L174.5 201" stroke="#4d4d4d" stroke-width="0.6" fill="none"/>
<text transform="translate(170.8 189.5) scale(1.3 1)" font-size="6.3" text-anchor="end" fill="#262626" stroke="#262626" stroke-width="0.25">400</text>
<path d="M176.3 188.1L174.5 188.1" stroke="#4d4d4d" stroke-width="0.6" fill="none"/>
<text transform="translate(292.3 282.6) scale(1.3 1)" font-size="7.2" text-anchor="start" fill="#262626" stroke="#262626" stroke-width="0.18">x<tspan font-size="5.2" dy="2.4">1</tspan></text>
<text transform="translate(183.2 280) scale(1.3 1)" font-size="7.2" text-anchor="start" fill="#262626" stroke="#262626" stroke-width="0.18">x<tspan font-size="5.2" dy="2.4">2</tspan></text>
<text transform="translate(249.1 150.7) scale(1.29 1)" font-size="7.6" text-anchor="middle" fill="#1a1a1a" stroke="#1a1a1a" stroke-width="0.18">Objective space</text>
<text transform="translate(146 207.7) rotate(-90) scale(1 1.3)" font-size="7.2" text-anchor="middle" fill="#262626" stroke="#262626" stroke-width="0.12">F14( x<tspan font-size="5" dy="3.6">1</tspan><tspan dy="-3.6"> , x</tspan><tspan font-size="5" dy="3.6">2</tspan><tspan dy="-3.6"> )</tspan></text></g>
<g><path d="M400.2 157.6V260.3M408.4 157.6V260.3M414.2 157.6V260.3M418.8 157.6V260.3M422.5 157.6V260.3M425.6 157.6V260.3M428.3 157.6V260.3M430.7 157.6V260.3M446.9 157.6V260.3M455.1 157.6V260.3M461 157.6V260.3M465.5 157.6V260.3M469.2 157.6V260.3M472.3 157.6V260.3M475 157.6V260.3M477.4 157.6V260.3M493.6 157.6V260.3M501.9 157.6V260.3M507.7 157.6V260.3M512.2 157.6V260.3M515.9 157.6V260.3M519.1 157.6V260.3M521.8 157.6V260.3M524.2 157.6V260.3" stroke="#ebebeb" stroke-width="0.5" fill="none"/>
<path d="M432.8 157.6V260.3M479.6 157.6V260.3M386.1 246.3H526.3M386.1 228.5H526.3M386.1 210.4H526.3M386.1 192.2H526.3M386.1 174H526.3" stroke="#dedede" stroke-width="0.5" fill="none"/>
<g fill="none" stroke-linejoin="round" stroke-linecap="butt">
<path d="M386.1 200.9 399.6 206 409.1 208.2 418.5 210.4 438.2 211.1 442.5 214.7 446.9 214.7 448.4 222.7 454.2 230 457.1 237.3 462.3 238.7 472.5 244.5 484.1 248.9 498.6 254.7 503 258.4 516.1 258.8 519 260.3 526.3 260.3" stroke="#ff0000" stroke-width="2.3"/>
<path d="M386.1 165.3 393.1 192.2 399.6 216.9 407.6 234.4 417.8 243.1 428 246.7 441.1 253.6 455 255.5 469.5 256.9 526.3 256.9" stroke="#000000" stroke-width="1.9"/>
<path d="M386.1 238 399.6 248.2 409.1 252.5 417.8 256.9 438.2 259.8 455 260.1 526.3 260.1" stroke="#22ee22" stroke-width="1.15"/>
<path d="M386.1 187.8 393.1 212.5 399.6 232.2 407.6 240.2 414.9 246 428 250.4 438.2 252.5 455 254.7 463.7 257.6 526.3 260.5" stroke="#ff22ff" stroke-width="1.15"/>
<path d="M386.1 231.5 399.6 243.1 417.8 250.4 438.2 254.7 455 258.4 526.3 260.1" stroke="#22eeff" stroke-width="1.15"/>
<path d="M386.1 224.2 399.6 235.1 409.1 236.5 417.8 238.4 428 241.6 432.4 246 441.1 246.7 446.9 251.8 455 253.3 463.7 256.9 484.1 259.8 526.3 260.3" stroke="#2222ff" stroke-width="1.15"/>
<path d="M386.1 158 399.6 182.3 407.6 182.3 414.9 191.9 457.1 192.2 460 195.1 474.6 216.2 481.2 219.1 483.4 224.9 489.9 225.6 495.7 230 498.6 235.8 505.9 248.9 515.4 248.9 517.5 257.6 519 261 526.3 261" stroke="#a83232" stroke-width="1.15"/>
</g>
<rect x="386.1" y="157.6" width="140.2" height="102.7" fill="none" stroke="#404040" stroke-width="0.6"/>
<path d="M386.1 260.3V258.7M386.1 157.6V159.2M432.8 260.3V258.7M432.8 157.6V159.2M479.6 260.3V258.7M479.6 157.6V159.2M526.3 260.3V258.7M526.3 157.6V159.2M386.1 246.3H387.7M526.3 246.3H524.7M386.1 228.5H387.7M526.3 228.5H524.7M386.1 210.4H387.7M526.3 210.4H524.7M386.1 192.2H387.7M526.3 192.2H524.7M386.1 174H387.7M526.3 174H524.7" stroke="#404040" stroke-width="0.5" fill="none"/>
<text transform="translate(383.6 248.5) scale(1.28 1)" font-size="6.8" text-anchor="end" fill="#262626" stroke="#262626" stroke-width="0.25">5</text>
<text transform="translate(383.6 230.7) scale(1.28 1)" font-size="6.8" text-anchor="end" fill="#262626" stroke="#262626" stroke-width="0.25">10</text>
<text transform="translate(383.6 212.6) scale(1.28 1)" font-size="6.8" text-anchor="end" fill="#262626" stroke="#262626" stroke-width="0.25">15</text>
<text transform="translate(383.6 194.4) scale(1.28 1)" font-size="6.8" text-anchor="end" fill="#262626" stroke="#262626" stroke-width="0.25">20</text>
<text transform="translate(383.6 176.2) scale(1.28 1)" font-size="6.8" text-anchor="end" fill="#262626" stroke="#262626" stroke-width="0.25">25</text>
<text transform="translate(386.3 271) scale(1.28 1)" font-size="6.8" text-anchor="middle" fill="#262626" stroke="#262626" stroke-width="0.15">10<tspan font-size="5.4" dy="-3">0</tspan></text>
<text transform="translate(433 271) scale(1.28 1)" font-size="6.8" text-anchor="middle" fill="#262626" stroke="#262626" stroke-width="0.15">10<tspan font-size="5.4" dy="-3">1</tspan></text>
<text transform="translate(479.8 271) scale(1.28 1)" font-size="6.8" text-anchor="middle" fill="#262626" stroke="#262626" stroke-width="0.15">10<tspan font-size="5.4" dy="-3">2</tspan></text>
<text transform="translate(526.5 271) scale(1.28 1)" font-size="6.8" text-anchor="middle" fill="#262626" stroke="#262626" stroke-width="0.15">10<tspan font-size="5.4" dy="-3">3</tspan></text>
<text transform="translate(455.8 278.2) scale(1.443 1)" font-size="6.4" text-anchor="middle" fill="#383838" stroke="#383838" stroke-width="0.12">Iterations</text>
<text transform="translate(368.8 209) rotate(-90) scale(1 1.3)" font-size="6.4" text-anchor="middle" fill="#383838" stroke="#383838" stroke-width="0.12">Best score</text>
<text transform="translate(455.7 154.5) scale(1.465 1)" font-size="6.5" text-anchor="middle" fill="#1a1a1a" stroke="#1a1a1a" stroke-width="0.2">Objective space</text>
<rect x="460.5" y="162.4" width="58.9" height="51.6" fill="#fff" stroke="#404040" stroke-width="0.6"/>
<path d="M463.4 167H490.6" stroke="#ff0000" stroke-width="2.3"/>
<text transform="translate(493.1 169.1) scale(1.28 1)" font-size="5.9" text-anchor="start" fill="#262626" stroke="#262626" stroke-width="0.25">SOA</text>
<path d="M463.4 174.1H490.6" stroke="#000000" stroke-width="1.9"/>
<text transform="translate(493.1 176.2) scale(1.28 1)" font-size="5.9" text-anchor="start" fill="#262626" stroke="#262626" stroke-width="0.25">GWO</text>
<path d="M463.4 181.2H490.6" stroke="#22ee22" stroke-width="1.15"/>
<text transform="translate(493.1 183.3) scale(1.28 1)" font-size="5.9" text-anchor="start" fill="#262626" stroke="#262626" stroke-width="0.25">FWOA</text>
<path d="M463.4 188.4H490.6" stroke="#ff22ff" stroke-width="1.15"/>
<text transform="translate(493.1 190.5) scale(1.28 1)" font-size="5.9" text-anchor="start" fill="#262626" stroke="#262626" stroke-width="0.25">WOA</text>
<path d="M463.4 195.5H490.6" stroke="#22eeff" stroke-width="1.15"/>
<text transform="translate(493.1 197.6) scale(1.28 1)" font-size="5.9" text-anchor="start" fill="#262626" stroke="#262626" stroke-width="0.25">PSO</text>
<path d="M463.4 202.6H490.6" stroke="#2222ff" stroke-width="1.15"/>
<text transform="translate(493.1 204.7) scale(1.28 1)" font-size="5.9" text-anchor="start" fill="#262626" stroke="#262626" stroke-width="0.25">SSA</text>
<path d="M463.4 209.7H490.6" stroke="#c06060" stroke-width="1.6"/>
<text transform="translate(493.1 211.8) scale(1.28 1)" font-size="5.9" text-anchor="start" fill="#262626" stroke="#262626" stroke-width="0.25">STOA</text></g>
<g id="p15"><path d="M171 395.3L171 322.5" stroke="#e6e6e6" stroke-width="0.5" fill="none"/>
<path d="M215.3 382.5L215.3 309.7" stroke="#e6e6e6" stroke-width="0.5" fill="none"/>
<path d="M259.6 369.7L259.6 296.9" stroke="#e6e6e6" stroke-width="0.5" fill="none"/>
<path d="M171 381.5L259.6 356" stroke="#e6e6e6" stroke-width="0.5" fill="none"/>
<path d="M171 367.8L259.6 342.2" stroke="#e6e6e6" stroke-width="0.5" fill="none"/>
<path d="M171 354.1L259.6 328.5" stroke="#e6e6e6" stroke-width="0.5" fill="none"/>
<path d="M171 340.3L259.6 314.7" stroke="#e6e6e6" stroke-width="0.5" fill="none"/>
<path d="M171 326.6L259.6 301" stroke="#e6e6e6" stroke-width="0.5" fill="none"/>
<path d="M327.6 403.1L327.6 330.3" stroke="#e6e6e6" stroke-width="0.5" fill="none"/>
<path d="M293.6 386.4L293.6 313.6" stroke="#e6e6e6" stroke-width="0.5" fill="none"/>
<path d="M259.6 369.7L259.6 296.9" stroke="#e6e6e6" stroke-width="0.5" fill="none"/>
<path d="M327.6 389.3L259.6 356" stroke="#e6e6e6" stroke-width="0.5" fill="none"/>
<path d="M327.6 375.6L259.6 342.2" stroke="#e6e6e6" stroke-width="0.5" fill="none"/>
<path d="M327.6 361.8L259.6 328.5" stroke="#e6e6e6" stroke-width="0.5" fill="none"/>
<path d="M327.6 348.1L259.6 314.7" stroke="#e6e6e6" stroke-width="0.5" fill="none"/>
<path d="M327.6 334.3L259.6 301" stroke="#e6e6e6" stroke-width="0.5" fill="none"/>
<path d="M239 428.6L171 395.3" stroke="#e6e6e6" stroke-width="0.5" fill="none"/>
<path d="M283.3 415.8L215.3 382.5" stroke="#e6e6e6" stroke-width="0.5" fill="none"/>
<path d="M327.6 403.1L259.6 369.7" stroke="#e6e6e6" stroke-width="0.5" fill="none"/>
<path d="M239 428.6L327.6 403.1" stroke="#e6e6e6" stroke-width="0.5" fill="none"/>
<path d="M205 412L293.6 386.4" stroke="#e6e6e6" stroke-width="0.5" fill="none"/>
<path d="M171 395.3L259.6 369.7" stroke="#e6e6e6" stroke-width="0.5" fill="none"/>
<g transform="scale(.5)" fill="none" stroke-width="0.9" stroke-opacity="1.0"><path stroke="#7571ec" d="M537 840l-6-1-6-2-6-1-7-1-6-1-9-1-8-1-4 0-6 0-3-1-8 1-8 0-5 0-10 1-6 1-7 1M608 783l-5 3-4 2-4 3-3 2-3 3-2 3-2 3-1 4 0 4 1 4 1 2 2 3 2 3 2 2M388 813l4-2 4-2 3-3 4-2 2-3 3-3 1-3 1-4 0-3-1-3-1-3-2-3-2-2-2-3-1-1M457 757l7 2 7 2 6 1 7 1 7 1 8 1 9 1 3 0 7 0 10 0 8 0 7-1 8-1 6 0 5-1 4 0"/><path stroke="#738afd" d="M526 843l-7-1-7-1-7-1-4-1-4 0-7-1-9 0-9 0-9 0-6 0-9 0-5 1-2 0M617 787l-4 3-4 3-3 3-2 3-2 3-1 4-1 3 0 3 1 3 1 3 2 3M379 809l4-3 3-2 2-3 3-3 1-3 2-4 0-4-1-4-1-3-2-2 0-1M468 754l4 1 5 1 7 1 7 1 5 1 4 0 6 0 10 1 8 0 5 0 4 0 7 0 8-1 7-1 3 0"/><path stroke="#62a5f9" d="M517 846l-4-1-11-1-8-1-3 0-6-1-4 0-5 0-4 0-7 0-10 0-8 0M623 790l-4 4-2 3-3 3-1 3-1 4-1 4 1 4 1 3M372 806l3-3 2-3 3-3 2-4 1-3 0-4-1-3-1-3 0-1M477 752l7 1 10 1 9 1 3 0 5 0 5 1 5 0 3 0 8 0 9 0 4-1 3 0 3 0"/><path stroke="#58bbea" d="M510 848l-8-1-3 0-5-1-5 0-4 0-6-1-3 0-6 0-5 0-4 0-7 0-1 0M629 793l-4 4-2 3-1 3-2 4 0 3 0 3 0 3M367 803l2-3 2-3 2-4 1-3 0-4 0-4 0-1M484 749l11 2 3 0 5 1 5 0 4 0 5 0 5 1 4 0 6 0 11-1 2 0"/><path stroke="#41ccd2" d="M503 850l-8-1-9-1-9 0-10 0-9 0M634 796l-3 4-2 3-2 3 0 4 0 4M362 800l2-3 1-3 1-3 1-3 0-4 0-1M491 748l10 1 10 0 9 1 9 0 9 0 2 0"/><path stroke="#69d6b1" d="M497 852l-6-1-10-1-9 0-9 0M638 798l-2 4-2 3-1 4 0 4M357 798l2-3 1-4 1-4 0-2M497 746l9 1 9 0 10 1 8 0 3 0"/><path stroke="#a0d982" d="M492 853l-6 0-10-1-9 0M642 800l-2 4-1 4-1 3M353 796l1-4 1-3 1-2M502 744l9 1 3 0 6 0 4 1 5 0 3 0"/><path stroke="#ddcf5d" d="M487 855l-7-1-3 0-6 0M646 802l-2 4-1 4M349 794l1-4 1-2M507 743l9 0 4 1 5 0 3 0"/><path stroke="#fed26a" d="M482 856l-7 0M650 803l-2 5M345 792l1-3M512 741l3 1 6 0 3 0"/><path stroke="#f7ee5b" d="M653 805l0 2M517 740l3 0 1 0"/></g>
<g transform="scale(.5)" stroke-width="1.0"><path class="p2" d="M444 759l6-5-2-1-5 5z"/><path class="p3" d="M454 757l5-5-4-3-5 5zM450 754l5-5-1-2-6 6z"/><path class="p4" d="M463 755l5-5-4-4-5 6z"/><path class="p5" d="M459 752l5-6-4-4-5 7zM455 749l5-7-1-1-5 6z"/><path class="p6" d="M468 750l6-7-4-4-6 7z"/><path class="p7" d="M564 748l1-1-4-8-1 1zM478 748l5-6-4-5-5 6zM464 746l6-7-4-4-6 7z"/><path class="p8" d="M487 746l6-6-5-5-5 7zM460 742l6-7-2-2-5 8z"/><path class="p9" d="M554 744l6-4-5-8-5 4zM497 745l5-5-4-6-5 6zM474 743l5-6-4-6-5 8z"/><path class="p10" d="M560 740l1-1-4-9-2 2zM530 743l5-5-4-8-5 5zM483 742l5-7-4-6-5 8zM470 739l5-8-4-5-5 9z"/><path class="p11" d="M545 741l5-5-4-9-5 6zM521 741l5-6-4-7-5 6zM511 740l6-6-4-7-6 6zM502 740l5-7-4-6-5 7zM493 740l5-6-4-7-6 8zM479 737l5-8-4-6-5 8zM466 735l5-9-1-2-6 9z"/><path class="p12" d="M550 736l5-4-4-10-5 5zM535 738l6-5-4-9-6 6zM488 735l6-8-4-6-6 8z"/><path class="p13" d="M555 732l2-2-4-10-2 2zM526 735l5-5-4-9-5 7zM517 734l5-6-4-9-5 8zM507 733l6-6-5-8-5 8zM498 734l5-7-4-8-5 8zM475 731l5-8-4-6-5 9z"/><path class="p14" d="M541 733l5-6-4-10-5 7zM484 729l6-8-4-7-6 9zM471 726l5-9-1-2-5 9z"/><path class="p15" d="M531 730l6-6-4-10-6 7zM494 727l5-8-4-7-5 9z"/><path class="p16" d="M546 727l5-5-4-11-5 6zM522 728l5-7-4-9-5 7zM513 727l5-8-4-8-6 8zM503 727l5-8-4-9-5 9zM480 723l6-9-4-8-6 11z"/><path class="p17" d="M551 722l2-2-4-12-2 3zM537 724l5-7-4-10-5 7z"/><path class="p18" d="M527 721l6-7-4-10-6 8zM490 721l5-9-4-9-5 11zM476 717l6-11-2-2-5 11z"/><path class="p19" d="M518 719l5-7-4-10-5 9zM508 719l6-8-4-10-6 9zM499 719l5-9-4-8-5 10z"/><path class="p20" d="M542 717l5-6-4-12-5 8zM486 714l5-11-4-8-5 11z"/><path class="p21" d="M547 711l2-3-4-12-2 3zM533 714l5-7-4-12-5 9zM495 712l5-10-4-10-5 11z"/><path class="p22" d="M523 712l6-8-5-12-5 10zM514 711l5-9-4-11-5 10zM504 710l6-9-4-10-6 11zM482 706l5-11-2-3-5 12z"/><path class="p24" d="M538 707l5-8-4-13-5 9zM491 703l5-11-4-9-5 12z"/><path class="p25" d="M529 704l5-9-4-13-6 10zM500 702l6-11-4-11-6 12z"/><path class="p26" d="M543 699l2-3-4-13-2 3zM519 702l5-10-4-12-5 11zM510 701l5-10-4-11-5 11z"/><path class="p27" d="M487 695l5-12-1-4-6 13z"/><path class="p29" d="M534 695l5-9-4-14-5 10zM496 692l6-12-5-11-5 14z"/><path class="p30" d="M524 692l6-10-4-13-6 11zM515 691l5-11-4-12-5 12zM506 691l5-11-4-12-5 12z"/><path class="p31" d="M539 686l2-3-4-15-2 4z"/><path class="p32" d="M492 683l5-14-1-4-5 14z"/><path class="p34" d="M530 682l5-10-4-15-5 12zM502 680l5-12-4-13-6 14z"/><path class="p35" d="M520 680l6-11-4-14-6 13zM511 680l5-12-4-14-5 14z"/><path class="p37" d="M535 672l2-4-4-15-2 4zM497 669l6-14-2-4-5 14z"/><path class="p39" d="M526 669l5-12-4-16-5 14z"/><path class="p40" d="M516 668l6-13-4-15-6 14zM507 668l5-14-4-14-5 15z"/><path class="p43" d="M531 657l2-4-4-17-2 5zM503 655l5-15-1-5-6 16z"/><path class="p45" d="M522 655l5-14-4-17-5 16z"/><path class="p46" d="M512 654l6-14-5-17-5 17z"/><path class="p49" d="M527 641l2-5-4-17-2 5zM508 640l5-17-1-5-5 17z"/><path class="p52" d="M518 640l5-16-4-18-6 17z"/><path class="p56" d="M523 624l2-5-4-19-2 6zM513 623l6-17-2-6-5 18z"/><path class="p61" d="M519 606l2-6-2-6-2 6z"/><path class="p0" d="M584 773l2-1-4-3-2 1zM575 771l5-1 2-1-4-4-2 1-5 2zM450 773l5-2 6-3-4-2-6 3-5 2zM441 773l5-2 5-2 6-3-5-3-5 4-5 2-5 2zM431 772l6-1 5-2 5-2 5-4-4-2-5 3-5 3-6 2-5 0zM422 769l5 0 5 0 6-2 5-3 5-3-4-2-5 3-5 3-6 2-5 0-5 0zM418 767l5 0 5 0 6-2 5-3-1 0-6 2-5 2-5 1-6-1z"/><path class="p1" d="M560 771l5-1 6-2 5-2 2-1-4-5-2 1-6 2-5 2-5 2zM474 770l5-3-4-3-5 3zM465 770l5-3 5-3-4-3-5 4-5 3zM461 768l5-3-4-3-5 4zM457 766l5-4-4-2-6 3zM452 763l6-3-4-3-6 4zM412 766l6 1-2-1-5-1zM439 762l5-3-1-1-5 4z"/><path class="p2" d="M551 770l5-3 5-2 5-2-4-5-5 2-5 3-6 2zM541 768l5-3-4-5-5 3zM484 770l5-4 5-3-4-4-5 4-6 4zM479 767l6-4-4-3-6 4zM475 764l6-4-4-3-6 4zM466 765l5-4-4-3-5 4zM462 762l5-4-4-3-5 5zM448 761l6-4-4-3-6 5z"/><path class="p3" d="M566 763l6-2 2-1-5-6-1 1-6 3zM546 765l6-2 5-3-4-5-5 3-6 2zM532 766l5-3-4-5-5 4zM517 767l5-2 6-3-4-5-6 3-5 4zM508 767l5-3-4-5-5 4zM498 766l6-3-5-4-5 4zM494 763l5-4-4-4-5 4zM485 763l5-4-4-3-5 4zM471 761l6-4-4-4-6 5zM458 760l5-5-4-3-5 5z"/><path class="p4" d="M557 760l5-2 6-3-4-7-6 3-5 4zM537 763l5-3 6-2-4-6-6 3-5 3zM528 762l5-4-4-5-5 4zM513 764l5-4-4-4-5 3zM504 763l5-4-4-4-6 4zM490 759l5-4-4-4-5 5zM481 760l5-4-4-4-5 5zM477 757l5-5-4-4-5 5zM467 758l6-5-5-3-5 5z"/><path class="p5" d="M568 755l1-1-4-7-1 1zM548 758l5-3-4-7-5 4zM533 758l5-3-4-6-5 4zM518 760l6-3-5-5-5 4zM509 759l5-3-4-5-5 4zM499 759l6-4-4-5-6 5zM486 756l5-5-4-5-5 6zM473 753l5-5-4-5-6 7z"/><path class="p6" d="M553 755l5-4-4-7-5 4zM538 755l6-3-4-7-6 4zM524 757l5-4-4-6-6 5zM514 756l5-4-4-6-5 5zM505 755l5-4-4-6-5 5zM495 755l6-5-4-5-6 6zM482 752l5-6-4-4-5 6z"/><path class="p7" d="M558 751l6-3-4-8-6 4zM544 752l5-4-4-7-5 4zM529 753l5-4-4-6-5 4zM519 752l6-5-4-6-6 5zM510 751l5-5-4-6-5 5zM501 750l5-5-4-5-5 5zM491 751l6-6-4-5-6 6z"/><path class="p8" d="M549 748l5-4-4-8-5 5zM534 749l6-4-5-7-5 5z"/><path class="p9" d="M540 745l5-4-4-8-6 5zM525 747l5-4-4-8-5 6zM515 746l6-5-4-7-6 6zM506 745l5-5-4-7-5 7z"/><path class="p0" d="M582 779l5-2 5-2 2 0-4-1-2 0-5 2-6 1zM567 781l5-2 5-2 6-1 5-2 2 0-4-2-2 1-5 1-6 2-5 1-5 2zM557 780l6-1 5-2 5-1 6-2 5-1-4-3-5 1-6 2-5 2-5 1-6 2zM548 779l5-1 6-2 5-1 5-2 6-2-4-3-6 2-5 1-5 2-6 2-5 2zM533 780l6-2 5-1 5-2 6-2-4-3-6 2-5 2-5 1-6 2zM524 779l5-2 6-2-5-3-5 2-5 2zM515 778l5-2-4-3-6 3zM500 780l5-2-4-3-5 2zM490 780l6-3 5-2-4-3-5 3-6 2zM481 779l5-2 6-2-4-3-6 3-5 2zM472 779l5-2 5-2-4-3-5 3-5 2zM457 781l5-2 6-2 5-2 5-3-4-2-5 3-6 2-5 2-5 2zM448 780l5-1 5-2 5-2 6-2 5-3-4-3-5 3-6 3-5 2-5 2-6 1zM438 778l5 0 6-1 5-2 5-2 6-3-4-2-6 3-5 2-5 2-6 1-5 0zM434 776l5 0 6-1 5-2-4-2-5 2-6 1-5 0zM430 774l5 0 6-1-4-2-6 1-5 0zM426 772l5 0-4-3-5 0z"/><path class="p1" d="M591 777l5-2 2-1-4 1-2 0-5 2zM555 773l5-2-4-4-5 3zM535 775l5-1 5-2 6-2-5-5-5 3-5 2-6 2zM520 776l5-2 5-2 6-2-4-4-6 3-5 2-5 2zM505 778l5-2 6-3 5-2-4-4-5 3-6 3-5 2zM501 775l5-2 6-3-4-3-6 3-5 2zM492 775l5-3 5-2-4-4-5 3-5 3zM482 775l6-3 5-3-4-3-5 4-6 2zM478 772l6-2-5-3-5 3zM429 776l5 0-4-2-5 0zM425 774l5 0-4-2-5-1zM421 771l5 1-4-3-5-1zM417 768l5 1-4-2-6-1z"/><path class="p2" d="M536 770l5-2-4-5-5 3zM521 771l5-2 6-3-4-4-6 3-5 2zM512 770l5-3-4-3-5 3zM502 770l6-3-4-4-6 3zM493 769l5-3-4-3-5 3zM423 776l6 0-4-2-6-1zM419 773l6 1-4-3-6-1zM415 770l6 1-4-3-6-1z"/><path class="p3" d="M414 771l5 2-4-3-5-2zM411 767l6 1-5-2-5-2zM407 764l5 2-1-1-5-3z"/><path class="p4" d="M410 768l5 2-4-3-5-3zM406 764l5 3-4-3-5-4z"/><path class="p5" d="M402 760l5 4-1-2-6-3z"/><path class="p6" d="M405 765l5 3-4-4-5-3zM401 761l5 3-4-4-6-4z"/><path class="p7" d="M396 756l6 4-2-1-5-4z"/><path class="p9" d="M395 756l6 5-5-5-5-5z"/><path class="p10" d="M391 751l5 5-1-1-5-6z"/><path class="p12" d="M390 751l5 5-4-5-5-6z"/><path class="p13" d="M386 745l5 6-1-2-6-6z"/><path class="p0" d="M570 785l5-2 5-2 6-2 5-2-4 0-5 2-6 1-5 2-5 2zM555 787l5-2 6-1 5-2 5-2 6-1-5-2-5 2-5 2-5 1-6 2-5 1zM546 787l5-2 5-1 6-2 5-1-4-2-6 1-5 2-5 1-6 2zM536 786l5-1 6-2 5-1 5-2-4-2-5 1-5 2-6 2-5 1zM527 786l5-2 5-1 6-2 5-2-4-2-5 1-6 2-5 2-5 2zM512 787l5-2 6-1 5-2 5-2-4-3-5 2-5 2-6 2-5 2zM503 786l5-1 5-2 6-2 5-2-4-3-5 2-6 2-5 2-5 2zM493 786l6-2 5-2 5-2 6-2-5-2-5 2-5 2-5 2-6 2zM479 787l5-2 5-1 6-2 5-2-4-3-6 3-5 2-5 1-6 2zM469 787l5-2 6-2 5-1 5-2-4-3-5 2-5 2-6 2-5 2zM460 786l5-1 5-2 6-2 5-2-4-2-5 2-6 2-5 2-5 1zM445 786l5-1 6-1 5-1 5-2 6-2-4-2-6 2-5 2-5 1-6 1-5 0zM441 783l5 0 6-1 5-1-4-2-5 1-6 1-5 0zM437 781l5 0 6-1-5-2-5 0-5 1zM433 779l5-1-4-2-5 0z"/><path class="p1" d="M579 783l5-2 6-3 5-2-4 1-5 2-6 2-5 2zM436 784l5-1-4-2-5 0zM432 781l5 0-4-2-5-1zM428 778l5 1-4-3-6 0z"/><path class="p2" d="M588 780l6-3-4 1-6 3zM595 776l5-2 2-1-4 1-2 1-5 2zM426 781l6 0-4-3-6 0zM422 778l6 0-5-2-5-2z"/><path class="p3" d="M594 777l5-3 5-2 2-1-4 2-2 1-5 2-5 2zM417 776l5 2-4-4-5-1zM418 774l5 2-4-3-5-2z"/><path class="p4" d="M413 773l5 1-4-3-5-2z"/><path class="p5" d="M603 772l5-4-4 4-5 2zM412 775l5 1-4-3-6-3zM409 769l5 2-4-3-5-3z"/><path class="p6" d="M608 768l2-1-4 4-2 1zM407 770l6 3-4-4-6-3z"/><path class="p7" d="M403 766l6 3-4-4-6-4z"/><path class="p8" d="M613 764l1-1-4 4-2 1zM402 768l5 2-4-4-5-4zM399 761l6 4-4-4-6-5z"/><path class="p9" d="M398 762l5 4-4-5-5-4z"/><path class="p10" d="M394 757l5 4-4-5-5-5z"/><path class="p12" d="M393 758l5 4-4-5-5-5z"/><path class="p13" d="M389 752l5 5-4-6-5-6z"/><path class="p15" d="M385 745l5 6-4-6-5-7z"/><path class="p17" d="M383 746l6 6-4-7-6-7zM381 738l5 7-2-2-5-8z"/><path class="p19" d="M379 738l6 7-4-7-6-8z"/><path class="p21" d="M375 730l6 8-2-3-5-8z"/><path class="p23" d="M374 730l5 8-4-8-5-9z"/><path class="p25" d="M370 721l5 9-1-3-5-9z"/><path class="p28" d="M369 722l5 8-4-9-5-10z"/><path class="p30" d="M365 711l5 10-1-3-6-11z"/><path class="p36" d="M359 700l6 11-2-4-5-11z"/><path class="p0" d="M558 791l5-2 5-2-4-1-5 2-5 2zM548 792l6-2 5-2 5-2 6-1-4-1-6 1-5 2-5 2-6 1zM539 792l5-2 6-1 5-2-4-2-5 2-6 1-5 2zM524 793l6-2 5-1 5-2 6-1-5-2-5 1-5 2-5 1-6 2zM515 793l5-2 6-2 5-1 5-2-4-2-5 2-6 1-5 2-5 2zM506 792l5-1 5-2 5-2 6-1-4-2-6 1-5 2-5 1-6 2zM491 793l5-1 5-2 6-2 5-1-4-2-5 1-6 2-5 2-5 1zM481 793l6-2 5-1 5-2 6-2-4-2-6 2-5 2-5 1-6 2zM472 792l5-1 6-2 5-1 5-2-4-2-5 1-5 2-6 2-5 1zM463 791l5-1 5-1 6-2-5-2-5 2-5 1-5 1zM448 791l5-1 6-1 5-1 5-1-4-2-5 1-6 1-5 1-5 1zM444 789l5-1 5-1 6-1-4-2-6 1-5 1-5 0zM440 786l5 0-4-3-5 1z"/><path class="p1" d="M573 787l5-2-4 0-6 2zM568 787l6-2 5-2-4 0-5 2-6 1zM439 790l5-1-4-3-6 1zM434 787l6-1-4-2-6 0zM430 784l6 0-4-3-6 0z"/><path class="p2" d="M578 785l5-3 5-2-4 1-5 2-5 2zM429 787l5 0-4-3-5-1zM425 783l5 1-4-3-5-1z"/><path class="p3" d="M582 784l5-3 6-3-5 2-5 2-5 3zM420 783l5 0-4-3-5-1zM421 780l5 1-4-3-5-2z"/><path class="p4" d="M593 778l5-3 5-3-4 2-5 3-6 3zM414 782l6 1-4-4-6-2zM416 779l5 1-4-4-5-1z"/><path class="p5" d="M591 780l6-4-4 2-6 3zM410 777l6 2-4-4-6-2z"/><path class="p6" d="M597 776l5-4-4 3-5 3zM406 773l6 2-5-5-5-2z"/><path class="p7" d="M602 772l5-4 6-4-5 4-5 4-5 3zM405 775l5 2-4-4-5-3z"/><path class="p8" d="M601 773l5-4-4 3-5 4zM401 770l5 3-4-5-5-4z"/><path class="p9" d="M606 769l5-5-4 4-5 4z"/><path class="p10" d="M611 764l6-5-4 5-6 4zM396 767l5 3-4-6-5-4zM397 764l5 4-4-6-5-4z"/><path class="p11" d="M617 759l1-2-4 6-1 1z"/><path class="p12" d="M392 760l5 4-4-6-6-5z"/><path class="p13" d="M615 759l6-6-4 6-6 5z"/><path class="p14" d="M387 753l6 5-4-6-6-6z"/><path class="p15" d="M621 753l1-2-4 6-1 2zM386 756l6 4-5-7-5-5z"/><path class="p18" d="M381 751l5 5-4-8-5-6zM382 748l5 5-4-7-5-7z"/><path class="p19" d="M625 746l2-3-5 8-1 2z"/><path class="p20" d="M378 739l5 7-4-8-5-8z"/><path class="p21" d="M377 742l5 6-4-9-5-7z"/><path class="p24" d="M373 732l5 7-4-9-5-8z"/><path class="p25" d="M372 735l5 7-4-10-6-8z"/><path class="p29" d="M367 724l6 8-4-10-6-10z"/><path class="p33" d="M362 715l5 9-4-12-5-10zM363 712l6 10-4-11-6-11z"/><path class="p38" d="M358 702l5 10-4-12-5-12z"/><path class="p41" d="M354 688l5 12-1-4-5-13z"/><path class="p44" d="M353 691l5 11-4-14-5-13z"/><path class="p48" d="M349 675l5 13-1-5-6-13z"/><path class="p54" d="M343 661l6 14-2-5-5-15z"/><path class="p0" d="M551 796l6-2 5-2-4-1-6 2-5 2zM542 797l5-2 5-2 6-2-4-1-6 2-5 1-5 2zM527 798l5-1 6-2 5-2 5-1-4-2-5 2-5 1-6 2-5 1zM518 798l5-2 5-1 6-2 5-1-4-2-5 1-6 2-5 2-5 1zM508 798l6-2 5-1 5-2-4-2-5 2-5 1-6 2zM494 799l5-2 5-1 6-2 5-1-4-2-5 1-6 2-5 1-5 2zM484 798l6-1 5-2 5-1 6-2-5-2-5 2-5 1-6 2-5 1zM475 798l5-2 5-1 6-2-4-2-6 2-5 1-5 2zM460 798l5-1 6-1 5-2 5-1-4-2-5 1-5 2-6 1-5 1zM451 797l5-1 5-1 6-1 5-2-4-2-5 1-6 2-5 1-5 1zM441 796l6-1 5-1 5-1 6-2-4-2-6 1-5 1-5 1-6 1zM443 792l5-1-4-2-5 1z"/><path class="p1" d="M561 795l5-2 5-3-4 0-5 2-5 2zM562 792l5-2 6-3-5 0-5 2-5 2zM432 793l5 0 6-1-4-2-6 0-5 0zM433 790l6 0-5-3-5 0z"/><path class="p2" d="M570 793l5-3-4 0-5 3zM571 790l6-3 5-3-4 1-5 2-6 3zM427 794l5-1-4-3-5 0zM428 790l5 0-4-3-5 0zM424 787l5 0-4-4-5 0z"/><path class="p3" d="M575 790l6-3 5-4-4 1-5 3-6 3zM417 790l6 0 5 0-4-3-6-1-5-1zM418 786l6 1-4-4-6-1z"/><path class="p4" d="M586 783l5-3-4 1-5 3zM413 785l5 1-4-4-5-1z"/><path class="p5" d="M585 786l5-4-4 1-5 4z"/><path class="p6" d="M590 782l5-4-4 2-5 3zM408 784l5 1-4-4-5-2zM409 781l5 1-4-5-5-2z"/><path class="p7" d="M594 780l5-5-4 3-5 4zM595 778l6-5-4 3-6 4zM404 779l5 2-4-6-5-2z"/><path class="p9" d="M599 775l6-5-4 3-6 5zM398 777l6 2-4-6-6-3zM400 773l5 2-4-5-5-3z"/><path class="p10" d="M605 770l5-6-4 5-5 4z"/><path class="p11" d="M604 772l5-6-4 4-6 5zM394 770l6 3-4-6-6-4z"/><path class="p12" d="M610 764l5-5-4 5-5 5z"/><path class="p13" d="M609 766l5-7-4 5-5 6zM389 767l5 3-4-7-5-4zM390 763l6 4-4-7-6-4z"/><path class="p15" d="M614 759l5-6-4 6-5 5zM384 764l5 3-4-8-5-4zM385 759l5 4-4-7-5-5z"/><path class="p17" d="M619 753l6-7-4 7-6 6z"/><path class="p18" d="M380 755l5 4-4-8-5-6z"/><path class="p19" d="M618 753l6-7-5 7-5 6z"/><path class="p21" d="M624 746l5-9-4 9-6 7zM374 750l6 5-4-10-6-6zM376 745l5 6-4-9-5-7z"/><path class="p23" d="M629 737l2-3-4 9-2 3z"/><path class="p25" d="M370 739l6 6-4-10-6-8z"/><path class="p26" d="M628 738l5-10-4 9-5 9z"/><path class="p28" d="M633 728l2-3-4 9-2 3z"/><path class="p29" d="M365 732l5 7-4-12-5-8zM366 727l6 8-5-11-5-9z"/><path class="p33" d="M361 719l5 8-4-12-5-10z"/><path class="p38" d="M356 711l5 8-4-14-6-10z"/><path class="p39" d="M357 705l5 10-4-13-5-11z"/><path class="p44" d="M351 695l6 10-4-14-6-12z"/><path class="p50" d="M347 679l6 12-4-16-6-14z"/><path class="p0" d="M539 804l6-2 5-2 5-3-4-1-5 2-5 2-6 2zM530 804l5-2 6-2 5-2 5-2-4-1-5 2-5 1-6 2-5 2zM521 804l5-2 5-2 6-2 5-1-4-2-6 2-5 1-5 2-5 2zM511 803l6-1 5-2 5-2-4-2-5 2-6 2-5 1zM496 804l6-1 5-2 5-1 6-2-4-2-6 2-5 1-5 2-6 1zM487 804l5-2 6-1 5-2 5-1-4-2-5 1-5 2-6 1-5 2zM478 803l5-1 5-2 6-1-4-2-6 1-5 2-5 1zM463 804l5-1 6-2 5-1 5-2-4-2-5 2-5 1-6 2-5 1zM454 804l5-2 5-1 6-2 5-1-4-2-6 1-5 1-5 2-5 1zM444 802l6-1 5-1 5-2-4-2-5 1-6 2-5 1zM440 800l5-1 6-2-4-2-6 1-5 1z"/><path class="p1" d="M554 801l5-3 6-2-4-1-6 2-5 3zM555 797l6-2-4-1-6 2zM429 802l6-1 5-1-4-3-5 0-6 1zM431 797l5 0 5-1-4-3-5 0-5 1z"/><path class="p2" d="M563 799l6-3 5-3-4 0-5 3-6 2zM565 796l5-3-4 0-5 2zM420 798l5 0 6-1-4-3-6 0-5 0zM421 794l6 0-4-4-6 0z"/><path class="p3" d="M573 796l5-3-4 0-5 3zM574 793l5-4-4 1-5 3zM416 794l5 0-4-4-5 0z"/><path class="p4" d="M578 793l6-4-5 0-5 4zM579 789l6-3-4 1-6 3zM411 794l5 0-4-4-5-1zM412 790l5 0-4-5-5-1z"/><path class="p5" d="M584 789l5-5-4 2-6 3zM407 789l5 1-4-6-5-1z"/><path class="p6" d="M588 788l5-5-4 1-5 5zM589 784l5-4-4 2-5 4zM401 788l6 1-4-6-6-1z"/><path class="p7" d="M403 783l5 1-4-5-6-2z"/><path class="p8" d="M593 783l5-6-4 3-5 4zM397 782l6 1-5-6-5-2z"/><path class="p9" d="M598 777l6-5-5 3-5 5z"/><path class="p10" d="M597 780l5-6-4 3-5 6zM392 780l5 2-4-7-5-3zM393 775l5 2-4-7-5-3z"/><path class="p12" d="M602 774l6-6-4 4-6 5zM387 778l5 2-4-8-5-3zM388 772l5 3-4-8-5-3z"/><path class="p14" d="M606 771l6-8-4 5-6 6zM608 768l5-7-4 5-5 6zM383 769l5 3-4-8-6-4z"/><path class="p16" d="M613 761l5-8-4 6-5 7z"/><path class="p17" d="M612 763l5-8-4 6-5 7zM377 766l6 3-5-9-5-4z"/><path class="p18" d="M378 760l6 4-4-9-6-5z"/><path class="p20" d="M617 755l5-8-4 6-5 8zM373 756l5 4-4-10-5-6z"/><path class="p22" d="M622 747l6-9-4 8-6 7z"/><path class="p23" d="M621 749l5-10-4 8-5 8zM368 751l5 5-4-12-5-5z"/><path class="p24" d="M369 744l5 6-4-11-5-7z"/><path class="p27" d="M626 739l6-10-4 9-6 9z"/><path class="p28" d="M364 739l5 5-4-12-5-7z"/><path class="p30" d="M632 729l5-11-4 10-5 10z"/><path class="p31" d="M630 731l6-12-4 10-6 10z"/><path class="p33" d="M637 718l2-4-4 11-2 3zM360 725l5 7-4-13-5-8z"/><path class="p36" d="M636 719l5-12-4 11-5 11z"/><path class="p39" d="M641 707l2-5-4 12-2 4z"/><path class="p41" d="M640 708l5-14-4 13-5 12z"/><path class="p45" d="M645 694l2-5-4 13-2 5z"/><path class="p0" d="M542 809l6-2 5-2-4-2-6 2-5 3zM533 809l5-1 5-3 6-2 5-2-4-1-5 2-6 2-5 2-5 1zM523 809l6-2 5-1 5-2-4-2-5 2-5 2-6 1zM509 810l5-1 5-2 6-1 5-2-4-2-5 2-6 1-5 2-5 1zM499 810l6-2 5-1 5-2 6-1-4-2-6 1-5 2-5 1-6 2zM490 809l5-1 6-2 5-1 5-2-4-2-5 2-6 1-5 2-5 1zM481 809l5-2 5-1 5-2-4-2-5 2-5 1-6 2zM466 810l5-2 5-1 6-2 5-1-4-2-5 1-6 2-5 1-5 2zM456 809l6-1 5-2 5-1 6-2-4-2-6 2-5 1-5 2-6 1zM447 809l5-2 6-1 5-2-4-2-5 2-6 1-5 1zM432 809l6-1 5-2 5-1 6-1-4-3-6 1-5 2-5 1-6 1zM434 805l5-1 5-2-4-2-5 1-6 1z"/><path class="p1" d="M557 806l5-3-4-1-5 3zM553 805l5-3 5-3-4-1-5 3-5 2zM423 807l5-1 6-1-5-3-5 0-5 1zM424 802l5 0-4-4-5 0z"/><path class="p2" d="M566 804l6-4-4 0-6 3zM562 803l6-3 5-4-4 0-6 3-5 3zM414 804l5-1 5-1-4-4-5 1-6 0z"/><path class="p3" d="M572 800l5-4-4 0-5 4zM409 799l6 0 5-1-4-4-5 0-6 0z"/><path class="p4" d="M576 801l5-5-4 0-5 4zM577 796l5-4-4 1-5 3zM404 799l5 0-4-5-5 0z"/><path class="p5" d="M581 796l5-5-4 1-5 4zM582 792l6-4-4 1-6 4zM399 799l5 0-4-5-5-1zM405 794l6 0-4-5-6-1z"/><path class="p6" d="M586 791l6-5-4 2-6 4zM400 794l5 0-4-6-5-1z"/><path class="p7" d="M395 793l5 1-4-7-5-1z"/><path class="p8" d="M590 790l6-6-4 2-6 5zM592 786l5-6-4 3-5 5zM389 792l6 1-4-7-6-1zM396 787l5 1-4-6-5-2z"/><path class="p9" d="M391 786l5 1-4-7-5-2z"/><path class="p10" d="M596 784l5-6-4 2-5 6zM385 785l6 1-4-8-6-2z"/><path class="p12" d="M600 782l5-7-4 3-5 6zM601 778l5-7-4 3-5 6zM380 783l5 2-4-9-5-3z"/><path class="p13" d="M381 776l6 2-4-9-6-3z"/><path class="p14" d="M605 775l5-8-4 4-5 7z"/><path class="p15" d="M376 773l5 3-4-10-5-3z"/><path class="p17" d="M609 771l6-9-5 5-5 8zM610 767l6-9-4 5-6 8z"/><path class="p19" d="M372 763l5 3-4-10-5-5z"/><path class="p20" d="M615 762l5-10-4 6-6 9zM616 758l5-9-4 6-5 8z"/><path class="p23" d="M619 757l5-11-4 6-5 10z"/><path class="p24" d="M620 752l5-10-4 7-5 9z"/><path class="p27" d="M624 746l5-12-4 8-5 10zM625 742l5-11-4 8-5 10z"/><path class="p32" d="M629 734l6-12-5 9-5 11z"/><path class="p36" d="M633 726l6-14-4 10-6 12zM635 722l5-14-4 11-6 12z"/><path class="p42" d="M639 712l5-15-4 11-5 14z"/><path class="p48" d="M643 701l5-16-4 12-5 15zM644 697l5-16-4 13-5 14z"/><path class="p52" d="M649 681l2-6-4 14-2 5z"/><path class="p54" d="M648 685l5-18-4 14-5 16z"/><path class="p59" d="M653 667l2-6-4 14-2 6z"/><path class="p0" d="M554 815l6-3-4-2-6 3zM545 815l5-2 6-3-4-1-6 2-5 2zM530 817l6-2 5-2 5-2 6-2 5-3-4-1-5 2-6 2-5 2-5 2-6 2zM521 816l5-1 6-2 5-2 5-2-4-1-5 1-5 2-6 2-5 1zM512 815l5-1 5-1 6-2 5-2-4-2-6 2-5 2-5 1-6 1zM497 816l5-1 5-2 6-1 5-1 5-2-4-2-5 2-5 1-6 2-5 1-5 1zM487 815l6-1 5-1 5-1 6-2-4-2-6 2-5 1-5 1-6 2zM478 815l5-1 6-2 5-1 5-1-4-2-5 1-5 2-6 1-5 1zM469 815l5-2 5-1 6-1 5-2-4-2-5 2-6 1-5 2-5 1zM454 816l5-1 6-2 5-1 5-2 6-1-5-2-5 1-5 2-5 1-6 2-5 1zM445 816l5-2 5-1 6-2 5-1-4-2-6 1-5 2-5 1-6 2zM435 816l5-2 6-2 5-1 5-2-4-2-5 2-5 1-6 2-5 1zM420 816l6-1 5-2 5-1 6-2 5-1-4-3-5 2-6 1-5 1-5 2-6 1zM422 812l5-2 5-1-4-3-5 1-5 1z"/><path class="p1" d="M564 813l5-3-4-1-5 3zM560 812l5-3-4-2-5 3zM556 810l5-3 5-3-4-1-5 3-5 3zM411 814l5-1 6-1-4-4-6 1-5 1zM412 809l6-1 5-1-4-4-5 1-6 1z"/><path class="p2" d="M569 810l5-4-4-1-5 4zM565 809l5-4-4-1-5 3zM402 811l5-1 5-1-4-4-5 0-5 1z"/><path class="p3" d="M574 806l6-5-4 0-6 4zM570 805l6-4-4-1-6 4zM403 805l5 0 6-1-5-5-5 0-5 0z"/><path class="p4" d="M579 806l5-5-4 0-6 5zM392 806l6 0 5-1-4-6-5 0-6 0z"/><path class="p5" d="M580 801l5-5-4 0-5 5z"/><path class="p6" d="M584 801l5-6-4 1-5 5zM585 796l5-6-4 1-5 5zM388 799l6 0 5 0-4-6-6-1-5 0z"/><path class="p7" d="M588 801l5-6-4 0-5 6zM589 795l6-6-5 1-5 6z"/><path class="p9" d="M593 795l6-7-4 1-6 6zM595 789l5-7-4 2-6 6zM384 792l5 0-4-7-5-2z"/><path class="p10" d="M597 794l6-8-4 2-6 7z"/><path class="p11" d="M599 788l5-8-4 2-5 7z"/><path class="p13" d="M603 786l5-9-4 3-5 8z"/><path class="p14" d="M604 780l5-9-4 4-5 7z"/><path class="p15" d="M607 784l5-10-4 3-5 9z"/><path class="p16" d="M608 777l5-9-4 3-5 9z"/><path class="p18" d="M612 774l5-11-4 5-5 9z"/><path class="p19" d="M613 768l6-11-4 5-6 9z"/><path class="p22" d="M617 763l6-11-4 5-6 11z"/><path class="p26" d="M621 759l6-13-4 6-6 11z"/><path class="p27" d="M623 752l5-13-4 7-5 11z"/><path class="p30" d="M627 746l5-14-4 7-5 13z"/><path class="p31" d="M628 739l5-13-4 8-5 12z"/><path class="p36" d="M632 732l5-15-4 9-5 13z"/><path class="p41" d="M637 717l6-16-4 11-6 14z"/><path class="p0" d="M561 823l6-3-4-2-6 3zM552 823l5-2 6-3-4-2-6 3-5 2zM537 824l6-1 5-2 5-2 6-3-5-1-5 2-5 2-5 2-6 1zM528 823l5-1 6-1 5-2 5-2 5-2-4-2-5 2-5 2-6 2-5 1-5 1zM518 821l6 0 5-1 5-1 6-2 5-2-4-2-5 2-6 2-5 1-5 1-6 1zM509 820l5 0 6-1 5-1 5-1-4-2-5 1-5 1-6 1-5 1zM500 819l5 0 5-1 6-1 5-1-4-2-5 1-6 1-5 1-5 1zM496 818l5-1 5-1 6-1-5-2-5 2-5 1-5 1zM486 818l6-1 5-1-4-2-6 1-5 1zM472 818l5-1 5-1 5-1-4-1-5 1-5 1-6 1zM451 820l6-1 5-1 5-1 6-1 5-1-4-2-5 2-6 1-5 1-5 2-6 1zM442 821l5-1 6-1 5-2 5-1 6-1-4-2-6 2-5 1-5 2-6 1-5 1zM427 823l6-1 5-2 5-1 6-1 5-2-4-2-5 2-6 1-5 2-5 2-6 1zM418 824l5-2 6-1 5-2 5-2 6-1-5-2-5 2-5 1-5 2-6 1-5 2zM409 823l5-1 5-2 6-1 5-2 5-1-4-3-5 2-6 1-5 2-5 1-5 1zM405 820l5-1 5-1 5-2-4-3-5 1-5 1-6 2z"/><path class="p1" d="M571 821l5-4-4-1-5 4zM567 820l5-4-4-1-5 3zM563 818l5-3-4-2-5 3zM559 816l5-3-4-1-6 3zM504 820l5 0-4-1-5 0zM494 820l6-1-4-1-6 1zM485 819l5 0 6-1-4-1-6 1-5 0zM470 819l6 0 5-1 5 0-4-2-5 1-5 1-6 1zM461 820l5-1 6-1-5-1-5 1-5 1zM400 817l6-2 5-1-4-4-5 1-6 1z"/><path class="p2" d="M576 817l5-4-4-1-5 4zM572 816l5-4-4-1-5 4zM568 815l5-4-4-1-5 3z"/><path class="p3" d="M580 819l5-6-4 0-5 4zM577 812l6-5-4-1-6 5zM573 811l6-5-5 0-5 4zM396 812l6-1-4-5-6 0z"/><path class="p4" d="M585 813l6-6-4 0-6 6zM581 813l6-6-4 0-6 5z"/><path class="p5" d="M583 807l5-6-4 0-5 5z"/><path class="p6" d="M591 807l5-7-4 1-5 6zM587 807l5-6-4 0-5 6z"/><path class="p7" d="M595 807l5-7-4 0-5 7z"/><path class="p8" d="M592 801l5-7-4 1-5 6z"/><path class="p9" d="M596 800l5-8-4 2-5 7z"/><path class="p10" d="M600 800l6-9-5 1-5 8z"/><path class="p12" d="M601 792l6-8-4 2-6 8z"/><path class="p13" d="M606 791l5-10-4 3-6 8z"/><path class="p17" d="M611 781l5-11-4 4-5 10z"/><path class="p21" d="M616 770l5-11-4 4-5 11z"/><path class="p0" d="M558 833l5 0 5-2 6-3-4-2-6 3-5 2-5 0zM548 831l6 0 5 0 5-2 6-3 5-3-4-2-6 4-5 2-5 2-5 0-6 1zM544 830l6-1 5 0 5-2 5-2 6-4-4-1-6 3-5 2-5 2-6 1-5 0zM540 828l5 0 6-1 5-2 5-2-4-2-5 2-5 2-6 1-5 0zM536 826l5 0 6-1 5-2-4-2-5 2-6 1-5 0zM527 824l5 0 5 0-4-2-5 1-5 0zM523 823l5 0-4-2-6 0zM421 826l5-1 5-1 6-2 5-1-4-1-5 2-6 1-5 2-5 1zM417 826l5-1 5-2-4-1-5 2-5 1zM413 825l5-1-4-2-5 1z"/><path class="p1" d="M574 828l5-3-4-2-5 3zM575 823l5-4-4-2-5 4zM539 829l5 1-4-2-5-1zM535 827l5 1-4-2-5 0zM525 825l6 1 5 0-4-2-5 0-6 0zM521 824l6 0-4-1-6 0zM512 822l5 1 6 0-5-2-5 1-5-1zM508 821l5 1 5-1-4-1-5 0-5 0zM498 820l6 0-4-1-6 1zM489 820l5 0-4-1-5 0zM480 819l5 0-4-1-5 1zM450 821l6-1 5 0-4-1-6 1-5 1zM430 824l6-1 5-1 5-1 5-1-4 0-5 1-5 1-6 2-5 1z"/><path class="p2" d="M579 825l5-5-4-1-5 4zM529 826l6 1-4-1-6-1zM520 824l5 1-4-1-5-1zM516 823l5 1-4-1-5-1zM507 822l5 0-4-1-5 0zM503 821l5 0-4-1-6 0zM493 820l5 0-4 0-5 0zM484 820l5 0-4-1-5 0zM469 819l5 0 6 0-4 0-6 0-5 1zM460 820l5 0 5-1-4 0-5 1-5 0zM440 822l5 0 5-1-4 0-5 1-5 1zM425 825l5-1-4 1-5 1z"/><path class="p3" d="M584 820l6-6-5-1-5 6zM524 825l5 1-4-1-5-1zM511 822l5 1-4-1-5 0zM501 820l6 2-4-1-6-1zM497 820l6 1-5-1-5 0zM488 819l5 1-4 0-5 0zM478 819l6 1-4-1-6 0zM464 819l5 0-4 1-5 0zM449 820l5 0 6 0-4 0-6 1-5 1zM429 823l5-1 6 0-4 1-6 1-5 1z"/><path class="p4" d="M515 822l5 2-4-1-5-1zM505 820l6 2-4 0-6-2zM492 819l5 1-4 0-5-1zM483 819l5 0-4 1-6-1zM468 818l5 1 5 0-4 0-5 0-5 0zM458 819l6 0-4 1-6 0zM438 820l6 0 5 0-4 2-5 0-6 0z"/><path class="p5" d="M590 814l5-7-4 0-6 6zM496 818l5 2-4 0-5-1zM487 818l5 1-4 0-5 0zM477 817l6 2-5 0-5 0zM462 817l6 1-4 1-6 0zM448 818l5 0 5 1-4 1-5 0-5 0z"/><path class="p6" d="M491 816l5 2-4 1-5-1zM481 816l6 2-4 1-6-2zM472 816l5 1-4 2-5-1z"/><path class="p0" d="M552 833l6 0-4-2-6 0z"/><path class="p1" d="M547 832l5 1-4-2-5-1zM543 830l5 1-4-1-5-1z"/><path class="p2" d="M538 828l5 2-4-1-5-2zM534 827l5 2-4-2-6-1z"/><path class="p3" d="M542 829l5 3-4-2-5-2zM528 825l6 2-5-1-5-1z"/><path class="p4" d="M532 826l6 2-4-1-6-2zM519 822l5 3-4-1-5-2z"/><path class="p5" d="M536 826l6 3-4-1-6-2zM523 822l5 3-4 0-5-3zM509 820l6 2-4 0-6-2zM433 820l5 0-4 2-5 1z"/><path class="p6" d="M527 822l5 4-4-1-5-3zM514 819l5 3-4 0-6-2zM500 818l5 2-4 0-5-2zM457 816l5 1-4 2-5-1zM442 817l6 1-4 2-6 0z"/><path class="p7" d="M531 821l5 5-4 0-5-4zM518 818l5 4-4 0-5-3zM504 817l5 3-4 0-5-2zM495 815l5 3-4 0-5-2zM476 814l5 2-4 1-5-1zM467 814l5 2-4 2-6-1zM452 814l5 2-4 2-5 0zM437 816l5 1-4 3-5 0z"/><path class="p8" d="M522 817l5 5-4 0-5-4zM508 815l6 4-5 1-5-3zM485 814l6 2-4 2-6-2zM461 812l6 2-5 3-5-1z"/><path class="p9" d="M526 816l5 5-4 1-5-5zM512 814l6 4-4 1-6-4zM499 813l5 4-4 1-5-3zM489 811l6 4-4 1-6-2zM480 811l5 3-4 2-5-2zM471 811l5 3-4 2-5-2zM447 812l5 2-4 4-6-1z"/><path class="p10" d="M503 811l5 4-4 2-5-4zM456 810l5 2-4 4-5-2zM441 811l6 1-5 5-5-1z"/><path class="p11" d="M516 812l6 5-4 1-6-4zM494 809l5 4-4 2-6-4zM484 808l5 3-4 3-5-3zM475 807l5 4-4 3-5-3zM465 808l6 3-4 3-6-2zM451 807l5 3-4 4-5-2z"/><path class="p12" d="M507 808l5 6-4 1-5-4zM460 805l5 3-4 4-5-2z"/><path class="p13" d="M520 810l6 6-4 1-6-5zM498 806l5 5-4 2-5-4zM469 804l6 3-4 4-6-3zM445 805l6 2-4 5-6-1z"/><path class="p14" d="M511 805l5 7-4 2-5-6zM488 804l6 5-5 2-5-3zM479 803l5 5-4 3-5-4zM455 802l5 3-4 5-5-3z"/><path class="p15" d="M502 802l5 6-4 3-5-5zM464 799l5 5-4 4-5-3z"/><path class="p16" d="M515 802l5 8-4 2-5-7zM492 800l6 6-4 3-6-5zM483 798l5 6-4 4-5-5zM473 798l6 5-4 4-6-3zM449 798l6 4-4 5-6-2z"/><path class="p17" d="M506 798l5 7-4 3-5-6z"/><path class="p18" d="M459 795l5 4-4 6-5-3z"/><path class="p19" d="M496 795l6 7-4 4-6-6zM487 793l5 7-4 4-5-6zM478 793l5 5-4 5-6-5zM468 793l5 5-4 6-5-5z"/><path class="p20" d="M510 794l5 8-4 3-5-7zM453 790l6 5-4 7-6-4z"/><path class="p21" d="M500 790l6 8-4 4-6-7z"/><path class="p22" d="M491 787l5 8-4 5-5-7zM472 786l6 7-5 5-5-5zM463 787l5 6-4 6-5-4z"/><path class="p23" d="M482 786l5 7-4 5-5-5z"/><path class="p24" d="M505 784l5 10-4 4-6-8z"/><path class="p25" d="M495 781l5 9-4 5-5-8zM458 781l5 6-4 8-6-5z"/><path class="p26" d="M486 779l5 8-4 6-5-7zM476 778l6 8-4 7-6-7zM467 779l5 7-4 7-5-6z"/><path class="p29" d="M499 774l6 10-5 6-5-9zM462 771l5 8-4 8-5-6z"/><path class="p30" d="M490 771l5 10-4 6-5-8zM480 769l6 10-4 7-6-8zM471 770l5 8-4 8-5-7z"/><path class="p34" d="M494 762l5 12-4 7-5-10zM466 760l5 10-4 9-5-8z"/><path class="p35" d="M484 760l6 11-4 8-6-10zM475 759l5 10-4 9-5-8z"/><path class="p40" d="M489 750l5 12-4 9-6-11zM479 748l5 12-4 9-5-10zM470 748l5 11-4 11-5-10z"/><path class="p46" d="M483 736l6 14-5 10-5-12zM474 736l5 12-4 11-5-11z"/><path class="p52" d="M478 722l5 14-4 12-5-12z"/></g>
<path d="M239 428.6L327.6 403.1" stroke="#4d4d4d" stroke-width="0.6" fill="none"/>
<path d="M239 428.6L171 395.3" stroke="#4d4d4d" stroke-width="0.6" fill="none"/>
<path d="M171 395.3L171 322.5" stroke="#4d4d4d" stroke-width="0.6" fill="none"/>
<text transform="translate(243.8 437.7) scale(1.3 1)" font-size="6.3" text-anchor="start" fill="#262626" stroke="#262626" stroke-width="0.25">-5</text>
<text transform="translate(233.2 437.5) scale(1.3 1)" font-size="6.3" text-anchor="end" fill="#262626" stroke="#262626" stroke-width="0.25">-5</text>
<text transform="translate(288.1 424.9) scale(1.3 1)" font-size="6.3" text-anchor="start" fill="#262626" stroke="#262626" stroke-width="0.25">0</text>
<text transform="translate(199.2 420.9) scale(1.3 1)" font-size="6.3" text-anchor="end" fill="#262626" stroke="#262626" stroke-width="0.25">0</text>
<text transform="translate(332.4 412.2) scale(1.3 1)" font-size="6.3" text-anchor="start" fill="#262626" stroke="#262626" stroke-width="0.25">5</text>
<text transform="translate(165.2 404.2) scale(1.3 1)" font-size="6.3" text-anchor="end" fill="#262626" stroke="#262626" stroke-width="0.25">5</text>
<text transform="translate(165.5 382.9) scale(1.3 1)" font-size="6.3" text-anchor="end" fill="#262626" stroke="#262626" stroke-width="0.25">1</text>
<path d="M171 381.5L169.2 381.5" stroke="#4d4d4d" stroke-width="0.6" fill="none"/>
<text transform="translate(165.5 369.2) scale(1.3 1)" font-size="6.3" text-anchor="end" fill="#262626" stroke="#262626" stroke-width="0.25">2</text>
<path d="M171 367.8L169.2 367.8" stroke="#4d4d4d" stroke-width="0.6" fill="none"/>
<text transform="translate(165.5 355.5) scale(1.3 1)" font-size="6.3" text-anchor="end" fill="#262626" stroke="#262626" stroke-width="0.25">3</text>
<path d="M171 354.1L169.2 354.1" stroke="#4d4d4d" stroke-width="0.6" fill="none"/>
<text transform="translate(165.5 341.7) scale(1.3 1)" font-size="6.3" text-anchor="end" fill="#262626" stroke="#262626" stroke-width="0.25">4</text>
<path d="M171 340.3L169.2 340.3" stroke="#4d4d4d" stroke-width="0.6" fill="none"/>
<text transform="translate(165.5 328) scale(1.3 1)" font-size="6.3" text-anchor="end" fill="#262626" stroke="#262626" stroke-width="0.25">5</text>
<path d="M171 326.6L169.2 326.6" stroke="#4d4d4d" stroke-width="0.6" fill="none"/>
<text transform="translate(283.2 441.8) scale(1.3 1)" font-size="7.2" text-anchor="start" fill="#262626" stroke="#262626" stroke-width="0.18">x<tspan font-size="5.2" dy="2.4">1</tspan></text>
<text transform="translate(191 441) scale(1.3 1)" font-size="7.2" text-anchor="start" fill="#262626" stroke="#262626" stroke-width="0.18">x<tspan font-size="5.2" dy="2.4">2</tspan></text>
<text transform="translate(249.1 294.3) scale(1.29 1)" font-size="7.6" text-anchor="middle" fill="#1a1a1a" stroke="#1a1a1a" stroke-width="0.18">Objective space</text>
<text transform="translate(151.5 359.5) rotate(-90) scale(1 1.3)" font-size="8.3" text-anchor="middle" fill="#262626" stroke="#262626" stroke-width="0.12">F15( x<tspan font-size="5.8" dy="4.1">1</tspan><tspan dy="-4.1"> , x</tspan><tspan font-size="5.8" dy="4.1">2</tspan><tspan dy="-4.1"> )</tspan></text>
<text transform="translate(147.7 316) scale(1.3 1)" font-size="7.2" text-anchor="start" fill="#262626" stroke="#262626" stroke-width="0.25"><tspan font-size="5.5">&#215;</tspan>10<tspan font-size="5.2" dy="-3">5</tspan></text></g>
<g><path d="M398.1 293.5V410.9M406.9 293.5V410.9M413.2 293.5V410.9M418.1 293.5V410.9M422.1 293.5V410.9M425.5 293.5V410.9M428.4 293.5V410.9M431 293.5V410.9M448.4 293.5V410.9M457.3 293.5V410.9M463.6 293.5V410.9M468.5 293.5V410.9M472.5 293.5V410.9M475.8 293.5V410.9M478.8 293.5V410.9M481.3 293.5V410.9M498.8 293.5V410.9M507.7 293.5V410.9M514 293.5V410.9M518.8 293.5V410.9M522.8 293.5V410.9M526.2 293.5V410.9M529.1 293.5V410.9M531.7 293.5V410.9" stroke="#ebebeb" stroke-width="0.5" fill="none"/>
<path d="M433.3 293.5V410.9M483.6 293.5V410.9M382.9 406.5H534M382.9 379.3H534M382.9 351.7H534M382.9 324.4H534M382.9 296.7H534" stroke="#dedede" stroke-width="0.5" fill="none"/>
<g fill="none" stroke-linejoin="round" stroke-linecap="butt">
<path d="M382.9 332.4 390.2 342.5 397.5 354.2 406.2 356.4 414.2 364.4 422.2 367.3 425.1 373.1 430.2 375.3 433.8 377.9 444 378.9 448.4 380.4 455.6 386.9 463.8 395.6 472.5 398.5 482.7 402.9 488.5 407.3 494.4 408 516.2 409.5 534 410.2" stroke="#ff0000" stroke-width="2.3"/>
<path d="M382.9 310.5 388.7 340.4 397.5 392.7 401.8 400 406.9 407.3 416.4 410.2 534 410.4" stroke="#000000" stroke-width="1.9"/>
<path d="M382.9 368.7 397.5 404.4 409.1 408.7 423 410.6 534 410.6" stroke="#22ee22" stroke-width="1.15"/>
<path d="M382.9 310.5 388.7 340.4 397.5 392.7 401.8 400 406.9 406.3 416.4 409.5 534 410.4" stroke="#ff22ff" stroke-width="1.15"/>
<path d="M382.9 392 397.5 398.5 409.1 405.8 423.6 409.5 460 410.6 534 410.6" stroke="#22eeff" stroke-width="1.15"/>
<path d="M382.9 381.8 397.5 394.9 409.1 402.9 423.6 407.6 438.2 409.5 460 409.9 534 410.2" stroke="#2222ff" stroke-width="1.15"/>
<path d="M382.9 293.5 398.2 311.3 422.2 311.3 425.1 313.5 444 313.7 446.2 315.6 455.6 316.4 460.9 317.8 463.8 322.9 467.5 334.5 475 345 489.3 357.8 497.3 361.5 501.6 373.8 506 384 511.8 402.9 524.2 403.6 524.9 410.2 534 410.2" stroke="#a83232" stroke-width="1.15"/>
<path d="M382.9 310.5 388.7 340.4 397.5 392.7 401.8 400" stroke="#5a1670" stroke-width="2.0"/>
</g>
<rect x="382.9" y="293.5" width="151.1" height="117.4" fill="none" stroke="#404040" stroke-width="0.6"/>
<path d="M382.9 410.9V409.3M382.9 293.5V295.1M433.3 410.9V409.3M433.3 293.5V295.1M483.6 410.9V409.3M483.6 293.5V295.1M534 410.9V409.3M534 293.5V295.1M382.9 406.5H384.5M534 406.5H532.4M382.9 379.3H384.5M534 379.3H532.4M382.9 351.7H384.5M534 351.7H532.4M382.9 324.4H384.5M534 324.4H532.4M382.9 296.7H384.5M534 296.7H532.4" stroke="#404040" stroke-width="0.5" fill="none"/>
<text transform="translate(380.4 408.7) scale(1.28 1)" font-size="6.8" text-anchor="end" fill="#262626" stroke="#262626" stroke-width="0.25">-1</text>
<text transform="translate(380.4 381.5) scale(1.28 1)" font-size="6.8" text-anchor="end" fill="#262626" stroke="#262626" stroke-width="0.25">-0.8</text>
<text transform="translate(380.4 353.9) scale(1.28 1)" font-size="6.8" text-anchor="end" fill="#262626" stroke="#262626" stroke-width="0.25">-0.6</text>
<text transform="translate(380.4 326.6) scale(1.28 1)" font-size="6.8" text-anchor="end" fill="#262626" stroke="#262626" stroke-width="0.25">-0.4</text>
<text transform="translate(380.4 298.9) scale(1.28 1)" font-size="6.8" text-anchor="end" fill="#262626" stroke="#262626" stroke-width="0.25">-0.2</text>
<text transform="translate(383.1 421.8) scale(1.28 1)" font-size="6.8" text-anchor="middle" fill="#262626" stroke="#262626" stroke-width="0.15">10<tspan font-size="5.4" dy="-3">0</tspan></text>
<text transform="translate(433.5 421.8) scale(1.28 1)" font-size="6.8" text-anchor="middle" fill="#262626" stroke="#262626" stroke-width="0.15">10<tspan font-size="5.4" dy="-3">1</tspan></text>
<text transform="translate(483.8 421.8) scale(1.28 1)" font-size="6.8" text-anchor="middle" fill="#262626" stroke="#262626" stroke-width="0.15">10<tspan font-size="5.4" dy="-3">2</tspan></text>
<text transform="translate(534.2 421.8) scale(1.28 1)" font-size="6.8" text-anchor="middle" fill="#262626" stroke="#262626" stroke-width="0.15">10<tspan font-size="5.4" dy="-3">3</tspan></text>
<text transform="translate(458.4 431.8) scale(1.326 1)" font-size="7.3" text-anchor="middle" fill="#383838" stroke="#383838" stroke-width="0.12">Iterations</text>
<text transform="translate(360.1 351.7) rotate(-90) scale(1 1.3)" font-size="7.3" text-anchor="middle" fill="#383838" stroke="#383838" stroke-width="0.12">Best score</text>
<text transform="translate(458.6 290.5) scale(1.277 1)" font-size="7.4" text-anchor="middle" fill="#1a1a1a" stroke="#1a1a1a" stroke-width="0.2">Objective space</text>
<rect x="468.2" y="298.5" width="59.3" height="59.3" fill="#fff" stroke="#404040" stroke-width="0.6"/>
<path d="M471.1 303.3H498.7" stroke="#ff0000" stroke-width="2.3"/>
<text transform="translate(500.9 305.4) scale(1.28 1)" font-size="5.9" text-anchor="start" fill="#262626" stroke="#262626" stroke-width="0.25">SOA</text>
<path d="M471.1 311.5H498.7" stroke="#000000" stroke-width="1.9"/>
<text transform="translate(500.9 313.6) scale(1.28 1)" font-size="5.9" text-anchor="start" fill="#262626" stroke="#262626" stroke-width="0.25">GWO</text>
<path d="M471.1 319.7H498.7" stroke="#22ee22" stroke-width="1.15"/>
<text transform="translate(500.9 321.8) scale(1.28 1)" font-size="5.9" text-anchor="start" fill="#262626" stroke="#262626" stroke-width="0.25">FWOA</text>
<path d="M471.1 327.8H498.7" stroke="#ff22ff" stroke-width="1.15"/>
<text transform="translate(500.9 329.9) scale(1.28 1)" font-size="5.9" text-anchor="start" fill="#262626" stroke="#262626" stroke-width="0.25">WOA</text>
<path d="M471.1 336H498.7" stroke="#22eeff" stroke-width="1.15"/>
<text transform="translate(500.9 338.1) scale(1.28 1)" font-size="5.9" text-anchor="start" fill="#262626" stroke="#262626" stroke-width="0.25">PSO</text>
<path d="M471.1 344.2H498.7" stroke="#2222ff" stroke-width="1.15"/>
<text transform="translate(500.9 346.3) scale(1.28 1)" font-size="5.9" text-anchor="start" fill="#262626" stroke="#262626" stroke-width="0.25">SSA</text>
<path d="M471.1 352.4H498.7" stroke="#c06060" stroke-width="1.6"/>
<text transform="translate(500.9 354.5) scale(1.28 1)" font-size="5.9" text-anchor="start" fill="#262626" stroke="#262626" stroke-width="0.25">STOA</text></g>
<g id="p16"><path d="M173.4 560.4L173.4 485.8" stroke="#e6e6e6" stroke-width="0.5" fill="none"/>
<path d="M217.3 547.3L217.3 472.7" stroke="#e6e6e6" stroke-width="0.5" fill="none"/>
<path d="M261.2 534.2L261.2 459.6" stroke="#e6e6e6" stroke-width="0.5" fill="none"/>
<path d="M173.4 559.9L261.2 533.6" stroke="#e6e6e6" stroke-width="0.5" fill="none"/>
<path d="M173.4 542.4L261.2 516.2" stroke="#e6e6e6" stroke-width="0.5" fill="none"/>
<path d="M173.4 524.9L261.2 498.7" stroke="#e6e6e6" stroke-width="0.5" fill="none"/>
<path d="M173.4 507.4L261.2 481.2" stroke="#e6e6e6" stroke-width="0.5" fill="none"/>
<path d="M173.4 489.9L261.2 463.7" stroke="#e6e6e6" stroke-width="0.5" fill="none"/>
<path d="M328.6 568.4L328.6 493.8" stroke="#e6e6e6" stroke-width="0.5" fill="none"/>
<path d="M294.9 551.3L294.9 476.7" stroke="#e6e6e6" stroke-width="0.5" fill="none"/>
<path d="M261.2 534.2L261.2 459.6" stroke="#e6e6e6" stroke-width="0.5" fill="none"/>
<path d="M328.6 567.8L261.2 533.6" stroke="#e6e6e6" stroke-width="0.5" fill="none"/>
<path d="M328.6 550.3L261.2 516.2" stroke="#e6e6e6" stroke-width="0.5" fill="none"/>
<path d="M328.6 532.8L261.2 498.7" stroke="#e6e6e6" stroke-width="0.5" fill="none"/>
<path d="M328.6 515.3L261.2 481.2" stroke="#e6e6e6" stroke-width="0.5" fill="none"/>
<path d="M328.6 497.9L261.2 463.7" stroke="#e6e6e6" stroke-width="0.5" fill="none"/>
<path d="M240.8 594.6L173.4 560.4" stroke="#e6e6e6" stroke-width="0.5" fill="none"/>
<path d="M284.7 581.5L217.3 547.3" stroke="#e6e6e6" stroke-width="0.5" fill="none"/>
<path d="M328.6 568.4L261.2 534.2" stroke="#e6e6e6" stroke-width="0.5" fill="none"/>
<path d="M240.8 594.6L328.6 568.4" stroke="#e6e6e6" stroke-width="0.5" fill="none"/>
<path d="M207.1 577.5L294.9 551.3" stroke="#e6e6e6" stroke-width="0.5" fill="none"/>
<path d="M173.4 560.4L261.2 534.2" stroke="#e6e6e6" stroke-width="0.5" fill="none"/>
<g transform="scale(.5)" fill="none" stroke-width="0.9" stroke-opacity="1.0"><path stroke="#7266d8" d="M584 1122l-3 1-7-1-5 0-3-1-6-1-4-1-3-1-3-2-3-3 0-4 4-3 4-1 5-1 5 0 8 1 4 2 3 1 3 1 3 1 4 3 3 4-1 3-4 2-4 0M444 1153l-6 0-7-1-4-1-3-1-3-1-3-2-4-3-3-3 1-4 3-1 5-1 3 0 7 0 5 1 3 0 6 1 4 1 3 2 3 1 3 3 0 4-5 4-3 1-5 0"/><path stroke="#757df7" d="M597 1129l-5 0-5 0-6 0-6 0-7-1-5 0-5-1-4 0-6-1-3-1-5-1-3-1-3-2-4-3-2-3 0-4 1-3 3-3 5-4 3-1 4-1 4 0 5-1 6 0 6 1 5 1 4 1 4 1 3 1 4 1 3 1 3 2 3 1 5 3 4 3 3 2 2 3 1 4-4 4-4 1-4 1M455 1159l-4 0-7 0-5-1-5 0-4-1-4-1-3-1-4-2-3-1-3-1-3-1-5-3-4-3-3-3-2-2-1-4 4-5 4-1 4 0 5-1 5 0 6 0 6 1 6 0 6 1 5 0 4 1 6 1 3 0 5 2 3 1 3 1 4 3 2 4 0 4-2 3-2 3-5 3-3 1-4 1-5 1"/><path stroke="#6a98fe" d="M607 1111l3 3 4 3 4 3 2 3 1 4-1 4-4 2-3 1-5 1-5 0-5 0-6 0-6 0-6-1-7 0-6 0-6-1-7 0-6-1-5 0-6-1-6 0-6 0-3-1-7 0-7-1-6 0 2-5 2-3 2-3 2-5 2-3 2-2 3-3 4-3 5-4 3-1 3-1 4-1 4-1 5 0 6 0 6 0 6 1 5 1 4 1 4 1 4 1 3 1 4 1 3 2M397 1146l-4-2-3-3-4-4-2-3-1-3 1-4 4-2 3-1 5-1 5 0 5 0 6 0 6 0 6 0 6 1 7 0 6 0 7 1 5 0 6 1 6 0 6 1 6 0 3 0 7 1 6 0 7 1-2 4-2 3-2 4-3 4-1 3-3 3-2 2-4 4-5 3-3 1-3 2-4 1-4 0-5 1-6 0-6-1-6-1-5-1-4 0-4-1-4-2-3-1-4-1-3-1"/><path stroke="#5db1f0" d="M624 1120l4 4 2 3 3 4 1 4-1 4-3 1-4 1-5 0-6 0-6 0-6-1-7 0-6-1-6 0-6 0-7-1-6 0-6 0-6 0-5 0-4 0-7 0-5 1-4 0-4 1-4 1-3 1-3 1-3 2-3 1-4 4-4 3-4 4-5 3-5 3-3 1-4 1-4 1-4 1-5 0-5 0-6 0-6-1-5 0-5-1-4-1-4-1-2-1M380 1137l-4-3-3-4-2-3-1-4 1-4 3-2 4 0 5 0 6 0 6 0 6 0 7 1 6 0 6 0 6 1 6 0 7 0 6 1 6 0 5 0 4 0 7-1 5 0 4-1 4 0 4-1 3-1 3-2 3-1 2-2 5-3 4-4 4-3 5-3 5-3 3-2 4-1 4-1 4 0 5-1 5 0 6 1 6 0 5 1 5 1 4 1 4 1 2 0"/><path stroke="#4dc5e0" d="M619 1148l-4-1-5-1-5 0-4-1-6-1-6 0-6 0-6-1-6 0-7 0-7 0-5 0-4 0-6 1-4 0-4 1-4 1-3 1-4 1-3 1-2 2-3 1-5 4-2 1-5 4-5 3-2 1-3 2-3 1-4 1-4 1-4 0-5 1-5 0-4 0-6-1-3 0-7-1-5-1-4-1-1 0M637 1127l2 2 4 3 3 4 4 3M367 1131l-3-2-3-4-3-3-4-3M385 1109l4 1 5 1 5 1 4 0 6 1 6 1 5 0 6 0 7 1 7 0 6 0 6 0 4-1 5 0 5-1 4 0 4-1 3-1 3-2 3-1 3-1 3-2 5-3 2-2 5-3 4-3 3-2 3-1 3-1 4-1 4-1 4-1 5 0 5 0 4 0 6 0 3 1 7 1 5 1 4 0 1 1"/><path stroke="#5bd1c3" d="M607 1152l-4-1-5-1-4-1-6 0-3-1-7 0-6 0-5-1-4 0-7 1-5 0-4 1-4 0-4 1-4 1-3 1-3 2-3 1-3 1-3 2-4 3-5 3-5 4-3 1-3 1-3 2-3 1-4 0-5 1-4 0-7 0-6 0-6-1-5 0-3-1-6-1-3 0M654 1135l3 2M350 1122l-3-1M397 1106l4 1 4 1 5 0 6 1 3 0 6 1 7 0 5 0 4 0 7 0 5-1 4 0 4-1 4-1 4-1 3-1 3-1 3-1 3-2 2-1 5-4 5-3 5-3 3-1 3-2 3-1 3-1 4-1 5 0 4-1 6 0 7 1 6 0 5 1 3 0 6 1 3 1"/><path stroke="#81d99b" d="M596 1155l-5-1-5-1-2 0-7 0-6-1-5 1-6 0-4 0-5 1-4 1-3 1-4 1-3 1-3 1-3 2-2 1-5 3-5 4-5 3-2 1-3 2-4 1-3 1-5 0-4 1-6 0-4 0-6 0-6-1-3 0-7-1-4-1-5-1M408 1103l4 0 5 1 3 0 7 1 6 0 5 0 5 0 5-1 4 0 4-1 4-1 4-1 3-1 3-2 3-1 2-2 5-3 5-3 5-3 2-2 3-1 4-1 3-1 4-1 5 0 5 0 5 0 6 0 6 1 3 0 7 1 4 1 5 0 0 1"/><path stroke="#c0d56a" d="M504 1183l-7-1-6 0-6-1-5 0-5-1-5-1-3 0-6-1-3-1M582 1159l-4 0-6-1-6 1-5 0-4 1-4 0-3 1-4 2-3 1-2 1-5 3-5 4-4 3 0 1M422 1098l4 1 6 0 6 0 4 0 5-1 4-1 3-1 4-1 3-1 2-2 5-3 5-3 4-4M500 1075l7 0 6 1 5 0 6 1 5 0 4 1 4 1 6 1 3 0"/><path stroke="#f3cb68" d="M492 1186l-4-1-5-1-4-1-5 0-4-1-4-1-1 0M512 1072l4 0 5 1 4 1 4 1 5 1 4 1 1 0"/><path stroke="#fbe062" d="M486 1188l-4-1-4-1-4-1-2-1M518 1070l3 1 5 1 4 1 2 0"/><path stroke="#fbfc4f" d="M482 1189l-1 0M522 1069l1 0"/></g>
<g transform="scale(.5)" stroke-width="1.0"><path class="p17" d="M539 1056l4-4-3-6-4 3z"/><path class="p19" d="M555 1054l3-8-2-6-4 8zM549 1054l3-6-2-7-4 6zM543 1052l3-5-3-6-3 5zM533 1052l3-3-2-6-4 2z"/><path class="p20" d="M561 1052l4-10-3-6-4 10zM536 1049l4-3-3-7-3 4z"/><path class="p21" d="M552 1048l4-8-3-7-3 8zM546 1047l4-6-3-7-4 7zM540 1046l3-5-2-7-4 5zM527 1047l3-2 4-2-3-7-4 3-3 1z"/><path class="p22" d="M558 1046l4-10-3-6-3 10zM534 1043l3-4-3-7-3 4z"/><path class="p23" d="M550 1041l3-8-3-7-3 8zM543 1041l4-7-3-6-3 6zM537 1039l4-5-3-7-4 5zM517 1041l3 0 4-1 3-1 4-3-3-7-3 3-4 1-3 1-4 1z"/><path class="p24" d="M565 1042l3-11-2-6-4 11zM556 1040l3-10-2-7-4 10zM531 1036l3-4-2-7-4 4z"/><path class="p25" d="M541 1034l3-6-3-7-3 6zM514 1035l4-1 3-1 4-1-3-7-3 2-4 1-3 0z"/><path class="p26" d="M562 1036l4-11-3-7-4 12zM547 1034l3-8-2-6-4 8zM534 1032l4-5-3-7-3 5zM511 1034l3 1-2-7-4 0zM525 1032l3-3-2-7-4 3z"/><path class="p27" d="M553 1033l4-10-3-6-4 9zM528 1029l4-4-3-7-3 4zM515 1028l4-1-3-7-4 1z"/><path class="p28" d="M544 1028l4-8-3-7-4 8zM538 1027l3-6-2-7-4 6zM532 1025l3-5-2-7-4 5zM508 1028l4 0 3 0-3-7-3 1-4-1zM519 1027l3-2 4-3-3-7-4 3-3 2z"/><path class="p29" d="M559 1030l4-12-3-6-3 11zM550 1026l4-9-3-7-3 10zM504 1027l4 1-3-7-3 0zM526 1022l3-4-3-6-3 3z"/><path class="p30" d="M541 1021l4-8-3-7-3 8zM535 1020l4-6-3-7-3 6zM505 1021l4 1 3-1 4-1 3-2 4-3-3-6-3 3-4 2-3 1-4 0-3 0z"/><path class="p31" d="M557 1023l3-11-3-7-3 12zM548 1020l3-10-2-7-4 10zM529 1018l4-5-3-7-4 6zM498 1020l4 1 3 0-2-6-4 0-3-1zM523 1015l3-3-2-7-4 4z"/><path class="p32" d="M495 1019l3 1-2-6-4-1zM503 1015l3 0 4 0 3-1 4-2-3-7-4 2-3 1-4 1-3 0z"/><path class="p33" d="M554 1017l3-12-2-7-4 12zM539 1014l3-8-2-7-4 8zM533 1013l3-6-3-7-3 6zM526 1012l4-6-3-6-3 5zM499 1015l4 0-3-6-4-1zM517 1012l3-3-3-7-3 3z"/><path class="p34" d="M545 1013l4-10-3-7-4 10zM492 1013l4 1 3 1-3-7-3 0-4-1zM520 1009l4-4-3-7-4 4zM500 1009l3 0 4-1 3-1 4-2-3-6-3 2-4 1-3 1-4 0z"/><path class="p35" d="M536 1007l4-8-3-7-4 8zM530 1006l3-6-2-7-4 7zM489 1012l3 1-3-6-3-1zM524 1005l3-5-3-7-3 5zM496 1008l4 1-3-6-3-1zM514 1005l3-3-2-6-4 3z"/><path class="p36" d="M551 1010l4-12-3-7-3 12zM542 1006l4-10-3-7-3 10zM489 1007l4 1 3 0-2-6-4 0-3-1zM517 1002l4-4-3-6-3 4zM497 1003l4 0 3-1 4-1 3-2-2-6-4 2-3 1-4 1-3 0z"/><path class="p37" d="M527 1000l4-7-3-7-4 7zM486 1006l3 1-2-6-4-1zM521 998l3-5-2-7-4 6zM494 1002l3 1-2-6-4-1zM511 999l4-3-3-6-3 3z"/><path class="p38" d="M549 1003l3-12-3-7-3 12zM533 1000l4-8-3-7-3 8zM482 1005l4 1-3-6-3-1zM487 1001l3 1 4 0-3-6-4 0-3-1zM515 996l3-4-2-6-4 4zM495 997l3 0 4-1 3-1 4-2-3-6-4 2-3 1-4 1-3 0z"/><path class="p39" d="M540 999l3-10-3-8-3 11zM483 1000l4 1-3-6-4-1zM487 996l4 0 4 1-3-6-4 0-3-1zM509 993l3-3-3-6-3 3z"/><path class="p40" d="M531 993l3-8-2-7-4 8zM524 993l4-7-3-6-3 6zM480 999l3 1-3-6-3 0zM518 992l4-6-3-6-3 6zM484 995l3 1-2-6-4 0zM512 990l4-4-3-6-4 4zM488 991l4 0 3 0 4-1 3-1 4-2-3-6-3 2-4 2-3 1-4 0-3 0z"/><path class="p41" d="M546 996l3-12-2-8-4 13zM537 992l3-11-2-7-4 11zM476 998l4 1-3-5-4-1zM480 994l4 1-3-5-3-1zM485 990l3 1-2-5-4-1zM506 987l3-3-2-6-4 3zM493 986l3-1 4-2-3-5-4 2-3 1z"/><path class="p42" d="M528 986l4-8-3-7-4 9zM522 986l3-6-2-7-4 7zM473 993l4 1 3 0-2-5-4-1-3 0zM516 986l3-6-3-6-3 6zM481 990l4 0-3-5-3 0zM509 984l4-4-3-6-3 4zM486 986l3 0 4 0-3-5-4 0-3 0zM500 983l3-2 4-3-3-5-4 3-3 2z"/><path class="p43" d="M543 989l4-13-3-7-4 12zM470 992l3 1-2-5-4-1zM474 988l4 1 3 1-2-5-4-1-3-1zM513 980l3-6-2-6-4 6zM479 985l3 0 4 1-3-5-4-1-3 0zM486 981l4 0 3-1 4-2 3-2-2-5-4 3-3 1-4 1-3 0z"/><path class="p44" d="M534 985l4-11-3-6-3 10zM466 992l4 0-3-5-3 0zM519 980l4-7-3-6-4 7zM471 988l3 0-2-5-4 0zM475 984l4 1-3-5-4-1zM507 978l3-4-2-5-4 4zM479 980l4 1 3 0-2-5-4 0-3 0zM500 976l4-3-3-5-3 3z"/><path class="p45" d="M525 980l4-9-3-6-3 8zM464 987l3 0 4 1-3-5-3-1-4 0zM468 983l4 0 3 1-3-5-3-1-4 0zM510 974l4-6-3-5-3 6zM472 979l4 1 3 0-2-4-4-1-3 0zM504 973l4-4-3-5-4 4z"/><path class="p46" d="M540 981l4-12-3-7-3 12zM532 978l3-10-3-7-3 10zM460 987l4 0-3-5-3 0zM516 974l4-7-3-6-3 7zM465 982l3 1-3-5-3 0zM469 978l3 1-2-4-4-1z"/><path class="p47" d="M523 973l3-8-3-6-3 8zM454 983l4-1 3 0 4 0-3-4-4-1-3 1-4 0zM514 968l3-7-2-5-4 7zM462 978l3 0 4 0-3-4-3 0-4-1zM508 969l3-6-3-5-3 6z"/><path class="p48" d="M538 974l3-12-2-7-4 13zM529 971l3-10-2-7-4 11zM455 978l3-1 4 1-3-5-3 0-4 1z"/><path class="p49" d="M520 967l3-8-2-6-4 8zM444 980l4-1 3-1 4 0-3-4-3 0-4 1-3 1zM511 963l4-7-3-5-4 7z"/><path class="p50" d="M535 968l4-13-3-6-4 12zM526 965l4-11-3-6-4 11zM517 961l4-8-3-6-3 9z"/><path class="p52" d="M532 961l4-12-3-7-3 12zM523 959l4-11-3-6-3 11zM515 956l3-9-3-5-3 9z"/><path class="p54" d="M521 953l3-11-2-5-4 10z"/><path class="p55" d="M530 954l3-12-3-6-3 12z"/><path class="p56" d="M518 947l4-10-3-5-4 10z"/><path class="p57" d="M527 948l3-12-2-6-4 12z"/><path class="p59" d="M524 942l4-12-3-6-3 13z"/><path class="p60" d="M522 937l3-13-3-5-3 13z"/><path class="p5" d="M570 1094l4-6-3-4-3 6zM564 1095l4-5-3-4-4 4zM558 1094l3-4-2-4-4 3zM548 1093l4-2 3-2-2-4-4 2-4 1z"/><path class="p6" d="M568 1090l3-6-3-4-3 6zM561 1090l4-4-3-4-3 4zM555 1089l4-3-3-5-3 4z"/><path class="p7" d="M559 1086l3-4-2-5-4 4zM542 1088l3 0 4-1 4-2-3-6-4 3-3 1-4 0z"/><path class="p8" d="M574 1088l3-7-2-4-4 7zM565 1086l3-6-2-4-4 6zM553 1085l3-4-3-5-3 3zM539 1083l4 0 3-1-2-6-4 2-3 0z"/><path class="p9" d="M571 1084l4-7-3-4-4 7zM562 1082l4-6-3-5-3 6zM556 1081l4-4-3-6-4 5zM536 1083l3 0-2-5-4 0zM546 1082l4-3 3-3-2-5-4 3-3 2z"/><path class="p10" d="M580 1084l4-9-3-4-4 10zM568 1080l4-7-3-5-3 8zM537 1078l3 0 4-2 3-2-3-6-3 2-4 2-3 0z"/><path class="p11" d="M577 1081l4-10-3-3-3 9zM560 1077l3-6-3-6-3 6zM553 1076l4-5-3-5-3 5zM530 1077l3 1 4 0-3-6-4 0-3 0zM547 1074l4-3-3-6-4 3z"/><path class="p12" d="M575 1077l3-9-3-5-3 10zM566 1076l3-8-2-5-4 8zM530 1072l4 0 3 0 4-2 3-2-2-6-4 2-3 2-4 1-3 0z"/><path class="p13" d="M586 1078l4-12-3-3-3 12zM572 1073l3-10-2-4-4 9zM563 1071l4-8-3-5-4 7zM557 1071l3-6-2-5-4 6zM551 1071l3-5-3-6-3 5zM527 1072l3 0-2-5-4-1zM544 1068l4-3-3-6-3 3z"/><path class="p14" d="M584 1075l3-12-3-3-3 11zM554 1066l4-6-3-6-4 6zM523 1071l4 1-3-6-3-1zM528 1067l3 0 4-1 3-2 4-2-3-6-3 2-4 2-4 0-3 1z"/><path class="p15" d="M581 1071l3-11-2-4-4 12zM569 1068l4-9-3-5-3 9zM560 1065l4-7-3-6-3 8zM520 1070l3 1-2-6-4-1zM548 1065l3-5-2-6-4 5zM524 1066l4 1-3-6-4-1zM542 1062l3-3-2-7-4 4z"/><path class="p16" d="M578 1068l4-12-3-4-4 11zM551 1060l4-6-3-6-3 6zM521 1065l3 1-3-6-3-1zM525 1061l3-1 4 0 4-2-3-6-4 1-3 1-4 0z"/><path class="p17" d="M575 1063l4-11-3-5-3 12zM567 1063l3-9-3-6-3 10zM558 1060l3-8-3-6-3 8zM517 1064l4 1-3-6-4-1zM545 1059l4-5-3-7-3 5zM521 1060l4 1-3-7-3 0zM536 1058l3-2-3-7-3 3z"/><path class="p18" d="M564 1058l3-10-2-6-4 10zM514 1063l3 1-3-6-3-1zM518 1059l3 1-2-6-4-1zM526 1054l3-1 4-1-3-7-3 2-4 1z"/><path class="p19" d="M573 1059l3-12-2-5-4 12zM511 1057l3 1 4 1-3-6-3-1-4-1zM519 1054l3 0 4 0-3-6-3 0-4-1z"/><path class="p20" d="M515 1053l4 1-3-7-3 0z"/><path class="p21" d="M570 1054l4-12-3-5-4 11zM507 1055l4 2-3-6-3-2zM512 1052l3 1-2-6-4-1zM516 1047l4 1 3 0 4-1-3-7-4 1-3 0-4 0z"/><path class="p22" d="M567 1048l4-11-3-6-3 11zM508 1051l4 1-3-6-3-1zM513 1047l3 0-3-6-3-1z"/><path class="p23" d="M505 1049l3 2-2-6-4-2zM509 1046l4 1-3-7-4-1zM513 1041l4 0-3-6-3-1z"/><path class="p24" d="M501 1048l4 1-3-6-3-1zM506 1045l3 1-3-7-3-1zM510 1040l3 1-2-7-4 0z"/><path class="p25" d="M498 1047l3 1-2-6-4-1zM502 1043l4 2-3-7-4-1zM506 1039l4 1-3-6-3-1z"/><path class="p26" d="M499 1042l3 1-3-6-3-1zM503 1038l3 1-2-6-4-1zM507 1034l4 0-3-6-4-1z"/><path class="p27" d="M491 1040l4 1 4 1-3-6-4-1-3-1zM499 1037l4 1-3-6-3-1zM504 1033l3 1-3-7-3 0z"/><path class="p28" d="M496 1036l3 1-2-6-4-1zM500 1032l4 1-3-6-4-1z"/><path class="p29" d="M489 1034l3 1 4 1-3-6-3-1-4-1zM497 1031l3 1-3-6-3-2zM501 1027l3 0-2-6-4-1z"/><path class="p30" d="M485 1033l4 1-3-6-3-1zM493 1030l4 1-3-7-4-1zM497 1026l4 1-3-7-3-1z"/><path class="p31" d="M490 1029l3 1-3-7-3-1zM494 1024l3 2-2-7-4-1z"/><path class="p32" d="M483 1027l3 1 4 1-3-7-4 0-3-1zM490 1023l4 1-3-6-3-1z"/><path class="p33" d="M476 1027l3 0 4 0-3-6-4 0-3 0zM487 1022l3 1-2-6-4-1zM491 1018l4 1-3-6-3-1z"/><path class="p34" d="M480 1021l3 1 4 0-3-6-3-1-4 0zM488 1017l3 1-2-6-4-1z"/><path class="p35" d="M473 1021l3 0 4 0-3-6-3 0-4 0zM484 1016l4 1-3-6-3-1z"/><path class="p36" d="M469 1021l4 0-3-6-3 0zM477 1015l4 0 3 1-2-6-4-1-3 0zM485 1011l4 1-3-6-4-1z"/><path class="p37" d="M470 1015l4 0 3 0-2-6-4 0-4 0zM482 1010l3 1-3-6-3-1z"/><path class="p38" d="M463 1016l4-1 3 0-3-6-3 1-4 0zM475 1009l3 0 4 1-3-6-4 0-3-1z"/><path class="p39" d="M467 1009l4 0 4 0-3-6-4 0-3 0zM479 1004l3 1-2-6-4-1z"/><path class="p40" d="M457 1012l3-2 4 0 3-1-2-6-4 1-3 1-4 1zM472 1003l3 1 4 0-3-6-3 0-4-1zM413 1011l3-5-3-3-3 5z"/><path class="p41" d="M447 1011l4-3 3-2 4-1-3-6-3 2-4 2-3 2zM461 1004l4-1 3 0 4 0-3-6-3 0-4 1-3 0zM473 998l3 0-3-5-3-1zM425 1010l4-4-3-5-4 4zM419 1010l3-5-2-3-4 4z"/><path class="p42" d="M458 1005l3-1-2-6-4 1zM441 1008l4-3 3-2-3-5-3 2-4 3zM469 997l4 1-3-6-4 0zM435 1006l3-3-2-5-4 4zM429 1006l3-4-3-5-3 4zM422 1005l4-4-3-4-3 5zM416 1006l4-4-3-4-4 5z"/><path class="p43" d="M448 1003l4-2 3-2 4-1 3 0 4-1 3 0-3-5-3 0-4 0-3 1-4 1-3 2-4 2zM438 1003l4-3-3-5-3 3zM420 1002l3-5-2-3-4 4z"/><path class="p44" d="M442 1000l3-2 4-2-3-5-3 2-4 2zM463 992l3 0-2-5-4 0zM432 1002l4-4-3-4-4 3zM426 1001l3-4-2-4-4 4z"/><path class="p45" d="M449 996l3-2 4-1 3-1 4 0-3-5-3 0-4 1-3 1-4 2zM436 998l3-3 4-2-3-5-4 3-3 3zM429 997l4-3-3-4-3 3zM423 997l4-4-3-3-3 4z"/><path class="p46" d="M443 993l3-2 4-2 3-1 4-1 3 0-2-5-4 1-4 0-3 2-4 1-3 2zM433 994l3-3-2-4-4 3zM427 993l3-3-2-4-4 4z"/><path class="p47" d="M436 991l4-3 3-2 4-1-3-5-3 2-4 2-3 3zM430 990l4-3-3-4-3 3z"/><path class="p48" d="M447 985l3-2 4 0-3-5-3 1-4 1zM434 987l3-3 4-2-3-4-3 2-4 3z"/><path class="p49" d="M441 982l3-2-2-4-4 2z"/><path class="p0" d="M574 1111l4-3-3-2-4 3zM568 1111l3-2-2-2-4 2zM562 1110l3-1 4-2-3-3-4 2-3 1z"/><path class="p1" d="M580 1109l4-4-3-1-3 4zM578 1108l3-4-3-2-3 4zM571 1109l4-3-3-2-3 3zM569 1107l3-3-2-3-4 3zM555 1107l4 0 3-1 4-2-3-3-3 2-4 1-3 0z"/><path class="p2" d="M575 1106l3-4-2-2-4 4zM572 1104l4-4-3-3-3 4zM552 1107l3 0-2-3-4 0zM566 1104l4-3-3-3-4 3zM549 1104l4 0 3 0 4-1 3-2-2-3-4 2-3 1-4 0-3 0z"/><path class="p3" d="M584 1105l3-5-2-2-4 6zM581 1104l4-6-3-2-4 6zM578 1102l4-6-3-2-3 6zM570 1101l3-4-3-3-3 4zM546 1103l3 1-2-3-4-1zM563 1101l4-3-3-3-3 3zM547 1101l3 0 4 0 3-1 4-2-3-4-4 2-3 1-4 0-3 0z"/><path class="p4" d="M576 1100l3-6-2-3-4 6zM567 1098l3-4-2-4-4 5zM543 1100l4 1-3-4-4-1zM561 1098l3-3-3-5-3 4zM544 1097l3 0 4 0 3-1 4-2-3-5-3 2-4 2-3 0-4 0z"/><path class="p5" d="M590 1101l4-7-3-1-4 7zM587 1100l4-7-3-2-3 7zM585 1098l3-7-3-2-3 7zM573 1097l4-6-3-3-4 6zM540 1098l3 2-3-4-3-1zM540 1096l4 1-3-4-3-1zM545 1093l3 0-3-5-3 0z"/><path class="p6" d="M582 1096l3-7-2-2-4 7zM579 1094l4-7-3-3-3 7zM537 1095l3 1-2-4-4-1zM538 1092l3 1 4 0-3-5-4 0-3-1z"/><path class="p7" d="M577 1091l3-7-3-3-3 7zM533 1093l4 2-3-4-3-2zM534 1091l4 1-3-5-4-1zM538 1088l4 0-3-5-3 0z"/><path class="p8" d="M596 1095l4-9-3-1-3 9zM594 1094l3-9-3-1-3 9zM591 1093l3-9-2-2-4 9zM588 1091l4-9-3-2-4 9zM530 1092l3 1-2-4-4-1zM531 1089l3 2-3-5-3-1zM535 1087l3 1-2-5-4 0z"/><path class="p9" d="M585 1089l4-9-3-2-3 9zM583 1087l3-9-2-3-4 9zM527 1088l4 1-3-4-4-2zM531 1086l4 1-3-4-3-2zM532 1083l4 0-3-5-3-1z"/><path class="p10" d="M524 1086l3 2-3-5-3-1zM528 1085l3 1-2-5-4-1zM529 1081l3 2-2-6-4-1z"/><path class="p11" d="M524 1083l4 2-3-5-3-1zM525 1080l4 1-3-5-3-1z"/><path class="p12" d="M602 1086l4-11-3 0-3 11zM600 1086l3-11-2-1-4 11zM597 1085l4-11-3-1-4 11zM594 1084l4-11-3-2-3 11zM592 1082l3-11-3-2-3 11zM521 1082l3 1-2-4-4-2zM522 1079l3 1-2-5-4-1zM526 1076l4 1-3-5-4-1z"/><path class="p13" d="M589 1080l3-11-2-3-4 12zM517 1080l4 2-3-5-3-2zM518 1077l4 2-3-5-3-2zM523 1075l3 1-3-5-3-1z"/><path class="p14" d="M515 1075l3 2-2-5-4-1zM519 1074l4 1-3-5-4-2z"/><path class="p15" d="M516 1072l3 2-3-6-3-1z"/><path class="p16" d="M511 1074l4 1-3-4-4-2zM512 1071l4 1-3-5-4-2zM516 1068l4 2-3-6-3-1z"/><path class="p17" d="M508 1073l3 1-3-5-3-1zM508 1069l4 2-3-6-3-1zM513 1067l3 1-2-5-4-2z"/><path class="p18" d="M505 1068l3 1-2-5-4-1zM509 1065l4 2-3-6-3-1z"/><path class="p19" d="M501 1067l4 1-3-5-3-1zM506 1064l3 1-2-5-4-2zM510 1061l4 2-3-6-4-2z"/><path class="p20" d="M502 1063l4 1-3-6-3-1zM507 1060l3 1-3-6-3-1z"/><path class="p21" d="M495 1061l4 1 3 1-2-6-4-1-3 0zM503 1058l4 2-3-6-4-1z"/><path class="p22" d="M496 1056l4 1 3 1-3-5-3-1-4-1zM504 1054l3 1-2-6-4-1z"/><path class="p23" d="M493 1056l3 0-3-5-3-1zM497 1052l3 1 4 1-3-6-3-1-4-1z"/><path class="p24" d="M489 1056l4 0-3-6-4 0zM493 1051l4 1-3-6-3-1z"/><path class="p25" d="M490 1050l3 1-2-6-4 0zM494 1046l4 1-3-6-4-1z"/><path class="p26" d="M479 1051l4-1 3 0 4 0-3-5-3-1-4 1-3 0zM491 1045l3 1-3-6-3-1zM385 1052l3-4-3-3-3 4z"/><path class="p27" d="M487 1045l4 0-3-6-4 0z"/><path class="p28" d="M473 1046l4-1 3 0 4-1 3 1-3-6-3 0-4 0-3 1-4 1zM488 1039l3 1-2-6-4-1zM388 1048l4-5-3-3-4 5z"/><path class="p29" d="M481 1039l3 0 4 0-3-6-3 0-4 0zM400 1045l4-5-3-4-3 5zM394 1046l4-5-3-3-3 5zM392 1043l3-5-3-3-3 5z"/><path class="p30" d="M467 1042l3-1 4-1 3-1 4 0-3-6-3 0-4 1-3 1-4 2zM407 1044l3-5-2-4-4 5zM398 1041l3-5-2-4-4 6z"/><path class="p31" d="M457 1041l4-2-3-6-4 2zM478 1033l4 0 3 0-2-6-4 0-3 0zM404 1040l4-5-3-4-4 5zM395 1038l4-6-3-3-4 6z"/><path class="p32" d="M461 1039l3-2 4-2 3-1 4-1 3 0-2-6-4 0-3 1-4 1-3 2-4 2zM451 1038l3-3-2-5-4 3zM435 1039l4-4-3-6-4 5zM416 1038l4-5-3-5-3 6zM410 1039l4-5-3-5-3 6zM401 1036l4-5-3-4-3 5z"/><path class="p33" d="M454 1035l4-2 4-2-3-6-4 2-3 3zM445 1036l3-3-2-6-4 4zM429 1038l3-4-2-6-4 5zM423 1038l3-5-3-5-3 5zM408 1035l3-6-3-4-3 6zM399 1032l3-5-3-3-3 5z"/><path class="p34" d="M462 1031l3-2 4-1 3-1 4 0-3-6-4 0-3 1-4 1-3 2zM448 1033l4-3-3-6-3 3zM439 1035l3-4-3-6-3 4zM432 1034l4-5-3-5-3 4zM426 1033l4-5-3-5-4 5zM420 1033l3-5-2-5-4 5zM414 1034l3-6-2-4-4 5zM405 1031l3-6-2-3-4 5z"/><path class="p35" d="M452 1030l3-3 4-2-3-6-3 3-4 2zM442 1031l4-4-3-5-4 3zM436 1029l3-4-2-5-4 4zM417 1028l4-5-3-4-3 5zM411 1029l4-5-3-4-4 5zM402 1027l4-5-3-4-4 6z"/><path class="p36" d="M459 1025l3-2 4-1 3-1-2-6-4 1-3 2-4 1zM446 1027l3-3-3-5-3 3zM439 1025l4-3-3-5-3 3zM430 1028l3-4-3-5-3 4zM423 1028l4-5-3-4-3 4zM408 1025l4-5-3-4-3 6z"/><path class="p37" d="M449 1024l4-2 3-3-3-5-3 2-4 3zM443 1022l3-3-2-6-4 4zM433 1024l4-4-3-5-4 4zM427 1023l3-4-2-5-4 5zM421 1023l3-4-2-5-4 5zM415 1024l3-5-3-4-3 5zM406 1022l3-6-3-3-3 5z"/><path class="p38" d="M456 1019l4-1 3-2-3-6-3 2-4 2zM446 1019l4-3-3-5-3 2zM437 1020l3-3-3-6-3 4zM430 1019l4-4-3-5-3 4zM418 1019l4-5-3-4-4 5zM412 1020l3-5-2-4-4 5z"/><path class="p39" d="M450 1016l3-2 4-2-3-6-3 2-4 3zM440 1017l4-4-3-5-4 3zM424 1019l4-5-3-4-3 4zM415 1015l4-5-3-4-3 5zM409 1016l4-5-3-3-4 5z"/><path class="p40" d="M444 1013l3-2-2-6-4 3zM434 1015l3-4-2-5-4 4zM428 1014l3-4-2-4-4 4zM422 1014l3-4-3-5-3 5z"/><path class="p41" d="M437 1011l4-3-3-5-3 3zM431 1010l4-4-3-4-3 4z"/><path class="p0" d="M575 1116l4-1 3-1-3-1-3 2-4 0zM569 1115l3 0 4 0 3-2 4-3-3-1-3 3-4 2-3 1-4 0zM563 1114l3 1 4 0 3-1 4-2 3-3-2-1-4 3-3 2-4 0-3 0-4 0zM560 1113l4 0 3 0 4 0 3-2-3-2-3 2-4 1-3 0-4-1zM561 1112l3 0 4-1-3-2-3 1-4 0z"/><path class="p1" d="M581 1115l4-1 3-3-2 0-4 3-3 1zM582 1114l4-3-3-1-4 3zM583 1110l3-4-2-1-4 4zM559 1113l4 1-3-1-3-1zM557 1112l3 1-3-2-3-1zM554 1110l3 1 4 1-3-2-3-1-4-1zM555 1109l3 1 4 0-3-3-4 0-3 0z"/><path class="p2" d="M588 1113l3-2-3 0-3 3zM588 1111l4-4-3 0-3 4zM586 1111l3-4-3-1-3 4zM553 1110l4 2-3-2-4-1zM550 1109l4 1-3-2-3-1zM551 1108l4 1-3-2-4-1zM548 1106l4 1-3-3-3-1z"/><path class="p3" d="M591 1111l4-4-3 0-4 4zM589 1107l4-5-3-1-4 5zM586 1106l4-5-3-1-3 5zM548 1107l3 1-3-2-3-2zM545 1104l3 2-2-3-4-1z"/><path class="p4" d="M595 1107l3-5-3 0-3 5zM592 1107l3-5-2 0-4 5zM547 1107l3 2-2-2-4-2zM544 1105l4 2-3-3-4-1zM541 1103l4 1-3-2-3-2zM542 1102l4 1-3-3-3-2z"/><path class="p5" d="M597 1107l4-6-3 1-3 5zM593 1102l3-7-2-1-4 7zM541 1103l3 2-3-2-3-2zM539 1100l3 2-2-4-4-1z"/><path class="p6" d="M598 1102l4-7-3 0-4 7zM595 1102l4-7-3 0-3 7zM537 1101l4 2-3-2-4-2zM538 1101l3 2-2-3-4-2zM535 1098l4 2-3-3-4-2zM536 1097l4 1-3-3-4-2z"/><path class="p7" d="M601 1101l3-7-2 1-4 7zM534 1099l4 2-3-3-3-2zM532 1095l4 2-3-4-3-1z"/><path class="p8" d="M603 1101l4-7-3 0-3 7zM531 1097l3 2-2-3-4-2zM532 1096l3 2-3-3-3-2zM529 1093l3 2-2-3-4-2z"/><path class="p9" d="M602 1095l3-9-3 0-3 9zM599 1095l3-9-2 0-4 9zM528 1094l4 2-3-3-4-2zM526 1090l4 2-3-4-3-2z"/><path class="p10" d="M604 1094l4-8-3 0-3 9zM525 1093l3 1-3-3-3-1zM525 1091l4 2-3-3-3-2z"/><path class="p11" d="M607 1094l4-9-3 1-4 8zM522 1090l3 1-2-3-4-2zM523 1088l3 2-2-4-4-2z"/><path class="p12" d="M610 1093l3-9-2 1-4 9zM518 1088l4 2-3-4-3-1zM519 1086l4 2-3-4-3-1zM520 1084l4 2-3-4-4-2z"/><path class="p13" d="M605 1086l4-11-3 0-4 11zM515 1087l3 1-2-3-4-1zM516 1085l3 1-2-3-4-2zM517 1083l3 1-3-4-3-2z"/><path class="p14" d="M611 1085l3-11-3 1-3 11zM608 1086l3-11-2 0-4 11zM512 1084l4 1-3-4-3-1zM513 1081l4 2-3-5-4-1zM514 1078l3 2-2-5-4-1z"/><path class="p15" d="M613 1084l4-10-3 0-3 11zM509 1083l3 1-2-4-4-1zM510 1080l3 1-3-4-3-1zM510 1077l4 1-3-4-3-1z"/><path class="p16" d="M506 1079l4 1-3-4-4-1zM507 1076l3 1-2-4-4-1z"/><path class="p17" d="M503 1079l3 0-3-4-3 0zM503 1075l4 1-3-4-3-1z"/><path class="p18" d="M496 1075l4 0 3 0-2-4-4-1-3 0zM501 1071l3 1 4 1-3-5-4-1-3-1z"/><path class="p19" d="M497 1070l4 1-3-5-4 0z"/><path class="p20" d="M487 1071l3 0 4-1 3 0-3-4-3 0-4 0-3 1zM498 1066l3 1-2-5-4-1z"/><path class="p21" d="M487 1066l4 0 3 0 4 0-3-5-3 0-4 0-3 0zM392 1071l3-3-2-5-4 4zM386 1070l3-3-3-4-3 3zM379 1069l4-3-3-3-3 2z"/><path class="p22" d="M480 1068l4-1 3-1-2-5-4 1-3 1zM492 1061l3 0-2-5-4 0zM408 1068l3-5-2-5-4 5zM402 1068l3-5-3-4-3 4zM395 1068l4-5-3-4-3 4zM389 1067l4-4-3-4-4 4zM383 1066l3-3-2-3-4 3zM370 1067l3 0 4-2 3-2-2-3-4 2-3 2-4 0zM367 1064l4 0 3-2-3-3-3 2-4 1z"/><path class="p23" d="M474 1065l4-2 3-1 4-1 3 0 4 0-3-5-3 0-4 0-3 1-4 1-4 2zM464 1065l4-2-3-6-3 3zM420 1068l4-5-3-5-4 5zM414 1068l3-5-2-5-4 5zM393 1063l3-4-3-4-3 4zM386 1063l4-4-3-3-3 4zM380 1063l4-3-3-4-3 4zM363 1064l4 0-3-2-3-1zM374 1062l4-2-3-3-4 2z"/><path class="p24" d="M468 1063l3-3 4-2-3-5-3 2-4 2zM486 1056l3 0-3-6-3 0zM458 1063l4-3-3-5-3 3zM442 1065l4-5-3-5-3 4zM436 1064l4-5-3-5-4 5zM430 1064l3-5-2-6-4 5zM424 1063l3-5-2-5-4 5zM417 1063l4-5-3-5-3 5zM411 1063l4-5-3-5-3 5zM405 1063l4-5-3-4-4 5zM399 1063l3-4-2-5-4 5zM390 1059l3-4-2-4-4 5zM384 1060l3-4-2-4-4 4zM378 1060l3-4-3-3-3 4z"/><path class="p25" d="M475 1058l4-1 3-1 4 0-3-6-4 1-3 1-4 1zM462 1060l3-3-2-5-4 3zM452 1062l4-4-3-5-4 3zM446 1060l3-4-2-5-4 4zM402 1059l4-5-3-5-3 5zM396 1059l4-5-3-4-4 5zM387 1056l4-5-3-3-3 4zM381 1056l4-4-3-3-4 4z"/><path class="p26" d="M465 1057l4-2 3-2 4-1-3-6-3 2-4 2-3 2zM456 1058l3-3-3-5-3 3zM440 1059l3-4-3-5-3 4zM433 1059l4-5-3-5-3 4zM427 1058l4-5-3-5-3 5zM421 1058l4-5-3-5-4 5zM415 1058l3-5-2-5-4 5zM409 1058l3-5-3-4-3 5zM400 1054l3-5-3-4-3 5zM393 1055l4-5-3-4-3 5z"/><path class="p27" d="M476 1052l3-1-2-6-4 1zM459 1055l4-3 3-2-3-6-3 3-4 3zM449 1056l4-3-3-6-3 4zM443 1055l4-4-3-5-4 4zM437 1054l3-4-2-6-4 5zM412 1053l4-5-3-5-4 6zM406 1054l3-5-2-5-4 5zM391 1051l3-5-2-3-4 5z"/><path class="p28" d="M466 1050l4-2 3-2-3-5-3 1-4 2zM453 1053l3-3-2-6-4 3zM447 1051l3-4-3-5-3 4zM431 1053l3-4-2-6-4 5zM425 1053l3-5-3-5-3 5zM418 1053l4-5-3-5-3 5zM403 1049l4-5-3-4-4 5zM397 1050l3-5-2-4-4 5z"/><path class="p29" d="M456 1050l4-3 3-3-2-5-4 2-3 3zM450 1047l4-3-3-6-4 4zM440 1050l4-4-3-6-3 4zM434 1049l4-5-3-5-3 4zM428 1048l4-5-3-5-4 5zM422 1048l3-5-2-5-4 5zM416 1048l3-5-3-5-3 5zM409 1049l4-6-3-4-3 5z"/><path class="p30" d="M463 1044l4-2-3-5-3 2zM454 1044l3-3-3-6-3 3zM444 1046l3-4-2-6-4 4z"/><path class="p31" d="M447 1042l4-4-3-5-3 3zM438 1044l3-4-2-5-4 4zM432 1043l3-4-3-5-3 4zM425 1043l4-5-3-5-3 5zM419 1043l4-5-3-5-4 5zM413 1043l3-5-2-4-4 5z"/><path class="p32" d="M441 1040l4-4-3-5-3 4z"/><path class="p0" d="M572 1116l3 0-3-1-3 0z"/><path class="p1" d="M581 1115l3 0 4-2-3 1-4 1-3 1zM574 1116l4 0 3-1-2 0-4 1-3 0zM568 1115l4 1-3-1-4-1zM565 1114l4 1-3 0-3-1z"/><path class="p2" d="M580 1114l3 1 4-1 3-1 4-3-3 1-3 2-4 2-3 0-4 0zM574 1114l3 1 4 0-3 1-4 0-3-1zM571 1115l3 1-2 0-4-1zM565 1113l3 2-3-1-3-1zM562 1113l3 1-2 0-4-1zM556 1111l3 2-2-1-4-2z"/><path class="p3" d="M586 1114l3-1 4-1 3-3-2 1-4 3-3 1-4 1zM576 1113l4 1-3 1-3-1zM594 1110l3-3-2 0-4 4zM570 1113l4 1-3 1-4-2zM567 1113l4 2-3 0-3-2zM561 1112l4 1-3 0-4-1zM558 1112l4 1-3 0-3-2z"/><path class="p4" d="M592 1112l4-1 3-3-3 1-3 3-4 1zM596 1109l4-3-3 1-3 3zM564 1111l3 2-2 0-4-1zM558 1110l3 2-3 0-3-2zM555 1110l3 2-2-1-4-2zM552 1109l4 2-3-1-4-2zM549 1108l4 2-3-1-3-2z"/><path class="p5" d="M598 1109l4-2-3 1-3 3zM599 1108l4-3-3 1-4 3zM551 1107l4 3-3-1-3-2zM549 1107l3 2-3-1-3-2zM546 1106l3 2-2-1-4-2zM543 1105l4 2-3-2-3-2z"/><path class="p6" d="M602 1107l3-4-2 2-4 3zM600 1106l3-5-2 0-4 6zM554 1107l4 3-3 0-4-3zM545 1105l4 2-3-1-4-2zM542 1104l4 2-3-1-3-2zM540 1103l3 2-2-2-4-2z"/><path class="p7" d="M603 1105l3-6-3 2-3 5zM548 1105l3 2-2 0-4-2zM539 1102l3 2-2-1-4-2zM536 1101l4 2-3-2-3-2z"/><path class="p8" d="M605 1105l3-3-3 1-3 4zM605 1103l4-5-3 1-3 6zM542 1103l3 2-3-1-3-2zM534 1099l3 2-3-2-3-2z"/><path class="p9" d="M608 1102l4-5-3 1-4 5zM606 1099l4-6-3 1-4 7zM535 1100l4 2-3-1-3-2zM533 1099l3 2-2-2-4-2zM530 1097l4 2-3-2-4-2zM527 1095l4 2-3-3-3-1z"/><path class="p10" d="M609 1098l3-6-2 1-4 6zM532 1098l3 2-2-1-4-2zM529 1097l4 2-3-2-3-2zM527 1095l3 2-3-2-3-2z"/><path class="p11" d="M612 1097l3-7-3 2-3 6zM526 1095l3 2-2-2-4-1zM523 1094l4 1-3-2-4-1zM524 1093l3 2-2-2-4-2zM521 1091l4 2-3-3-4-2z"/><path class="p12" d="M614 1095l4-6-3 1-3 7zM520 1093l3 1-3-2-3-1zM520 1092l4 1-3-2-3-1zM518 1090l3 1-3-3-3-1z"/><path class="p13" d="M612 1092l4-9-3 1-3 9zM513 1090l4 1 3 1-2-2-4-1-3-1zM514 1089l4 1-3-3-4-1z"/><path class="p14" d="M615 1090l4-8-3 1-4 9zM511 1088l3 1-3-3-3-1zM511 1086l4 1-3-3-3-1z"/><path class="p15" d="M618 1089l3-9-2 2-4 8zM504 1088l3 0 4 0-3-3-4 0-3 0zM504 1085l4 0 3 1-2-3-4-1-3 0zM505 1082l4 1-3-4-3 0zM409 1091l3-4-2-5-4 4zM403 1090l3-4-3-4-3 3z"/><path class="p16" d="M620 1087l4-8-3 1-3 9zM616 1083l3-11-2 2-4 10zM497 1086l4-1 3 0-2-3-4 0-3 1zM502 1082l3 0-2-3-4-1zM437 1089l4-5-3-5-4 5zM431 1089l3-5-2-5-4 5zM425 1088l3-4-2-5-4 4zM419 1088l3-5-3-5-3 5zM412 1087l4-4-3-5-3 4zM406 1086l4-4-3-5-4 5zM396 1088l4-3-3-5-3 3zM387 1087l3-1 4-3-3-4-4 2-3 1z"/><path class="p17" d="M619 1082l3-11-3 1-3 11zM491 1084l4-1 3-1 4 0-3-4-4 1-3 0-4 1zM481 1084l4-2-3-4-3 2zM499 1078l4 1-3-4-4 0zM400 1085l3-3-2-5-4 3zM394 1083l3-3-2-4-4 3zM384 1082l3-1-2-4-4 1z"/><path class="p18" d="M485 1082l3-2 4-1 3 0 4-1-3-3-3 0-4 1-3 1-4 1zM475 1083l4-3 3-2-2-4-4 2-3 3zM469 1082l4-3-3-4-4 3zM459 1085l4-4-3-4-3 3zM453 1084l4-4-3-4-4 4zM447 1084l3-4-2-5-4 4zM441 1084l3-5-3-5-3 5zM434 1084l4-5-3-5-3 5zM428 1084l4-5-3-5-3 5zM422 1083l4-4-3-6-4 5zM416 1083l3-5-2-5-4 5zM410 1082l3-4-3-5-3 4zM403 1082l4-5-3-4-3 4zM397 1080l4-3-3-5-3 4zM380 1083l4-1-3-4-3 0zM387 1081l4-2-3-5-3 3z"/><path class="p19" d="M621 1080l4-10-3 1-3 11zM482 1078l4-1 3-1 4-1 3 0-2-5-4 1-3 0-4 2-3 1zM473 1079l3-3-3-4-3 3zM463 1081l3-3-2-5-4 4zM457 1080l3-3-3-5-3 4zM450 1080l4-4-3-5-3 4zM444 1079l4-4-3-5-4 4zM438 1079l3-5-2-5-4 5zM432 1079l3-5-2-5-4 5zM426 1079l3-5-3-6-3 5zM419 1078l4-5-3-5-3 5zM413 1078l4-5-3-5-4 5zM407 1077l3-4-2-5-4 5zM401 1077l3-4-2-5-4 4zM391 1079l4-3-3-5-4 3zM374 1077l4 1 3 0 4-1 3-3-2-4-4 3-3 1-4 0-3 0z"/><path class="p20" d="M624 1079l4-11-3 2-4 10zM476 1076l4-2 3-1 4-2-3-4-4 1-3 2-4 2zM466 1078l4-3 3-3-2-5-4 3-3 3zM460 1077l4-4-3-5-4 4zM454 1076l3-4-2-5-4 4zM395 1076l3-4-3-4-3 3zM388 1074l4-3-3-4-3 3zM372 1074l3 0 4 0 3-1 4-3-3-4-4 3-3 1-4 1-3-1z"/><path class="p21" d="M627 1077l3-10-2 1-4 11zM473 1072l4-2 3-2-2-5-4 2-3 2zM464 1073l3-3-3-5-3 3zM448 1075l3-4-2-5-4 4zM441 1074l4-4-3-5-3 4zM435 1074l4-5-3-5-3 5zM429 1074l4-5-3-5-4 4zM423 1073l3-5-2-5-4 5zM417 1073l3-5-3-5-3 5zM410 1073l4-5-3-5-3 5zM404 1073l4-5-3-5-3 5zM398 1072l4-4-3-5-4 5zM369 1070l3 1 4-1 3-1-2-4-4 2-3 0-4 0z"/><path class="p22" d="M467 1070l4-3 3-2-3-5-3 3-4 2zM457 1072l4-4-3-5-3 4zM451 1071l4-4-3-5-3 4zM445 1070l4-4-3-6-4 5zM368 1071l4 3-3-4-4-2zM365 1068l4 2-3-3-3-3zM366 1067l4 0-3-3-4 0z"/><path class="p23" d="M461 1068l3-3-2-5-4 3zM455 1067l3-4-2-5-4 4zM439 1069l3-4-2-6-4 5zM433 1069l3-5-3-5-3 5zM426 1068l4-4-3-6-3 5zM365 1067l3 4-3-3-3-4zM363 1064l3 3-3-3-3-3z"/><path class="p24" d="M449 1066l3-4-3-6-3 4zM362 1064l3 4-2-4-4-4zM360 1061l3 3-2-3-4-2z"/><path class="p25" d="M359 1060l4 4-3-3-4-4z"/><path class="p26" d="M356 1057l4 4-3-2-3-4z"/><path class="p27" d="M358 1058l4 6-3-4-3-5z"/><path class="p28" d="M356 1055l3 5-3-3-3-5zM353 1052l3 5-2-2-4-6z"/><path class="p31" d="M352 1047l4 8-3-3-4-8zM349 1044l4 8-3-3-3-7z"/><path class="p3" d="M582 1113l4 1-3 1-3-1z"/><path class="p4" d="M589 1112l3 0-3 1-3 1zM579 1112l3 1-2 1-4-1zM573 1112l3 1-2 1-4-1zM566 1111l4 2-3 0-3-2z"/><path class="p5" d="M591 1111l4-1 3-1-2 2-4 1-3 0zM582 1111l3 1 4 0-3 2-4-1-3-1zM575 1111l4 1-3 1-3-1zM569 1110l4 2-3 1-4-2zM560 1109l4 2-3 1-3-2z"/><path class="p6" d="M598 1109l3-1-3 1-3 1zM588 1110l3 1-2 1-4 0zM578 1109l4 2-3 1-4-1zM572 1109l3 2-2 1-4-2zM563 1109l3 2-2 0-4-2zM557 1107l3 2-2 1-4-3z"/><path class="p7" d="M590 1108l4 1 4 0-3 1-4 1-3-1zM601 1108l4-3-3 2-4 2zM584 1109l4 1-3 2-3-1zM566 1108l3 2-3 1-3-2zM559 1106l4 3-3 0-3-2zM551 1105l3 2-3 0-3-2z"/><path class="p8" d="M593 1106l4 1 3 0 4-1 3-2-2 1-4 3-3 1-4 0-4-1zM587 1107l3 1-2 2-4-1zM581 1107l3 2-2 2-4-2zM575 1107l3 2-3 2-3-2zM568 1106l4 3-3 1-3-2zM562 1105l4 3-3 1-4-3zM553 1105l4 2-3 0-3-2zM547 1103l4 2-3 0-4-2zM544 1103l4 2-3 0-3-2z"/><path class="p9" d="M603 1105l3-1 4-2-3 2-3 2-4 1zM607 1104l4-4-3 2-3 3zM571 1105l4 2-3 2-4-3zM565 1104l3 2-2 2-4-3zM556 1104l3 2-2 1-4-2zM550 1102l3 3-2 0-4-2zM541 1101l3 2-2 0-4-2zM538 1101l4 2-3-1-4-2zM426 1111l3-4-2-5-4 5zM420 1110l3-3-3-5-3 4zM413 1109l4-3-3-5-3 3zM404 1109l3-2-3-5-3 2z"/><path class="p10" d="M610 1102l3-4-2 2-4 4zM611 1100l3-5-2 2-4 5zM559 1103l3 2-3 1-3-2zM552 1102l4 2-3 1-3-3zM544 1101l3 2-3 0-3-2zM535 1099l3 2-3-1-3-2zM436 1107l3-5-3-4-3 5zM429 1107l4-4-3-5-3 4zM423 1107l4-5-3-4-4 4zM417 1106l3-4-2-5-4 4zM407 1107l4-3-3-4-4 2z"/><path class="p11" d="M609 1102l4-2-3 2-4 2zM613 1098l4-5-3 2-3 5zM549 1099l3 3-2 0-4-2zM546 1100l4 2-3 1-3-2zM540 1099l4 2-3 0-4-2zM537 1099l4 2-3 0-3-2zM531 1097l4 2-3-1-4-1zM528 1097l4 1-3-1-3-2zM448 1106l3-5-2-4-4 5zM442 1107l3-5-2-4-4 4zM411 1104l3-3-2-5-4 4zM397 1106l4-2 3-2 4-2-3-5-3 3-4 2-3 1z"/><path class="p12" d="M613 1100l3-4-3 2-3 4zM543 1098l3 2-2 1-4-2zM536 1097l4 2-3 0-3-2zM534 1097l3 2-2 0-4-2zM528 1096l3 1-3 0-3-2zM525 1095l3 2-2-2-4-1zM522 1094l4 1-3-1-3-1zM451 1101l4-4-3-4-3 4zM445 1102l4-5-3-4-3 5zM439 1102l4-4-3-5-4 5zM433 1103l3-5-2-5-4 5zM427 1102l3-4-3-5-3 5zM420 1102l4-4-3-5-3 4zM414 1101l4-4-3-5-3 4zM408 1100l4-4-3-5-4 4zM391 1101l4 0 3-1 4-2-3-5-3 2-4 1-3 0z"/><path class="p13" d="M615 1098l4-3-3 1-3 4zM616 1096l4-4-3 1-4 5zM617 1093l3-6-2 2-4 6zM530 1096l4 1-3 0-3-1zM524 1095l4 1-3-1-4-1zM521 1094l4 1-3-1-3-1zM519 1093l3 1-2-1-4-1zM516 1092l4 1-3-2-4-1zM464 1100l3-4-2-3-4 3zM458 1101l3-5-3-3-3 4zM443 1098l3-5-3-4-3 4zM436 1098l4-5-3-4-3 4zM430 1098l4-5-3-4-4 4zM424 1098l3-5-2-5-4 5zM418 1097l3-4-2-5-4 4zM412 1096l3-4-3-5-3 4zM402 1098l3-3-2-5-4 3zM392 1096l4-1-3-5-4 1z"/><path class="p14" d="M619 1095l3-5-2 2-4 4zM521 1094l3 1-3-1-3 0zM518 1094l3 0-2-1-4 0zM512 1093l3 0 4 0-3-1-4 0-3-1zM509 1091l3 1 4 0-3-2-3 0-4 0zM510 1090l3 0-2-2-4 0zM476 1098l4-3-3-3-3 3zM470 1099l4-4-3-3-4 4zM467 1096l4-4-3-3-3 4zM461 1096l4-3-3-4-4 4zM455 1097l3-4-2-4-4 4zM449 1097l3-4-2-4-4 4zM405 1095l4-4-3-5-3 4zM385 1095l4 1 3 0-3-5-3 1-4-2zM396 1095l3-2 4-3-3-5-4 3-3 2z"/><path class="p15" d="M620 1092l3-7-3 2-3 6zM514 1094l4 0-3-1-3 0zM508 1093l4 0-3-2-4 1zM498 1094l4-1 3-1 4-1-3-1-3 0-4 1-3 1zM492 1094l4-2 3-1 4-1 3 0 4 0-3-2-3 0-4 0-3 1-4 1-3 2zM486 1095l4-3 3-2-3-2-3 2-4 2zM500 1088l4 0-3-3-4 1zM480 1095l3-3 4-2-3-3-3 3-4 2zM474 1095l3-3 4-2-3-4-4 3-3 3zM471 1092l3-3-2-3-4 3zM465 1093l3-4-2-4-4 4zM458 1093l4-4-3-4-3 4zM452 1093l4-4-3-5-3 5zM446 1093l4-4-3-5-4 5zM440 1093l3-4-2-5-4 5zM434 1093l3-4-3-5-3 5zM427 1093l4-4-3-5-3 4zM421 1093l4-5-3-5-3 5zM415 1092l4-4-3-5-4 4zM386 1092l3-1 4-1 3-2-2-5-4 3-3 1-4 0z"/><path class="p16" d="M622 1090l4-7-3 2-3 7zM493 1090l4-1 3-1-3-2-3 1-4 1zM487 1090l3-2 4-1 3-1-2-3-4 1-3 1-4 2zM481 1090l3-3-3-3-3 2zM474 1089l4-3-3-3-3 3zM468 1089l4-3-3-4-3 3zM462 1089l4-4-3-4-4 4zM456 1089l3-4-2-5-4 4zM450 1089l3-5-3-4-3 4zM443 1089l4-5-3-5-3 5zM382 1092l3 3-3-5-3-2zM382 1090l4 2-3-5-3-1zM383 1087l4 0-3-5-4 1z"/><path class="p17" d="M625 1088l4-6-3 1-4 7zM484 1087l4-2 3-1-3-4-3 2-4 2zM478 1086l3-2-2-4-4 3zM472 1086l3-3-2-4-4 3zM466 1085l3-3-3-4-3 3zM379 1088l3 2-2-4-4-3zM380 1086l3 1-3-4-3-1z"/><path class="p18" d="M623 1085l4-8-3 2-4 8zM376 1083l4 3-3-4-4-3zM377 1082l3 1-2-5-4-1z"/><path class="p19" d="M626 1083l3-8-2 2-4 8zM375 1084l4 4-3-5-3-4zM373 1079l4 3-3-5-3-2z"/><path class="p20" d="M629 1082l3-8-3 1-3 8zM373 1079l3 4-3-4-3-4z"/><path class="p21" d="M631 1080l4-8-3 2-3 8zM370 1075l3 4-2-4-4-4zM371 1075l3 2-2-3-4-3z"/><path class="p22" d="M629 1075l4-10-3 2-3 10zM367 1071l4 4-3-4-3-4z"/><path class="p23" d="M369 1073l4 6-3-4-4-6z"/><path class="p24" d="M632 1074l4-11-3 2-4 10zM366 1069l4 6-3-4-3-6z"/><path class="p25" d="M635 1072l3-10-2 1-4 11zM364 1065l3 6-2-4-4-6z"/><path class="p26" d="M637 1071l4-11-3 2-3 10zM361 1061l4 6-3-3-4-6z"/><path class="p27" d="M363 1061l3 8-2-4-4-8z"/><path class="p28" d="M360 1057l4 8-3-4-3-8z"/><path class="p29" d="M358 1053l3 8-3-3-3-8z"/><path class="p30" d="M355 1050l3 8-2-3-4-8z"/><path class="p3" d="M421 1128l3-2-3-4-3 3z"/><path class="p4" d="M437 1126l3-4-3-3-3 4zM430 1126l4-3-3-4-3 4zM424 1126l4-3-3-4-4 3zM414 1126l4-1-3-4-3 1z"/><path class="p5" d="M443 1125l3-4-2-3-4 4zM434 1123l3-4-2-4-4 4zM428 1123l3-4-2-4-4 4zM418 1125l3-3 4-3-3-4-3 3-4 3zM408 1123l4-1 3-1-2-5-4 2-3 1z"/><path class="p6" d="M446 1121l4-4-3-3-3 4zM440 1122l4-4-3-3-4 4zM431 1119l4-4-3-4-3 4zM425 1119l4-4-3-4-4 4zM415 1121l4-3-3-4-3 2zM406 1119l3-1-3-4-3 1z"/><path class="p7" d="M453 1120l3-5-3-3-3 5zM444 1118l3-4-3-4-3 5zM437 1119l4-4-3-4-3 4zM419 1118l3-3-2-5-4 4zM402 1119l4 0-3-4-4-1zM409 1118l4-2 3-2-3-5-3 3-4 2z"/><path class="p8" d="M459 1118l3-5-2-2-4 4zM456 1115l4-4-3-3-4 4zM450 1117l3-5-2-3-4 5zM441 1115l3-5-2-3-4 4zM435 1115l3-4-2-4-4 4zM429 1115l3-4-3-4-3 4zM422 1115l4-4-3-4-3 3zM416 1114l4-4-3-4-4 3zM399 1114l4 1 3-1 4-2 3-3-2-5-4 3-3 2-4 1-3 0z"/><path class="p9" d="M599 1105l4 0-3 2-3 0zM590 1105l3 1-3 2-3-1zM583 1105l4 2-3 2-3-2zM577 1105l4 2-3 2-3-2zM465 1115l3-4-2-2-4 4zM462 1113l4-4-3-2-3 4zM453 1112l4-4-3-3-3 4zM447 1114l4-5-3-3-4 4zM438 1111l4-4-3-5-3 5zM432 1111l4-4-3-4-4 4zM396 1113l3 1-2-4-4-1zM397 1110l3 0 4-1-3-5-4 2-3-1z"/><path class="p10" d="M596 1104l3 1-2 2-4-1zM586 1103l4 2-3 2-4-2zM580 1103l3 2-2 2-4-2zM574 1103l3 2-2 2-4-2zM568 1102l3 3-3 1-3-2zM468 1111l4-4-3-2-3 4zM460 1111l3-4-3-3-3 4zM451 1109l3-4-3-4-3 5zM444 1110l4-4-3-4-3 5zM392 1110l4 3-3-4-3-3zM393 1109l4 1-3-5-4-1z"/><path class="p11" d="M599 1102l3 1 4 0 3-1-3 2-3 1-4 0-3-1zM592 1103l4 1-3 2-3-1zM561 1101l4 3-3 1-3-2zM555 1100l4 3-3 1-4-2zM475 1109l3-4-3-1-3 3zM472 1107l3-3-2-3-4 4zM466 1109l3-4-2-2-4 4zM463 1107l4-4-3-3-4 4zM457 1108l3-4-2-3-4 4zM454 1105l4-4-3-4-4 4zM390 1106l3 3-3-5-3-3zM394 1105l3 1-2-5-4 0z"/><path class="p12" d="M605 1101l3 0 4-1 3-2-2 2-4 2-3 1-4 0zM595 1101l4 1-3 2-4-1zM589 1101l3 2-2 2-4-2zM583 1101l3 2-3 2-3-2zM576 1101l4 2-3 2-3-2zM570 1100l4 3-3 2-3-3zM564 1100l4 2-3 2-4-3zM558 1099l3 2-2 2-4-3zM552 1098l3 2-3 2-3-3zM481 1107l3-4-2-1-4 3zM478 1105l4-3-3-2-4 4zM475 1104l4-4-3-2-3 3zM469 1105l4-4-3-2-3 4zM467 1103l3-4-3-3-3 4zM460 1104l4-4-3-4-3 5zM390 1104l4 1-3-4-3-1z"/><path class="p13" d="M611 1099l4-1-3 2-4 1zM601 1100l4 1-3 2-3-1zM592 1099l3 2-3 2-3-2zM585 1099l4 2-3 2-3-2zM579 1099l4 2-3 2-4-2zM573 1098l3 3-2 2-4-3zM567 1098l3 2-2 2-4-2zM561 1097l3 3-3 1-3-2zM545 1097l4 2-3 1-3-2zM539 1096l4 2-3 1-4-2zM487 1104l4-3-3-1-4 3zM484 1103l4-3-3-1-3 3zM482 1102l3-3-2-2-4 3zM479 1100l4-3-3-2-4 3zM473 1101l3-3-2-3-4 4zM386 1101l4 5-3-5-4-4zM387 1101l3 3-2-4-4-3zM388 1100l3 1-2-5-4-1z"/><path class="p14" d="M604 1098l3 1 4 0-3 2-3 0-4-1zM615 1098l3-2 4-3-3 2-4 3-3 2zM598 1099l3 1-2 2-4-1zM554 1097l4 2-3 1-3-2zM548 1096l4 2-3 1-4-2zM542 1095l3 2-2 1-4-2zM536 1095l3 1-3 1-3-1zM533 1096l3 1-2 0-4-1zM527 1095l3 1-2 0-4-1zM491 1101l3-2 4-2-3-1-4 2-3 2zM488 1100l3-2 4-2-3-2-3 2-4 3zM485 1099l4-3-3-1-3 2zM483 1097l3-2-3-3-3 3zM384 1097l4 3-3-5-3-3z"/><path class="p15" d="M610 1097l4 0 3-1 4-2-3 2-3 2-4 1-4 0zM588 1097l4 2-3 2-4-2zM582 1096l3 3-2 2-4-2zM576 1096l3 3-3 2-3-3zM569 1096l4 2-3 2-3-2zM563 1095l4 3-3 2-3-3zM557 1095l4 2-3 2-4-2zM551 1094l3 3-2 1-4-2zM545 1094l3 2-3 1-3-2zM538 1094l4 1-3 1-3-1zM532 1094l4 1-3 1-4-2zM526 1094l3 0 4 2-3 0-3-1-4-1zM520 1094l3 0 4 1-3 0-3-1-4 0zM503 1097l4-1-3 0-4 1zM514 1094l3 0 4 0-3 0-4 0-3 0zM497 1099l3-2 4-1 3-1 4-1 3 0-2-1-4 0-3 1-4 1-3 2-4 2zM498 1097l3-2 4-1 3-1-3-1-3 1-4 1-3 2zM495 1096l3-2-2-2-4 2zM489 1096l3-2-2-2-4 3zM383 1097l4 4-3-4-3-5z"/><path class="p16" d="M620 1095l3-2-2 1-4 2zM621 1094l3-3-2 2-4 3zM622 1093l3-5-3 2-3 5zM560 1093l3 2-2 2-4-2zM553 1092l4 3-3 2-3-3zM547 1092l4 2-3 2-3-2zM541 1092l4 2-3 1-4-1zM535 1093l3 1-2 1-4-1zM529 1093l3 1-3 0-3 0zM522 1093l4 1-3 0-3 0zM509 1096l4-1 3-1 4 0-3 0-3 0-4 1-3 1zM507 1096l3-1 4-1-3 0-4 1-3 1zM381 1092l3 5-2-5-4-4z"/><path class="p17" d="M623 1093l4-4-3 2-3 3zM624 1091l4-5-3 2-3 5zM538 1091l3 1-3 2-3-1zM531 1092l4 1-3 1-3-1zM525 1093l4 0-3 1-4-1zM515 1094l4 0 3-1-2 1-4 0-3 1zM378 1088l4 4-3-4-4-4z"/><path class="p18" d="M626 1091l4-3-3 1-4 4zM627 1089l3-4-2 1-4 5zM380 1091l3 6-2-5-4-6z"/><path class="p19" d="M630 1088l3-4-3 1-3 4zM628 1086l3-6-2 2-4 6zM377 1086l4 6-3-4-3-6z"/><path class="p20" d="M630 1085l4-6-3 1-3 6zM375 1082l3 6-3-4-3-7z"/><path class="p21" d="M632 1087l4-5-3 2-3 4zM633 1084l4-7-3 2-4 6zM372 1077l3 7-2-5-4-6z"/><path class="p22" d="M636 1082l3-6-2 1-4 7zM374 1078l3 8-2-4-4-8z"/><path class="p23" d="M634 1079l3-8-2 1-4 8z"/><path class="p24" d="M637 1077l3-8-3 2-3 8zM371 1074l4 8-3-5-4-8z"/><path class="p25" d="M639 1076l4-8-3 1-3 8zM368 1069l4 8-3-4-3-8z"/><path class="p26" d="M642 1075l4-7-3 0-4 8zM366 1065l3 8-3-4-3-8z"/><path class="p27" d="M640 1069l4-10-3 1-4 11z"/><path class="p28" d="M643 1068l3-10-2 1-4 10z"/><path class="p29" d="M646 1068l3-10-3 0-3 10z"/><path class="p30" d="M648 1067l4-10-3 1-3 10z"/><path class="p0" d="M431 1140l4-2-3-3-3 3z"/><path class="p1" d="M438 1140l3-3-3-2-3 3zM435 1138l3-3-2-2-4 2zM425 1139l4-1 3-3-2-2-4 2-3 2zM419 1137l4 0 3-2-3-3-3 1-4 1z"/><path class="p2" d="M447 1135l4-3-3-2-3 4zM441 1137l4-3-3-2-4 3zM438 1135l4-3-3-3-3 4zM432 1135l4-2-3-3-3 3zM426 1135l4-2 3-3-3-4-3 3-4 3zM413 1134l3 0 4-1 3-1 4-3-3-3-3 2-4 2-3 1-4-1z"/><path class="p3" d="M445 1134l3-4-3-2-3 4zM442 1132l3-4-2-3-4 4zM436 1133l3-4-2-3-4 4zM433 1130l4-4-3-3-4 3zM409 1132l4 2-3-4-3-1zM427 1129l3-3-2-3-4 3zM410 1130l4 1 3-1 4-2-3-3-4 1-3 1-4 0z"/><path class="p4" d="M454 1133l3-4-3-1-3 4zM451 1132l3-4-2-2-4 4zM448 1130l4-4-3-2-4 4zM445 1128l4-4-3-3-3 4zM439 1129l4-4-3-3-3 4zM407 1129l3 1-3-3-3-2zM407 1127l4 0 3-1-2-4-4 1-3 0z"/><path class="p5" d="M460 1130l3-4-2-1-4 4zM457 1129l4-4-3-1-4 4zM454 1128l4-4-3-2-3 4zM452 1126l3-4-2-2-4 4zM404 1125l3 2-2-4-4-2zM405 1123l3 0-2-4-4 0z"/><path class="p6" d="M463 1126l4-4-3-1-3 4zM461 1125l3-4-3-2-3 5zM458 1124l3-5-2-1-4 4zM449 1124l4-4-3-3-4 4zM403 1126l4 3-3-4-4-3zM401 1121l4 2-3-4-3-2z"/><path class="p7" d="M467 1122l3-4-2-1-4 4zM464 1121l4-4-3-2-4 4zM455 1122l4-4-3-3-3 5zM400 1122l4 3-3-4-3-3z"/><path class="p8" d="M470 1123l3-4-3-1-3 4zM461 1119l4-4-3-2-3 5zM398 1118l3 3-2-4-4-3zM399 1117l3 2-3-5-3-1z"/><path class="p9" d="M476 1119l3-4-2 0-4 4zM473 1119l4-4-3-1-4 4zM470 1118l4-4-3-1-3 4zM468 1117l3-4-3-2-3 4zM397 1117l3 5-2-4-4-4zM395 1114l4 3-3-4-4-3z"/><path class="p10" d="M477 1115l3-4-3-1-3 4zM474 1114l3-4-2-1-4 4zM471 1113l4-4-3-2-4 4zM394 1114l4 4-3-4-4-4z"/><path class="p11" d="M482 1115l3-4-2 0-4 4zM479 1115l4-4-3 0-3 4zM480 1111l4-4-3 0-4 3zM477 1110l4-3-3-2-3 4zM391 1110l4 4-3-4-3-4z"/><path class="p12" d="M485 1111l4-3-3 0-3 3zM483 1111l3-3-2-1-4 4zM484 1107l3-3-3-1-3 4zM389 1106l3 4-2-4-4-5z"/><path class="p13" d="M489 1108l3-3-2 0-4 3zM486 1108l4-3 3-3-2-1-4 3-3 3zM391 1107l3 7-3-4-3-7z"/><path class="p14" d="M492 1107l3-3-3 1-3 3zM492 1105l4-3-3 0-3 3zM493 1102l4-3-3 0-3 2zM388 1103l3 7-2-4-4-7z"/><path class="p15" d="M600 1097l4 1-3 2-3-1zM594 1097l4 2-3 2-3-2zM498 1103l3-2-2 0-4 3zM495 1104l4-3 3-2-3 0-3 3-4 3zM496 1102l3-3 4-2-3 0-3 2-4 3zM385 1099l4 7-3-5-3-6z"/><path class="p16" d="M613 1095l3 0 4 0-3 1-3 1-4 0zM607 1096l3 1-3 2-3-1zM597 1095l3 2-2 2-4-2zM591 1094l3 3-2 2-4-2zM585 1094l3 3-3 2-3-3zM578 1094l4 2-3 3-3-3zM572 1093l4 3-3 2-4-2zM566 1093l3 3-2 2-4-3zM501 1101l4-3-3 1-3 2zM502 1099l4-2 3-1-2 0-4 1-4 2zM387 1099l4 8-3-4-4-8zM383 1095l3 6-3-4-3-6z"/><path class="p17" d="M619 1094l4-1-3 2-4 0zM609 1094l4 1-3 2-3-1zM603 1095l4 1-3 2-4-1zM504 1099l4-2-3 1-4 3zM522 1093l3 0-3 0-3 1zM505 1098l3-2 4-1 3-1-2 1-4 1-3 1-4 2zM384 1095l4 8-3-4-3-8z"/><path class="p18" d="M616 1094l3 0-3 1-3 0zM623 1093l3-2-3 2-3 2zM606 1093l3 1-2 2-4-1zM600 1092l3 3-3 2-3-2zM593 1092l4 3-3 2-3-3zM587 1092l4 2-3 3-3-3zM581 1091l4 3-3 2-4-2zM575 1091l3 3-2 2-4-3zM569 1091l3 2-3 3-3-3zM562 1090l4 3-3 2-3-2zM556 1090l4 3-3 2-4-3zM550 1090l3 2-2 2-4-2zM544 1091l3 1-2 2-4-2zM534 1090l4 1-3 2-4-1zM524 1091l4 0 3 1-2 1-4 0-3 0zM508 1097l3-2 4-1 3-1 4 0-3 1-4 0-3 1-4 1-3 2z"/><path class="p19" d="M618 1092l4 0 3 0 4-2 3-3-2 1-4 3-3 2-4 1-3 0zM612 1092l4 2-3 1-4-1zM602 1090l4 3-3 2-3-3zM596 1090l4 2-3 3-4-3zM590 1089l3 3-2 2-4-2zM584 1089l3 3-2 2-4-3zM578 1089l3 2-3 3-3-3zM571 1088l4 3-3 2-3-2zM565 1088l4 3-3 2-4-3zM559 1088l3 2-2 3-4-3zM553 1088l3 2-3 2-3-2zM546 1089l4 1-3 2-3-1zM540 1089l4 2-3 1-3-1zM531 1090l3 0-3 2-3-1zM514 1094l3-1 4-1 3-1-2 2-4 0-3 1-4 1zM382 1091l3 8-2-4-4-8z"/><path class="p20" d="M621 1091l3 0 4 0 4-2 3-3-3 1-3 3-4 2-3 0-4 0zM615 1091l3 1-2 2-4-2zM609 1091l3 1-3 2-3-1zM549 1087l4 1-3 2-4-1zM543 1087l3 2-2 2-4-2zM533 1088l4 0 3 1-2 2-4-1-3 0zM520 1091l4-1 3 0 4 0-3 1-4 0-3 1-4 1zM379 1087l4 8-3-4-4-9z"/><path class="p21" d="M627 1090l4 0 3-2 4-3-3 1-3 3-4 2-4 0zM605 1089l4 2-3 2-4-3zM599 1088l3 2-2 2-4-2zM593 1087l3 3-3 2-3-3zM586 1087l4 2-3 3-3-3zM580 1086l4 3-3 2-3-2zM574 1086l4 3-3 2-4-3zM568 1086l3 2-2 3-4-3zM562 1086l3 2-3 2-3-2zM555 1086l4 2-3 2-3-2zM539 1086l4 1-3 2-3-1zM526 1088l4 0 3 0-2 2-4 0-3 0zM376 1082l4 9-3-5-3-8z"/><path class="p22" d="M637 1088l3-3-2 0-4 3zM638 1085l3-4-2 1-4 4zM635 1086l4-4-3 0-4 5zM558 1083l4 3-3 2-4-2zM552 1084l3 2-2 2-4-1zM546 1085l3 2-3 2-3-2zM532 1086l4 0 3 0-2 2-4 0-3 0z"/><path class="p23" d="M640 1085l4-4-3 0-3 4zM639 1082l3-7-3 1-3 6zM577 1083l3 3-2 3-4-3zM570 1083l4 3-3 2-3-2zM564 1083l4 3-3 2-3-2zM548 1083l4 1-3 3-3-2zM542 1084l4 1-3 2-4-1z"/><path class="p24" d="M643 1085l4-4-3 0-4 4zM641 1081l4-6-3 0-3 7zM555 1082l3 1-3 3-3-2z"/><path class="p25" d="M644 1081l3-6-2 0-4 6z"/><path class="p26" d="M647 1081l3-6-3 0-3 6z"/><path class="p27" d="M645 1075l3-8-2 1-4 7z"/><path class="p28" d="M650 1075l4-8-3 0-4 8zM647 1075l4-8-3 0-3 8z"/><path class="p31" d="M654 1067l3-9-3-1-3 10zM651 1067l3-10-2 0-4 10z"/><path class="p0" d="M439 1147l3-2 4-2-3 0-3 2-4 1zM433 1146l3 0 4-1 3-2 4-3-3-1-4 2-3 3-4 1-3 0zM426 1145l4 0 3 0 4-1 3-3 4-2-3-2-3 3-4 2-3 1-4 1-3-1zM424 1143l3 1 4-1 3-1 4-2-3-2-4 2-3 2-4 0-3-1zM424 1142l4 0 3-2-2-2-4 1-3 1z"/><path class="p1" d="M445 1145l3-1 4-3-3 0-3 2-4 2zM446 1143l3-2 4-4-3 0-3 3-4 3zM447 1140l3-3-3-2-3 4zM444 1139l3-4-2-1-4 3zM420 1141l4 2-3-2-4-2zM421 1141l3 1-2-2-4-1zM418 1139l4 1 3-1-2-2-4 0-3 0z"/><path class="p2" d="M455 1141l3-3-3 0-3 3zM452 1141l3-3-2-1-4 4zM453 1137l3-3-2-1-4 4zM450 1137l4-4-3-1-4 3zM417 1139l4 2-3-2-3-2zM415 1137l3 2-2-2-4-2zM416 1137l3 0-3-3-3 0z"/><path class="p3" d="M458 1138l4-4-3 0-4 4zM455 1138l4-4-3 0-3 3zM417 1138l3 3-3-2-3-3zM414 1136l3 3-2-2-4-3zM412 1135l4 2-3-3-4-2z"/><path class="p4" d="M461 1137l3-3-2 0-4 4zM462 1134l3-3-3 0-3 3zM459 1134l3-3-2-1-4 4zM456 1134l4-4-3-1-3 4zM411 1134l4 3-3-2-4-3zM408 1132l4 3-3-3-3-3z"/><path class="p5" d="M464 1134l4-4-3 1-3 3zM462 1131l4-4-3-1-3 4zM410 1131l4 5-3-2-3-5zM406 1129l3 3-2-3-4-3z"/><path class="p6" d="M467 1133l4-4-3 1-4 4zM468 1130l3-4-2 1-4 4zM465 1131l4-4-3 0-4 4zM466 1127l4-4-3-1-4 4zM408 1129l3 5-3-2-3-5zM405 1127l3 5-2-3-4-5z"/><path class="p7" d="M471 1129l3-3-3 0-3 4zM469 1127l3-4-2 0-4 4zM402 1124l4 5-3-3-3-5z"/><path class="p8" d="M474 1126l4-4-3 0-4 4zM471 1126l4-4-3 1-3 4zM472 1123l4-4-3 0-3 4zM400 1121l3 5-3-4-3-5z"/><path class="p9" d="M477 1124l3-3-2 1-4 4zM475 1122l3-3-2 0-4 4zM404 1122l4 7-3-2-4-7zM401 1120l4 7-3-3-3-7z"/><path class="p10" d="M478 1122l3-4-3 1-3 3zM478 1119l4-4-3 0-3 4zM399 1117l3 7-2-3-4-7z"/><path class="p11" d="M480 1121l4-4-3 1-3 4zM481 1118l4-4-3 1-4 4zM396 1114l4 7-3-4-4-6z"/><path class="p12" d="M483 1119l4-4-3 2-4 4zM484 1117l3-4-2 1-4 4zM485 1114l3-3-3 0-3 4zM393 1111l4 6-3-3-3-7z"/><path class="p13" d="M487 1115l3-3-3 1-3 4zM487 1113l4-3-3 1-3 3zM488 1111l4-4-3 1-4 3zM398 1111l3 9-2-3-4-8z"/><path class="p14" d="M489 1113l4-3-3 2-3 3zM490 1112l4-4-3 2-4 3zM491 1110l3-4-2 1-4 4zM395 1109l4 8-3-3-3-8zM393 1106l3 8-3-3-3-9z"/><path class="p15" d="M493 1110l3-4-2 2-4 4zM494 1108l3-3-3 1-3 4zM494 1106l4-3-3 1-3 3zM390 1102l3 9-2-4-4-8z"/><path class="p16" d="M496 1106l4-3-3 2-3 3zM497 1105l4-3-3 1-4 3z"/><path class="p17" d="M500 1103l3-3-2 2-4 3zM501 1102l3-3-3 2-3 2z"/><path class="p18" d="M499 1104l3-3 4-3-3 2-3 3-4 3zM503 1100l4-2 3-2-2 1-4 2-3 3z"/><path class="p19" d="M506 1098l3-2-2 2-4 2zM510 1096l4-2-3 1-3 2z"/><path class="p20" d="M505 1099l4-3-3 2-4 3zM509 1096l4-2 3-2 4-1-3 2-3 1-4 2-3 2z"/><path class="p21" d="M624 1090l3 0-3 1-3 0zM617 1090l4 1-3 1-3-1zM611 1089l4 2-3 1-3-1zM509 1096l3-2 4-2 3-2-3 2-3 2-4 2-3 2z"/><path class="p22" d="M633 1090l3 0 4-2-3 0-4 2-3 0zM626 1090l4 0 3 0 4-2-3 0-3 2-4 0-3 0zM620 1089l4 1-3 1-4-1zM614 1088l3 2-2 1-4-2zM608 1087l3 2-2 2-4-2zM602 1086l3 3-3 1-3-2zM595 1085l4 3-3 2-3-3zM511 1094l4-3-3 3-3 2zM519 1090l4-1 3-1-2 2-4 1-4 1z"/><path class="p23" d="M629 1089l4 1-3 0-4 0zM640 1088l3-3-3 0-3 3zM623 1088l3 2-2 0-4-1zM617 1087l3 2-3 1-3-2zM610 1086l4 2-3 1-3-2zM589 1084l4 3-3 2-4-2zM583 1084l3 3-2 2-4-3zM539 1083l3 1-3 2-3 0zM515 1091l3-2 4-1 3-1 4-1 3 0-2 2-4 0-3 1-4 1-3 2-4 2z"/><path class="p24" d="M626 1088l3 1-3 1-3-2zM619 1086l4 2-3 1-3-2zM613 1085l4 2-3 1-4-2zM604 1084l4 3-3 2-3-3zM598 1083l4 3-3 2-4-3zM592 1082l3 3-2 2-4-3zM586 1081l3 3-3 3-3-3zM579 1081l4 3-3 2-3-3zM573 1080l4 3-3 3-4-3zM567 1080l3 3-2 3-4-3zM561 1081l3 2-2 3-4-3zM545 1081l3 2-2 2-4-1zM518 1089l3-2-3 2-3 2zM532 1083l3 0 4 0-3 3-4 0-3 0z"/><path class="p25" d="M622 1086l4 2-3 0-4-2zM616 1084l3 2-2 1-4-2zM607 1083l3 3-2 1-4-3zM601 1081l3 3-2 2-4-3zM557 1079l4 2-3 2-3-1zM551 1080l4 2-3 2-4-1zM541 1081l4 0-3 3-3-1zM521 1087l4-2 3-1 4-1-3 3-4 1-3 1-4 1z"/><path class="p26" d="M610 1082l3 3-3 1-3-3zM603 1080l4 3-3 1-3-3zM594 1080l4 3-3 2-3-3zM588 1079l4 3-3 2-3-3zM582 1078l4 3-3 3-4-3zM576 1078l3 3-2 2-4-3zM570 1078l3 2-3 3-3-3zM563 1078l4 2-3 3-3-2zM548 1079l3 1-3 3-3-2zM531 1081l3 0 4-1 3 1-2 2-4 0-3 0-4 1z"/><path class="p27" d="M612 1081l4 3-3 1-3-3zM597 1078l4 3-3 2-4-3zM591 1077l3 3-2 2-4-3zM566 1075l4 3-3 2-4-2zM560 1076l3 2-2 3-4-2zM554 1077l3 2-2 3-4-2zM540 1078l4 0 4 1-3 2-4 0-3-1zM527 1082l4-1-3 3-3 1z"/><path class="p28" d="M606 1079l4 3-3 1-4-3zM600 1077l3 3-2 1-4-3zM585 1076l3 3-2 2-4-3zM579 1075l3 3-3 3-3-3zM572 1075l4 3-3 2-3-2zM556 1074l4 2-3 3-3-2zM550 1076l4 1-3 3-3-1zM533 1078l4 0 3 0-2 2-4 1-3 0z"/><path class="p29" d="M594 1075l3 3-3 2-3-3zM587 1074l4 3-3 2-3-3zM581 1073l4 3-3 2-3-3zM575 1073l4 2-3 3-4-3zM569 1073l3 2-2 3-4-3zM563 1073l3 2-3 3-3-2zM553 1073l3 1-2 3-4-1zM543 1075l4 0 3 1-2 3-4-1-4 0z"/><path class="p30" d="M559 1072l4 1-3 3-4-2zM549 1072l4 1-3 3-3-1zM540 1075l3 0-3 3-3 0z"/><path class="p31" d="M590 1072l4 3-3 2-4-3zM584 1071l3 3-2 2-4-3zM578 1070l3 3-2 2-4-2zM572 1070l3 3-3 2-3-2zM565 1071l4 2-3 2-3-2zM556 1070l3 2-3 2-3-1z"/><path class="p32" d="M562 1069l3 2-2 2-4-1z"/><path class="p0" d="M438 1147l3 0 4-2-3 0-3 2-4 0zM435 1147l4 0-3-1-3 0zM429 1145l4 1-3-1-4 0z"/><path class="p1" d="M441 1146l3 0 4-1 3-2-3 1-3 1-4 2-3 0zM434 1146l4 1-3 0-3-1zM432 1146l3 1-2-1-4-1zM425 1143l4 2-3 0-3-2zM423 1143l3 2-2-2-4-2z"/><path class="p2" d="M443 1146l4 0 3-1 4-2 3-3-2 1-4 2-3 2-4 1-3 0zM437 1146l4 0-3 1-4-1zM451 1143l4-2-3 0-4 3zM431 1144l3 2-2 0-4-2zM428 1144l4 2-3-1-4-2z"/><path class="p3" d="M446 1144l3 0 4-1 4-1 3-3-3 1-3 3-4 2-3 1-4 0zM440 1145l3 1-2 0-4 0zM457 1140l4-3-3 1-3 3zM434 1143l3 3-3 0-3-2zM425 1140l3 4-3-1-3-3zM422 1140l3 3-2 0-4-4zM419 1139l4 4-3-2-3-3z"/><path class="p4" d="M449 1143l3 0 4-1 3-2 4-2-3 1-3 3-4 1-4 1-3 0zM442 1143l4 1-3 2-3-1zM460 1139l4-3-3 1-4 3zM436 1142l4 3-3 1-3-3zM427 1140l4 4-3 0-3-4z"/><path class="p5" d="M458 1140l4-2-3 2-3 2zM463 1138l3-3-2 1-4 3zM464 1136l3-3-3 1-3 3zM430 1140l4 3-3 1-4-4zM418 1135l4 5-3-1-3-5zM416 1134l3 5-2-1-4-5zM413 1133l4 5-3-2-4-5z"/><path class="p6" d="M462 1138l3-2 4-3-3 2-3 3-4 2zM466 1135l4-3-3 1-3 3zM424 1135l3 5-2 0-4-5zM421 1135l4 5-3 0-4-5z"/><path class="p7" d="M465 1136l3-2-3 2-3 2zM469 1133l3-3-2 2-4 3zM470 1132l3-4-2 1-4 4zM427 1134l3 6-3 0-3-5z"/><path class="p8" d="M468 1134l4-3-3 2-4 3zM472 1130l4-4-3 2-3 4zM473 1128l4-4-3 2-3 3zM415 1128l3 7-2-1-4-7zM412 1127l4 7-3-1-3-7zM410 1126l3 7-3-2-3-7zM407 1124l3 7-2-2-4-7z"/><path class="p9" d="M471 1131l3-2-2 2-4 3zM472 1131l3-3-3 2-3 3zM476 1126l3-3-2 1-4 4zM420 1128l4 7-3 0-3-7zM418 1128l3 7-3 0-3-7z"/><path class="p10" d="M474 1129l4-4-3 3-3 3zM475 1128l4-4-3 2-4 4zM479 1123l4-4-3 2-3 3z"/><path class="p11" d="M478 1125l3-3-2 2-4 4zM479 1124l3-3-3 2-3 3z"/><path class="p12" d="M477 1126l4-3-3 2-4 4zM481 1122l4-3-3 2-3 3zM482 1121l4-4-3 2-4 4zM411 1119l4 9-3-1-3-9zM409 1118l3 9-2-1-4-9zM406 1117l4 9-3-2-4-8zM403 1116l4 8-3-2-3-8zM401 1114l3 8-3-2-3-9z"/><path class="p13" d="M481 1123l3-4-3 3-3 3zM485 1119l3-4-2 2-4 4zM486 1117l3-4-2 2-4 4zM414 1119l4 9-3 0-4-9z"/><path class="p14" d="M484 1119l4-3-3 3-4 3zM488 1115l4-4-3 2-3 4z"/><path class="p15" d="M488 1116l3-4-3 3-3 4z"/><path class="p16" d="M487 1116l3-3-2 3-4 3zM491 1112l4-3-3 2-4 4zM492 1111l3-3-2 2-4 3z"/><path class="p17" d="M490 1113l4-3-3 2-3 4zM495 1109l3-4-3 3-3 3zM495 1108l4-4-3 2-3 4z"/><path class="p18" d="M494 1110l3-4-2 3-4 3zM498 1105l4-3-3 2-4 4z"/><path class="p19" d="M493 1110l3-4-2 4-4 3zM497 1106l4-3-3 2-3 4zM502 1102l3-3-3 2-3 3z"/><path class="p20" d="M496 1106l4-3-3 3-3 4zM501 1103l3-4-2 3-4 3z"/><path class="p21" d="M500 1103l3-3-2 3-4 3zM504 1099l4-3 3-2-2 2-4 3-3 3z"/><path class="p22" d="M499 1103l4-3-3 3-4 3zM503 1100l4-4 4-2-3 2-4 3-3 4z"/><path class="p23" d="M503 1100l3-4 4-3-3 3-4 4-3 3zM511 1094l3-3-3 3-3 2z"/><path class="p24" d="M510 1093l3-3-2 4-4 2zM514 1091l4-2-3 2-4 3z"/><path class="p25" d="M509 1093l3-3-2 3-4 3zM513 1090l4-2-3 3-3 3z"/><path class="p26" d="M619 1084l3 2-3 0-3-2zM512 1090l4-3-3 3-3 3zM517 1088l3-2 4-2 3-2-2 3-4 2-3 2-4 2z"/><path class="p27" d="M516 1087l3-2-2 3-4 2z"/><path class="p28" d="M615 1081l4 3-3 0-4-3zM515 1087l4-3-3 3-4 3zM519 1085l4-2 3-2 4-2 3-1-2 3-4 1-3 2-4 2-3 2z"/><path class="p29" d="M611 1078l4 3-3 0-3-3zM609 1078l3 3-2 1-4-3zM603 1076l3 3-3 1-3-3zM519 1084l3-2 4-3-3 4-4 2-3 2z"/><path class="p30" d="M605 1075l4 3-3 1-3-3zM596 1074l4 3-3 1-3-3zM526 1079l3-1 4-2 3-1 4 0-3 3-4 0-3 1-4 2-3 2z"/><path class="p31" d="M608 1074l3 4-2 0-4-3zM599 1072l4 4-3 1-4-3zM521 1081l4-3 3-2-2 3-4 3-3 2zM546 1072l3 0-2 3-4 0z"/><path class="p32" d="M602 1072l3 3-2 1-4-4zM593 1070l3 4-2 1-4-3zM587 1069l3 3-3 2-3-3zM568 1068l4 2-3 3-4-2zM552 1069l4 1-3 3-4-1zM528 1076l4-2 3-1 4-1 3 0 4 0-3 3-3 0-4 0-3 1-4 2-3 1z"/><path class="p33" d="M604 1071l4 3-3 1-3-3zM596 1069l3 3-3 2-3-4zM580 1068l4 3-3 2-3-3zM574 1068l4 2-3 3-3-3zM558 1067l4 2-3 3-3-2zM545 1069l4 0 3 0-3 3-3 0-4 0z"/><path class="p34" d="M598 1068l4 4-3 0-3-3zM589 1067l4 3-3 2-3-3zM583 1066l4 3-3 2-4-3zM577 1066l3 2-2 2-4-2zM571 1066l3 2-2 2-4-2zM565 1066l3 2-3 3-3-2zM555 1066l3 1-2 3-4-1zM531 1073l4-2 3-1 4-1 3 0-3 3-3 0-4 1-3 1-4 2z"/><path class="p35" d="M601 1068l3 3-2 1-4-4zM592 1066l4 3-3 1-4-3zM586 1064l3 3-2 2-4-3zM567 1064l4 2-3 2-3-2zM561 1065l4 1-3 3-4-2zM548 1066l3 0 4 0-3 3-3 0-4 0z"/><path class="p36" d="M595 1065l3 3-2 1-4-3zM580 1064l3 2-3 2-3-2zM573 1063l4 3-3 2-3-2zM564 1062l3 2-2 2-4-1zM557 1064l4 1-3 2-3-1zM537 1068l4-1 3-1 4 0-3 3-3 0-4 1-3 1z"/><path class="p37" d="M597 1064l4 4-3 0-3-3zM589 1063l3 3-3 1-3-3zM582 1062l4 2-3 2-3-2zM576 1061l4 3-3 2-4-3zM570 1061l3 2-2 3-4-2zM560 1061l4 1-3 3-4-1zM550 1063l4 0 3 1-2 2-4 0-3 0z"/><path class="p38" d="M591 1062l4 3-3 1-3-3zM585 1060l4 3-3 1-4-2zM573 1059l3 2-3 2-3-2zM566 1060l4 1-3 3-3-2zM557 1060l3 1-3 3-3-1zM543 1064l4-1 3 0-2 3-4 0-3 1z"/><path class="p39" d="M594 1061l3 3-2 1-4-3zM588 1059l3 3-2 1-4-3zM579 1059l3 3-2 2-4-3zM563 1059l3 1-2 2-4-1zM553 1060l4 0-3 3-4 0z"/><path class="p40" d="M582 1058l3 2-3 2-3-3zM575 1057l4 2-3 2-3-2zM569 1058l4 1-3 2-4-1zM559 1058l4 1-3 2-3-1z"/><path class="p41" d="M572 1056l3 1-2 2-4-1zM566 1056l3 2-3 2-3-1z"/><path class="p5" d="M451 1141l4 0 3-1-2 2-4 1-3 0zM445 1142l4 1-3 1-4-1zM439 1141l3 2-2 2-4-3zM433 1139l3 3-2 1-4-3z"/><path class="p6" d="M448 1140l3 1-2 2-4-1zM442 1139l3 3-3 1-3-2zM435 1137l4 4-3 1-3-3z"/><path class="p7" d="M454 1138l4 0 3 0 4-2-3 2-4 2-3 1-4 0zM444 1137l4 3-3 2-3-3z"/><path class="p8" d="M460 1136l4-1 3-1-2 2-4 2-3 0zM451 1137l3 1-3 3-3-1zM438 1135l4 4-3 2-4-4zM429 1133l4 6-3 1-3-6z"/><path class="p9" d="M453 1134l4 2 3 0-2 2-4 0-3-1zM467 1134l4-3-3 3-3 2zM447 1135l4 2-3 3-4-3zM441 1133l3 4-2 2-4-4zM432 1132l3 5-2 2-4-6z"/><path class="p10" d="M459 1133l4 0 3-1 4-1-3 3-3 1-4 1-3 0zM435 1130l3 5-3 2-3-5zM423 1127l4 7-3 1-4-7z"/><path class="p11" d="M456 1131l3 2-2 3-4-2zM470 1131l4-3 3-2-3 3-3 2-4 3zM450 1132l3 2-2 3-4-2zM444 1131l3 4-3 2-3-4zM426 1126l3 7-2 1-4-7z"/><path class="p12" d="M462 1129l4 1 3-1 4-2 3-2-2 3-4 3-4 1-3 1-4 0zM437 1128l4 5-3 2-3-5zM428 1125l4 7-3 1-3-7z"/><path class="p13" d="M459 1128l3 1-3 4-3-2zM476 1125l4-2-3 3-3 2zM452 1129l4 2-3 3-3-2zM446 1128l4 4-3 3-3-4zM440 1125l4 6-3 2-4-5zM431 1123l4 7-3 2-4-7zM417 1119l3 9-2 0-4-9z"/><path class="p14" d="M465 1126l3 0 4-1 3-1 4-2-3 3-3 2-4 2-3 1-4-1zM480 1123l3-3-2 3-4 3zM449 1125l3 4-2 3-4-4zM420 1118l3 9-3 1-3-9z"/><path class="p15" d="M461 1124l4 2-3 3-3-1zM479 1122l3-3-2 4-4 2zM455 1125l4 3-3 3-4-2zM483 1120l4-4-3 3-3 4zM443 1122l3 6-2 3-4-6zM434 1120l3 8-2 2-4-7zM422 1117l4 9-3 1-3-9z"/><path class="p16" d="M471 1122l4 0 3-2 4-1-3 3-4 2-3 1-4 1zM482 1119l4-2-3 3-3 3zM452 1121l3 4-3 4-3-4zM425 1115l3 10-2 1-4-9z"/><path class="p17" d="M468 1122l3 0-3 4-3 0zM482 1119l3-3-3 3-3 3zM458 1121l3 3-2 4-4-3zM486 1117l3-4-2 3-4 4zM445 1119l4 6-3 3-3-6zM437 1118l3 7-3 3-3-8zM428 1113l3 10-3 2-3-10z"/><path class="p18" d="M474 1118l3 0 4-1-3 3-3 2-4 0zM485 1116l4-3-3 4-4 2zM489 1113l4-3-3 3-3 3zM439 1115l4 7-3 3-3-7z"/><path class="p19" d="M481 1117l3-2 4-3-3 4-3 3-4 1zM489 1113l3-3 4-3-3 3-4 3-3 4zM430 1111l4 9-3 3-3-10z"/><path class="p20" d="M488 1112l3-2-2 3-4 3z"/><path class="p21" d="M480 1114l3-1 4-2 4-2-3 3-4 3-3 2-4 1zM491 1110l4-4-3 4-3 3zM496 1107l3-4-3 3-3 4zM433 1108l4 10-3 2-4-9z"/><path class="p22" d="M491 1109l3-3-3 4-3 2zM495 1106l3-3-2 4-4 3z"/><path class="p23" d="M490 1107l3-2-2 4-4 2zM494 1106l4-3-3 3-4 4zM498 1103l4-3-3 3-3 4z"/><path class="p24" d="M493 1105l4-3-3 4-3 3zM498 1103l3-3-3 3-3 3zM502 1100l3-4-2 4-4 3z"/><path class="p25" d="M497 1102l3-3-2 4-4 3zM501 1100l4-4-3 4-4 3zM505 1096l4-3-3 3-3 4z"/><path class="p26" d="M496 1101l3-3-2 4-4 3zM500 1099l4-3-3 4-3 3zM505 1096l3-3-3 3-3 4z"/><path class="p27" d="M499 1098l4-3-3 4-3 3zM504 1096l3-3-2 3-4 4zM508 1093l4-3 3-3-3 3-3 3-4 3z"/><path class="p28" d="M503 1095l3-3-2 4-4 3zM507 1093l4-4-3 4-3 3z"/><path class="p29" d="M502 1095l4-3-3 3-4 3zM506 1092l4-3-3 4-3 3zM511 1089l3-3 4-3-3 4-3 3-4 3z"/><path class="p30" d="M506 1092l3-3-3 3-3 3zM510 1089l3-3-2 3-4 4zM518 1083l3-2-2 3-4 3z"/><path class="p31" d="M509 1089l4-3-3 3-4 3zM513 1086l4-3-3 3-3 3z"/><path class="p32" d="M513 1086l3-4-3 4-3 3zM517 1083l3-3 4-3-3 4-3 2-4 3z"/><path class="p33" d="M512 1085l3-3-2 4-4 3zM516 1082l4-3-3 4-4 3zM524 1077l4-2 3-2-3 3-3 2-4 3z"/><path class="p34" d="M515 1082l4-3-3 3-3 4zM520 1079l3-2 4-3-3 3-4 3-3 3z"/><path class="p35" d="M519 1079l3-3-2 3-4 3zM527 1074l3-2 4-2-3 3-3 2-4 2z"/><path class="p36" d="M518 1079l4-3-3 3-4 3zM522 1076l4-3 3-2-2 3-4 3-3 2zM534 1070l3-2-2 3-4 2z"/><path class="p37" d="M522 1076l3-3-3 3-3 3zM529 1071l4-3 3-1-2 3-4 2-3 2z"/><path class="p38" d="M525 1073l4-3 3-2-3 3-3 2-4 3zM536 1067l4-2 3-1-2 3-4 1-3 2z"/><path class="p39" d="M524 1073l4-3-3 3-3 3zM532 1068l4-3 3-1-3 3-3 1-4 3zM550 1060l3 0-3 3-3 0z"/><path class="p40" d="M590 1058l4 3-3 1-3-3zM528 1070l3-3 4-2-3 3-3 2-4 3zM539 1064l4-2 3-1 4-1-3 3-4 1-3 1-4 2z"/><path class="p41" d="M584 1057l4 2-3 1-3-2zM578 1056l4 2-3 1-4-2zM530 1067l4-3-3 3-3 3zM535 1065l3-2 4-2 3-2-2 3-4 2-3 1-4 3zM549 1058l3 0 4 0 3 0-2 2-4 0-3 0-4 1z"/><path class="p42" d="M587 1056l3 2-2 1-4-2zM581 1054l3 3-2 1-4-2zM574 1054l4 2-3 1-3-1zM568 1054l4 2-3 2-3-2zM534 1064l3-2-2 3-4 2zM559 1055l3 1 4 0-3 3-4-1-3 0zM545 1059l4-1-3 3-3 1z"/><path class="p43" d="M583 1054l4 2-3 1-3-3zM565 1053l3 1-2 2-4 0zM537 1062l4-2 3-2 4-1 4-1 3-1 4 0-3 3-4 0-3 0-4 1-3 2-4 2-3 2z"/><path class="p44" d="M577 1053l4 1-3 2-4-2zM571 1053l3 1-2 2-4-2zM540 1060l4-2-3 2-4 2zM558 1053l3 0 4 0-3 3-3-1-4 0z"/><path class="p45" d="M580 1052l3 2-2 0-4-1zM574 1051l3 2-3 1-3-1zM564 1051l3 1 4 1-3 1-3-1-4 0zM544 1058l3-2 4-2 3 0 4-1-3 2-3 1-4 1-4 1-3 2z"/><path class="p46" d="M576 1050l4 2-3 1-3-2zM570 1050l4 1-3 2-4-1zM546 1055l4-1 3-1 4-1 3-1 4 0-3 2-3 0-4 1-3 0-4 2-3 2z"/><path class="p47" d="M573 1049l3 1-2 1-4-1zM560 1050l3 0 4 0 3 0-3 2-3-1-4 0-3 1z"/><path class="p48" d="M566 1049l3 0 4 0-3 1-3 0-4 0zM553 1052l3-1 4-1-3 2-4 1-3 1z"/><path class="p49" d="M562 1049l4 0-3 1-3 0z"/><path class="p17" d="M464 1120l4 2-3 4-4-2z"/><path class="p19" d="M470 1118l4 0-3 4-3 0zM461 1118l3 2-3 4-3-3zM454 1117l4 4-3 4-3-4zM448 1115l4 6-3 4-4-6z"/><path class="p20" d="M467 1116l3 2-2 4-4-2zM442 1111l3 8-2 3-4-7z"/><path class="p21" d="M473 1114l3 1 4-1-3 4-3 0-4 0zM463 1114l4 2-3 4-3-2zM457 1113l4 5-3 3-4-4zM451 1111l3 6-2 4-4-6z"/><path class="p22" d="M469 1112l4 2-3 4-3-2zM445 1108l3 7-3 4-3-8zM436 1105l3 10-2 3-4-10z"/><path class="p23" d="M476 1110l3 1 4-1 3-1 4-2-3 4-4 2-3 1-4 1-3-1zM466 1109l3 3-2 4-4-2zM460 1109l3 5-2 4-4-5zM453 1107l4 6-3 4-3-6z"/><path class="p24" d="M472 1108l4 2-3 4-4-2zM447 1104l4 7-3 4-3-7zM438 1102l4 9-3 4-3-10z"/><path class="p25" d="M482 1106l3 0 4-1 3-2-2 4-4 2-3 1-4 1zM462 1105l4 4-3 5-3-5z"/><path class="p26" d="M478 1106l4 0-3 5-3-1zM492 1103l4-2-3 4-3 2zM469 1105l3 3-3 4-3-3zM456 1103l4 6-3 4-4-6zM441 1098l4 10-3 3-4-9z"/><path class="p27" d="M488 1102l4-1-3 4-4 1zM475 1104l3 2-2 4-4-2zM450 1100l3 7-2 4-4-7z"/><path class="p28" d="M481 1102l4 0 3 0-3 4-3 0-4 0zM492 1101l3-2 4-2-3 4-4 2-3 2zM471 1101l4 3-3 4-3-3zM465 1101l4 4-3 4-4-4zM459 1099l3 6-2 4-4-6z"/><path class="p29" d="M478 1100l3 2-3 4-3-2zM499 1097l3-2-3 3-3 3zM453 1096l3 7-3 4-3-7zM444 1094l3 10-2 4-4-10z"/><path class="p30" d="M484 1098l3 1 4-1 3-1 4-1 3-2-2 3-4 2-3 2-4 1-3 0-4 0zM468 1097l3 4-2 4-4-4zM462 1095l3 6-3 4-3-6z"/><path class="p31" d="M480 1096l4 2-3 4-3-2zM501 1094l4-3 3-3-2 4-4 3-3 2zM474 1097l4 3-3 4-4-3zM455 1091l4 8-3 4-3-7zM446 1090l4 10-3 4-3-10z"/><path class="p32" d="M490 1095l3 0 4-1 3-2 4-2-3 4-3 2-4 1-3 1-4 1zM508 1088l4-3-3 4-3 3z"/><path class="p33" d="M486 1094l4 1-3 4-3-1zM504 1090l3-2-2 3-4 3zM477 1093l3 3-2 4-4-3zM470 1092l4 5-3 4-3-4zM464 1090l4 7-3 4-3-6zM449 1086l4 10-3 4-4-10z"/><path class="p34" d="M493 1091l3 0 4-1 3-1 4-2-3 3-4 2-3 2-4 1-3 0zM483 1092l3 2-2 4-4-2zM507 1088l4-3 4-3-3 3-4 3-3 3zM458 1087l4 8-3 4-4-8z"/><path class="p35" d="M489 1090l4 1-3 4-4-1zM507 1087l3-3-3 4-3 2zM479 1089l4 3-3 4-3-3zM515 1082l3-3-3 3-3 3zM473 1088l4 5-3 4-4-5zM467 1086l3 6-2 5-4-7z"/><path class="p36" d="M495 1088l4 0 3-1 4-2 3-2-2 4-4 2-3 1-4 1-3 0zM486 1088l3 2-3 4-3-2zM510 1084l4-3 3-2-2 3-4 3-4 3zM461 1083l3 7-2 5-4-8zM452 1081l3 10-2 5-4-10z"/><path class="p37" d="M492 1087l3 1-2 3-4-1zM509 1083l4-2-3 3-3 3zM482 1085l4 3-3 4-4-3zM517 1079l4-3-3 3-3 3zM476 1084l3 5-2 4-4-5z"/><path class="p38" d="M498 1085l4 0 3-1 4-1 3-2-3 2-3 2-4 2-3 1-4 0zM488 1085l4 2-3 3-3-2zM513 1081l3-3 4-2-3 3-3 2-4 3zM521 1076l3-3-2 3-4 3zM470 1082l3 6-3 4-3-6zM455 1077l3 10-3 4-3-10z"/><path class="p39" d="M495 1084l3 1-3 3-3-1zM512 1081l4-3 3-2-3 2-3 3-4 2zM520 1076l3-3-2 3-4 3zM463 1078l4 8-3 4-3-7z"/><path class="p40" d="M501 1082l3 0 4-1 3-1 4-2 3-2-2 2-4 3-3 2-4 1-3 1-4 0zM491 1082l4 2-3 3-4-2zM519 1076l4-3-3 3-4 2zM485 1082l3 3-2 3-4-3zM523 1073l4-3-3 3-3 3zM479 1080l3 5-3 4-3-5zM472 1078l4 6-3 4-3-6z"/><path class="p41" d="M507 1080l3-1 4-1-3 2-3 1-4 1zM497 1081l4 1-3 3-3-1zM518 1076l4-3-3 3-3 2zM523 1073l3-3-3 3-3 3zM527 1070l3-3-2 3-4 3zM466 1074l4 8-3 4-4-8zM457 1073l4 10-3 4-3-10z"/><path class="p42" d="M500 1078l3 1 4 1-3 2-3 0-4-1zM514 1078l3-2 4-2-3 2-3 2-4 2zM494 1079l3 2-2 3-4-2zM522 1073l3-3-2 3-4 3zM487 1078l4 4-3 3-3-3zM526 1070l4-3 3-3-3 3-3 3-4 3zM481 1077l4 5-3 3-3-5zM475 1074l4 6-3 4-4-6z"/><path class="p43" d="M506 1077l4 1 3-1 4-1 3-2-3 2-3 2-4 1-3 1-4-1zM521 1074l3-3 4-3-3 2-3 3-4 3zM490 1075l4 4-3 3-4-4zM525 1070l4-2 3-3-2 2-4 3-3 3zM533 1064l4-2-3 2-4 3zM460 1068l3 10-2 5-4-10z"/><path class="p44" d="M503 1076l3 1-3 2-3-1zM520 1074l4-2 3-3-3 2-3 3-4 2zM496 1076l4 2-3 3-3-2zM528 1068l4-2-3 2-4 2zM532 1065l4-3-3 2-3 3zM484 1073l3 5-2 4-4-5zM537 1062l3-2-3 2-3 2zM469 1070l3 8-2 4-4-8z"/><path class="p45" d="M499 1074l4 2-3 2-4-2zM527 1069l4-2 3-3-2 2-4 2-4 3zM493 1073l3 3-2 3-4-4zM532 1066l3-3 4-3-3 2-4 3-3 3zM536 1062l3-2 4-3-3 3-3 2-4 2zM478 1070l3 7-2 3-4-6z"/><path class="p46" d="M534 1064l4-3-3 2-3 3zM539 1060l3-2-3 2-3 2zM487 1070l3 5-3 3-3-5zM543 1057l3-2-2 3-4 2zM472 1066l3 8-3 4-3-8zM463 1064l3 10-3 4-3-10z"/><path class="p47" d="M496 1070l3 4-3 2-3-3zM538 1061l3-2 4-3-3 2-3 2-4 3zM489 1068l4 5-3 2-3-5zM542 1058l4-2 3-2 4-2-3 2-4 1-3 2-4 3zM480 1067l4 6-3 4-3-7z"/><path class="p48" d="M545 1056l3-2 4-2-3 2-3 2-4 2zM474 1062l4 8-3 4-3-8zM465 1060l4 10-3 4-3-10z"/><path class="p49" d="M492 1065l4 5-3 3-4-5zM552 1052l3-1 4-1 3-1-2 1-4 1-3 1-4 2zM483 1064l4 6-3 3-4-6z"/><path class="p50" d="M486 1061l3 7-2 2-4-6zM477 1059l3 8-2 3-4-8zM468 1056l4 10-3 4-4-10z"/><path class="p52" d="M489 1059l3 6-3 3-3-7zM480 1056l3 8-3 3-3-8zM471 1052l3 10-2 4-4-10z"/><path class="p54" d="M482 1053l4 8-3 3-3-8z"/><path class="p55" d="M473 1048l4 11-3 3-3-10z"/><path class="p56" d="M485 1050l4 9-3 2-4-8z"/><path class="p57" d="M476 1045l4 11-3 3-4-11z"/><path class="p59" d="M479 1042l3 11-2 3-4-11z"/><path class="p60" d="M482 1040l3 10-3 3-3-11z"/></g>
<path d="M240.8 594.6L328.6 568.4" stroke="#4d4d4d" stroke-width="0.6" fill="none"/>
<path d="M240.8 594.6L173.4 560.4" stroke="#4d4d4d" stroke-width="0.6" fill="none"/>
<path d="M173.4 560.4L173.4 485.8" stroke="#4d4d4d" stroke-width="0.6" fill="none"/>
<text transform="translate(245.6 603.7) scale(1.3 1)" font-size="6.3" text-anchor="start" fill="#262626" stroke="#262626" stroke-width="0.25">-1</text>
<text transform="translate(235 603.5) scale(1.3 1)" font-size="6.3" text-anchor="end" fill="#262626" stroke="#262626" stroke-width="0.25">-1</text>
<text transform="translate(289.5 590.6) scale(1.3 1)" font-size="6.3" text-anchor="start" fill="#262626" stroke="#262626" stroke-width="0.25">0</text>
<text transform="translate(201.3 586.4) scale(1.3 1)" font-size="6.3" text-anchor="end" fill="#262626" stroke="#262626" stroke-width="0.25">0</text>
<text transform="translate(333.4 577.5) scale(1.3 1)" font-size="6.3" text-anchor="start" fill="#262626" stroke="#262626" stroke-width="0.25">1</text>
<text transform="translate(167.6 569.3) scale(1.3 1)" font-size="6.3" text-anchor="end" fill="#262626" stroke="#262626" stroke-width="0.25">1</text>
<text transform="translate(167.9 561.3) scale(1.3 1)" font-size="6.3" text-anchor="end" fill="#262626" stroke="#262626" stroke-width="0.25">-1</text>
<path d="M173.4 559.9L171.6 559.9" stroke="#4d4d4d" stroke-width="0.6" fill="none"/>
<text transform="translate(167.9 543.8) scale(1.3 1)" font-size="6.3" text-anchor="end" fill="#262626" stroke="#262626" stroke-width="0.25">0</text>
<path d="M173.4 542.4L171.6 542.4" stroke="#4d4d4d" stroke-width="0.6" fill="none"/>
<text transform="translate(167.9 526.3) scale(1.3 1)" font-size="6.3" text-anchor="end" fill="#262626" stroke="#262626" stroke-width="0.25">1</text>
<path d="M173.4 524.9L171.6 524.9" stroke="#4d4d4d" stroke-width="0.6" fill="none"/>
<text transform="translate(167.9 508.8) scale(1.3 1)" font-size="6.3" text-anchor="end" fill="#262626" stroke="#262626" stroke-width="0.25">2</text>
<path d="M173.4 507.4L171.6 507.4" stroke="#4d4d4d" stroke-width="0.6" fill="none"/>
<text transform="translate(167.9 491.3) scale(1.3 1)" font-size="6.3" text-anchor="end" fill="#262626" stroke="#262626" stroke-width="0.25">3</text>
<path d="M173.4 489.9L171.6 489.9" stroke="#4d4d4d" stroke-width="0.6" fill="none"/>
<text transform="translate(284.8 609) scale(1.3 1)" font-size="7.2" text-anchor="start" fill="#262626" stroke="#262626" stroke-width="0.18">x<tspan font-size="5.2" dy="2.4">1</tspan></text>
<text transform="translate(193.4 607.4) scale(1.3 1)" font-size="7.2" text-anchor="start" fill="#262626" stroke="#262626" stroke-width="0.18">x<tspan font-size="5.2" dy="2.4">2</tspan></text>
<text transform="translate(251.3 457.4) scale(1.29 1)" font-size="7.6" text-anchor="middle" fill="#1a1a1a" stroke="#1a1a1a" stroke-width="0.18">Objective space</text>
<text transform="translate(150.3 523.5) rotate(-90) scale(1 1.3)" font-size="8.5" text-anchor="middle" fill="#262626" stroke="#262626" stroke-width="0.12">F16( x<tspan font-size="5.9" dy="4.2">1</tspan><tspan dy="-4.2"> , x</tspan><tspan font-size="5.9" dy="4.2">2</tspan><tspan dy="-4.2"> )</tspan></text></g>
<g><path d="M398.7 468.5V581M407.5 468.5V581M413.8 468.5V581M418.6 468.5V581M422.6 468.5V581M426 468.5V581M428.9 468.5V581M431.4 468.5V581M448.8 468.5V581M457.7 468.5V581M463.9 468.5V581M468.8 468.5V581M472.7 468.5V581M476.1 468.5V581M479 468.5V581M481.6 468.5V581M499 468.5V581M507.8 468.5V581M514 468.5V581M518.9 468.5V581M522.9 468.5V581M526.2 468.5V581M529.1 468.5V581M531.7 468.5V581" stroke="#ebebeb" stroke-width="0.5" fill="none"/>
<path d="M433.7 468.5V581M483.9 468.5V581M383.6 576.2H534M383.6 559.2H534M383.6 542.3H534M383.6 525.7H534M383.6 509.3H534M383.6 492.5H534M383.6 475.8H534" stroke="#dedede" stroke-width="0.5" fill="none"/>
<g fill="none" stroke-linejoin="round" stroke-linecap="butt">
<path d="M383.6 475.8 398.9 494.7 414.9 500.5 418.5 502 429.5 512.9 438.2 515.1 444 524.5 449.8 529.6 455.6 547.8 459.5 555.1 463.8 557.3 468.9 558 472.5 569.6 479.8 573.3 484.9 575.5 487.1 576.9 501.6 579.1 513.3 580.5 534 580.8" stroke="#ff0000" stroke-width="2.3"/>
<path d="M383.6 491.8 391.6 520.2 398.9 550.7 406.9 575.5 414.9 579.5 460 580.5 534 580.5" stroke="#000000" stroke-width="1.9"/>
<path d="M383.6 516.5 398.9 576.9 409.1 579.1 423 580.5 534 580.5" stroke="#22ee22" stroke-width="1.15"/>
<path d="M383.6 470 391.6 508.5 398.9 537.6 407.6 568.9 417.8 574.7 428 576.9 460 579.1 534 580.5" stroke="#ff22ff" stroke-width="1.15"/>
<path d="M383.6 558.7 396 567.5 406.9 574 417.8 578.4 440 580.5 534 580.5" stroke="#22eeff" stroke-width="1.15"/>
<path d="M383.6 531.8 391.6 546.4 398.9 559.5 407.6 570.4 417.8 575.5 438.2 577.6 460 579.1 500 579.5 534 580.3" stroke="#2222ff" stroke-width="1.15"/>
<path d="M383.6 485.7 458 485.7 463.8 486.4 466.7 489.6 470 493 490 510 501.6 530.4 504.5 543.5 508.9 552.9 511.8 566.7 523.5 567 524.2 580.5 534 580.5" stroke="#a83232" stroke-width="1.15"/>
</g>
<rect x="383.6" y="468.5" width="150.4" height="112.5" fill="none" stroke="#404040" stroke-width="0.6"/>
<path d="M383.6 581V579.4M383.6 468.5V470.1M433.7 581V579.4M433.7 468.5V470.1M483.9 581V579.4M483.9 468.5V470.1M534 581V579.4M534 468.5V470.1M383.6 576.2H385.2M534 576.2H532.4M383.6 559.2H385.2M534 559.2H532.4M383.6 542.3H385.2M534 542.3H532.4M383.6 525.7H385.2M534 525.7H532.4M383.6 509.3H385.2M534 509.3H532.4M383.6 492.5H385.2M534 492.5H532.4M383.6 475.8H385.2M534 475.8H532.4" stroke="#404040" stroke-width="0.5" fill="none"/>
<text transform="translate(381.1 578.4) scale(1.28 1)" font-size="6.8" text-anchor="end" fill="#262626" stroke="#262626" stroke-width="0.25">-1</text>
<text transform="translate(381.1 561.4) scale(1.28 1)" font-size="6.8" text-anchor="end" fill="#262626" stroke="#262626" stroke-width="0.25">-0.9</text>
<text transform="translate(381.1 544.5) scale(1.28 1)" font-size="6.8" text-anchor="end" fill="#262626" stroke="#262626" stroke-width="0.25">-0.8</text>
<text transform="translate(381.1 527.9) scale(1.28 1)" font-size="6.8" text-anchor="end" fill="#262626" stroke="#262626" stroke-width="0.25">-0.7</text>
<text transform="translate(381.1 511.5) scale(1.28 1)" font-size="6.8" text-anchor="end" fill="#262626" stroke="#262626" stroke-width="0.25">-0.6</text>
<text transform="translate(381.1 494.7) scale(1.28 1)" font-size="6.8" text-anchor="end" fill="#262626" stroke="#262626" stroke-width="0.25">-0.5</text>
<text transform="translate(381.1 478) scale(1.28 1)" font-size="6.8" text-anchor="end" fill="#262626" stroke="#262626" stroke-width="0.25">-0.4</text>
<text transform="translate(383.8 591.6) scale(1.28 1)" font-size="6.8" text-anchor="middle" fill="#262626" stroke="#262626" stroke-width="0.15">10<tspan font-size="5.4" dy="-3">0</tspan></text>
<text transform="translate(433.9 591.6) scale(1.28 1)" font-size="6.8" text-anchor="middle" fill="#262626" stroke="#262626" stroke-width="0.15">10<tspan font-size="5.4" dy="-3">1</tspan></text>
<text transform="translate(484.1 591.6) scale(1.28 1)" font-size="6.8" text-anchor="middle" fill="#262626" stroke="#262626" stroke-width="0.15">10<tspan font-size="5.4" dy="-3">2</tspan></text>
<text transform="translate(534.2 591.6) scale(1.28 1)" font-size="6.8" text-anchor="middle" fill="#262626" stroke="#262626" stroke-width="0.15">10<tspan font-size="5.4" dy="-3">3</tspan></text>
<text transform="translate(458.4 601.1) scale(1.382 1)" font-size="7" text-anchor="middle" fill="#383838" stroke="#383838" stroke-width="0.12">Iterations</text>
<text transform="translate(361.3 524.5) rotate(-90) scale(1 1.3)" font-size="7" text-anchor="middle" fill="#383838" stroke="#383838" stroke-width="0.12">Best score</text>
<text transform="translate(458.4 465.4) scale(1.332 1)" font-size="7.1" text-anchor="middle" fill="#1a1a1a" stroke="#1a1a1a" stroke-width="0.2">Objective space</text>
<rect x="468.2" y="473.6" width="59.3" height="56.8" fill="#fff" stroke="#404040" stroke-width="0.6"/>
<path d="M471.1 478.7H498.7" stroke="#ff0000" stroke-width="2.3"/>
<text transform="translate(500.9 480.8) scale(1.28 1)" font-size="5.9" text-anchor="start" fill="#262626" stroke="#262626" stroke-width="0.25">SOA</text>
<path d="M471.1 486.6H498.7" stroke="#000000" stroke-width="1.9"/>
<text transform="translate(500.9 488.7) scale(1.28 1)" font-size="5.9" text-anchor="start" fill="#262626" stroke="#262626" stroke-width="0.25">GWO</text>
<path d="M471.1 494.5H498.7" stroke="#22ee22" stroke-width="1.15"/>
<text transform="translate(500.9 496.6) scale(1.28 1)" font-size="5.9" text-anchor="start" fill="#262626" stroke="#262626" stroke-width="0.25">FWOA</text>
<path d="M471.1 502.4H498.7" stroke="#ff22ff" stroke-width="1.15"/>
<text transform="translate(500.9 504.5) scale(1.28 1)" font-size="5.9" text-anchor="start" fill="#262626" stroke="#262626" stroke-width="0.25">WOA</text>
<path d="M471.1 510.3H498.7" stroke="#22eeff" stroke-width="1.15"/>
<text transform="translate(500.9 512.4) scale(1.28 1)" font-size="5.9" text-anchor="start" fill="#262626" stroke="#262626" stroke-width="0.25">PSO</text>
<path d="M471.1 518.2H498.7" stroke="#2222ff" stroke-width="1.15"/>
<text transform="translate(500.9 520.3) scale(1.28 1)" font-size="5.9" text-anchor="start" fill="#262626" stroke="#262626" stroke-width="0.25">SSA</text>
<path d="M471.1 526.1H498.7" stroke="#c06060" stroke-width="1.6"/>
<text transform="translate(500.9 528.2) scale(1.28 1)" font-size="5.9" text-anchor="start" fill="#262626" stroke="#262626" stroke-width="0.25">STOA</text></g>
<g id="p17"><path d="M176.1 721.8L176.1 652.7" stroke="#e6e6e6" stroke-width="0.5" fill="none"/>
<path d="M220.5 709.7L220.5 640.6" stroke="#e6e6e6" stroke-width="0.5" fill="none"/>
<path d="M265 697.5L265 628.4" stroke="#e6e6e6" stroke-width="0.5" fill="none"/>
<path d="M176.1 708.2L265 683.9" stroke="#e6e6e6" stroke-width="0.5" fill="none"/>
<path d="M176.1 694.5L265 670.2" stroke="#e6e6e6" stroke-width="0.5" fill="none"/>
<path d="M176.1 680.8L265 656.5" stroke="#e6e6e6" stroke-width="0.5" fill="none"/>
<path d="M176.1 667.1L265 642.8" stroke="#e6e6e6" stroke-width="0.5" fill="none"/>
<path d="M176.1 653.4L265 629.1" stroke="#e6e6e6" stroke-width="0.5" fill="none"/>
<path d="M333.2 729.2L333.2 660.1" stroke="#e6e6e6" stroke-width="0.5" fill="none"/>
<path d="M299.1 713.4L299.1 644.2" stroke="#e6e6e6" stroke-width="0.5" fill="none"/>
<path d="M265 697.5L265 628.4" stroke="#e6e6e6" stroke-width="0.5" fill="none"/>
<path d="M333.2 715.6L265 683.9" stroke="#e6e6e6" stroke-width="0.5" fill="none"/>
<path d="M333.2 701.9L265 670.2" stroke="#e6e6e6" stroke-width="0.5" fill="none"/>
<path d="M333.2 688.2L265 656.5" stroke="#e6e6e6" stroke-width="0.5" fill="none"/>
<path d="M333.2 674.5L265 642.8" stroke="#e6e6e6" stroke-width="0.5" fill="none"/>
<path d="M333.2 660.8L265 629.1" stroke="#e6e6e6" stroke-width="0.5" fill="none"/>
<path d="M244.3 753.5L176.1 721.8" stroke="#e6e6e6" stroke-width="0.5" fill="none"/>
<path d="M288.7 741.4L220.5 709.7" stroke="#e6e6e6" stroke-width="0.5" fill="none"/>
<path d="M333.2 729.2L265 697.5" stroke="#e6e6e6" stroke-width="0.5" fill="none"/>
<path d="M244.3 753.5L333.2 729.2" stroke="#e6e6e6" stroke-width="0.5" fill="none"/>
<path d="M210.2 737.7L299.1 713.4" stroke="#e6e6e6" stroke-width="0.5" fill="none"/>
<path d="M176.1 721.8L265 697.5" stroke="#e6e6e6" stroke-width="0.5" fill="none"/>
<g transform="scale(.5)" fill="none" stroke-width="0.9" stroke-opacity="1.0"><path stroke="#7571ec" d="M640 1446l-10 1-10 0-3 1-7 0-10 1-11 0-6 0-5 0-9 0-14 0-12-1-11 0-6 0-5 1-11 0-10 0-9 1-11 1-9 0-10 1-9 1-11 0-9 1-11 0-6 1-5 0-11 0-12 0-12-2-3 0M358 1446l-3-3"/><path stroke="#738afd" d="M654 1453l-9 1-9 1-3 0-6 1-9 1-9 1-9 1-9 1-6 0-4 1-10 1-7 0-12 1-7 0-3 0-11 1-10 0-9 0-13 1-11 0-7 0-4 0-11 0-10 0-8 1-13 0-4 1-6 0-11 0-10 1"/><path stroke="#62a5f9" d="M664 1457l-8 2-9 1-9 1-9 1-9 1-9 1-9 1-9 1-9 1-9 1-7 1-12 1-9 1-9 1-10 1-4 0-6 1-10 0-3 0-7 1-10 0-11 1-7 0-3 0-11 0-11 0-7 1-14 0"/><path stroke="#55bfe7" d="M640 1466l-11 1-9 1-8 1-10 2-9 1-8 1-10 1-9 1-7 1-11 1-9 1-5 0-4 1-10 1-9 1-10 0-9 1-10 1-10 1-10 0-10 1-11 0"/><path stroke="#48cdcd" d="M609 1474l-8 1-9 1-9 1-9 1-9 2-9 1-9 1-9 1-9 1-9 1-9 1-7 1-12 1-9 1-10 0-9 1-4 1-6 0"/><path stroke="#6fd7aa" d="M582 1482l-10 1-9 1-9 1-9 1-9 1-9 1-9 1-9 1-7 1-11 1-9 1-4 1-5 0-10 1"/><path stroke="#b6d672" d="M557 1488l-5 1-9 1-9 1-5 1-4 0-9 1-9 2-4 0-5 1-9 1-9 1-9 1"/><path stroke="#edcc62" d="M533 1495l-11 1-9 1-7 1-11 2-9 1-7 0-2 1"/><path stroke="#fbe062" d="M511 1501l-10 1-9 1-8 1-1 0"/><path stroke="#fbfc4f" d="M491 1506l-3 1"/></g>
<g transform="scale(.5)" stroke-width="1.0"><path class="p0" d="M559 1417l8-2-6-2-7 2zM547 1417l7-2 7-2 7-2-5-3-7 3-8 2-7 2zM534 1418l7-3 7-2 8-2 7-3-6-2-7 2-7 3-7 2-7 2zM515 1419l7-2 7-2 7-2 7-2 7-3 7-2-5-3-7 2-7 3-8 2-7 2-7 3-7 2zM502 1419l7-2 7-2 7-3 7-2 8-2 7-3-6-3-7 2-7 3-7 2-7 2-7 3-7 2zM489 1418l8-2 7-2 7-3 7-2 7-2-5-4-8 3-7 2-7 2-7 2-7 2zM470 1418l7-2 7-2 7-2 7-2-5-3-7 2-7 2-8 2-7 2z"/><path class="p1" d="M572 1417l7-2-5-2-7 2zM567 1415l7-2-6-2-7 2zM545 1405l7-2-6-4-7 3zM525 1407l7-3 7-2 7-3-5-3-7 2-7 3-7 2zM498 1410l7-2 7-2 8-3 7-2 7-3-6-4-7 3-7 3-7 2-7 2-7 3zM457 1416l7-1 7-2 8-2 7-2 7-2 7-3 7-2-5-4-8 3-7 2-7 2-7 2-7 2-7 2-7 2zM507 1402l7-2-5-4-7 2z"/><path class="p2" d="M534 1398l7-2-6-4-7 2zM514 1400l7-3 7-3 7-2-5-4-7 3-7 2-7 3z"/><path class="p0" d="M524 1426l7-1 7-2 7-2 7-2 7-2-5-2-7 2-7 2-7 2-7 2-8 2zM511 1427l7-2 8-2 7-2 7-2 7-2-6-2-7 3-7 2-7 2-7 1-7 2zM499 1427l7-2 7-2 7-1 7-2 7-2-5-3-7 2-7 2-8 2-7 2-7 2zM479 1428l7-1 7-2 7-2 7-2 8-2-6-2-7 2-7 2-7 1-7 2-7 2zM466 1427l8-1 7-2 7-2 7-1 7-2-5-3-8 2-7 2-7 1-7 2-7 2zM454 1426l7-1 7-2 7-2 7-1 7-2-5-4-7 2-7 2-7 2-7 2-8 1zM463 1420l7-2-6-3-7 1z"/><path class="p1" d="M556 1424l7-2 7-2 7-2 8-2-6-1-7 2-7 2-7 2-7 1zM544 1424l7-2 7-1 7-2 7-2-5-2-8 2-7 2-7 2-7 2zM434 1426l7-1 7-2 8-1 7-2-6-4-7 2-7 2-7 1-7 2zM429 1423l7-2 7-1 7-2 7-2-5-3-7 2-7 1-8 2-7 1z"/><path class="p2" d="M588 1422l7-2-5-2-7 2zM569 1424l7-2 7-2 7-2-5-2-8 2-7 2-7 2zM422 1424l7-1-6-4-7 2z"/><path class="p0" d="M517 1428l7-2-6-1-7 2zM490 1431l7-1 7-2 7-1-5-2-7 2-7 2-8 1zM470 1433l7-2 7-1 8-1 7-2-6-2-7 2-7 1-7 2-7 1zM458 1432l7-1 7-1 7-2-5-2-8 1-7 2-7 1zM452 1430l7-1 7-2-5-2-7 1-7 2z"/><path class="p1" d="M542 1427l7-2 7-1-5-2-7 2-8 2zM515 1430l7-1 7-2 7-1 8-2-6-1-7 2-7 1-7 2-7 2zM503 1431l7-1 7-2-6-1-7 1-7 2zM483 1433l7-2-6-1-7 1zM438 1433l7-1 7-2-5-2-7 1-7 1zM425 1432l8-2 7-1 7-1 7-2-6-3-7 2-7 1-7 1-7 2zM427 1427l7-1-5-3-7 1z"/><path class="p2" d="M605 1428l7-1-6-2-7 1zM592 1427l7-1 7-1-5-3-7 2-7 1zM580 1427l7-2 7-1 7-2-6-2-7 2-7 2-7 1zM560 1428l7-1 7-2 7-1 7-2-5-2-7 2-7 2-7 1-8 2zM547 1428l7-1 8-2 7-1-6-2-7 2-7 1-7 2zM528 1430l7-2 7-1-6-1-7 1-7 2zM413 1430l7-1 7-2-5-3-7 1-8 2zM407 1427l8-2 7-1-6-3-7 1-7 1z"/><path class="p3" d="M585 1429l7-2-5-2-7 2zM572 1428l8-1-6-2-7 2zM393 1429l7-1 7-1-5-4-7 2-7 1z"/><path class="p1" d="M488 1434l7-2 8-1-6-1-7 1-7 2zM469 1435l7-1 7-1-6-2-7 2-7 1zM449 1436l7-1 7-1 7-1-5-2-7 1-7 2-8 1zM436 1436l7-1 8-1 7-2-6-2-7 2-7 1-7 1zM431 1434l7-1-5-3-8 2z"/><path class="p2" d="M540 1429l7-1-5-1-7 1zM513 1432l8-1 7-1-6-1-7 1-7 2zM494 1434l7-1 7-1 7-2-5 0-7 1-8 1-7 2zM474 1436l7-1 7-1-5-1-7 1-7 1zM462 1436l7-1-6-1-7 1zM417 1436l7-1 7-1-6-2-7 1-7 1zM411 1434l7-1 7-1-5-3-7 1-7 1zM406 1431l7-1-6-3-7 1z"/><path class="p3" d="M608 1433l8-1 7-1-6-2-7 1-7 1zM596 1432l7-1 7-1 7-1-5-2-7 1-7 2-8 1zM583 1432l7-1 8-1 7-2-6-2-7 1-7 2-7 1zM571 1431l7-1 7-1-5-2-8 1-7 1zM558 1431l7-2 7-1-5-1-7 1-7 1zM539 1432l7-1 7-2 7-1-6-1-7 1-7 1-7 2zM519 1433l7-1 7-1 7-2-5-1-7 2-7 1-8 1zM506 1433l7-1-5 0-7 1zM404 1435l7-1-5-3-7 1zM392 1433l7-1 7-1-6-3-7 1-7 1zM386 1430l7-1-5-3-7 1z"/><path class="p4" d="M564 1432l7-1-6-2-7 2zM551 1432l7-1-5-2-7 2zM372 1431l7 0 7-1-5-3-7 0-8 1z"/><path class="p2" d="M467 1437l7-1-5-1-7 1zM447 1438l7-1 8-1-6-1-7 1-7 1zM435 1438l7-1 7-1-6-1-7 1-7 1zM422 1438l7-1 7-1-5-2-7 1-7 1z"/><path class="p3" d="M621 1433l7-1-5-1-7 1zM492 1435l7 0 7-2-5 0-7 1-7 1zM472 1437l8-1 7-1 7-1-6 0-7 1-7 1-7 1zM460 1438l7-1-5-1-8 1zM440 1439l7-1-5-1-7 1zM428 1439l7-1-6-1-7 1zM415 1439l7-1-5-2-7 1zM402 1438l8-1 7-1-6-2-7 1-7 0zM397 1435l7 0-5-3-7 1z"/><path class="p4" d="M627 1434l7-1-6-1-7 1zM607 1434l7 0 7-1-5-1-8 1-7 1zM594 1434l7 0 7-1-5-2-7 1-7 1zM582 1434l7-1 7-1-6-1-7 1-7 1zM569 1434l7-1 7-1-5-2-7 1-7 1zM557 1433l7-1-6-1-7 1zM537 1434l7-1 7-1-5-1-7 1-8 1zM524 1434l7-1 8-1-6-1-7 1-7 1zM505 1435l7-1 7-1-6-1-7 1-7 2zM485 1436l7-1-5 0-7 1zM383 1437l7-1 7-1-5-2-8 1-7 0zM377 1434l7 0 8-1-6-3-7 1-7 0z"/><path class="p5" d="M632 1433l7 0-5 0-7 1zM619 1434l8 0-6-1-7 1zM587 1435l7-1-5-1-7 1zM575 1435l7-1-6-1-7 1zM562 1434l7 0-5-2-7 1zM549 1434l8-1-6-1-7 1zM530 1434l7 0-6-1-7 1zM517 1435l7-1-5-1-7 1zM370 1435l7-1-5-3-7 1zM365 1432l7-1-6-3-7 1z"/><path class="p6" d="M358 1433l7-1-6-3-7 1z"/><path class="p3" d="M453 1439l7-1-6-1-7 1zM433 1440l7-1-5-1-7 1zM421 1440l7-1-6-1-7 1zM408 1439l7 0-5-2-8 1z"/><path class="p4" d="M478 1437l7-1-5 0-8 1zM458 1439l7-1 7-1-5 0-7 1-7 1zM439 1440l7-1 7 0-6-1-7 1-7 1zM426 1440l7 0-5-1-7 1zM406 1441l7-1 8 0-6-1-7 0-7 1zM394 1441l7-1 7-1-6-1-7 0-7 1zM388 1439l7-1 7 0-5-3-7 1-7 1z"/><path class="p5" d="M612 1434l7 0-5 0-7 0zM600 1435l7-1-6 0-7 0zM580 1436l7-1-5-1-7 1zM567 1435l8 0-6-1-7 0zM555 1435l7-1-5-1-8 1zM542 1435l7-1-5-1-7 1zM523 1435l7-1-6 0-7 1zM510 1435l7 0-5-1-7 1zM490 1436l8 0 7-1-6 0-7 0-7 1zM471 1438l7-1-6 0-7 1zM451 1439l7 0-5 0-7 0zM381 1440l7-1-5-2-7 0zM369 1438l7-1 7 0-6-3-7 1-7 0zM363 1435l7 0-5-3-7 1z"/><path class="p6" d="M625 1433l7 0-5 1-8 0zM605 1435l7-1-5 0-7 1zM586 1436l7-1 7 0-6-1-7 1-7 1zM573 1436l7 0-5-1-8 0zM560 1436l7-1-5-1-7 1zM541 1436l7 0 7-1-6-1-7 1-7 0zM528 1436l7-1 7 0-5-1-7 0-7 1zM516 1436l7-1-6 0-7 0zM496 1437l7-1 7-1-5 0-7 1-8 0zM483 1437l7-1-5 0-7 1z"/><path class="p7" d="M637 1431l8 0-6 2-7 0zM618 1433l7 0-6 1-7 0zM598 1435l7 0-5 0-7 0zM553 1436l7 0-5-1-7 1z"/><path class="p8" d="M630 1431l7 0-5 2-7 0z"/><path class="p9" d="M643 1428l7 0-5 3-8 0z"/><path class="p5" d="M431 1440l8 0-6 0-7 0zM412 1441l7 0 7-1-5 0-8 0-7 1zM399 1441l7 0-5-1-7 1zM387 1441l7 0-6-2-7 1zM374 1440l7 0-5-3-7 1z"/><path class="p6" d="M476 1438l7-1-5 0-7 1zM457 1439l7-1 7 0-6 0-7 1-7 0zM437 1440l7 0 7-1-5 0-7 1-8 0zM417 1441l7 0 7-1-5 0-7 1-7 0zM405 1442l7-1-6 0-7 0zM392 1442l7-1-5 0-7 0zM380 1441l7 0-6-1-7 0z"/><path class="p7" d="M611 1434l7-1-6 1-7 1zM578 1436l8 0-6 0-7 0zM559 1437l7-1 7 0-6-1-7 1-7 0zM546 1437l7-1-5 0-7 0zM534 1437l7-1-6-1-7 1zM514 1437l7-1 7 0-5-1-7 1-8 0zM501 1437l7-1 8 0-6-1-7 1-7 1zM482 1438l7-1 7 0-6-1-7 1-7 1zM462 1439l7-1 7 0-5 0-7 0-7 1zM449 1439l8 0-6 0-7 1z"/><path class="p8" d="M604 1434l7 0-6 1-7 0zM584 1435l7 0 7 0-5 0-7 1-8 0zM571 1436l7 0-5 0-7 0zM552 1437l7 0-6-1-7 1zM539 1437l7 0-5-1-7 1zM519 1437l7 0 8 0-6-1-7 0-7 1zM507 1437l7 0-6-1-7 1zM494 1437l7 0-5 0-7 0zM475 1438l7 0-6 0-7 0z"/><path class="p9" d="M616 1431l7 0 7 0-5 2-7 0-7 1zM596 1433l8 1-6 1-7 0zM564 1436l7 0-5 0-7 1z"/><path class="p10" d="M636 1428l7 0-6 3-7 0zM609 1431l7 0-5 3-7 0z"/><path class="p11" d="M629 1428l7 0-6 3-7 0z"/><path class="p12" d="M648 1425l7 0-5 3-7 0z"/><path class="p13" d="M641 1424l7 1-5 3-7 0z"/><path class="p15" d="M654 1420l7 0-6 5-7 0z"/><path class="p6" d="M385 1442l7 0-5-1-7 0z"/><path class="p7" d="M430 1441l7-1-6 0-7 1zM410 1442l7-1-5 0-7 1zM390 1442l8 0 7 0-6-1-7 1-7 0z"/><path class="p8" d="M455 1439l7 0-5 0-8 0zM435 1440l7 0 7-1-5 1-7 0-7 1zM416 1441l7 0 7 0-6 0-7 0-7 1zM403 1442l7 0-5 0-7 0z"/><path class="p9" d="M577 1435l7 0-6 1-7 0zM557 1436l7 0-5 1-7 0zM545 1437l7 0-6 0-7 0zM525 1437l7 0 7 0-5 0-8 0-7 0zM512 1437l7 0-5 0-7 0zM500 1437l7 0-6 0-7 0zM480 1438l7 0 7-1-5 0-7 1-7 0zM467 1438l8 0-6 0-7 1zM448 1439l7 0-6 0-7 1zM428 1440l7 0-5 1-7 0z"/><path class="p10" d="M589 1433l7 0-5 2-7 0zM570 1435l7 0-6 1-7 0zM550 1436l7 0-5 1-7 0zM537 1437l8 0-6 0-7 0zM518 1437l7 0-6 0-7 0zM505 1437l7 0-5 0-7 0zM485 1438l8 0 7-1-6 0-7 1-7 0zM473 1438l7 0-5 0-8 0zM460 1438l7 0-5 1-7 0zM441 1439l7 0-6 1-7 0z"/><path class="p11" d="M602 1431l7 0-5 3-8-1zM582 1433l7 0-5 2-7 0zM563 1435l7 0-6 1-7 0zM530 1437l7 0-5 0-7 0z"/><path class="p12" d="M622 1428l7 0-6 3-7 0zM595 1430l7 1-6 2-7 0zM575 1433l7 0-5 2-7 0z"/><path class="p13" d="M614 1427l8 1-6 3-7 0zM588 1430l7 0-6 3-7 0z"/><path class="p14" d="M634 1424l7 0-5 4-7 0zM607 1427l7 0-5 4-7 0z"/><path class="p15" d="M627 1423l7 1-5 4-7 0z"/><path class="p16" d="M647 1419l7 1-6 5-7-1zM620 1423l7 0-5 5-8-1z"/><path class="p17" d="M640 1418l7 1-6 5-7 0z"/><path class="p18" d="M632 1417l8 1-6 6-7-1z"/><path class="p19" d="M659 1414l7 0-5 6-7 0z"/><path class="p20" d="M652 1413l7 1-5 6-7-1z"/><path class="p9" d="M408 1441l8 0-6 1-7 0zM396 1442l7 0-5 0-8 0z"/><path class="p10" d="M453 1438l7 0-5 1-7 0zM421 1440l7 0-5 1-7 0zM401 1441l7 0-5 1-7 0z"/><path class="p11" d="M543 1436l7 0-5 1-8 0zM511 1437l7 0-6 0-7 0zM498 1437l7 0-5 0-7 1zM478 1438l7 0-5 0-7 0zM466 1438l7 0-6 0-7 0zM446 1438l7 0-5 1-7 0zM426 1439l8 0 7 0-6 1-7 0-7 0zM414 1440l7 0-5 1-8 0z"/><path class="p12" d="M555 1435l8 0-6 1-7 0zM536 1436l7 0-6 1-7 0zM523 1437l7 0-5 0-7 0zM504 1437l7 0-6 0-7 0zM491 1437l7 0-5 1-8 0zM471 1437l7 1-5 0-7 0zM459 1438l7 0-6 0-7 0zM439 1438l7 0-5 1-7 0zM419 1439l7 0-5 1-7 0zM407 1440l7 0-6 1-7 0z"/><path class="p13" d="M568 1432l7 1-5 2-7 0zM548 1434l7 1-5 1-7 0zM529 1435l7 1-6 1-7 0zM516 1436l7 1-5 0-7 0zM496 1437l8 0-6 0-7 0zM484 1437l7 0-6 1-7 0zM464 1437l7 0-5 1-7 0zM452 1438l7 0-6 0-7 0z"/><path class="p14" d="M581 1429l7 1-6 3-7 0zM561 1432l7 0-5 3-8 0zM541 1434l7 0-5 2-7 0zM522 1435l7 0-6 2-7-1zM509 1436l7 0-5 1-7 0z"/><path class="p15" d="M600 1426l7 1-5 4-7-1zM554 1431l7 1-6 3-7-1z"/><path class="p16" d="M593 1426l7 0-5 4-7 0zM573 1429l8 0-6 4-7-1z"/><path class="p17" d="M613 1422l7 1-6 4-7 0zM586 1425l7 1-5 4-7-1zM566 1428l7 1-5 3-7 0z"/><path class="p18" d="M606 1421l7 1-6 5-7-1z"/><path class="p20" d="M625 1417l7 0-5 6-7 0zM599 1420l7 1-6 5-7 0z"/><path class="p21" d="M645 1412l7 1-5 6-7-1zM618 1416l7 1-5 6-7-1z"/><path class="p22" d="M638 1411l7 1-5 6-8-1zM611 1415l7 1-5 6-7-1z"/><path class="p24" d="M631 1410l7 1-6 6-7 0z"/><path class="p13" d="M432 1438l7 0-5 1-8 0zM412 1439l7 0-5 1-7 0z"/><path class="p14" d="M489 1436l7 1-5 0-7 0zM477 1437l7 0-6 1-7-1zM457 1437l7 0-5 1-7 0zM444 1437l8 1-6 0-7 0zM425 1438l7 0-6 1-7 0z"/><path class="p15" d="M534 1433l7 1-5 2-7-1zM514 1434l8 1-6 1-7 0zM502 1435l7 1-5 1-8 0zM482 1436l7 0-5 1-7 0zM470 1436l7 1-6 0-7 0zM450 1437l7 0-5 1-8-1zM437 1437l7 0-5 1-7 0zM418 1438l7 0-6 1-7 0z"/><path class="p16" d="M547 1431l7 0-6 3-7 0zM527 1432l7 1-5 2-7 0zM507 1434l7 0-5 2-7-1zM495 1435l7 0-6 2-7-1zM475 1435l7 1-5 1-7-1zM462 1436l8 0-6 1-7 0zM443 1436l7 1-6 0-7 0zM430 1437l7 0-5 1-7 0z"/><path class="p17" d="M520 1432l7 0-5 3-8-1zM488 1434l7 1-6 1-7 0zM468 1435l7 0-5 1-8 0zM455 1435l7 1-5 1-7 0zM423 1436l7 1-5 1-7 0z"/><path class="p18" d="M559 1427l7 1-5 4-7-1zM540 1430l7 1-6 3-7-1zM500 1433l7 1-5 1-7 0zM481 1434l7 0-6 2-7-1z"/><path class="p19" d="M579 1424l7 1-5 4-8 0zM552 1426l7 1-5 4-7 0zM532 1429l8 1-6 3-7-1zM513 1431l7 1-6 2-7 0z"/><path class="p20" d="M572 1423l7 1-6 5-7-1zM545 1425l7 1-5 5-7-1zM525 1428l7 1-5 3-7 0z"/><path class="p21" d="M591 1419l8 1-6 6-7-1zM565 1422l7 1-6 5-7-1z"/><path class="p22" d="M584 1418l7 1-5 6-7-1zM558 1421l7 1-6 5-7-1z"/><path class="p24" d="M604 1413l7 2-5 6-7-1zM577 1417l7 1-5 6-7-1z"/><path class="p25" d="M624 1408l7 2-6 7-7-1zM597 1412l7 1-5 7-8-1zM570 1416l7 1-5 6-7-1z"/><path class="p26" d="M590 1411l7 1-6 7-7-1z"/><path class="p27" d="M617 1407l7 1-6 8-7-1z"/><path class="p28" d="M609 1406l8 1-6 8-7-2z"/><path class="p29" d="M602 1404l7 2-5 7-7-1z"/><path class="p17" d="M436 1436l7 0-6 1-7 0z"/><path class="p18" d="M448 1435l7 0-5 2-7-1z"/><path class="p19" d="M493 1432l7 1-5 2-7-1zM473 1433l8 1-6 1-7 0zM461 1434l7 1-6 1-7-1zM441 1434l7 1-5 1-7 0zM429 1435l7 1-6 1-7-1z"/><path class="p20" d="M506 1430l7 1-6 3-7-1zM486 1431l7 1-5 2-7 0zM466 1432l7 1-5 2-7-1zM454 1433l7 1-6 1-7 0zM434 1433l7 1-5 2-7-1z"/><path class="p21" d="M518 1427l7 1-5 4-7-1zM499 1429l7 1-6 3-7-1zM479 1430l7 1-5 3-8-1zM447 1432l7 1-6 2-7-1z"/><path class="p22" d="M538 1424l7 1-5 5-8-1zM459 1431l7 1-5 2-7-1zM440 1431l7 1-6 2-7-1z"/><path class="p23" d="M531 1423l7 1-6 5-7-1zM511 1426l7 1-5 4-7-1zM491 1428l8 1-6 3-7-1zM472 1429l7 1-6 3-7-1zM452 1430l7 1-5 2-7-1z"/><path class="p24" d="M550 1420l8 1-6 5-7-1zM524 1422l7 1-6 5-7-1zM504 1425l7 1-5 4-7-1zM484 1427l7 1-5 3-7-1zM465 1428l7 1-6 3-7-1z"/><path class="p25" d="M543 1418l7 2-5 5-7-1zM497 1423l7 2-5 4-8-1zM477 1425l7 2-5 3-7-1z"/><path class="p26" d="M563 1414l7 2-5 6-7-1zM517 1421l7 1-6 5-7-1z"/><path class="p27" d="M536 1417l7 1-5 6-7-1zM509 1419l8 2-6 5-7-1z"/><path class="p28" d="M583 1409l7 2-6 7-7-1zM556 1413l7 1-5 7-8-1zM529 1416l7 1-5 6-7-1z"/><path class="p29" d="M576 1408l7 1-6 8-7-1zM549 1411l7 2-6 7-7-2z"/><path class="p30" d="M522 1414l7 2-5 6-7-1z"/><path class="p31" d="M595 1403l7 1-5 8-7-1zM568 1406l8 2-6 8-7-2zM542 1410l7 1-6 7-7-1z"/><path class="p32" d="M561 1405l7 1-5 8-7-1z"/><path class="p33" d="M588 1401l7 2-5 8-7-2zM535 1408l7 2-6 7-7-1z"/><path class="p34" d="M581 1399l7 2-5 8-7-1zM554 1403l7 2-5 8-7-2z"/><path class="p36" d="M574 1397l7 2-5 9-8-2z"/><path class="p38" d="M567 1396l7 1-6 9-7-1z"/><path class="p24" d="M445 1429l7 1-5 2-7-1z"/><path class="p25" d="M458 1427l7 1-6 3-7-1z"/><path class="p27" d="M490 1422l7 1-6 5-7-1zM470 1424l7 1-5 4-7-1zM450 1425l8 2-6 3-7-1z"/><path class="p28" d="M483 1421l7 1-6 5-7-2zM463 1423l7 1-5 4-7-1z"/><path class="p29" d="M502 1418l7 1-5 6-7-2z"/><path class="p30" d="M476 1419l7 2-6 4-7-1zM456 1421l7 2-5 4-8-2z"/><path class="p31" d="M515 1412l7 2-5 7-8-2zM495 1416l7 2-5 5-7-1z"/><path class="p32" d="M488 1414l7 2-5 6-7-1zM468 1417l8 2-6 5-7-1z"/><path class="p33" d="M508 1411l7 1-6 7-7-1zM461 1416l7 1-5 6-7-2z"/><path class="p34" d="M527 1406l8 2-6 8-7-2zM481 1413l7 1-5 7-7-2z"/><path class="p35" d="M501 1409l7 2-6 7-7-2zM474 1411l7 2-5 6-8-2z"/><path class="p36" d="M547 1401l7 2-5 8-7-1zM520 1404l7 2-5 8-7-2zM494 1407l7 2-6 7-7-2z"/><path class="p37" d="M467 1409l7 2-6 6-7-1z"/><path class="p38" d="M540 1399l7 2-5 9-7-2zM513 1402l7 2-5 8-7-1zM486 1405l8 2-6 7-7-1z"/><path class="p39" d="M560 1394l7 2-6 9-7-2zM533 1397l7 2-5 9-8-2zM506 1400l7 2-5 9-7-2z"/><path class="p40" d="M479 1403l7 2-5 8-7-2z"/><path class="p41" d="M553 1391l7 3-6 9-7-2zM526 1395l7 2-6 9-7-2zM499 1398l7 2-5 9-7-2z"/><path class="p42" d="M472 1401l7 2-5 8-7-2z"/><path class="p43" d="M545 1389l8 2-6 10-7-2zM519 1393l7 2-6 9-7-2zM492 1396l7 2-5 9-8-2z"/><path class="p45" d="M538 1387l7 2-5 10-7-2zM512 1391l7 2-6 9-7-2zM485 1394l7 2-6 9-7-2z"/><path class="p47" d="M531 1385l7 2-5 10-7-2zM504 1388l8 3-6 9-7-2zM478 1391l7 3-6 9-7-2z"/><path class="p49" d="M524 1382l7 3-5 10-7-2zM497 1386l7 2-5 10-7-2z"/><path class="p51" d="M517 1380l7 2-5 11-7-2zM490 1383l7 3-5 10-7-2z"/><path class="p53" d="M510 1377l7 3-5 11-8-3zM483 1381l7 2-5 11-7-3z"/><path class="p55" d="M503 1374l7 3-6 11-7-2z"/><path class="p57" d="M496 1372l7 2-6 12-7-3z"/><path class="p59" d="M489 1369l7 3-6 11-7-2z"/></g>
<path d="M244.3 753.5L333.2 729.2" stroke="#4d4d4d" stroke-width="0.6" fill="none"/>
<path d="M244.3 753.5L176.1 721.8" stroke="#4d4d4d" stroke-width="0.6" fill="none"/>
<path d="M176.1 721.8L176.1 652.7" stroke="#4d4d4d" stroke-width="0.6" fill="none"/>
<text transform="translate(249.1 762.6) scale(1.3 1)" font-size="6.3" text-anchor="start" fill="#262626" stroke="#262626" stroke-width="0.25">-5</text>
<text transform="translate(238.5 762.4) scale(1.3 1)" font-size="6.3" text-anchor="end" fill="#262626" stroke="#262626" stroke-width="0.25">-5</text>
<text transform="translate(293.5 750.5) scale(1.3 1)" font-size="6.3" text-anchor="start" fill="#262626" stroke="#262626" stroke-width="0.25">0</text>
<text transform="translate(204.4 746.6) scale(1.3 1)" font-size="6.3" text-anchor="end" fill="#262626" stroke="#262626" stroke-width="0.25">0</text>
<text transform="translate(338 738.3) scale(1.3 1)" font-size="6.3" text-anchor="start" fill="#262626" stroke="#262626" stroke-width="0.25">5</text>
<text transform="translate(170.3 730.7) scale(1.3 1)" font-size="6.3" text-anchor="end" fill="#262626" stroke="#262626" stroke-width="0.25">5</text>
<text transform="translate(170.6 709.6) scale(1.3 1)" font-size="6.3" text-anchor="end" fill="#262626" stroke="#262626" stroke-width="0.25">100</text>
<path d="M176.1 708.2L174.3 708.2" stroke="#4d4d4d" stroke-width="0.6" fill="none"/>
<text transform="translate(170.6 695.9) scale(1.3 1)" font-size="6.3" text-anchor="end" fill="#262626" stroke="#262626" stroke-width="0.25">200</text>
<path d="M176.1 694.5L174.3 694.5" stroke="#4d4d4d" stroke-width="0.6" fill="none"/>
<text transform="translate(170.6 682.2) scale(1.3 1)" font-size="6.3" text-anchor="end" fill="#262626" stroke="#262626" stroke-width="0.25">300</text>
<path d="M176.1 680.8L174.3 680.8" stroke="#4d4d4d" stroke-width="0.6" fill="none"/>
<text transform="translate(170.6 668.5) scale(1.3 1)" font-size="6.3" text-anchor="end" fill="#262626" stroke="#262626" stroke-width="0.25">400</text>
<path d="M176.1 667.1L174.3 667.1" stroke="#4d4d4d" stroke-width="0.6" fill="none"/>
<text transform="translate(170.6 654.8) scale(1.3 1)" font-size="6.3" text-anchor="end" fill="#262626" stroke="#262626" stroke-width="0.25">500</text>
<path d="M176.1 653.4L174.3 653.4" stroke="#4d4d4d" stroke-width="0.6" fill="none"/>
<text transform="translate(287.7 766.7) scale(1.3 1)" font-size="7.2" text-anchor="start" fill="#262626" stroke="#262626" stroke-width="0.18">x<tspan font-size="5.2" dy="2.4">1</tspan></text>
<text transform="translate(195.7 766.8) scale(1.3 1)" font-size="7.2" text-anchor="start" fill="#262626" stroke="#262626" stroke-width="0.18">x<tspan font-size="5.2" dy="2.4">2</tspan></text>
<text transform="translate(254.1 625.7) scale(1.29 1)" font-size="7.6" text-anchor="middle" fill="#1a1a1a" stroke="#1a1a1a" stroke-width="0.18">Objective space</text>
<text transform="translate(145.2 687.6) rotate(-90) scale(1 1.3)" font-size="7.9" text-anchor="middle" fill="#262626" stroke="#262626" stroke-width="0.12">F17( x<tspan font-size="5.5" dy="4">1</tspan><tspan dy="-4"> , x</tspan><tspan font-size="5.5" dy="4">2</tspan><tspan dy="-4"> )</tspan></text></g>
<g><path d="M396.3 621.1V738.3M405.2 621.1V738.3M411.5 621.1V738.3M416.3 621.1V738.3M420.3 621.1V738.3M423.7 621.1V738.3M426.6 621.1V738.3M429.2 621.1V738.3M446.6 621.1V738.3M455.4 621.1V738.3M461.7 621.1V738.3M466.6 621.1V738.3M470.6 621.1V738.3M473.9 621.1V738.3M476.9 621.1V738.3M479.4 621.1V738.3M496.9 621.1V738.3M505.7 621.1V738.3M512 621.1V738.3M516.9 621.1V738.3M520.8 621.1V738.3M524.2 621.1V738.3M527.1 621.1V738.3M529.7 621.1V738.3" stroke="#ebebeb" stroke-width="0.5" fill="none"/>
<path d="M431.5 621.1V738.3M481.7 621.1V738.3M381.2 738.3H532M381.2 721.6H532M381.2 704.9H532M381.2 688.5H532M381.2 671.4H532M381.2 654.6H532M381.2 638.3H532M381.2 621.6H532" stroke="#dedede" stroke-width="0.5" fill="none"/>
<g fill="none" stroke-linejoin="round" stroke-linecap="butt">
<path d="M381.2 621.1 396.9 632.5 405.6 652.5 411.5 652.8 420.2 665.2 426.7 679 433.3 679.7 437.6 689.2 442 690.3 446.4 698.6 453.6 699.4 458 706.6 463.3 708.1 469.1 709.5 476.4 715.4 483.6 722.6 492.4 727 499.6 729.9 505.5 734.3 511.3 735.7 521.5 735.7 525.8 737.9 532 738.1" stroke="#ff0000" stroke-width="2.3"/>
<path d="M381.2 633.2 388.2 663 396.2 693.5 404.9 705.2 412.2 721.9 420.9 732.8 433.3 735.7 446.4 737.9 532 738.1" stroke="#000000" stroke-width="1.9"/>
<path d="M381.2 713.2 392.5 723.4 405.6 732.8 421.6 737.2 450 738.1 532 738.1" stroke="#22ee22" stroke-width="1.15"/>
<path d="M381.2 623 388.2 657.2 396.2 690.6 404.9 708.1 412.2 721.2 420.9 729.2 436.2 733.5 446.4 737.2 532 738" stroke="#ff22ff" stroke-width="1.15"/>
<path d="M381.2 719 396.9 727 414.4 735 440 738.1 532 738.1" stroke="#22eeff" stroke-width="1.15"/>
<path d="M381.2 675.4 392.5 681.2 404.9 683.4 416.5 689.9 420.9 700.1 427.5 704 433.3 705.2 437.6 710.3 446.4 713.9 453.6 716.8 456 716.8 464.7 725.5 473.5 729.9 482.2 734.3 496.7 736.9 506.9 737.9 532 738.1" stroke="#2222ff" stroke-width="1.15"/>
<path d="M381.2 652.5 396.9 654.6 411.5 654.3 423.1 661.3 433.3 670 437.6 679 443.5 686.3 447.8 692.1 453.6 696.5 458 702.3 463.3 708.8 470.5 712.5 476.4 719.7 485.1 722.6 488 726.3 496.7 728.5 504 731.4 511.3 733.5 521.5 733.5 524.4 737.2 532 738.1" stroke="#a83232" stroke-width="1.15"/>
</g>
<rect x="381.2" y="621.1" width="150.8" height="117.2" fill="none" stroke="#404040" stroke-width="0.6"/>
<path d="M381.2 738.3V736.7M381.2 621.1V622.7M431.5 738.3V736.7M431.5 621.1V622.7M481.7 738.3V736.7M481.7 621.1V622.7M532 738.3V736.7M532 621.1V622.7M381.2 738.3H382.8M532 738.3H530.4M381.2 721.6H382.8M532 721.6H530.4M381.2 704.9H382.8M532 704.9H530.4M381.2 688.5H382.8M532 688.5H530.4M381.2 671.4H382.8M532 671.4H530.4M381.2 654.6H382.8M532 654.6H530.4M381.2 638.3H382.8M532 638.3H530.4M381.2 621.6H382.8M532 621.6H530.4" stroke="#404040" stroke-width="0.5" fill="none"/>
<text transform="translate(378.7 740.5) scale(1.28 1)" font-size="6.8" text-anchor="end" fill="#262626" stroke="#262626" stroke-width="0.25">0.4</text>
<text transform="translate(378.7 723.8) scale(1.28 1)" font-size="6.8" text-anchor="end" fill="#262626" stroke="#262626" stroke-width="0.25">0.5</text>
<text transform="translate(378.7 707.1) scale(1.28 1)" font-size="6.8" text-anchor="end" fill="#262626" stroke="#262626" stroke-width="0.25">0.6</text>
<text transform="translate(378.7 690.7) scale(1.28 1)" font-size="6.8" text-anchor="end" fill="#262626" stroke="#262626" stroke-width="0.25">0.7</text>
<text transform="translate(378.7 673.6) scale(1.28 1)" font-size="6.8" text-anchor="end" fill="#262626" stroke="#262626" stroke-width="0.25">0.8</text>
<text transform="translate(378.7 656.8) scale(1.28 1)" font-size="6.8" text-anchor="end" fill="#262626" stroke="#262626" stroke-width="0.25">0.9</text>
<text transform="translate(378.7 640.5) scale(1.28 1)" font-size="6.8" text-anchor="end" fill="#262626" stroke="#262626" stroke-width="0.25">1</text>
<text transform="translate(378.7 623.8) scale(1.28 1)" font-size="6.8" text-anchor="end" fill="#262626" stroke="#262626" stroke-width="0.25">1.1</text>
<text transform="translate(381.4 749.3) scale(1.28 1)" font-size="6.8" text-anchor="middle" fill="#262626" stroke="#262626" stroke-width="0.15">10<tspan font-size="5.4" dy="-3">0</tspan></text>
<text transform="translate(431.7 749.3) scale(1.28 1)" font-size="6.8" text-anchor="middle" fill="#262626" stroke="#262626" stroke-width="0.15">10<tspan font-size="5.4" dy="-3">1</tspan></text>
<text transform="translate(481.9 749.3) scale(1.28 1)" font-size="6.8" text-anchor="middle" fill="#262626" stroke="#262626" stroke-width="0.15">10<tspan font-size="5.4" dy="-3">2</tspan></text>
<text transform="translate(532.2 749.3) scale(1.28 1)" font-size="6.8" text-anchor="middle" fill="#262626" stroke="#262626" stroke-width="0.15">10<tspan font-size="5.4" dy="-3">3</tspan></text>
<text transform="translate(456.9 759.2) scale(1.35 1)" font-size="7" text-anchor="middle" fill="#383838" stroke="#383838" stroke-width="0.12">Iterations</text>
<text transform="translate(362.5 679.7) rotate(-90) scale(1 1.3)" font-size="7" text-anchor="middle" fill="#383838" stroke="#383838" stroke-width="0.12">Best score</text>
<text transform="translate(456.8 618) scale(1.328 1)" font-size="7.1" text-anchor="middle" fill="#1a1a1a" stroke="#1a1a1a" stroke-width="0.2">Objective space</text>
<rect x="466.5" y="626.3" width="59" height="59.2" fill="#fff" stroke="#404040" stroke-width="0.6"/>
<path d="M469.1 631.3H496.7" stroke="#ff0000" stroke-width="2.3"/>
<text transform="translate(498.9 633.4) scale(1.28 1)" font-size="5.9" text-anchor="start" fill="#262626" stroke="#262626" stroke-width="0.25">SOA</text>
<path d="M469.1 639.5H496.7" stroke="#000000" stroke-width="1.9"/>
<text transform="translate(498.9 641.6) scale(1.28 1)" font-size="5.9" text-anchor="start" fill="#262626" stroke="#262626" stroke-width="0.25">GWO</text>
<path d="M469.1 647.7H496.7" stroke="#22ee22" stroke-width="1.15"/>
<text transform="translate(498.9 649.8) scale(1.28 1)" font-size="5.9" text-anchor="start" fill="#262626" stroke="#262626" stroke-width="0.25">FWOA</text>
<path d="M469.1 655.9H496.7" stroke="#ff22ff" stroke-width="1.15"/>
<text transform="translate(498.9 658) scale(1.28 1)" font-size="5.9" text-anchor="start" fill="#262626" stroke="#262626" stroke-width="0.25">WOA</text>
<path d="M469.1 664.1H496.7" stroke="#22eeff" stroke-width="1.15"/>
<text transform="translate(498.9 666.2) scale(1.28 1)" font-size="5.9" text-anchor="start" fill="#262626" stroke="#262626" stroke-width="0.25">PSO</text>
<path d="M469.1 672.3H496.7" stroke="#2222ff" stroke-width="1.15"/>
<text transform="translate(498.9 674.4) scale(1.28 1)" font-size="5.9" text-anchor="start" fill="#262626" stroke="#262626" stroke-width="0.25">SSA</text>
<path d="M469.1 680.5H496.7" stroke="#c06060" stroke-width="1.6"/>
<text transform="translate(498.9 682.6) scale(1.28 1)" font-size="5.9" text-anchor="start" fill="#262626" stroke="#262626" stroke-width="0.25">STOA</text></g>
<g id="p18"><path d="M187.8 887.2L187.8 810.7" stroke="#e6e6e6" stroke-width="0.5" fill="none"/>
<path d="M205.6 881.8L205.6 805.3" stroke="#e6e6e6" stroke-width="0.5" fill="none"/>
<path d="M223.4 876.4L223.4 799.9" stroke="#e6e6e6" stroke-width="0.5" fill="none"/>
<path d="M241.3 871L241.3 794.5" stroke="#e6e6e6" stroke-width="0.5" fill="none"/>
<path d="M259.1 865.6L259.1 789.1" stroke="#e6e6e6" stroke-width="0.5" fill="none"/>
<path d="M178.9 876.5L267.6 849.6" stroke="#e6e6e6" stroke-width="0.5" fill="none"/>
<path d="M178.9 863.1L267.6 836.2" stroke="#e6e6e6" stroke-width="0.5" fill="none"/>
<path d="M178.9 849.6L267.6 822.8" stroke="#e6e6e6" stroke-width="0.5" fill="none"/>
<path d="M178.9 836.2L267.6 809.4" stroke="#e6e6e6" stroke-width="0.5" fill="none"/>
<path d="M178.9 822.8L267.6 796" stroke="#e6e6e6" stroke-width="0.5" fill="none"/>
<path d="M328.9 894.5L328.9 818.1" stroke="#e6e6e6" stroke-width="0.5" fill="none"/>
<path d="M315.2 887.5L315.2 811" stroke="#e6e6e6" stroke-width="0.5" fill="none"/>
<path d="M301.6 880.4L301.6 804" stroke="#e6e6e6" stroke-width="0.5" fill="none"/>
<path d="M287.9 873.4L287.9 797" stroke="#e6e6e6" stroke-width="0.5" fill="none"/>
<path d="M274.2 866.4L274.2 789.9" stroke="#e6e6e6" stroke-width="0.5" fill="none"/>
<path d="M335.7 884.6L267.6 849.6" stroke="#e6e6e6" stroke-width="0.5" fill="none"/>
<path d="M335.7 871.2L267.6 836.2" stroke="#e6e6e6" stroke-width="0.5" fill="none"/>
<path d="M335.7 857.8L267.6 822.8" stroke="#e6e6e6" stroke-width="0.5" fill="none"/>
<path d="M335.7 844.4L267.6 809.4" stroke="#e6e6e6" stroke-width="0.5" fill="none"/>
<path d="M335.7 831L267.6 796" stroke="#e6e6e6" stroke-width="0.5" fill="none"/>
<path d="M255.9 922.2L187.8 887.2" stroke="#e6e6e6" stroke-width="0.5" fill="none"/>
<path d="M273.7 916.8L205.6 881.8" stroke="#e6e6e6" stroke-width="0.5" fill="none"/>
<path d="M291.5 911.4L223.4 876.4" stroke="#e6e6e6" stroke-width="0.5" fill="none"/>
<path d="M309.4 906L241.3 871" stroke="#e6e6e6" stroke-width="0.5" fill="none"/>
<path d="M327.2 900.6L259.1 865.6" stroke="#e6e6e6" stroke-width="0.5" fill="none"/>
<path d="M240.1 921.4L328.9 894.5" stroke="#e6e6e6" stroke-width="0.5" fill="none"/>
<path d="M226.5 914.3L315.2 887.5" stroke="#e6e6e6" stroke-width="0.5" fill="none"/>
<path d="M212.8 907.3L301.6 880.4" stroke="#e6e6e6" stroke-width="0.5" fill="none"/>
<path d="M199.1 900.3L287.9 873.4" stroke="#e6e6e6" stroke-width="0.5" fill="none"/>
<path d="M185.4 893.2L274.2 866.4" stroke="#e6e6e6" stroke-width="0.5" fill="none"/>
<g transform="scale(.5)" fill="none" stroke-width="0.9" stroke-opacity="1.0"><path stroke="#7571ec" d="M637 1807l-7 0-5 0-4 0-5 1-4 0-5 0-4 1-4 0-4 1-4 1-3 0-4 1-3 1-3 1-3 1-3 1-6 3-2 2-4 2-4 4-2 3-2 2M488 1847l-1-3-2-3-3-4-2-3-3-3-2-4-4-3-3-3-3-2-3-2-4-3-5-2-5-3-5-2-3-1-3-1-4-1-3-1-4-1-3-1-4-1-4-1-3-1-4 0-5-1-3-1-5-1-5 0-4-1-1 0M654 1787l2 4 5 2 4 1 4 1 1 0M528 1728l3 4 2 3 3 2 2 3 3 3 3 3 4 3 5 3 4 2 5 3 4 1 4 2 3 1 4 1 3 1 3 1 3 1 4 1 3 1 4 1 4 1 4 1 4 1 3 0 5 1 3 1 5 1 3 1 3 0"/><path stroke="#728ffe" d="M628 1809l-4 0-4 1-4 0-4 1-4 0-4 1-4 1-4 0-3 1-4 1-3 1-3 1-3 1-3 1-5 3-5 3-4 3-1 1M481 1843l-2-3-2-3-3-3-3-3-3-4-3-3-4-2-4-3-5-3-4-2-6-3-5-2-3-1-3-1-3-1-4-2-3 0-3-1-4-1-4-1-4-1-4-1-4-1-4 0-2-1M532 1727l3 4 3 3 3 3 3 2 2 2 4 3 4 3 2 1 5 3 5 3 5 2 3 1 3 1 2 2 4 1 3 1 3 1 3 1 4 1 3 1 4 0 4 1 3 1 4 1 4 1 4 1"/><path stroke="#60adf3" d="M620 1812l-5 0-4 1-4 0-4 1-3 1-4 1-3 1-4 1-3 1-3 1-2 1-3 1-5 3-2 2M476 1840l-2-2-3-3-3-4-3-3-4-3-4-2-4-3-4-3-5-2-5-3-3-1-3-1-3-1-3-1-3-1-3-1-4-1-3-1-4-1-3-1-4-1-4-1-3 0M535 1726l3 4 3 2 3 4 3 2 3 2 3 3 5 3 4 3 5 2 5 3 3 1 5 2 3 1 3 1 3 2 4 1 3 1 4 1 3 0 4 1 3 1 4 1 2 0"/><path stroke="#52c2e4" d="M610 1815l-4 0-4 1-3 1-4 1-3 1-3 1-3 1-3 1-2 1M471 1838l-2-3-3-2-2-2-3-3-4-3-4-3-5-3-4-2-5-3-6-2-3-1-3-1-3-1-3-2-3-1-3-1-4-1-3 0-4-1-3-1M540 1729l4 3 3 3 3 3 4 3 4 3 4 3 5 2 5 3 5 2 3 1 3 1 3 2 3 1 3 1 4 1 3 1 3 1 4 1 3 1 2 0"/><path stroke="#5bd1c3" d="M467 1836l-3-3-4-3-3-3-4-3-5-3-2-1-5-3-5-2-5-2-3-2-3-1-3-1-3-1-3-1-4-1-3-1-4-1M545 1731l4 4 3 3 3 2 3 2 4 3 5 2 5 3 5 2 5 3 3 1 3 1 3 1 3 1 4 1 3 1 4 1 1 0"/><path stroke="#8bd993" d="M462 1833l-3-3-4-3-4-2-4-3-5-3-5-2-5-3-3-1-3-1-3-1-3-1-3-1-3-1-3-1-2-1M550 1733l2 3 4 3 4 2 4 3 4 2 3 2 5 2 5 3 3 1 3 1 3 1 3 1 3 1 4 1 1 1"/><path stroke="#d4d15f" d="M457 1831l-3-3-4-3-5-3-4-2-5-3-6-2-5-3-3-1-3-1-3-1-2 0M555 1736l2 2 4 3 5 3 4 2 5 3 5 2 6 3 3 1 3 1 3 1 1 0"/><path stroke="#fece6d" d="M452 1828l-4-3-4-2-5-3-5-2-5-3-3-1-3-1-3-1-1-1M561 1739l4 3 4 3 5 2 5 3 3 1 5 2 3 1"/><path stroke="#f7ee5b" d="M445 1825l-5-3-4-3-6-2-4-2M570 1744l5 3 5 2 1 0"/></g>
<g transform="scale(.5)" stroke-width="1.0"><path class="p0" d="M530 1749l3-2-2-1-3 2zM524 1749l4-1 3-2-3-1-3 2-3 1zM515 1751l4-1 3-2 3-1 3-2-2-1-3 2-4 1-3 1-3 1zM510 1750l3-1 3-1 3-1 4-1 3-2 3-2-2-1-4 2-3 2-3 1-3 1-3 1-4 1zM504 1750l3-1 4-1 3-1 3-1 3-1 3-2 4-2-3-1-3 2-3 2-3 1-4 1-3 1-3 1-3 1zM495 1751l3-1 4-1 3-1 3-1 3-1 4-1 3-1-3-1-3 1-3 1-3 1-4 1-3 1-3 1-3 1zM518 1744l3-2 3-2-2-1-4 2-3 2zM490 1751l3-1 3-1 3-1 3-1 4-1 3-1 3-1-2-2-4 1-3 1-3 1-3 1-3 1-4 1-3 1zM512 1744l3-1 3-2 4-2 3-2-3-1-3 3-3 1-3 1-3 1zM484 1750l3-1 3-1 4-1 3-1 3-1 3-1 3-1-2-1-3 1-4 1-3 1-3 1-3 1-3 1-4 1zM506 1743l4-1 3-1 3-1 3-1 3-3-2 0-3 2-3 1-4 1-3 1-3 1zM475 1751l3-1 3-1 4-1 3-1 3-1 3-1 3-1-2-1-3 1-3 1-4 1-3 1-3 0-3 1-3 1zM497 1744l4-1 3-1 3-1 3-1 4-1 3-1 3-2-3-1-3 2-3 1-3 1-3 1-4 1-3 1-3 1zM520 1736l3-3-2 0-4 2zM469 1750l4-1 3-1 3-1 3 0 3-1 4-1 3-1-3-1-3 1-3 0-3 1-3 1-4 1-3 0-3 1zM492 1744l3-1 3-1 3-1 4-1 3-1 3-1 3-1-2-2-3 2-4 1-3 1-3 1-3 1-3 1-4 1zM514 1737l3-2 4-2-3-1-3 2-3 1zM467 1748l3-1 3 0 4-1 3-1 3-1 3 0 3-1-2-2-3 1-4 1-3 1-3 0-3 1-3 0-4 1zM489 1743l4-1 3-1 3-1 3-1 3-1 4-1 3-2-3-1-3 1-3 1-3 1-3 1-4 1-3 1-3 1zM512 1735l3-1 3-2 3-3-2 0-3 2-3 2-4 1zM468 1745l3 0 3-1 3 0 3-1 4-1 3-1 3-1-1 0-3 1-3 1-3 1-4 0-3 1-3 0-3 0zM490 1740l3-1 4-1 3-1 3-1 3-1 3-1 4-1-1 0-3 1-4 1-3 1-3 1-3 1-4 1-3 1zM513 1733l3-2 3-2-1 0-3 2-3 2z"/><path class="p1" d="M536 1747l3-3-3 0-3 3zM533 1747l3-3-2-1-3 3zM531 1746l3-3-2-1-4 3zM528 1745l4-3 3-3-3-1-3 4-3 2zM529 1742l3-4-2 0-3 3zM527 1741l3-3-3 0-3 2zM524 1740l3-2 4-4-3 0-3 3-3 2zM525 1737l3-3-2 0-4 2zM522 1736l4-2-3-1-3 3zM523 1733l3-4-2 1-3 3zM521 1733l3-3-3-1-3 3zM464 1748l3 0-3-2-3 0zM521 1729l4-4-3 1-3 3zM458 1746l3 0 3 0 4-1-1-1-3 1-4 0-3 0zM519 1729l3-3-1 0-3 3z"/><path class="p2" d="M539 1744l3-4-2 0-4 4zM536 1744l4-4-3-1-3 4zM534 1743l3-4-2 0-3 3zM532 1738l3-4-2 0-3 4zM530 1738l3-4-2 0-4 4zM528 1734l3-5-2 0-3 5zM526 1734l3-5-3 0-3 4zM524 1730l3-5-2 0-4 4zM522 1726l3-6 0 1-4 5z"/><path class="p3" d="M541 1745l4-4-3-1-3 4zM537 1739l3-5-2 0-3 5zM535 1739l3-5-3 0-3 4zM533 1734l3-6-2 0-3 6zM531 1734l3-6-3 1-3 5zM529 1729l3-6-2 1-4 5zM526 1729l4-5-3 1-3 5zM525 1725l3-6-3 1-3 6z"/><path class="p4" d="M545 1741l3-7-3 0-3 6zM542 1740l3-6-2 0-3 6zM540 1740l3-6-3 0-3 5zM535 1734l4-7-3 1-3 6zM531 1729l3-7-2 1-3 6zM527 1725l3-7-2 1-3 6z"/><path class="p5" d="M540 1734l4-8-3 1-3 7zM538 1734l3-7-2 0-4 7zM534 1728l3-7-3 1-3 7zM530 1724l3-8-3 2-3 7zM525 1720l4-8-1 1-3 8z"/><path class="p6" d="M545 1734l4-8-3 0-3 8zM543 1734l3-8-2 0-4 8zM536 1728l3-9-2 2-3 7zM532 1723l3-9-2 2-3 8zM528 1719l3-9-2 2-4 8z"/><path class="p7" d="M550 1735l3-9-2 0-3 8zM548 1734l3-8-2 0-4 8zM539 1727l3-9-3 1-3 9zM534 1722l4-10-3 2-3 9zM530 1718l4-11-3 3-3 9z"/><path class="p8" d="M544 1726l3-10-3 1-3 10zM541 1727l3-10-2 1-3 9zM537 1721l3-11-2 2-4 10zM533 1716l3-12-2 3-4 11zM529 1712l3-12-1 2-3 11z"/><path class="p9" d="M546 1726l3-11-2 1-3 10z"/><path class="p10" d="M549 1726l3-11-3 0-3 11zM539 1719l4-11-3 2-3 11zM535 1714l3-13-2 3-3 12zM531 1710l3-13-2 3-3 12z"/><path class="p11" d="M553 1726l4-12-3 0-3 12zM551 1726l3-12-2 1-3 11zM542 1718l3-12-2 2-4 11zM538 1712l3-14-3 3-3 13zM534 1707l3-15-3 5-3 13z"/><path class="p12" d="M556 1727l3-12-2-1-4 12zM544 1717l4-13-3 2-3 12z"/><path class="p13" d="M547 1716l3-14-2 2-4 13zM540 1710l3-15-2 3-3 14z"/><path class="p14" d="M549 1715l3-14-2 1-3 14zM536 1704l3-16-2 4-3 15zM532 1700l3-17-1 2-3 17z"/><path class="p15" d="M552 1715l3-15-3 1-3 14zM543 1708l3-16-3 3-3 15z"/><path class="p16" d="M557 1714l3-15-3 0-3 15zM554 1714l3-15-2 1-3 15zM545 1706l3-17-2 3-3 16zM538 1701l4-18-3 5-3 16zM534 1697l3-19-2 5-3 17z"/><path class="p17" d="M562 1715l3-16-3 0-3 16zM559 1715l3-16-2 0-3 15z"/><path class="p18" d="M548 1704l3-18-3 3-3 17zM541 1698l3-20-2 5-4 18zM537 1692l3-21-3 7-3 19z"/><path class="p19" d="M550 1702l3-19-2 3-3 18zM535 1683l1-7-1 2-1 7z"/><path class="p20" d="M543 1695l4-21-3 4-3 20z"/><path class="p21" d="M552 1701l4-20-3 2-3 19zM539 1688l3-23-2 6-3 21zM537 1678l2-8-3 6-1 7z"/><path class="p22" d="M555 1700l3-21-2 2-4 20zM546 1692l3-23-2 5-4 21z"/><path class="p23" d="M557 1699l4-21-3 1-3 21z"/><path class="p24" d="M562 1699l4-21-3 0-3 21zM560 1699l3-21-2 0-4 21zM548 1689l4-24-3 4-3 23zM542 1683l3-25-3 7-3 23zM540 1671l1-8-2 7-2 8z"/><path class="p25" d="M565 1699l3-21-2 0-4 21z"/><path class="p26" d="M551 1686l3-25-2 4-4 24z"/><path class="p27" d="M544 1678l3-26-2 6-3 25zM542 1665l1-9-2 7-1 8z"/><path class="p28" d="M553 1683l3-25-2 3-3 25z"/><path class="p30" d="M556 1681l3-26-3 3-3 25zM547 1674l3-28-3 6-3 26z"/><path class="p31" d="M558 1679l3-26-2 2-3 26zM545 1658l1-10-3 8-1 9z"/><path class="p32" d="M561 1678l3-27-3 2-3 26zM549 1669l3-29-2 6-3 28z"/><path class="p33" d="M563 1678l3-28-2 1-3 27z"/><path class="p34" d="M566 1678l3-28-3 0-3 28zM547 1652l1-11-2 7-1 10z"/><path class="p35" d="M570 1679l4-27-3-2-3 28zM568 1678l3-28-2 0-3 28zM552 1665l3-31-3 6-3 29z"/><path class="p37" d="M554 1661l3-32-2 5-3 31zM550 1646l1-12-3 7-1 11z"/><path class="p40" d="M556 1658l4-34-3 5-3 32z"/><path class="p41" d="M552 1640l1-13-2 7-1 12z"/><path class="p42" d="M559 1655l3-35-2 4-4 34z"/><path class="p44" d="M561 1653l4-36-3 3-3 35zM555 1634l1-13-3 6-1 13z"/><path class="p45" d="M564 1651l3-36-2 2-4 36z"/><path class="p46" d="M566 1650l3-36-2 1-3 36z"/><path class="p47" d="M569 1650l3-37-3 1-3 36zM557 1629l1-13-2 5-1 13z"/><path class="p48" d="M576 1654l3-36-2-3-3 37zM574 1652l3-37-3-1-3 36zM571 1650l3-36-2-1-3 37z"/><path class="p49" d="M560 1624l1-13-3 5-1 13z"/><path class="p52" d="M562 1620l1-14-2 5-1 13z"/><path class="p54" d="M565 1617l1-14-3 3-1 14z"/><path class="p55" d="M567 1615l1-14-2 2-1 14z"/><path class="p57" d="M569 1614l2-15-3 2-1 14z"/><path class="p58" d="M579 1618l1-14-2-3-1 14zM577 1615l1-14-3-2-1 15zM574 1614l1-15-2 0-1 14zM572 1613l1-14-2 0-2 15z"/><path class="p0" d="M541 1760l3-2 3-2-2-1-3 2-4 2zM535 1760l3-1 4-2 3-2-3-1-3 2-3 2-3 1zM529 1760l4-1 3-1 3-2 3-2-2-1-3 2-4 2-3 1-3 1zM521 1761l3-1 3-1 3-1 3-1 4-2 3-2-3-1-3 2-3 1-3 2-3 1-4 1-3 1zM515 1761l3-1 3-1 4-1 3-1 3-2 3-1 3-2-2-1-3 2-3 1-4 2-3 1-3 1-3 1-4 1zM509 1761l3-1 4-1 3-1 3-1 3-1 4-2 3-1-3-1-3 1-3 1-3 1-4 1-3 1-3 1-3 1zM532 1753l3-2-3-1-3 2zM500 1761l4-1 3-1 3-1 3-1 3-1 4-1 3-1-3-1-3 1-3 1-3 1-3 1-4 1-3 1-3 1zM523 1754l3-1 3-1 3-2 4-3-3 0-3 2-3 2-3 1-4 1zM495 1761l3-1 3-1 3-1 4-1 3-1 3-1 3-1-2-1-3 1-4 1-3 1-3 1-3 1-4 1-3 1zM517 1754l3-1 4-1 3-1 3-2-2-1-4 1-3 2-3 1-3 1zM489 1761l3-1 3-1 4-1 3-1 3-1 3-1 4-1-3-1-3 1-3 1-4 1-3 1-3 1-3 1-3 0zM512 1754l3-1 3-1 3-1 3-2-2-1-3 2-4 1-3 1-3 1zM480 1761l3-1 4-1 3 0 3-1 3-1 3-1 4-1-3-2-3 1-3 1-3 1-4 1-3 1-3 1-3 1zM503 1755l3-1 3-1 3-1 3-1-2-2-3 1-3 1-4 1-3 1zM475 1761l3-1 3-1 3-1 3-1 4-1 3-1 3-1-2-1-4 1-3 1-3 1-3 1-4 1-3 1-3 1zM497 1754l3-1 3-1 4-1 3-1-3-1-3 1-3 1-3 1-3 1zM469 1761l3-1 3-1 3-1 4-1 3-1 3-1 3-1-2-1-3 1-4 1-3 1-3 1-3 0-3 1-4 1zM491 1754l4-1 3-1 3-1 3-1-2-1-4 1-3 1-3 1-3 1zM463 1760l3-1 4-1 3-1 3 0 3-1 3-1 4-1-3-2-3 1-3 1-3 1-4 1-3 1-3 1-3 1zM486 1754l3-1 3-1 3-1-2-1-3 1-4 1-3 0zM454 1760l4-1 3 0 3-1 3-1 3-1 4-1 3-1-3-1-3 1-3 0-3 1-4 1-3 1-3 1-3 1zM477 1754l3-1 3-1 3 0 4-1-3-2-3 1-3 1-4 1-3 1zM449 1760l3-1 3-1 3-1 3-1 4-1 3-1 3 0-2-2-4 1-3 0-3 1-3 1-3 1-4 1-3 1zM471 1754l3-1 3-1 4-1 3-1-3-1-3 1-3 1-3 0-3 1zM456 1755l3-1 3-1 3 0 4-1 3-1 3 0-2-2-4 1-3 0-3 1-3 0-3 1-4 1zM463 1751l3-1 3 0-2-2-3 0-4 1z"/><path class="p1" d="M550 1758l3-3-3-1-3 2zM547 1756l3-2-2-2-3 3zM545 1755l3-3-2-1-4 3zM542 1754l4-3-3-1-3 3zM540 1753l3-3-2-1-4 3zM537 1752l4-3-3-1-3 3zM535 1751l3-3 3-3-2-1-3 3-4 3zM443 1758l3 0 3-1 4-1 3-1-3-2-3 0-3 1-3 1-4 1zM434 1758l3-1 3-1 4-1 3-1 3-1 3 0 4-1-3-2-3 0-3 1-4 1-3 0-3 1-3 1-3 2zM457 1752l3-1 3 0-3-2-3 0-3 1zM451 1750l3 0 3-1 3 0 4-1-3-2-3 0-3 0-3 1-4 0zM455 1746l3 0-1-1-3 0z"/><path class="p2" d="M555 1756l4-3-3-2-3 4zM553 1755l3-4-2-1-4 4zM550 1754l4-4-3-1-3 3zM548 1752l3-3-2-1-3 3zM546 1751l3-3-3-1-3 3zM543 1750l3-3-2-1-3 3zM541 1749l3-3-3-1-3 3zM428 1757l4-1 3-2 3-1 3-1 3 0 4-1 3-1-3-3-3 1-3 0-3 1-3 1-4 1-3 1-3 2zM423 1755l3-1 3-2 3-1 0-1-4 1-3 2-3 1zM442 1748l3 0 3-1 4 0 3-1-1-1-3 1-3 0-4 0-3 1z"/><path class="p3" d="M561 1754l3-4-2-2-3 5zM559 1753l3-5-3-2-3 5zM556 1751l3-5-2-1-3 5zM554 1750l3-5-3-1-3 5zM551 1749l3-5-2-1-3 5zM549 1748l3-5-3-1-3 5zM546 1747l3-5-2-1-3 5zM544 1746l3-5-2 0-4 4zM432 1751l4-1 3-1 3-1-1-1-3 1-3 1-3 1z"/><path class="p5" d="M567 1751l3-5-3-2-3 6zM564 1750l3-6-2-2-3 6zM562 1748l3-6-2-2-4 6zM559 1746l4-6-3-1-3 6zM557 1745l3-6-2-2-4 7zM554 1744l4-7-3-1-3 7zM552 1743l3-7-2-1-4 7zM549 1742l4-7-3 0-3 6zM547 1741l3-6-2-1-3 7z"/><path class="p7" d="M570 1746l3-8-2-3-4 9z"/><path class="p8" d="M567 1744l4-9-3-2-3 9zM565 1742l3-9-2-2-3 9zM563 1740l3-9-3-1-3 9zM560 1739l3-9-2-2-3 9zM558 1737l3-9-3-1-3 9zM555 1736l3-9-2 0-3 8zM553 1735l3-8-3-1-3 9z"/><path class="p10" d="M576 1740l3-10-3-3-3 11z"/><path class="p11" d="M573 1738l3-11-2-3-3 11zM571 1735l3-11-3-2-3 11z"/><path class="p12" d="M568 1733l3-11-2-2-3 11zM566 1731l3-11-3-2-3 12zM563 1730l3-12-2-2-3 12zM561 1728l3-12-2-1-4 12zM558 1727l4-12-3 0-3 12z"/><path class="p14" d="M581 1733l3-12-2-4-3 13z"/><path class="p15" d="M579 1730l3-13-2-4-4 14z"/><path class="p16" d="M576 1727l4-14-3-3-3 14zM574 1724l3-14-2-3-4 15z"/><path class="p17" d="M571 1722l4-15-3-3-3 16zM569 1720l3-16-2-2-4 16z"/><path class="p18" d="M566 1718l4-16-3-1-3 15zM564 1716l3-15-2-2-3 16z"/><path class="p19" d="M587 1725l3-16-2-5-4 17z"/><path class="p20" d="M584 1721l4-17-3-5-3 18z"/><path class="p21" d="M582 1717l3-18-2-5-3 19z"/><path class="p22" d="M580 1713l3-19-3-4-3 20z"/><path class="p23" d="M577 1710l3-20-2-3-3 20z"/><path class="p24" d="M575 1707l3-20-3-3-3 20z"/><path class="p25" d="M572 1704l3-20-2-3-3 21zM570 1702l3-21-3-2-3 22zM567 1701l3-22-2-1-3 21z"/><path class="p26" d="M590 1709l3-21-2-7-3 23z"/><path class="p28" d="M588 1704l3-23-3-6-3 24z"/><path class="p30" d="M585 1699l3-24-2-5-3 24z"/><path class="p31" d="M583 1694l3-24-2-5-4 25z"/><path class="p32" d="M580 1690l4-25-3-5-3 27z"/><path class="p33" d="M578 1687l3-27-2-3-4 27z"/><path class="p34" d="M596 1695l3-26-2-9-4 28zM575 1684l4-27-3-3-3 27z"/><path class="p35" d="M573 1681l3-27-2-2-4 27z"/><path class="p36" d="M593 1688l4-28-3-8-3 29z"/><path class="p38" d="M601 1678l2-10-3-10-1 11z"/><path class="p39" d="M591 1681l3-29-2-7-4 30z"/><path class="p41" d="M599 1669l1-11-2-9-1 11zM588 1675l4-30-3-7-3 32z"/><path class="p43" d="M586 1670l3-32-2-7-3 34z"/><path class="p44" d="M597 1660l1-11-3-8-1 11z"/><path class="p45" d="M584 1665l3-34-3-5-3 34z"/><path class="p46" d="M581 1660l3-34-2-4-3 35z"/><path class="p47" d="M594 1652l1-11-2-9-1 13zM579 1657l3-35-3-4-3 36z"/><path class="p50" d="M592 1645l1-13-3-7-1 13z"/><path class="p52" d="M589 1638l1-13-2-7-1 13z"/><path class="p54" d="M587 1631l1-13-3-5-1 13z"/><path class="p56" d="M584 1626l1-13-2-5-1 14z"/><path class="p57" d="M582 1622l1-14-3-4-1 14z"/><path class="p0" d="M561 1768l3-2-2-1-3 1zM556 1768l3-2 3-1-2-2-4 2-3 2zM547 1769l3-1 3-1 3-2 4-2-3-1-3 2-3 1-4 2-3 1zM541 1769l3-1 3-1 4-2 3-1 3-2-2-2-4 2-3 2-3 1-3 2-3 1zM535 1769l4-1 3-1 3-2 3-1 3-2 4-2-3-1-3 2-3 2-3 1-4 1-3 1-3 2zM527 1770l3-1 3-1 3-2 3-1 4-1 3-1 3-2-2-1-4 1-3 2-3 1-3 1-4 1-3 1-3 1zM549 1761l3-2-2-1-3 2zM521 1769l3-1 3-1 3-1 4-1 3-1 3-1 3-2-2-1-3 2-4 1-3 1-3 1-3 1-3 1-4 1zM543 1761l4-1 3-2-3-2-3 2-3 2zM515 1769l3-1 4-1 3-1 3-1 3-1 3-1 4-1-3-2-3 2-3 1-3 1-4 1-3 1-3 1-3 1zM538 1762l3-2-3-1-3 1zM509 1769l4-1 3-1 3-1 3-1 4-1 3-1 3-1-3-2-3 1-3 1-3 1-3 1-4 1-3 1-3 1zM532 1762l3-2-2-1-4 1zM501 1769l3-1 3-1 3-1 3-1 4-1 3-1 3-1-2-1-4 1-3 1-3 1-3 1-3 1-4 1-3 1zM523 1762l3-1 3-1-2-1-3 1-3 1zM495 1769l3-1 3-1 4-1 3-1 3-1 3-1 3-1-2-1-3 1-3 1-4 1-3 1-3 1-3 1-4 1zM517 1762l4-1-3-1-3 1zM489 1769l3-1 4-1 3-1 3-1 3-1 4-1 3-1-3-1-3 1-3 1-3 1-4 1-3 1-3 0-3 1zM512 1762l3-1-3-1-3 1zM480 1769l4-1 3-1 3-1 3 0 3-1 4-1 3-1-3-2-3 1-3 1-3 1-3 1-4 1-3 1-3 1zM503 1763l3-1 3-1-2-2-3 1-4 1zM475 1769l3-1 3-1 3-1 4-1 3-1 3-1 3-1-2-1-3 1-4 1-3 1-3 1-3 1-4 1-3 1zM497 1762l3-1-2-1-3 1zM469 1769l3-1 3-1 4-1 3-1 3-1 3-1 4-1-3-1-3 1-3 1-4 1-3 1-3 1-3 1-3 0zM492 1762l3-1-3-1-3 1zM460 1769l3-1 4-1 3 0 3-1 3-1 3-1 4-1-3-2-3 1-3 1-3 1-4 1-3 1-3 1-3 1zM483 1763l3-1 3-1-2-2-4 1-3 1zM455 1769l3-1 3-1 3-1 3-1 4-1 3-1 3-1-2-1-4 1-3 1-3 1-3 1-4 1-3 1-3 1zM477 1762l3-1-2-1-3 1zM449 1769l3-1 3-1 3-1 4-1 3-1 3-1 3-1-2-1-3 1-4 0-3 1-3 1-3 1-3 1-4 1zM471 1762l4-1-3-1-3 1zM443 1768l3-1 4-1 3-1 3-1 3-1 3-1 4 0-3-2-3 1-3 1-3 1-4 1-3 1-3 1-3 1zM466 1762l3-1-3-2-3 1zM434 1769l4-1 3-1 3-1 3-1 3-1 4-1 3-1-3-2-3 1-3 1-3 1-4 1-3 1-3 1-3 1zM457 1762l3-1 3-1-2-1-3 0-4 1zM429 1768l3-1 3-1 3-1 3-1 4-1 3-1 3-1-2-1-4 0-3 2-3 1-3 1-3 1-4 1-3 1zM451 1761l3-1-2-1-3 1zM423 1767l3 0 3-1 4-1 3-1 3-1 3-1 3-2-2-2-3 2-3 1-4 1-3 1-3 1-3 1-4 1zM445 1760l4 0-3-2-3 0zM414 1768l3-1 3-1 4-1 3-1 3-1 3-1 4-1-3-3-3 2-3 1-4 1-3 1-3 1-3 1-3 1zM412 1766l3-1 3-1-2-2-4 1-3 1z"/><path class="p1" d="M567 1768l3-2 3-3-2-2-3 3-4 2zM564 1766l4-2 3-3-3-2-3 3-3 3zM562 1765l3-3 3-3-2-1-3 3-3 2zM560 1763l3-2-3-2-3 3zM557 1762l3-3-2-1-3 2zM555 1760l3-2-3-2-3 3zM552 1759l3-3-2-1-3 3zM437 1761l3-1 3-2-3-2-3 1-3 1zM408 1767l4-1-3-2-3 1zM418 1764l3-1 3-1 4-1 3-1 3-2-2-2-4 1-3 1-3 2-3 1-3 1zM403 1766l3-1 3-1 3-1 4-1 3-1 3-1 3-2-2-3-3 2-4 1-3 2-3 1-3 1-4 1-3 1zM397 1765l3-1 3-1 4-1 3-1 3-1 3-2-1-1-3 2-3 1-3 1-3 2-4 1-3 0z"/><path class="p2" d="M576 1765l3-3-2-3-4 4zM573 1763l4-4-3-2-3 4zM571 1761l3-4-2-2-4 4zM563 1761l3-3-2-2-4 3zM560 1759l4-3-3-2-3 4zM558 1758l3-4-2-1-4 3zM425 1758l3-1-2-3-3 1zM416 1758l4-1 3-2-1-1-3 2-4 1z"/><path class="p3" d="M581 1764l4-4-3-3-3 5zM579 1762l3-5-2-2-3 4zM577 1759l3-4-3-3-3 5zM568 1759l4-4-3-2-3 5zM566 1758l3-5-2-2-3 5zM564 1756l3-5-3-1-3 4z"/><path class="p4" d="M587 1762l3-4-2-3-3 5zM585 1760l3-5-3-3-3 5zM574 1757l3-5-2-2-3 5zM572 1755l3-5-3-2-3 5z"/><path class="p5" d="M582 1757l3-5-2-3-3 6zM580 1755l3-6-2-3-4 6zM569 1753l3-5-2-2-3 5z"/><path class="p6" d="M590 1758l4-7-3-3-3 7zM588 1755l3-7-2-4-4 8zM577 1752l4-6-3-3-3 7zM575 1750l3-7-2-3-4 8z"/><path class="p7" d="M596 1755l3-8-2-4-3 8zM585 1752l4-8-3-4-3 9zM572 1748l4-8-3-2-3 8z"/><path class="p8" d="M594 1751l3-8-3-5-3 10zM583 1749l3-9-2-3-3 9z"/><path class="p9" d="M602 1751l3-9-3-5-3 10zM581 1746l3-9-3-4-3 10z"/><path class="p10" d="M591 1748l3-10-2-4-3 10zM578 1743l3-10-2-3-3 10z"/><path class="p11" d="M599 1747l3-10-2-6-3 12zM589 1744l3-10-3-5-3 11z"/><path class="p12" d="M607 1747l4-11-3-6-3 12zM597 1743l3-12-2-5-4 12zM586 1740l3-11-2-4-3 12z"/><path class="p13" d="M584 1737l3-12-3-4-3 12z"/><path class="p14" d="M605 1742l3-12-2-7-4 14zM594 1738l4-12-3-6-3 14z"/><path class="p15" d="M613 1742l3-13-2-8-3 15z"/><path class="p16" d="M602 1737l4-14-3-7-3 15zM592 1734l3-14-2-6-4 15z"/><path class="p17" d="M611 1736l3-15-3-8-3 17zM589 1729l4-15-3-5-3 16z"/><path class="p18" d="M616 1729l1-5-2-9-1 6zM600 1731l3-15-2-7-3 17z"/><path class="p20" d="M608 1730l3-17-2-9-3 19zM598 1726l3-17-3-7-3 18z"/><path class="p21" d="M614 1721l1-6-3-9-1 7z"/><path class="p22" d="M606 1723l3-19-3-9-3 21zM595 1720l3-18-2-7-3 19z"/><path class="p24" d="M593 1714l3-19-3-7-3 21z"/><path class="p25" d="M611 1713l1-7-2-9-1 7zM603 1716l3-21-2-9-3 23z"/><path class="p28" d="M609 1704l1-7-3-10-1 8zM601 1709l3-23-3-8-3 24z"/><path class="p31" d="M606 1695l1-8-2-9-1 8zM598 1702l3-24-2-9-3 26z"/><path class="p35" d="M604 1686l1-8-2-10-2 10z"/><path class="p0" d="M591 1774l3-1-3-2-3 2zM585 1775l3-2-2-1-4 1zM579 1775l3-2 4-1-3-2-3 2-3 1zM574 1775l3-2 3-1 3-2-2-2-3 2-4 2-3 1zM565 1776l3-1 3-2 3-1 4-2-3-1-3 2-3 1-4 1-3 1zM559 1776l3-2 3-1 4-1 3-1 3-2-2-2-4 2-3 2-3 1-3 1-3 1zM553 1775l4-1 3-1 3-1 3-1 3-2 4-2-3-1-3 2-3 1-3 2-4 1-3 1-3 1zM544 1776l4-1 3-1 3-1 3-1 4-1 3-2 3-1-3-2-3 2-3 1-3 2-3 1-4 1-3 1-3 1zM539 1776l3-1 3-1 3-1 4-1 3-1 3-2 3-1-2-2-3 2-4 1-3 1-3 2-3 1-3 1-4 1zM533 1776l3-1 4-1 3-1 3-1 3-2 3-1 4-1-3-1-3 1-3 1-3 1-4 1-3 1-3 1-3 1zM524 1776l3-1 4-1 3-1 3-1 3-1 4-1 3-1-3-1-3 1-3 1-3 1-4 1-3 1-3 1-3 1zM519 1776l3-1 3-1 3-1 3-1 4-1 3-1 3-1-2-1-4 1-3 1-3 1-3 1-3 1-4 1-3 1zM513 1776l3-1 3-1 4-1 3-1 3-1 3-1 3-1-2-1-3 1-3 1-4 0-3 1-3 1-3 1-4 1zM504 1776l3-1 3-1 4-1 3-1 3-1 3-1 4 0-3-2-3 1-3 1-4 1-3 1-3 1-3 1-3 1zM498 1776l4-1 3-1 3-1 3-1 3-1 4-1 3-1-3-1-3 1-3 1-3 1-3 1-4 1-3 1-3 1zM493 1776l3-1 3-1 3-1 4-1 3-1 3-1 3-1-2-1-4 1-3 1-3 1-3 1-3 1-4 1-3 0zM487 1775l3-1 3 0 4-1 3-1 3-1 3-1 3-1-2-2-3 1-3 1-4 1-3 1-3 1-3 1-3 1zM478 1776l3-1 4-1 3-1 3-1 3-1 3-1 4-1-3-1-3 1-3 1-3 1-4 1-3 1-3 1-3 1zM472 1776l4-1 3-1 3-1 3-1 4-1 3-1 3-1-3-1-3 1-3 1-3 1-3 1-4 1-3 1-3 1zM467 1775l3 0 3-1 3-1 4-1 3-1 3-1 3-1-2-2-3 1-4 1-3 1-3 1-3 1-3 1-4 1zM458 1776l3-1 3-1 4-1 3-1 3-1 3-1 3-1-2-1-3 1-3 1-4 1-3 1-3 1-3 1-4 1zM452 1776l3-1 4-1 3-1 3-1 3-1 4-1 3-1-3-1-3 1-3 1-3 1-4 1-3 1-3 0-3 1zM447 1775l3-1 3-1 3 0 3-1 4-1 3-1 3-1-2-2-4 1-3 1-3 1-3 1-3 1-4 1-3 1zM438 1776l3-1 3-1 3-1 4-1 3-1 3-1 3-1-2-1-3 1-4 1-3 1-3 1-3 1-4 0-3 1zM432 1775l3-1 3-1 4 0 3-1 3-1 3-1 4-1-3-1-3 1-3 1-4 0-3 1-3 1-3 1-3 1zM426 1774l4 0 3-1 3-1 3-1 3-1 4 0 3-1-3-2-3 1-3 1-3 1-3 1-4 1-3 0-3 1zM421 1774l3-1 3-1 3 0 4-1 3-1 3-1 3-1-2-1-3 1-4 1-3 0-3 1-3 1-4 1-3 0zM415 1773l3-1 3 0 4-1 3-1 3-1 3 0-2-2-3 1-4 1-3 1-3 0-3 1-3 1zM413 1772l3-1 3-1 3 0 3-1 4-1-3-1-3 0-3 1-3 1-4 1-3 0zM410 1770l3 0 4-1 3-1 3-1-3-1-3 1-3 1-3 0-3 1zM411 1768l3 0-2-2-4 1z"/><path class="p1" d="M599 1772l4-2-3-2-3 3zM594 1773l3-2-2-2-4 2zM588 1773l3-2 4-2-3-2-3 2-3 3zM586 1772l3-3 3-2-2-2-4 3-3 2zM583 1770l3-2-2-2-3 2zM578 1770l3-2 3-2-3-2-3 3-3 2zM575 1769l3-2 3-3-2-2-3 3-3 2zM573 1767l3-2-3-2-3 3zM412 1774l3-1-2-1-4 0zM406 1773l3-1 4 0-3-2-3 1-3 0zM401 1772l3-1 3 0 3-1-2-1-4 0-3 1-3 0zM395 1770l3 0 3 0 3-1 4 0 3-1-3-1-3 0-3 1-3 0-3 0-4 1zM396 1768l3 0 3 0 3-1 3 0-2-2-3 1-3 0-4 1-3 0zM393 1767l3 0 4-1 3 0-3-2-3 1-3 0-3 1zM391 1766l3-1 3 0-1-1-3 1-3 0z"/><path class="p2" d="M611 1771l3-3-2-3-4 4zM605 1772l3-3-2-2-3 3zM603 1770l3-3-3-3-3 4zM597 1771l3-3-2-2-3 3zM595 1769l3-3-3-3-3 4zM592 1767l3-4-2-3-3 5zM586 1768l4-3-3-3-3 4zM584 1766l3-4-2-2-4 4zM392 1771l3-1-3-1-3 0zM386 1769l3 0 3 0 4-1-3-1-3 0-3 0-4 0zM383 1767l4 0 3 0 3 0-2-1-4 0-3 0-3 0zM384 1766l3 0 4 0-1-1-3 0-4 0z"/><path class="p3" d="M608 1769l4-4-3-3-3 5zM606 1767l3-5-2-3-4 5zM600 1768l3-4-2-3-3 5zM598 1766l3-5-2-3-4 5zM590 1765l3-5-3-2-3 4zM380 1768l3-1-2-1-3 0zM375 1766l3 0 3 0 3 0-1-1-3 0-3 0-3 0z"/><path class="p4" d="M620 1767l3-5-3-4-3 6zM614 1768l3-4-2-4-3 5zM612 1765l3-5-3-4-3 6zM603 1764l4-5-3-4-3 6zM595 1763l4-5-3-3-3 5z"/><path class="p5" d="M617 1764l3-6-2-5-3 7zM609 1762l3-6-2-4-3 7zM601 1761l3-6-2-4-3 7zM593 1760l3-5-2-4-4 7z"/><path class="p6" d="M625 1765l4-5-3-5-3 7zM599 1758l3-7-3-4-3 8z"/><path class="p7" d="M629 1760l1-3-3-5-1 3zM623 1762l3-7-2-5-4 8zM615 1760l3-7-2-5-4 8zM607 1759l3-7-3-5-3 8z"/><path class="p8" d="M620 1758l4-8-3-6-3 9zM612 1756l4-8-3-6-3 10zM604 1755l3-8-2-5-3 9z"/><path class="p9" d="M626 1755l1-3-2-6-1 4z"/><path class="p10" d="M618 1753l3-9-2-7-3 11zM610 1752l3-10-2-6-4 11z"/><path class="p11" d="M624 1750l1-4-3-6-1 4z"/><path class="p12" d="M616 1748l3-11-3-8-3 13z"/><path class="p13" d="M621 1744l1-4-2-8-1 5z"/><path class="p16" d="M619 1737l1-5-3-8-1 5z"/><path class="p0" d="M597 1780l3-1-2-1-3 1zM592 1780l3-1 3-1 3-1-2-2-3 2-4 1-3 1zM586 1780l3-1 3-1 4-1 3-2-3-1-3 2-3 1-3 1-4 1zM580 1780l3-1 4-1 3-1 3-1 3-2-2-1-3 1-4 2-3 1-3 1-3 1zM571 1781l4-1 3-1 3-1 3-1 3-1 4-2-3-1-3 2-3 1-3 1-4 1-3 1-3 1zM566 1781l3-1 3-1 3-1 4-1 3-1 3-1-3-2-3 2-3 1-3 1-3 1-4 1-3 1zM560 1781l3-1 3-1 4-1 3-1 3-1 3-1-2-2-3 2-4 1-3 1-3 1-3 1-3 1zM551 1782l3-1 4-1 3-1 3-1 3-1 3-1 4-1-3-2-3 2-3 1-4 1-3 1-3 1-3 1-3 1zM545 1782l4-1 3-1 3-1 3-1 3-1 4-1-3-2-3 2-3 1-3 1-4 1-3 1-3 1zM540 1782l3-1 3-1 3-1 4-1 3-1 3-1-2-2-4 1-3 1-3 1-3 1-3 1-4 1zM531 1782l3-1 3-1 4-1 3-1 3-1 3-1 3-1-2-1-3 1-4 1-3 1-3 1-3 1-3 1-4 1zM525 1782l3-1 4-1 3-1 3-1 3-1 3-1-2-1-3 1-3 1-4 1-3 1-3 1-3 1zM520 1782l3-1 3-1 3-1 3-1 4-1 3-1-3-1-3 1-3 1-3 1-3 0-4 1-3 1zM514 1781l3-1 3-1 4-1 3 0 3-1 3-1-2-2-4 1-3 1-3 1-3 1-3 1-4 1zM505 1782l3-1 3-1 4-1 3-1 3-1 3-1-2-1-3 1-4 1-3 1-3 1-3 1-3 1zM499 1782l4-1 3-1 3-1 3-1 3-1 4-1-3-1-3 1-3 1-3 1-4 1-3 1-3 1zM494 1781l3 0 3-1 3-1 4-1 3-1 3-1-3-2-3 1-3 1-3 1-3 1-4 1-3 1zM485 1782l3-1 3-1 3-1 4-1 3-1 3-1-2-1-4 1-3 1-3 1-3 1-3 1-4 1zM479 1782l3-1 4-1 3-1 3-1 3-1 3-1-2-1-3 1-3 1-4 1-3 1-3 1-3 1zM473 1782l4-1 3-1 3-1 3-1 4-1 3-1-3-2-3 1-3 1-3 1-4 1-3 1-3 1zM465 1782l3-1 3-1 3-1 3-1 4-1 3-1 3-1-2-1-4 1-3 1-3 1-3 1-3 1-4 1-3 1zM459 1782l3-1 3-1 4-1 3-1 3-1 3-1-2-1-4 1-3 1-3 1-3 1-3 1-4 1zM453 1781l3 0 4-1 3-1 3-1 3-1 3-1-2-1-3 0-3 1-4 1-3 1-3 1-3 1zM448 1781l3-1 3-1 3-1 3-1 4-1 3-1-3-1-3 1-3 1-3 1-3 1-4 1-3 1zM439 1782l3-1 3-1 3-1 4-1 3-1 3-1-3-1-3 1-3 1-3 0-3 1-4 1-3 1zM433 1781l3-1 3-1 4-1 3-1 3 0 3-1-2-2-3 1-4 1-3 1-3 1-3 1-3 1zM427 1780l4 0 3-1 3-1 3-1 3-1 4-1-3-1-3 1-3 1-3 0-4 1-3 1-3 1zM418 1781l4-1 3-1 3-1 3-1 4-1 3 0-3-2-3 1-3 1-3 1-4 0-3 1-3 1zM413 1780l3-1 3-1 3-1 4 0 3-1 3-1-2-1-4 0-3 1-3 1-3 1-3 1-4 0zM410 1778l4 0 3-1 3-1 3-1 3-1-2-1-3 1-3 0-4 1-3 1-3 1zM414 1775l4-1 3 0-3-2-3 1-3 1z"/><path class="p1" d="M617 1777l4-1-3-1-3 2zM612 1778l3-1 3-2-2-1-3 2-4 1zM606 1778l3-1 4-1 3-2-3-1-3 2-3 1-3 2zM600 1779l4-1 3-2 3-1 3-2-2-2-3 2-4 2-3 2-3 1zM601 1777l3-2 4-2 3-2-3-2-3 3-3 2-3 1zM599 1775l3-1 3-2-2-2-4 2-3 2zM596 1774l3-2-2-1-3 2zM407 1779l3-1-2-1-3 1zM398 1780l3-1 4-1 3-1 3-1 3-1-2-1-3 0-4 1-3 1-3 1-3 1zM393 1779l3-1 3-1 3-1 3-1 4-1 3 0-3-2-3 1-3 0-3 1-3 1-4 1-3 1zM387 1778l3-1 3-1 4-1 3-1 3-1 3 0-2-2-3 1-4 0-3 1-3 0-3 1-4 2zM378 1779l3-2-2-3-3 2zM397 1772l4 0-3-2-3 0z"/><path class="p2" d="M626 1775l4-1-3-1-3 1zM621 1776l3-2 3-1-2-2-4 2-3 2zM618 1775l3-2 4-2-3-2-3 3-3 2zM616 1774l3-2 3-3-2-2-4 3-3 3zM613 1773l3-3-2-2-3 3zM381 1777l3-1 4-2 3-1 3 0 3-1-2-2-3 1-4 0-3 1-3 1-3 1zM372 1778l4-2 3-2 3-1 3-1 3-1 4 0-3-2-3 0-3 1-3 0-4 1-3 2-3 2zM367 1777l3-2-3-4-3 2z"/><path class="p3" d="M638 1773l3-2-3-1-3 2zM632 1774l3-2 3-2-2-1-3 2-3 3zM630 1774l3-3 3-2-3-3-3 4-3 3zM627 1773l3-3-2-2-3 3zM625 1771l3-3-3-3-3 4zM616 1770l4-3-3-3-3 4zM370 1775l3-2 3-2 4-1 3 0 3-1-3-2-3 1-3 0-3 1-3 1-4 1zM361 1776l3-3 3-2 4-1 3-1 3-1 3 0-2-2-3 0-4 0-3 1-3 1-3 2-3 2zM359 1772l3-2-1-2-3 2z"/><path class="p4" d="M641 1771l1-1-3-1-1 1zM638 1770l1-1-2-2-1 2zM636 1769l1-2-2-2-2 1zM630 1770l3-4-2-3-3 5zM622 1769l3-4-2-3-3 5zM362 1770l3-2 3-1 3-1 4 0-1-1-3 0-4 1-3 1-3 1z"/><path class="p5" d="M633 1766l2-1-3-4-1 2zM628 1768l3-5-2-3-4 5z"/><path class="p6" d="M631 1763l1-2-2-4-1 3z"/><path class="p0" d="M593 1786l3-1 3-2-3-1-3 2-3 1zM587 1786l3-1 3-1 3-2 4-1-3-1-3 1-3 1-3 2-4 1zM578 1787l3-1 3-1 4-1 3-2 3-1 3-1-2-1-3 1-4 1-3 2-3 1-3 1-3 1zM572 1787l4-1 3-1 3-1 3-1 3-2 4-1-3-1-3 1-3 2-4 1-3 1-3 1-3 1zM567 1787l3-1 3-1 3-1 3-1 4-1 3-2-3-1-3 1-3 2-3 1-3 1-4 1-3 1zM558 1788l3-1 3-1 3-1 4-1 3-1 3-1 3-2-2-1-3 1-4 1-3 2-3 1-3 1-3 1-4 1zM552 1788l3-1 4-1 3-1 3-1 3-1 3-2-2-1-3 1-4 1-3 1-3 2-3 1-3 1zM546 1788l4-1 3-1 3-1 3-2 3-1 4-1-3-1-3 1-3 1-3 1-4 1-3 1-3 1zM541 1787l3-1 3-1 3-1 4-1 3-1 3-1-2-1-4 1-3 1-3 1-3 1-3 1-4 1zM532 1788l3-1 3-1 4-1 3-1 3-1 3-1-2-1-4 1-3 1-3 1-3 1-3 1-4 1zM526 1788l3-1 4-1 3-1 3-1 3-1 3-1-2-1-3 1-3 1-4 1-3 1-3 0-3 1zM521 1787l3-1 3-1 3 0 3-1 4-1 3-1-3-2-3 1-3 1-3 1-4 1-3 1-3 1zM512 1788l3-1 3-1 3-1 3-1 4-1 3-1-3-1-3 1-3 1-3 1-3 1-4 1-3 1zM506 1788l3-1 3-1 4-1 3-1 3-1 3-1-2-1-3 1-4 1-3 1-3 1-3 1-3 1zM500 1788l4-1 3-1 3-1 3-1 3-1 4-1-3-2-3 1-3 1-4 1-3 1-3 1-3 1zM491 1788l4-1 3-1 3-1 3-1 3-1 4-1 3-1-3-1-3 1-3 1-3 1-3 1-4 1-3 1-3 1zM486 1788l3-1 3-1 3-1 4-1 3-1 3-1-2-1-4 1-3 1-3 1-3 1-3 1-4 1zM480 1788l3-1 4-1 3-1 3-1 3-1 3-1-2-1-3 0-4 1-3 1-3 1-3 1-3 1zM474 1787l4-1 3-1 3-1 3-1 3-1 4-1-3-1-3 1-3 1-3 1-4 1-3 1-3 1zM466 1788l3-1 3-1 3-1 3-1 4-1 3-1-3-1-3 1-3 1-3 1-3 1-4 1-3 1zM460 1788l3-1 3-1 4-1 3-1 3-1 3-1-2-1-4 1-3 0-3 1-3 1-3 1-4 1zM454 1787l3-1 4-1 3-1 3-1 3-1 3 0-2-2-3 1-3 1-4 1-3 1-3 1-3 1zM445 1788l4-1 3-1 3-1 3-1 3-1 4-1-3-1-3 1-3 1-4 1-3 1-3 1-3 1zM440 1788l3-1 3-1 3-1 3-1 4-1 3-1-3-1-3 0-3 1-3 1-3 1-4 1-3 1zM434 1787l3-1 3-1 4-1 3-1 3-1 3-1-2-1-3 1-4 1-3 1-3 1-3 1-3 1zM425 1788l3-1 4-1 3-1 3-1 3-1 3-1 4-1-3-1-3 1-3 1-4 0-3 1-3 1-3 2-3 1zM419 1788l4-1 3-1 3-2 3-1 3-1 4 0-3-2-3 1-3 1-3 1-4 1-3 1-3 1zM414 1787l3-1 3-1 3-1 4-1 3-1 3-1-2-1-4 0-3 1-3 1-3 2-3 1-4 1zM405 1788l3-1 3-1 4-1 3-1 3-2 3-1 3-1-2-1-3 1-4 1-3 1-3 1-3 1-3 2-4 1zM399 1788l3-1 4-1 3-2 3-1 3-1 3-1-2-2-3 1-3 1-4 1-3 2-3 1-3 1zM394 1787l3-1 3-1 3-1 3-2 4-1 3-1-3-2-3 1-3 2-3 1-3 1-4 2-3 1zM388 1787l3-1 3-1 4-2 3-1 3-1 3-2-2-1-4 1-3 1-3 1-3 2-3 1-4 2zM379 1787l3 0 3-1 4-2 3-1 3-2-2-2-4 1-3 2-3 2-3 1-3 1zM373 1787l4-1 3-1 3-1 3-2-2-2-3 1-4 2-3 2-3 1zM371 1786l3-1 3-2-2-2-3 2-4 1zM368 1784l4-1-3-3-3 2z"/><path class="p1" d="M613 1783l3-1-3-1-3 1zM607 1784l3-2 3-1 4-2-3 0-3 1-3 1-3 2zM598 1786l3-2 4-1 3-2 3-1 3-1 3-2-2 0-3 1-3 1-4 2-3 1-3 1-3 2zM599 1783l3-1 3-1 4-2 3-1-3-1-3 1-3 2-3 1-4 1zM600 1781l3-1 3-2-2 0-4 1-3 1zM395 1781l3-1-2-2-3 1zM386 1782l3-2 4-1-3-2-3 1-3 2zM377 1783l4-2 3-1 3-2-3-2-3 1-3 2-3 2zM372 1783l3-2 3-2-2-3-4 2-3 2zM366 1782l3-2 3-2-2-3-3 2-4 2z"/><path class="p2" d="M618 1783l4-2 3-2 3-1-2-1-4 2-3 1-3 2zM616 1782l3-2 3-1 4-2 3-1 3-2-2 0-4 1-3 2-3 1-3 1-4 2zM617 1779l3-1 3-1 3-2-2-1-3 2-4 1-3 2zM363 1779l4-2-3-4-3 3z"/><path class="p3" d="M633 1779l3-2-2-1-3 2zM627 1780l4-2 3-2 3-1 3-2-2 0-4 2-3 1-3 2-3 1zM628 1778l3-2 3-1 4-2-3-1-3 2-3 2-3 1z"/><path class="p4" d="M639 1777l3-2 3-2-2 0-4 2-3 2zM636 1777l3-2 4-2 3-1 1-1-3 0-1 1-3 1-3 2-3 1zM640 1773l3-1 1-1-2-1-1 1-3 2z"/><path class="p5" d="M644 1776l4-2 3-2 1-1-3 0-1 1-3 1-3 2zM645 1773l3-1 1-1-2 0-1 1-3 1z"/><path class="p6" d="M653 1772l1-1-2 0-1 1z"/><path class="p0" d="M605 1793l3-2-2-1-4 1zM599 1793l3-2 4-1-3-2-3 2-3 1zM593 1793l4-2 3-1 3-2-2-1-4 1-3 2-3 1zM588 1793l3-2 3-1 3-2 4-1-3-1-3 1-3 2-3 1-4 1zM579 1794l3-2 3-1 4-1 3-1 3-2 3-1-2-1-3 1-4 1-3 2-3 1-3 1-4 1zM573 1793l3-1 4-1 3-1 3-1 3-2 4-1-3-1-3 1-3 1-4 2-3 1-3 1-3 1zM568 1793l3-1 3-1 3-1 3-1 4-2 3-1-3-1-3 1-3 1-3 2-3 1-4 1-3 1zM559 1794l3-1 3-1 3-1 4-1 3-1 3-2-2-1-4 1-3 1-3 2-3 1-4 1-3 1zM553 1794l3-1 3-1 4-1 3-1 3-2 3-1-2-1-3 1-4 1-3 1-3 1-3 1-3 1zM547 1793l4-1 3-1 3-1 3-1 3-1 4-1-3-1-3 1-3 1-3 1-4 1-3 1-3 1zM539 1794l3-1 3-1 3-1 3-1 4-1 3-1-3-1-3 1-3 1-3 1-4 1-3 1-3 1zM533 1794l3-1 3-1 3-1 4-1 3-1 3-1-2-1-4 1-3 1-3 1-3 1-3 1-4 0zM527 1793l3-1 4 0 3-1 3-1 3-1 3-1-2-2-3 1-3 1-4 1-3 1-3 1-3 1zM518 1794l4-1 3-1 3-1 3-1 3-1 4-1 3-1-3-1-3 1-3 1-3 1-4 1-3 1-3 1-3 1zM513 1794l3-1 3-1 3-1 3-1 4-1 3-1-3-1-3 1-3 1-3 1-3 1-4 1-3 1zM507 1794l3-1 3-1 4-1 3-1 3-1 3-1-2-2-3 1-4 1-3 1-3 1-3 1-4 1zM501 1793l3-1 4-1 3-1 3-1 3-1 4-1-3-1-3 1-3 1-4 1-3 1-3 1-3 1zM492 1794l4-1 3-1 3-1 3-1 3-1 4-1-3-1-3 1-3 1-3 1-4 1-3 1-3 1zM487 1794l3-1 3-1 3-1 4-1 3-1 3-1-2-1-4 1-3 0-3 1-3 1-4 1-3 1zM481 1793l3-1 3-1 4-1 3-1 3-1 3 0-2-2-3 1-4 1-3 1-3 1-3 1-3 1zM472 1794l3-1 4-1 3-1 3-1 3-1 3-1-2-1-3 1-3 1-4 1-3 1-3 1-3 1zM467 1794l3-1 3-1 3-1 3-1 4-1 3-1-3-1-3 1-3 1-3 1-4 1-3 0-3 1zM461 1793l3-1 3-1 3 0 4-1 3-1 3-1-2-2-4 1-3 1-3 1-3 1-3 1-4 1zM452 1794l3-1 3-1 4-1 3-1 3-1 3-1 3-1-2-1-3 1-3 1-4 1-3 1-3 1-3 1-3 1zM446 1794l4-1 3-1 3-1 3-1 3-1 4-1-3-1-3 1-3 1-4 1-3 1-3 1-3 0zM441 1793l3-1 3 0 3-1 3-1 4-1 3-1-3-2-3 1-3 1-3 1-3 1-4 1-3 1zM435 1793l3-1 3-1 4-1 3-1 3-1 3-1-2-1-3 1-4 1-3 1-3 1-3 1-3 1zM426 1793l3-1 4 0 3-1 3-1 3-1 3-1-2-1-3 1-4 1-3 1-3 1-3 0-3 1zM420 1792l4 0 3-1 3 0 3-1 3-1 4-1-3-2-3 1-3 1-3 1-4 1-3 1-3 0zM415 1791l3 0 3 0 3-1 4-1 3-1 3-1-2-1-4 1-3 1-3 1-3 1-4 1-3 0zM409 1790l3 1 3 0 4-1 3-1 3-1-2-1-4 1-3 1-3 1-3 0-3 0zM403 1789l4 1 3 0 3 0 3-1 3-1-2-2-3 1-3 1-4 1-3 1-3-1zM398 1788l3 1 3 1 3-1 4-1 3-1-3-1-3 1-3 1-3 1-4 0-3 0zM395 1789l3 0 4 0 3-1-3-1-3 1-3 1-3 0zM390 1788l3 1 3 0 3-1-2-2-3 1-4 1-3 0zM384 1787l3 1 3 0 4-1-3-1-3 1-3 1-4 0zM378 1786l3 2 4 0 3-1-3-1-3 1-3 0-3 0zM376 1787l3 0-2-1-4 1z"/><path class="p1" d="M625 1790l3-2-2-2-3 3zM619 1791l4-2-3-2-3 2zM614 1791l3-2 3-2-2-1-4 2-3 1zM608 1791l3-2 3-1 4-2-3-2-3 2-3 2-3 2zM606 1790l3-2 3-2 3-2-2-1-3 2-4 2-3 1zM603 1788l3-1 4-2 3-2-3-1-3 2-3 1-3 2zM601 1787l3-2 3-1-2-1-4 1-3 2zM406 1789l3 1-2 0-4-1zM400 1787l3 2-2 0-3-1zM392 1787l3 2-2 0-3-1zM386 1786l4 2-3 0-3-1zM381 1784l3 3-3 1-3-2z"/><path class="p2" d="M634 1787l3-2-2-2-4 3zM628 1788l3-2-2-2-3 2zM623 1789l3-3 3-2-2-1-4 2-3 2zM620 1787l3-2 4-2 3-2-3-1-3 2-3 2-3 2zM618 1786l3-2 3-2 3-2-2-1-3 2-4 2-3 1zM615 1784l3-1-2-1-3 1zM395 1786l3 2-3 1-3-2zM389 1784l3 3-2 1-4-2z"/><path class="p3" d="M640 1787l3-3-3-2-3 3zM637 1785l3-3-2-2-3 3zM631 1786l4-3 3-3-3-1-3 3-3 2zM629 1784l3-2 3-3-2 0-3 2-3 2zM630 1781l3-2-2-1-4 2zM383 1781l3 5-2 1-3-3z"/><path class="p4" d="M645 1786l3-4-2-2-3 4zM643 1784l3-4-2-1-4 3zM640 1782l4-3-3-1-3 2zM638 1780l3-2 3-2-2-1-3 2-4 2zM635 1779l4-2-3 0-3 2zM386 1777l3 7-3 2-3-5z"/><path class="p5" d="M654 1781l3-4-2-2-3 4zM648 1782l4-3-3-2-3 3zM646 1780l3-3 3-3-2 0-3 2-3 3zM644 1779l3-3 3-2-2 0-4 2-3 2z"/><path class="p6" d="M660 1779l3-4-2-2-4 4zM652 1779l3-4 3-3-2 0-4 2-3 3zM652 1774l4-2-3 0-3 2zM650 1774l3-2-2 0-3 2z"/><path class="p7" d="M665 1777l2-2-3-2-1 2zM663 1775l1-2-2-1-1 1zM657 1777l4-4 1-1-3-1-1 1-3 3zM658 1772l1-1-2 0-1 1zM656 1772l1-1-3 0-1 1z"/><path class="p0" d="M652 1799l3-2-2-3-4 3zM646 1799l3-2-2-3-3 3zM641 1799l3-2-3-3-3 3zM632 1800l3-1 3-2-2-3-4 3-3 1zM626 1800l3-2 3-1 4-3-3-2-3 3-3 1-3 2zM620 1799l4-1 3-2 3-1-2-3-4 3-3 1-3 2zM611 1800l4-1 3-1 3-2 3-1-2-2-3 2-4 1-3 2-3 1zM606 1800l3-1 3-1 3-2 4-1 3-2-3-2-3 2-3 2-3 1-3 1-4 1zM600 1799l3-1 4-1 3-1 3-1 3-2-2-2-3 2-4 1-3 2-3 1-3 1zM594 1799l4-1 3-1 3-1 3-2 4-1 3-2-3-2-3 2-3 2-3 1-4 2-3 1-3 1zM586 1800l3-1 3-1 3-1 3-1 4-2 3-1-3-2-3 2-3 1-3 1-3 2-4 1-3 1zM580 1799l3 0 3-1 4-1 3-2 3-1 3-1-2-2-4 2-3 1-3 1-3 1-3 1-4 1zM574 1799l3-1 4-1 3-1 3-1 3-1 3-1-2-2-3 2-3 1-4 1-3 1-3 1-3 1zM565 1800l4-1 3-1 3-1 3-1 3-1 4-1 3-1-3-2-3 1-3 2-3 1-3 1-4 1-3 1-3 1zM560 1800l3-1 3-1 3-1 4-1 3-1 3-1-3-2-3 1-3 1-3 1-3 1-4 1-3 1zM554 1799l3-1 3-1 4-1 3-1 3-1 3-1-2-1-3 1-4 1-3 1-3 1-3 1-3 1zM545 1800l3-1 4-1 3-1 3-1 3-1 3-1 4-1-3-1-3 1-3 1-3 1-4 1-3 1-3 1-3 1zM539 1800l4-1 3-1 3-1 3-1 4-1 3-1-3-1-3 1-3 1-3 1-4 1-3 1-3 1zM534 1799l3 0 3-1 3-1 4-1 3-1 3-1-2-2-4 1-3 1-3 1-3 1-3 1-4 1zM525 1800l3-1 3-1 4-1 3-1 3-1 3-1 3-1-2-1-3 1-3 1-4 1-3 1-3 1-3 1-4 1zM519 1800l3-1 4-1 3-1 3-1 3-1 4-1-3-1-3 1-3 1-4 1-3 1-3 1-3 1zM514 1800l3-1 3-1 3-1 3-1 4-1 3-1-3-2-3 1-3 1-3 1-3 1-4 1-3 1zM508 1799l3-1 3-1 4-1 3-1 3-1 3-1-2-1-3 1-4 1-3 1-3 1-3 1-4 1zM499 1800l3-1 3-1 4-1 3-1 3-1 3-1-2-1-3 1-4 1-3 1-3 1-3 1-3 1zM493 1800l4-1 3-1 3-1 3-1 3-1 4-1-3-1-3 1-3 1-3 0-4 1-3 1-3 1zM488 1799l3-1 3-1 3-1 4-1 3 0 3-1-3-2-3 1-3 1-3 1-3 1-4 1-3 1zM479 1800l3-1 3-1 3-1 4-1 3-1 3-1 3-1-2-1-3 1-4 1-3 1-3 1-3 1-3 1-4 1zM473 1800l3-1 4-1 3-1 3-1 3-1 3-1-2-1-3 1-3 1-4 1-3 1-3 0-3 1zM467 1799l4-1 3-1 3 0 3-1 4-1 3-1-3-2-3 1-3 1-3 1-4 1-3 1-3 1zM459 1799l3 0 3-1 3-1 3-1 4-1 3-1 3-1-2-1-4 1-3 1-3 1-3 1-3 1-4 1-3 0zM453 1798l3 0 3 0 4-1 3-1 3-1 3-1-2-1-3 1-4 1-3 1-3 0-3 1-4 0zM447 1797l3 0 4 0 3-1 3 0 3-1 4-1-3-2-3 1-3 1-4 1-3 1-3 0-3 1zM442 1796l3 1 3-1 3 0 3-1 4-1 3-1-3-1-3 1-3 1-3 1-3 0-4 1-3 0zM439 1796l3 0 4-1 3 0 3-1-2-1-4 1-3 0-3 1-3 0zM433 1794l4 1 3 0 3-1 3 0-2-2-3 1-4 1-3 0-3 0zM431 1794l3 0 3 0 4-1-3-1-3 1-3 0-3 0zM425 1793l4 0 3 0 3 0-2-1-4 0-3 1-3-1zM423 1792l3 1-2-1-4 0zM417 1791l3 1-2-1-3 0z"/><path class="p1" d="M655 1797l3-4-2-3-3 4zM649 1797l4-3-3-3-3 3zM644 1797l3-3-2-3-4 3zM638 1797l3-3 4-3-3-2-3 3-3 2zM636 1794l3-2-3-2-3 2zM630 1795l3-3 3-2-2-3-3 3-3 2zM624 1795l4-3 3-2-3-2-3 2-3 3zM622 1793l3-3-2-1-4 2zM616 1793l3-2-2-2-3 2zM436 1795l3 1-2-1-4-1zM430 1793l3 1-2 0-3-1zM428 1793l3 1-2-1-4 0zM422 1791l3 2-2-1-3-1zM420 1791l3 1-3 0-3-1zM414 1790l3 1-2 0-3-1zM412 1790l3 1-3 0-3-1z"/><path class="p2" d="M661 1797l3-4-2-4-4 4zM658 1793l4-4-3-3-3 4zM653 1794l3-4-3-3-3 4zM647 1794l3-3-2-3-3 3zM645 1791l3-3-3-2-3 3zM639 1792l3-3-2-2-4 3zM636 1790l4-3-3-2-3 2zM631 1790l3-3-3-1-3 2zM433 1793l3 2-3-1-3-1zM427 1791l3 2-2 0-3-2zM425 1791l3 2-3 0-3-2zM419 1788l3 3-2 0-4-2zM416 1789l4 2-3 0-3-1zM411 1787l3 3-2 0-4-2zM408 1788l4 2-3 0-3-1zM403 1786l3 3-3 0-3-2z"/><path class="p3" d="M664 1793l3-4-2-4-3 4zM656 1790l3-4-2-3-4 4zM650 1791l3-4-2-3-3 4zM648 1788l3-4-3-2-3 4zM642 1789l3-3-2-2-3 3zM421 1787l4 4-3 0-3-3zM413 1785l3 4-2 1-3-3zM405 1784l3 4-2 1-3-3zM397 1783l3 4-2 1-3-2zM391 1781l4 5-3 1-3-3z"/><path class="p4" d="M662 1789l3-4-3-3-3 4zM653 1787l4-4-3-2-3 3zM651 1784l3-3-2-2-4 3zM416 1784l3 4-3 1-3-4zM408 1782l3 5-3 1-3-4zM399 1781l4 5-3 1-3-4z"/><path class="p5" d="M667 1789l3-6-2-3-3 5zM665 1785l3-5-3-3-3 5zM659 1786l3-4-2-3-3 4zM657 1783l3-4-3-2-3 4zM410 1779l3 6-2 2-3-5zM402 1778l3 6-2 2-4-5zM394 1777l3 6-2 3-4-5z"/><path class="p6" d="M670 1783l1-1-2-4-1 2zM668 1780l1-2-2-3-2 2zM662 1782l3-5-2-2-3 4zM388 1773l3 8-2 3-3-7z"/><path class="p7" d="M413 1777l3 7-3 1-3-6zM404 1774l4 8-3 2-3-6zM396 1773l3 8-2 2-3-6z"/><path class="p8" d="M391 1767l3 10-3 4-3-8z"/><path class="p9" d="M407 1770l3 9-2 3-4-8zM399 1768l3 10-3 3-3-8z"/><path class="p11" d="M401 1763l3 11-2 4-3-10zM393 1761l3 12-2 4-3-10z"/><path class="p14" d="M395 1754l4 14-3 5-3-12z"/><path class="p0" d="M648 1801l3 0 3 0 4-2-3-2-3 2-3 2-4 0zM639 1799l3 2 3 0 4 0 3-2-3-2-3 2-3 1-3 1-3 0zM633 1800l4 1 3 0 3-1 3-1-2-2-3 2-4 1-3 1-3 0zM628 1800l3 1 3 0 3-1 4-1-3-2-3 2-3 1-4 1-3 0zM622 1800l3 1 3 0 4-1-3-2-3 2-3 0-3 1zM613 1800l3 1 4 0 3-1 3 0-2-2-4 1-3 1-3 1-3 0zM608 1801l3 0 3 0 3-1 3-1-2-1-3 1-4 1-3 0-3 1zM599 1801l3 0 3 0 3-1 3 0-2-1-3 1-3 0-4 1-3 0zM590 1802l3-1 3 0 3 0 4-1 3 0-3-2-3 1-3 1-3 1-3 0-4 1zM581 1803l3-1 3 0 4-1 3 0 3-1 3-1-2-1-4 1-3 1-3 1-3 0-3 1-4 0zM572 1804l3-1 3-1 4 0 3-1 3 0 3-1 3-1-2-1-3 1-3 1-4 0-3 1-3 1-3 1-3 0zM563 1805l3-1 4-1 3 0 3-1 3-1 3-1 4 0-3-1-3 0-3 1-3 1-4 1-3 1-3 1-3 0zM557 1805l4-1 3 0 3-1 3-1 4-1 3-1 3-1-3-1-3 1-3 1-3 1-3 1-4 1-3 1-3 1zM552 1805l3 0 3-1 3-1 4-1 3-1 3-1 3-1-2-1-3 1-4 1-3 1-3 1-3 1-3 1-4 0zM543 1806l3-1 3-1 4 0 3-1 3-1 3-1 3-1-2-1-3 1-4 1-3 0-3 1-3 1-3 1-4 1zM537 1806l3-1 4-1 3-1 3-1 3-1 3 0 4-1-3-2-3 1-3 1-3 1-4 1-3 1-3 1-3 1zM532 1806l3-1 3-1 3-1 3-1 4-1 3-1 3-1-2-1-4 1-3 1-3 1-3 1-3 1-4 1-3 1zM523 1807l3-1 3-1 3-1 4-1 3-1 3-1 3-1-2-1-4 1-3 1-3 1-3 1-3 1-4 1-3 1zM517 1807l3-1 3-1 4-1 3-1 3-1 3-1 3-1-2-1-3 0-3 1-4 1-3 1-3 1-3 1-3 1zM511 1806l4-1 3-1 3-1 3-1 3-1 4-1 3-1-3-1-3 1-3 1-3 1-3 1-4 1-3 1-3 1zM502 1807l4-1 3-1 3-1 3-1 4-1 3-1 3-1-3-1-3 1-3 1-3 1-3 1-4 1-3 1-3 1zM497 1807l3-1 3-1 3-1 4-1 3-1 3-1 3-1-2-1-3 1-4 1-3 1-3 0-3 1-3 1-4 1zM491 1806l3-1 4-1 3-1 3-1 3 0 3-1 4-1-3-2-3 1-3 1-3 1-4 1-3 1-3 1-3 1zM485 1806l4-1 3-1 3-1 3-1 4-1 3-1 3-1-3-1-3 1-3 1-3 1-3 1-4 1-3 1-3 1zM477 1806l3 0 3-1 3-1 3-1 4-1 3-1 3-1-2-1-4 1-3 1-3 1-3 1-3 0-4 1-3 1zM471 1805l3 0 3-1 4-1 3 0 3-1 3-1 3-1-2-2-3 1-4 1-3 1-3 1-3 1-3 1-4 0zM465 1804l3 0 4 0 3-1 3-1 3-1 3-1 4-1-3-1-3 1-3 1-3 1-4 1-3 0-3 1-3 0zM463 1803l3 0 3-1 3 0 4-1 3-1-3-1-3 1-3 0-3 1-3 1-4 0zM460 1802l4 0 3-1 3-1 3 0-2-2-4 1-3 1-3 0-3 1zM455 1800l3 1 3-1 3 0 3-1-2-1-3 1-3 0-4 1-3-1zM452 1799l3 1 4-1-3-1-3 0-3 0zM450 1798l3 0-3-1-3 0z"/><path class="p1" d="M645 1799l3 2-3 0-3 0zM658 1799l3-2-3-4-3 4zM636 1797l3 2-2 2-4-1zM630 1798l3 2-2 1-3-1zM625 1799l3 1-3 1-3-1zM616 1799l3 1 3 0-2 1-4 0-3-1zM607 1799l3 1 3 0-2 1-3 0-4-1zM601 1800l3 0 4 1-3 0-3 0-3 0zM589 1801l3 0 3 0 4 0-3 0-3 0-3 1-3 0zM583 1802l4 0 3 0-3 0-3 0-3 1zM578 1803l3 0-3-1-3 1zM456 1802l4 1 3 0-3-1-3-1-3-1zM454 1800l3 1 3 1-2-1-3-1-4-1zM451 1799l4 1-3-1-3 0zM449 1799l3 0-2-1-3 0zM447 1798l3 0-3-1-3 0zM441 1796l3 1 3 0-2 0-3-1-4-1zM438 1795l4 1-3 0-3-1z"/><path class="p2" d="M642 1796l3 3-3 2-3-2zM627 1796l3 2-2 2-3-1zM618 1796l3 2 4 1-3 1-3 0-3-1zM612 1797l4 2-3 1-3 0zM604 1798l3 1-3 1-3 0zM598 1800l3 0-2 1-4 0zM451 1798l3 2-3-1-3-1zM448 1798l3 1-2 0-3-2zM446 1797l3 2-2-1-4-2zM443 1796l4 2-3-1-3-1zM438 1793l3 3-3-1-3-2zM435 1793l3 2-2 0-3-2z"/><path class="p3" d="M638 1793l4 3-3 3-3-2zM633 1795l3 2-3 3-3-2zM624 1794l3 2-2 3-4-1zM609 1796l3 1-2 3-3-1zM445 1795l3 3-2-1-3-3zM443 1794l3 3-3-1-3-2zM440 1794l3 2-2 0-3-3zM432 1790l3 3-2 0-3-3zM430 1790l3 3-3 0-3-2z"/><path class="p4" d="M629 1791l4 4-3 3-3-2zM434 1790l4 3-3 0-3-3zM424 1787l3 4-2 0-4-4z"/><path class="p5" d="M439 1789l4 5-3 0-3-5zM437 1789l3 5-2-1-4-3zM426 1786l4 4-3 1-3-4zM418 1782l3 5-2 1-3-4z"/><path class="p6" d="M431 1784l3 6-2 0-3-5zM429 1785l3 5-2 0-4-4zM421 1780l3 7-3 0-3-5z"/><path class="p7" d="M434 1783l3 6-3 1-3-6zM423 1778l3 8-2 1-3-7z"/><path class="p8" d="M436 1783l3 6-2 0-3-6zM415 1774l3 8-2 2-3-7z"/><path class="p9" d="M426 1777l3 8-3 1-3-8z"/><path class="p10" d="M428 1775l3 9-2 1-3-8zM417 1771l4 9-3 2-3-8z"/><path class="p11" d="M430 1774l4 9-3 1-3-9zM420 1768l3 10-2 2-4-9zM409 1766l4 11-3 2-3-9z"/><path class="p13" d="M422 1766l4 11-3 1-3-10zM412 1762l3 12-2 3-4-11zM404 1757l3 13-3 4-3-11z"/><path class="p14" d="M425 1763l3 12-2 2-4-11z"/><path class="p15" d="M414 1758l3 13-2 3-3-12z"/><path class="p16" d="M406 1752l3 14-2 4-3-13z"/><path class="p17" d="M417 1754l3 14-3 3-3-13zM398 1747l3 16-2 5-4-14z"/><path class="p19" d="M419 1750l3 16-2 2-3-14zM409 1746l3 16-3 4-3-14z"/><path class="p20" d="M400 1739l4 18-3 6-3-16z"/><path class="p21" d="M411 1740l3 18-2 4-3-16z"/><path class="p23" d="M403 1731l3 21-2 5-4-18z"/><path class="p24" d="M413 1734l4 20-3 4-3-18z"/><path class="p27" d="M405 1723l4 23-3 6-3-21z"/><path class="p30" d="M408 1715l3 25-2 6-4-23z"/><path class="p34" d="M410 1707l3 27-2 6-3-25z"/><path class="p0" d="M543 1814l3-2 4-1 3-1 3-1 3-2 3-1 4-1-3 0-3 1-3 1-3 1-4 1-3 1-3 2-3 1zM566 1805l3 0 3-1-2-1-4 1-3 1zM537 1814l4-1 3-1 3-2 3-1 4-1 3-1 3-1-3-1-3 1-3 1-3 1-3 2-4 1-3 1-3 1zM560 1806l3-1-2-1-4 1zM532 1814l3-1 3-1 3-1 4-1 3-2 3-1 3-1-2-1-3 2-4 1-3 1-3 1-3 1-3 1-4 1zM554 1806l3-1-2 0-3 0zM523 1815l3-1 3-1 4-1 3-1 3-1 3-1 3-1-2-2-3 2-4 1-3 1-3 1-3 1-3 1-4 1zM545 1808l4-1 3-2-3-1-3 1-3 1zM517 1815l3-1 4-1 3-1 3-1 3-1 3-1 4-1-3-2-3 1-3 1-3 1-4 1-3 1-3 1-3 1zM540 1808l3-2-3-1-3 1zM512 1814l3-1 3-1 3-1 3-1 4-1 3-1 3-1-2-1-4 1-3 1-3 1-3 1-3 1-4 1-3 1zM534 1807l3-1-2-1-3 1zM503 1815l3-1 3-1 3-1 4-1 3-1 3-1 3-1-2-1-4 1-3 1-3 1-3 1-3 1-4 1-3 1zM525 1808l3-1 4-1-3-1-3 1-3 1zM497 1815l3-1 3-1 4-1 3-1 3-1 3-1 3-1-2-1-3 1-3 1-4 0-3 1-3 1-3 1-3 1zM519 1808l4-1-3-1-3 1zM491 1814l4-1 3-1 3-1 3-1 3-1 4 0 3-1-3-2-3 1-3 1-3 1-3 1-4 1-3 1-3 1zM514 1808l3-1-2-2-4 1zM486 1814l3-1 3-1 3-1 4-1 3-1 3-1 3-1-2-1-4 1-3 1-3 1-3 1-3 1-4 1-3 0zM508 1807l3-1-2-1-3 1zM477 1812l3 1 3-1 3 0 4-1 3-1 3-1 3-1-2-1-3 1-4 1-3 0-3 1-3 1-3 0-4 0zM499 1808l3-1-2-1-3 1zM474 1811l4 0 3 0 3-1 3-1 3 0 4-1 3-1-3-2-3 1-3 1-3 1-3 1-4 0-3 1-3-1zM472 1809l3 1 3-1 4 0 3-1 3-1 3-1-2-1-4 1-3 1-3 1-3 0-3 0-4 0zM473 1808l3 0 3 0 3-1 3-1-2-1-3 1-3 0-4 1-3 0zM470 1807l3 0 4-1-3-1-3 0-3 0zM468 1805l3 0-3-1-3 0z"/><path class="p1" d="M558 1810l3-2 3-1 3-1-2 0-3 1-4 2-3 1zM574 1804l3-1 3 0 3-1-2 1-3 0-4 1-3 0zM552 1811l3-1 3-1 4-2 3-1 3-1 3-1 3 0-2 0-3 1-3 0-4 1-3 1-3 2-3 1-3 1zM574 1804l4-1-3 0-3 1zM471 1810l3 1-2-2-3-1zM469 1808l3 1-3-1-3-1zM466 1807l3 1 4 0-3-1-3-1-3-1zM464 1805l3 1 3 1-2-2-3 0-4-1zM461 1804l4 1 3 0-3-1-3 0-3-1zM459 1803l3 1 3 0-2-1-3 0-4-1z"/><path class="p2" d="M591 1799l4 0 3 1-3 1-3 0-3 0zM563 1807l4-1 3-2 3-1 3-1 3 0 4-1 3 0-3 1-3 1-3 0-3 1-3 1-4 1-3 1-3 1zM586 1801l3 0-2 1-4 0zM567 1806l4-1 3-1-3 0-3 1-3 1zM465 1806l4 2-3-1-3-2zM463 1805l3 2-2-2-3-2zM461 1803l3 2-3-1-3-2zM458 1802l3 2-2-1-3-2zM456 1801l3 2-3-1-3-3zM453 1799l3 3-2-2-3-2z"/><path class="p3" d="M597 1796l3 1 4 1-3 2-3 0-3-1zM585 1799l3 0 3 0-2 2-3 0-3 0z"/><path class="p4" d="M621 1791l3 3-3 4-3-2zM615 1794l3 2-2 3-4-2zM603 1793l3 2 3 1-2 3-3-1-4-1zM594 1796l3 0-2 3-4 0zM569 1804l3-2 3-1 4-1 3-1 3 0-2 2-4 1-3 0-3 1-3 1-3 2zM460 1801l3 4-2-2-4-3zM457 1800l4 3-3-1-3-4zM455 1798l3 4-2-1-4-4zM452 1797l4 4-3-2-3-3zM450 1796l3 3-2-1-4-3zM447 1795l4 3-3 0-3-3z"/><path class="p5" d="M635 1788l3 5-2 4-3-2zM612 1791l3 3-3 3-3-1zM600 1792l3 1-3 4-3-1zM581 1796l3 0 4 0 3 0 3 0-3 3-3 0-3 0-3 0-3 1zM442 1790l3 5-2-1-4-5z"/><path class="p6" d="M626 1787l3 4-2 5-3-2zM617 1788l4 3-3 5-3-2zM608 1789l4 2-3 5-3-1zM596 1791l4 1-3 4-3 0zM578 1798l3-2-2 4-4 1zM457 1796l3 5-3-1-3-6zM454 1794l3 6-2-2-3-5zM452 1793l3 5-3-1-3-5zM449 1792l3 5-2-1-3-5zM447 1791l3 5-3-1-3-5zM444 1790l3 5-2 0-3-5z"/><path class="p7" d="M632 1783l3 5-2 7-4-4zM623 1783l3 4-2 7-3-3zM614 1785l3 3-2 6-3-3zM605 1787l3 2-2 6-3-2zM590 1790l3 1 3 0-2 5-3 0-3 0z"/><path class="p8" d="M602 1786l3 1-2 6-3-1zM584 1791l3 0 3-1-2 6-4 0-3 0zM439 1782l3 8-3-1-3-6z"/><path class="p9" d="M629 1778l3 5-3 8-3-4zM620 1779l3 4-2 8-4-3zM611 1782l3 3-2 6-4-2zM599 1784l3 2-2 6-4-1zM446 1783l3 9-2-1-3-8zM444 1783l3 8-3-1-3-8zM441 1782l3 8-2 0-3-8z"/><path class="p10" d="M608 1779l3 3-3 7-3-2zM592 1783l4 1 3 0-3 7-3 0-3-1zM451 1786l3 8-2-1-4-8zM448 1785l4 8-3-1-3-9z"/><path class="p11" d="M625 1773l4 5-3 9-3-4zM617 1775l3 4-3 9-3-3zM589 1783l3 0-2 7-3 1z"/><path class="p12" d="M605 1777l3 2-3 8-3-1zM435 1772l4 10-3 1-3-10zM433 1773l3 10-2 0-4-9z"/><path class="p13" d="M613 1771l4 4-3 10-3-3zM601 1775l4 2-3 9-3-2zM438 1772l3 10-2 0-4-10z"/><path class="p14" d="M622 1767l3 6-2 10-3-4zM598 1774l3 1-2 9-3 0zM445 1773l3 12-2-2-3-11zM443 1772l3 11-2 0-4-11zM440 1772l4 11-3-1-3-10z"/><path class="p15" d="M610 1768l3 3-2 11-3-3z"/><path class="p16" d="M619 1762l3 5-2 12-3-4zM607 1765l3 3-2 11-3-2zM427 1761l3 13-2 1-3-12z"/><path class="p17" d="M430 1759l3 14-3 1-3-13z"/><path class="p18" d="M616 1757l3 5-2 13-4-4zM604 1763l3 2-2 12-4-2zM432 1757l3 15-2 1-3-14z"/><path class="p19" d="M437 1756l3 16-2 0-3-16zM435 1756l3 16-3 0-3-15z"/><path class="p20" d="M440 1756l3 16-3 0-3-16zM422 1746l3 17-3 3-3-16z"/><path class="p21" d="M613 1753l3 4-3 14-3-3z"/><path class="p22" d="M609 1749l4 4-3 15-3-3zM424 1743l3 18-2 2-3-17z"/><path class="p24" d="M427 1740l3 19-3 2-3-18z"/><path class="p25" d="M429 1738l3 19-2 2-3-19z"/><path class="p26" d="M431 1736l4 20-3 1-3-19zM416 1728l3 22-2 4-4-20z"/><path class="p27" d="M434 1735l3 21-2 0-4-20z"/><path class="p28" d="M436 1734l4 22-3 0-3-21z"/><path class="p29" d="M418 1723l4 23-3 4-3-22z"/><path class="p31" d="M421 1719l3 24-2 3-4-23z"/><path class="p33" d="M423 1714l4 26-3 3-3-24z"/><path class="p35" d="M426 1711l3 27-2 2-4-26z"/><path class="p37" d="M428 1708l3 28-2 2-3-27zM413 1700l3 28-3 6-3-27z"/><path class="p38" d="M431 1706l3 29-3 1-3-28z"/><path class="p40" d="M415 1693l3 30-2 5-3-28z"/><path class="p43" d="M418 1686l3 33-3 4-3-30z"/><path class="p46" d="M420 1681l3 33-2 5-3-33z"/><path class="p48" d="M423 1676l3 35-3 3-3-33z"/><path class="p50" d="M425 1672l3 36-2 3-3-35z"/><path class="p0" d="M537 1823l3-1 3-2-2 0-3 1-4 2zM528 1825l3-1 3-1 4-2 3-1 3-2 3-2-2 0-3 2-4 1-3 1-3 2-3 1-3 1zM522 1825l4-1 3-1 3-1 3-2 3-1 4-1 3-2-3 0-3 1-3 1-3 2-3 1-4 1-3 1-3 1zM545 1816l3-1-2-1-4 2zM517 1825l3-1 3-1 3-1 4-1 3-1 3-2 3-1-2-1-3 1-4 1-3 2-3 1-3 1-4 0-3 1zM539 1817l3-1 4-2 3-1 3-2-2 0-4 1-3 2-3 1-3 1zM508 1825l3-1 3-1 3-1 4 0 3-1 3-1 3-2-2-1-3 1-4 1-3 1-3 1-3 1-3 1-4 1zM530 1818l4-1 3-1 3-1 3-1-2-1-4 1-3 1-3 1-3 1zM502 1825l3-1 4-1 3-1 3-1 3-1 3-1 4-1-3-1-3 1-3 1-3 1-4 1-3 1-3 1-3 1zM525 1818l3-1 3-1 3-1 3-1-2-1-3 1-3 1-4 1-3 1zM497 1825l3-1 3-1 3-1 3-1 4-1 3-1 3-1-2-1-4 1-3 1-3 1-3 1-4 1-3 1-3 0zM519 1818l3-1 3-1 4-1 3-1-3-1-3 1-3 1-3 1-3 1zM491 1824l3-1 3 0 3-1 4-1 3-1 3-1 3-1-2-2-3 1-4 1-3 1-3 1-3 1-3 1-4 0zM513 1818l4-1 3-1 3-1-3-1-3 1-3 0-3 1zM485 1822l3 0 4 0 3-1 3-1 3-1 3-1 4-1-3-1-3 1-3 1-3 1-4 1-3 0-3 0-3 0zM508 1817l3-1 3-1 3 0-2-2-3 1-4 1-3 1zM486 1820l3 0 3 0 4-1 3-1 3-1 3-1 3-1-2-1-3 1-4 1-3 1-3 1-3 0-3 1-4 0zM508 1815l4-1-3-1-3 1zM483 1819l4 0 3-1 3 0 3-1 3-1 4-1-3-1-3 1-3 1-3 0-4 1-3 0-3 0zM481 1817l3 0 3 0 4-1 3 0 3-1-2-2-4 1-3 1-3 0-3 1-3-1zM482 1816l3-1 3 0 3-1-2-1-3 1-4 0-3 0zM479 1814l3 0 4 0-3-2-3 1-3-1z"/><path class="p1" d="M543 1822l3-2 3-3-2 1-4 2-3 2zM543 1820l4-2 3-2 3-2-2 0-4 2-3 2-3 2zM547 1816l4-2 3-1 3-2-3 0-3 2-3 2-3 1zM548 1815l3-2 3-2 4-1-3 0-3 1-3 2-3 1zM482 1821l3 1-2-2-4-2zM483 1820l3 0-3-1-3-1zM480 1818l3 1-2-2-3-1zM478 1816l3 1-2-2-4-1zM475 1814l4 1 3 1-3-2-3-1-3-1zM476 1813l3 1-2-2-3 0zM474 1812l3 0-3-1-3-1z"/><path class="p2" d="M548 1819l3-3-2 1-3 3zM549 1817l3-2 3-3-2 2-3 2-3 2zM553 1814l3-2 3-3-2 2-3 2-3 1zM557 1811l3-2 3-2-2 1-3 2-4 1zM479 1818l4 2-3-2-3-2zM477 1816l3 2-2-2-3-2zM475 1814l3 2-3-2-3-3zM473 1812l3 1-2-1-4-2zM470 1810l4 2-3-2-3-2zM468 1808l3 2-2-2-4-2z"/><path class="p3" d="M551 1816l4-3-3 2-3 2zM555 1812l4-2 3-3-3 2-3 3-3 2zM559 1809l4-2 3-2 3-1-2 2-4 1-3 2-3 2zM476 1815l3 3-2-2-3-3zM474 1813l3 3-2-2-4-4zM472 1811l3 3-2-2-3-3zM470 1809l3 3-3-2-3-3zM467 1807l3 3-2-2-3-3z"/><path class="p4" d="M555 1813l3-3 3-3-2 3-4 2-3 3zM562 1807l3-2-2 2-4 2zM471 1810l4 4-3-3-3-4zM465 1805l3 3-3-2-3-3zM462 1803l3 3-2-1-3-4z"/><path class="p5" d="M557 1810l3-4-2 4-3 3zM561 1807l3-3-2 3-3 3zM565 1805l3-2 3-2 4-2 3-1-3 3-3 1-3 2-3 1-3 2zM469 1807l3 4-2-2-4-5zM466 1804l4 5-3-2-3-5zM464 1802l3 5-2-2-3-5z"/><path class="p6" d="M560 1806l4-3-3 4-3 3zM564 1804l4-3 3-3-3 5-3 2-3 2zM471 1807l3 6-3-3-3-6zM462 1800l3 5-3-2-3-5zM459 1798l3 5-2-2-3-5z"/><path class="p7" d="M564 1803l3-4-3 5-3 3zM571 1798l3-2 3-2-2 5-4 2-3 2zM468 1804l3 6-2-3-3-7zM466 1800l3 7-3-3-3-7z"/><path class="p8" d="M567 1799l3-3-2 5-4 3zM577 1794l3-2 4-1-3 5-3 2-3 1zM463 1797l3 7-2-2-3-8zM461 1794l3 8-2-2-4-8z"/><path class="p9" d="M563 1801l3-4-2 6-4 3zM570 1796l3-4-2 6-3 3zM458 1792l4 8-3-2-3-8zM456 1790l3 8-2-2-4-8zM453 1788l4 8-3-2-3-8z"/><path class="p10" d="M566 1797l3-5-2 7-3 4zM573 1792l3-2 4-3-3 7-3 2-3 2zM465 1794l3 10-2-4-4-10z"/><path class="p11" d="M569 1792l3-4-2 8-3 3zM580 1787l3-2 3-1 3-1-2 8-3 0-4 1-3 2zM462 1790l4 10-3-3-3-10z"/><path class="p12" d="M572 1788l4-4-3 8-3 4zM460 1787l3 10-2-3-3-10z"/><path class="p13" d="M576 1784l3-3-3 9-3 2zM458 1784l3 10-3-2-3-11zM455 1781l3 11-2-2-3-12z"/><path class="p14" d="M568 1788l4-5-3 9-3 5zM579 1781l3-3-2 9-4 3zM595 1773l3 1-2 10-4-1zM453 1778l3 12-3-2-3-12zM450 1776l3 12-2-2-3-12zM448 1774l3 12-3-1-3-12z"/><path class="p15" d="M572 1783l3-5-3 10-3 4zM582 1778l3-2 3-2 4 0 3-1-3 10-3 0-3 1-3 1-3 2z"/><path class="p16" d="M462 1781l3 13-3-4-3-14z"/><path class="p17" d="M575 1778l3-5-2 11-4 4zM459 1776l3 14-2-3-3-15z"/><path class="p18" d="M578 1773l3-4-2 12-3 3zM457 1772l3 15-2-3-4-16z"/><path class="p19" d="M581 1769l4-3-3 12-3 3zM601 1761l3 2-3 12-3-1zM454 1768l4 16-3-3-3-16z"/><path class="p20" d="M574 1771l3-6-2 13-3 5zM585 1766l3-3 3-1 3-1 3-1 4 1-3 13-3-1-3 1-4 0-3 2-3 2zM452 1765l3 16-2-3-4-16zM449 1762l4 16-3-2-3-16zM447 1760l3 16-2-2-3-16zM445 1758l3 16-3-1-3-16zM442 1757l3 16-2-1-3-16z"/><path class="p22" d="M577 1765l4-6-3 14-3 5z"/><path class="p24" d="M581 1759l3-5-3 15-3 4zM606 1746l3 3-2 16-3-2z"/><path class="p25" d="M584 1754l3-4-2 16-4 3zM603 1744l3 2-2 17-3-2zM456 1756l3 20-2-4-3-21z"/><path class="p26" d="M587 1750l3-3-2 16-3 3zM600 1744l3 0-2 17-4-1zM454 1751l3 21-3-4-3-21z"/><path class="p27" d="M590 1747l3-2 4-1 3 0-3 16-3 1-3 1-3 1zM451 1747l3 21-2-3-3-22z"/><path class="p28" d="M449 1743l3 22-3-3-3-22zM446 1740l3 22-2-2-3-23z"/><path class="p29" d="M444 1737l3 23-2-2-4-22zM441 1736l4 22-3-1-3-22zM439 1735l3 22-2-1-4-22z"/><path class="p37" d="M450 1723l4 28-3-4-3-29z"/><path class="p38" d="M448 1718l3 29-2-4-4-30z"/><path class="p39" d="M445 1713l4 30-3-3-3-30zM433 1705l3 29-2 1-3-29z"/><path class="p40" d="M443 1710l3 30-2-3-3-30zM441 1707l3 30-3-1-3-30zM438 1706l3 30-2-1-3-30zM436 1705l3 30-3-1-3-29z"/><path class="p52" d="M427 1669l4 37-3 2-3-36z"/><path class="p53" d="M445 1679l3 39-3-5-3-39zM430 1667l3 38-2 1-4-37z"/><path class="p54" d="M442 1674l3 39-2-3-3-39zM432 1666l4 39-3 0-3-38z"/><path class="p55" d="M440 1671l3 39-2-3-4-39zM437 1668l4 39-3-1-3-39zM435 1667l3 39-2-1-4-39z"/><path class="p0" d="M500 1847l4 0 3-1 3-1 3-1 3-1 4-1 3-1-3-2-3 1-3 1-3 1-3 2-4 1-3 0-3 0zM523 1841l3-1 3-1 3-2 4-2 3-2-3 0-3 2-3 1-3 1-3 2-4 0zM498 1845l3 0 3 0 4-1 3-2 3-1 3-1 3-1-2-1-3 1-4 1-3 1-3 1-3 1-3 0-4-1zM520 1839l4 0 3-2 3-1 3-1 3-2 4-3-3 0-3 2-3 2-3 1-4 1-3 1-3 1zM499 1843l3 0 3-1 3-1 3-1 4-1 3-1 3-1-2-1-4 1-3 1-3 1-3 1-3 1-4 0-3 0zM521 1837l3-1 4-1 3-1 3-2 3-2 3-2-2 0-3 2-4 2-3 1-3 1-3 1-3 1zM496 1841l3 0 4 0 3-1 3-1 3-1 3-1 4-1-3-1-3 1-3 1-3 1-4 1-3 1-3 0-3-2zM519 1836l3-1 3-1 3-1 3-1 4-2 3-2 3-2-2 0-4 2-3 1-3 2-3 1-3 1-4 1-3 1zM497 1840l3 0 3-1 4-1 3-1 3-1 3-1 3-1-2-1-3 1-3 1-4 1-3 1-3 0-3 1-4-1zM519 1834l4-1 3-1 3-1 3-2 3-1 4-2 3-2-3 0-3 2-3 1-3 1-3 2-4 1-3 1-3 1zM494 1837l4 1 3-1 3 0 3-1 4-1 3-1 3-1-3-2-3 1-3 1-3 1-3 1-4 1-3 0-3-1zM517 1833l3-1 3-1 4-1 3-2 3-1 3-1 3-2-2-1-3 2-3 1-4 1-3 1-3 1-3 1-4 1zM539 1824l4-2-3 0-3 1zM495 1836l3 0 4-1 3-1 3-1 3-1 3-1 4-1-3-1-3 1-3 1-3 1-4 1-3 1-3 0-3 0zM518 1830l3-1 3-1 3-1 4-1 3-1 3-2-3 0-3 1-3 1-3 1-3 1-4 1-3 1zM493 1834l3 0 3 0 3-1 4-1 3-1 3-1 3-1-2-1-3 1-4 1-3 1-3 1-3 0-3 0-4 0zM515 1829l3-1 4-1 3-1 3-1-2-1-4 1-3 1-3 1-3 1zM494 1832l3 0 3 0 3-1 3-1 4-1 3-1 3-1-2-1-4 1-3 1-3 1-3 1-4 0-3 1-3-1zM516 1827l3-1 3-1-2-1-3 1-3 1zM491 1830l3 1 3-1 4 0 3-1 3-1 3-1 4-1-3-2-3 1-3 1-4 1-3 1-3 1-3 0-3-1zM514 1826l3-1-3-2-3 1zM492 1829l3 0 3-1 3-1 4-1 3-1-3-1-3 1-3 1-3 1-3 0-4 0zM489 1827l4 0 3 0 3-1 3-1-2-1-3 1-4 0-3 1-3-1zM487 1825l3 1 3-1 4 0-3-2-3 1-3 0-4-1zM488 1824l3 0-3-2-3 0z"/><path class="p1" d="M497 1846l3 1-2-2-3-2zM539 1833l3-4-2 1-4 3zM495 1843l3 2-3-3-3-3zM540 1830l3-3-3 1-3 2zM495 1842l4 1-3-2-3-2zM540 1828l4-3-3 1-3 2zM493 1839l3 2-2-3-3-2zM541 1826l3-3-2 1-3 2zM494 1838l3 2-3-3-3-1zM542 1824l3-2 3-3-2 1-3 2-4 2zM491 1836l3 1-2-2-3-3zM492 1835l3 1-2-2-3-2zM490 1832l3 2-3-2-3-3zM490 1832l4 0-3-2-3-1zM488 1829l3 1-2-2-4-2zM489 1828l3 1-3-2-3-1zM486 1826l3 1-2-2-3-2zM484 1823l3 2-3-2-3-2zM484 1823l4 1-3-2-3-1z"/><path class="p2" d="M494 1843l3 3-2-3-3-5zM542 1829l3-3-2 1-3 3zM543 1827l3-3-2 1-4 3zM492 1839l3 3-2-3-3-4zM544 1825l3-3-3 1-3 3zM544 1823l4-3 3-3-3 2-3 3-3 2zM491 1836l3 2-3-2-3-4zM489 1832l3 3-2-3-4-3zM487 1829l3 3-2-3-3-3zM485 1826l4 2-3-2-3-3zM483 1823l3 3-2-3-4-3zM481 1821l3 2-2-2-3-3zM479 1818l3 3-3-3-3-3z"/><path class="p3" d="M545 1826l4-5-3 3-3 3zM492 1838l3 5-3-4-3-6zM546 1824l3-4-2 2-3 3zM547 1822l3-4-2 2-4 3zM490 1835l3 4-2-3-4-6zM551 1817l3-3-3 2-3 3zM488 1832l3 4-2-4-3-5zM486 1829l4 3-3-3-3-4zM485 1826l3 3-3-3-3-4zM482 1822l3 4-2-3-3-4zM480 1820l4 3-3-2-3-4z"/><path class="p4" d="M549 1821l3-5-3 4-3 4zM549 1820l3-5-2 3-3 4zM550 1818l3-4-2 3-3 3zM554 1814l3-4-2 3-4 3zM486 1827l3 5-3-3-3-7zM484 1825l3 4-2-3-4-6zM480 1819l3 4-3-3-3-5zM478 1817l3 4-2-3-3-4zM476 1814l3 4-3-3-3-5z"/><path class="p5" d="M552 1815l4-5-3 4-3 4zM489 1833l3 6-2-4-3-8zM553 1814l3-4-2 4-3 3zM487 1830l4 6-3-4-3-8zM481 1820l4 6-3-4-3-6zM477 1815l3 5-2-3-3-7zM473 1810l3 5-2-2-3-6z"/><path class="p6" d="M552 1816l3-5-3 4-3 5zM556 1810l4-4-3 4-3 4zM485 1824l3 8-2-5-4-9zM483 1822l3 7-2-4-3-8zM479 1816l3 6-2-3-3-8zM475 1810l3 7-2-3-4-8z"/><path class="p7" d="M556 1810l3-5-3 5-3 4zM560 1806l3-5-3 5-3 4zM487 1827l3 8-3-5-3-10zM481 1817l3 8-3-5-3-9zM472 1806l4 8-3-4-3-8z"/><path class="p8" d="M555 1811l3-7-2 6-4 5zM482 1818l4 9-3-5-3-11zM477 1811l3 8-3-4-3-9zM470 1802l3 8-2-3-4-9z"/><path class="p9" d="M559 1805l3-5-2 6-4 4zM484 1820l3 10-2-6-3-12zM478 1811l3 9-2-4-3-11zM474 1806l3 9-2-5-3-9zM467 1798l4 9-3-3-3-10z"/><path class="p10" d="M558 1804l3-6-2 7-3 5zM562 1800l3-6-2 7-3 5zM480 1811l3 11-2-5-4-13zM472 1801l3 9-3-4-3-11z"/><path class="p11" d="M482 1812l3 12-3-6-3-14zM476 1805l3 11-2-5-4-12z"/><path class="p12" d="M561 1798l4-7-3 9-3 5zM565 1794l3-6-2 9-3 4zM477 1804l4 13-3-6-3-14zM473 1799l4 12-3-5-3-14zM469 1795l3 11-2-4-3-12z"/><path class="p13" d="M467 1790l3 12-3-4-3-13z"/><path class="p14" d="M565 1791l3-7-3 10-3 6zM479 1804l3 14-2-7-3-16zM475 1797l3 14-2-6-3-16zM471 1792l3 14-2-5-4-15z"/><path class="p15" d="M464 1785l3 13-2-4-3-13z"/><path class="p16" d="M568 1784l3-6-3 10-3 6zM477 1795l3 16-3-7-3-18zM468 1786l4 15-3-6-3-15z"/><path class="p17" d="M473 1789l3 16-3-6-3-18z"/><path class="p18" d="M571 1778l3-7-2 12-4 5zM466 1780l3 15-2-5-4-17z"/><path class="p19" d="M474 1786l3 18-2-7-3-21zM470 1781l3 18-2-7-3-19z"/><path class="p20" d="M463 1773l4 17-3-5-3-18z"/><path class="p22" d="M468 1773l3 19-3-6-3-21zM461 1767l3 18-2-4-3-20z"/><path class="p23" d="M472 1776l3 21-2-8-4-23zM459 1761l3 20-3-5-3-20z"/><path class="p24" d="M465 1765l3 21-2-6-3-23z"/><path class="p26" d="M469 1766l4 23-3-8-3-25z"/><path class="p27" d="M463 1757l3 23-3-7-3-24z"/><path class="p29" d="M467 1756l3 25-2-8-4-27zM460 1749l3 24-2-6-3-25z"/><path class="p31" d="M458 1742l3 25-2-6-4-26z"/><path class="p32" d="M464 1746l4 27-3-8-3-29z"/><path class="p33" d="M455 1735l4 26-3-5-3-27z"/><path class="p35" d="M453 1729l3 27-2-5-4-28z"/><path class="p36" d="M462 1736l3 29-2-8-3-31z"/><path class="p39" d="M460 1726l3 31-3-8-3-32z"/><path class="p42" d="M457 1717l3 32-2-7-3-34z"/><path class="p44" d="M455 1708l3 34-3-7-3-36z"/><path class="p47" d="M452 1699l3 36-2-6-3-37z"/><path class="p49" d="M450 1692l3 37-3-6-3-38z"/><path class="p51" d="M447 1685l3 38-2-5-3-39z"/></g>
<path d="M247 924.9L335.7 898" stroke="#4d4d4d" stroke-width="0.6" fill="none"/>
<path d="M247 924.9L178.9 889.9" stroke="#4d4d4d" stroke-width="0.6" fill="none"/>
<path d="M178.9 889.9L178.9 813.4" stroke="#4d4d4d" stroke-width="0.6" fill="none"/>
<text transform="translate(260.7 931.3) scale(1.3 1)" font-size="6.3" text-anchor="start" fill="#262626" stroke="#262626" stroke-width="0.25">-4</text>
<text transform="translate(234.3 930.3) scale(1.3 1)" font-size="6.3" text-anchor="end" fill="#262626" stroke="#262626" stroke-width="0.25">-4</text>
<text transform="translate(278.5 925.9) scale(1.3 1)" font-size="6.3" text-anchor="start" fill="#262626" stroke="#262626" stroke-width="0.25">-2</text>
<text transform="translate(220.7 923.2) scale(1.3 1)" font-size="6.3" text-anchor="end" fill="#262626" stroke="#262626" stroke-width="0.25">-2</text>
<text transform="translate(296.3 920.5) scale(1.3 1)" font-size="6.3" text-anchor="start" fill="#262626" stroke="#262626" stroke-width="0.25">0</text>
<text transform="translate(207 916.2) scale(1.3 1)" font-size="6.3" text-anchor="end" fill="#262626" stroke="#262626" stroke-width="0.25">0</text>
<text transform="translate(314.2 915.1) scale(1.3 1)" font-size="6.3" text-anchor="start" fill="#262626" stroke="#262626" stroke-width="0.25">2</text>
<text transform="translate(193.3 909.2) scale(1.3 1)" font-size="6.3" text-anchor="end" fill="#262626" stroke="#262626" stroke-width="0.25">2</text>
<text transform="translate(332 909.7) scale(1.3 1)" font-size="6.3" text-anchor="start" fill="#262626" stroke="#262626" stroke-width="0.25">4</text>
<text transform="translate(179.6 902.1) scale(1.3 1)" font-size="6.3" text-anchor="end" fill="#262626" stroke="#262626" stroke-width="0.25">4</text>
<text transform="translate(173.4 877.9) scale(1.3 1)" font-size="6.3" text-anchor="end" fill="#262626" stroke="#262626" stroke-width="0.25">0.5</text>
<path d="M178.9 876.5L177.1 876.5" stroke="#4d4d4d" stroke-width="0.6" fill="none"/>
<text transform="translate(173.4 864.5) scale(1.3 1)" font-size="6.3" text-anchor="end" fill="#262626" stroke="#262626" stroke-width="0.25">1</text>
<path d="M178.9 863.1L177.1 863.1" stroke="#4d4d4d" stroke-width="0.6" fill="none"/>
<text transform="translate(173.4 851) scale(1.3 1)" font-size="6.3" text-anchor="end" fill="#262626" stroke="#262626" stroke-width="0.25">1.5</text>
<path d="M178.9 849.6L177.1 849.6" stroke="#4d4d4d" stroke-width="0.6" fill="none"/>
<text transform="translate(173.4 837.6) scale(1.3 1)" font-size="6.3" text-anchor="end" fill="#262626" stroke="#262626" stroke-width="0.25">2</text>
<path d="M178.9 836.2L177.1 836.2" stroke="#4d4d4d" stroke-width="0.6" fill="none"/>
<text transform="translate(173.4 824.2) scale(1.3 1)" font-size="6.3" text-anchor="end" fill="#262626" stroke="#262626" stroke-width="0.25">2.5</text>
<path d="M178.9 822.8L177.1 822.8" stroke="#4d4d4d" stroke-width="0.6" fill="none"/>
<text transform="translate(290.5 940.3) scale(1.3 1)" font-size="7.2" text-anchor="start" fill="#262626" stroke="#262626" stroke-width="0.18">x<tspan font-size="5.2" dy="2.4">1</tspan></text>
<text transform="translate(198.6 938.6) scale(1.3 1)" font-size="7.2" text-anchor="start" fill="#262626" stroke="#262626" stroke-width="0.18">x<tspan font-size="5.2" dy="2.4">2</tspan></text>
<text transform="translate(256.7 784.2) scale(1.29 1)" font-size="7.6" text-anchor="middle" fill="#1a1a1a" stroke="#1a1a1a" stroke-width="0.18">Objective space</text>
<text transform="translate(152.5 852.8) rotate(-90) scale(1 1.3)" font-size="8.6" text-anchor="middle" fill="#262626" stroke="#262626" stroke-width="0.12">F18( x<tspan font-size="6" dy="4.3">1</tspan><tspan dy="-4.3"> , x</tspan><tspan font-size="6" dy="4.3">2</tspan><tspan dy="-4.3"> )</tspan></text>
<text transform="translate(155.2 802.3) scale(1.3 1)" font-size="7.2" text-anchor="start" fill="#262626" stroke="#262626" stroke-width="0.25"><tspan font-size="5.5">&#215;</tspan>10<tspan font-size="5.2" dy="-3">8</tspan></text></g>
<g><path d="M394.2 798.5V911.3M403.3 798.5V911.3M409.8 798.5V911.3M414.8 798.5V911.3M418.9 798.5V911.3M422.4 798.5V911.3M425.4 798.5V911.3M428 798.5V911.3M446 798.5V911.3M455.1 798.5V911.3M461.6 798.5V911.3M466.6 798.5V911.3M470.7 798.5V911.3M474.2 798.5V911.3M477.2 798.5V911.3M479.8 798.5V911.3M497.8 798.5V911.3M506.9 798.5V911.3M513.4 798.5V911.3M518.4 798.5V911.3M522.5 798.5V911.3M526 798.5V911.3M529 798.5V911.3M531.6 798.5V911.3" stroke="#ebebeb" stroke-width="0.5" fill="none"/>
<path d="M430.4 798.5V911.3M482.2 798.5V911.3M378.6 901.1H534M378.6 875.6H534M378.6 850.2H534M378.6 824.7H534M378.6 799.3H534" stroke="#dedede" stroke-width="0.5" fill="none"/>
<g fill="none" stroke-linejoin="round" stroke-linecap="butt">
<path d="M378.6 808.7 393.9 826.6 409.9 826.6 415 831 423 832.4 434.6 833.5 439 856 443.4 858.9 446.3 866.2 450.6 869.1 453.5 882.2 455 882.2 462.3 883.6 472.5 890.9 475.4 896.7 478.3 902.5 482.6 904.7 485.5 908.4 498.6 909.5 513.2 910.5 534 910.8" stroke="#ff0000" stroke-width="2.3"/>
<path d="M378.6 808.7 385.9 840 393.2 876.4 401.2 893.8 409.2 908.4 418.6 910.1 440 910.8 534 910.8" stroke="#000000" stroke-width="1.9"/>
<path d="M378.6 888 393.2 908.4 404.1 910.1 430 910.8 534 910.8" stroke="#22ee22" stroke-width="1.15"/>
<path d="M378.6 798.5 385.9 832.7 394.6 864 405.5 879.3 414.3 893.8 418.6 895.3 428.1 910.5 534 910.8" stroke="#ff22ff" stroke-width="1.15"/>
<path d="M378.6 875.6 393.2 898.2 401.2 905.5 409.9 909.1 418.6 910.5 534 910.8" stroke="#22eeff" stroke-width="1.15"/>
<path d="M378.6 864 393.2 872 405.5 877.8 415 885.1 421.5 886.5 430.3 890.9 441.9 896.7 444.8 900.4 449.2 904.7 455 905.5 462.3 907.6 473.9 910.5 534 910.8" stroke="#2222ff" stroke-width="1.15"/>
<path d="M378.6 808.3 455 808.3 457.9 810.9 463.7 811.6 465.9 816 480 830 500.1 860.4 501.5 876.4 505.9 885.1 511.7 903.5 523.5 903.5 523.7 910.8 534 910.8" stroke="#a83232" stroke-width="1.15"/>
</g>
<rect x="378.6" y="798.5" width="155.4" height="112.8" fill="none" stroke="#404040" stroke-width="0.6"/>
<path d="M378.6 911.3V909.7M378.6 798.5V800.1M430.4 911.3V909.7M430.4 798.5V800.1M482.2 911.3V909.7M482.2 798.5V800.1M534 911.3V909.7M534 798.5V800.1M378.6 901.1H380.2M534 901.1H532.4M378.6 875.6H380.2M534 875.6H532.4M378.6 850.2H380.2M534 850.2H532.4M378.6 824.7H380.2M534 824.7H532.4M378.6 799.3H380.2M534 799.3H532.4" stroke="#404040" stroke-width="0.5" fill="none"/>
<text transform="translate(376.1 903.3) scale(1.28 1)" font-size="6.8" text-anchor="end" fill="#262626" stroke="#262626" stroke-width="0.25">5</text>
<text transform="translate(376.1 877.8) scale(1.28 1)" font-size="6.8" text-anchor="end" fill="#262626" stroke="#262626" stroke-width="0.25">10</text>
<text transform="translate(376.1 852.4) scale(1.28 1)" font-size="6.8" text-anchor="end" fill="#262626" stroke="#262626" stroke-width="0.25">15</text>
<text transform="translate(376.1 826.9) scale(1.28 1)" font-size="6.8" text-anchor="end" fill="#262626" stroke="#262626" stroke-width="0.25">20</text>
<text transform="translate(376.1 801.5) scale(1.28 1)" font-size="6.8" text-anchor="end" fill="#262626" stroke="#262626" stroke-width="0.25">25</text>
<text transform="translate(378.8 921.9) scale(1.28 1)" font-size="6.8" text-anchor="middle" fill="#262626" stroke="#262626" stroke-width="0.15">10<tspan font-size="5.4" dy="-3">0</tspan></text>
<text transform="translate(430.6 921.9) scale(1.28 1)" font-size="6.8" text-anchor="middle" fill="#262626" stroke="#262626" stroke-width="0.15">10<tspan font-size="5.4" dy="-3">1</tspan></text>
<text transform="translate(482.4 921.9) scale(1.28 1)" font-size="6.8" text-anchor="middle" fill="#262626" stroke="#262626" stroke-width="0.15">10<tspan font-size="5.4" dy="-3">2</tspan></text>
<text transform="translate(534.2 921.9) scale(1.28 1)" font-size="6.8" text-anchor="middle" fill="#262626" stroke="#262626" stroke-width="0.15">10<tspan font-size="5.4" dy="-3">3</tspan></text>
<text transform="translate(455.5 930.6) scale(1.44 1)" font-size="6.8" text-anchor="middle" fill="#383838" stroke="#383838" stroke-width="0.12">Iterations</text>
<text transform="translate(361.3 855) rotate(-90) scale(1 1.3)" font-size="6.8" text-anchor="middle" fill="#383838" stroke="#383838" stroke-width="0.12">Best score</text>
<text transform="translate(455.7 795.4) scale(1.378 1)" font-size="6.9" text-anchor="middle" fill="#1a1a1a" stroke="#1a1a1a" stroke-width="0.2">Objective space</text>
<rect x="466.3" y="803.3" width="60" height="56.8" fill="#fff" stroke="#404040" stroke-width="0.6"/>
<path d="M469.5 808.3H497.9" stroke="#ff0000" stroke-width="2.3"/>
<text transform="translate(500.1 810.4) scale(1.28 1)" font-size="5.9" text-anchor="start" fill="#262626" stroke="#262626" stroke-width="0.25">SOA</text>
<path d="M469.5 816.1H497.9" stroke="#000000" stroke-width="1.9"/>
<text transform="translate(500.1 818.2) scale(1.28 1)" font-size="5.9" text-anchor="start" fill="#262626" stroke="#262626" stroke-width="0.25">GWO</text>
<path d="M469.5 823.9H497.9" stroke="#22ee22" stroke-width="1.15"/>
<text transform="translate(500.1 826) scale(1.28 1)" font-size="5.9" text-anchor="start" fill="#262626" stroke="#262626" stroke-width="0.25">FWOA</text>
<path d="M469.5 831.7H497.9" stroke="#ff22ff" stroke-width="1.15"/>
<text transform="translate(500.1 833.8) scale(1.28 1)" font-size="5.9" text-anchor="start" fill="#262626" stroke="#262626" stroke-width="0.25">WOA</text>
<path d="M469.5 839.5H497.9" stroke="#22eeff" stroke-width="1.15"/>
<text transform="translate(500.1 841.6) scale(1.28 1)" font-size="5.9" text-anchor="start" fill="#262626" stroke="#262626" stroke-width="0.25">PSO</text>
<path d="M469.5 847.3H497.9" stroke="#2222ff" stroke-width="1.15"/>
<text transform="translate(500.1 849.4) scale(1.28 1)" font-size="5.9" text-anchor="start" fill="#262626" stroke="#262626" stroke-width="0.25">SSA</text>
<path d="M469.5 855.1H497.9" stroke="#c06060" stroke-width="1.6"/>
<text transform="translate(500.1 857.2) scale(1.28 1)" font-size="5.9" text-anchor="start" fill="#262626" stroke="#262626" stroke-width="0.25">STOA</text></g>
</svg></body></html>
